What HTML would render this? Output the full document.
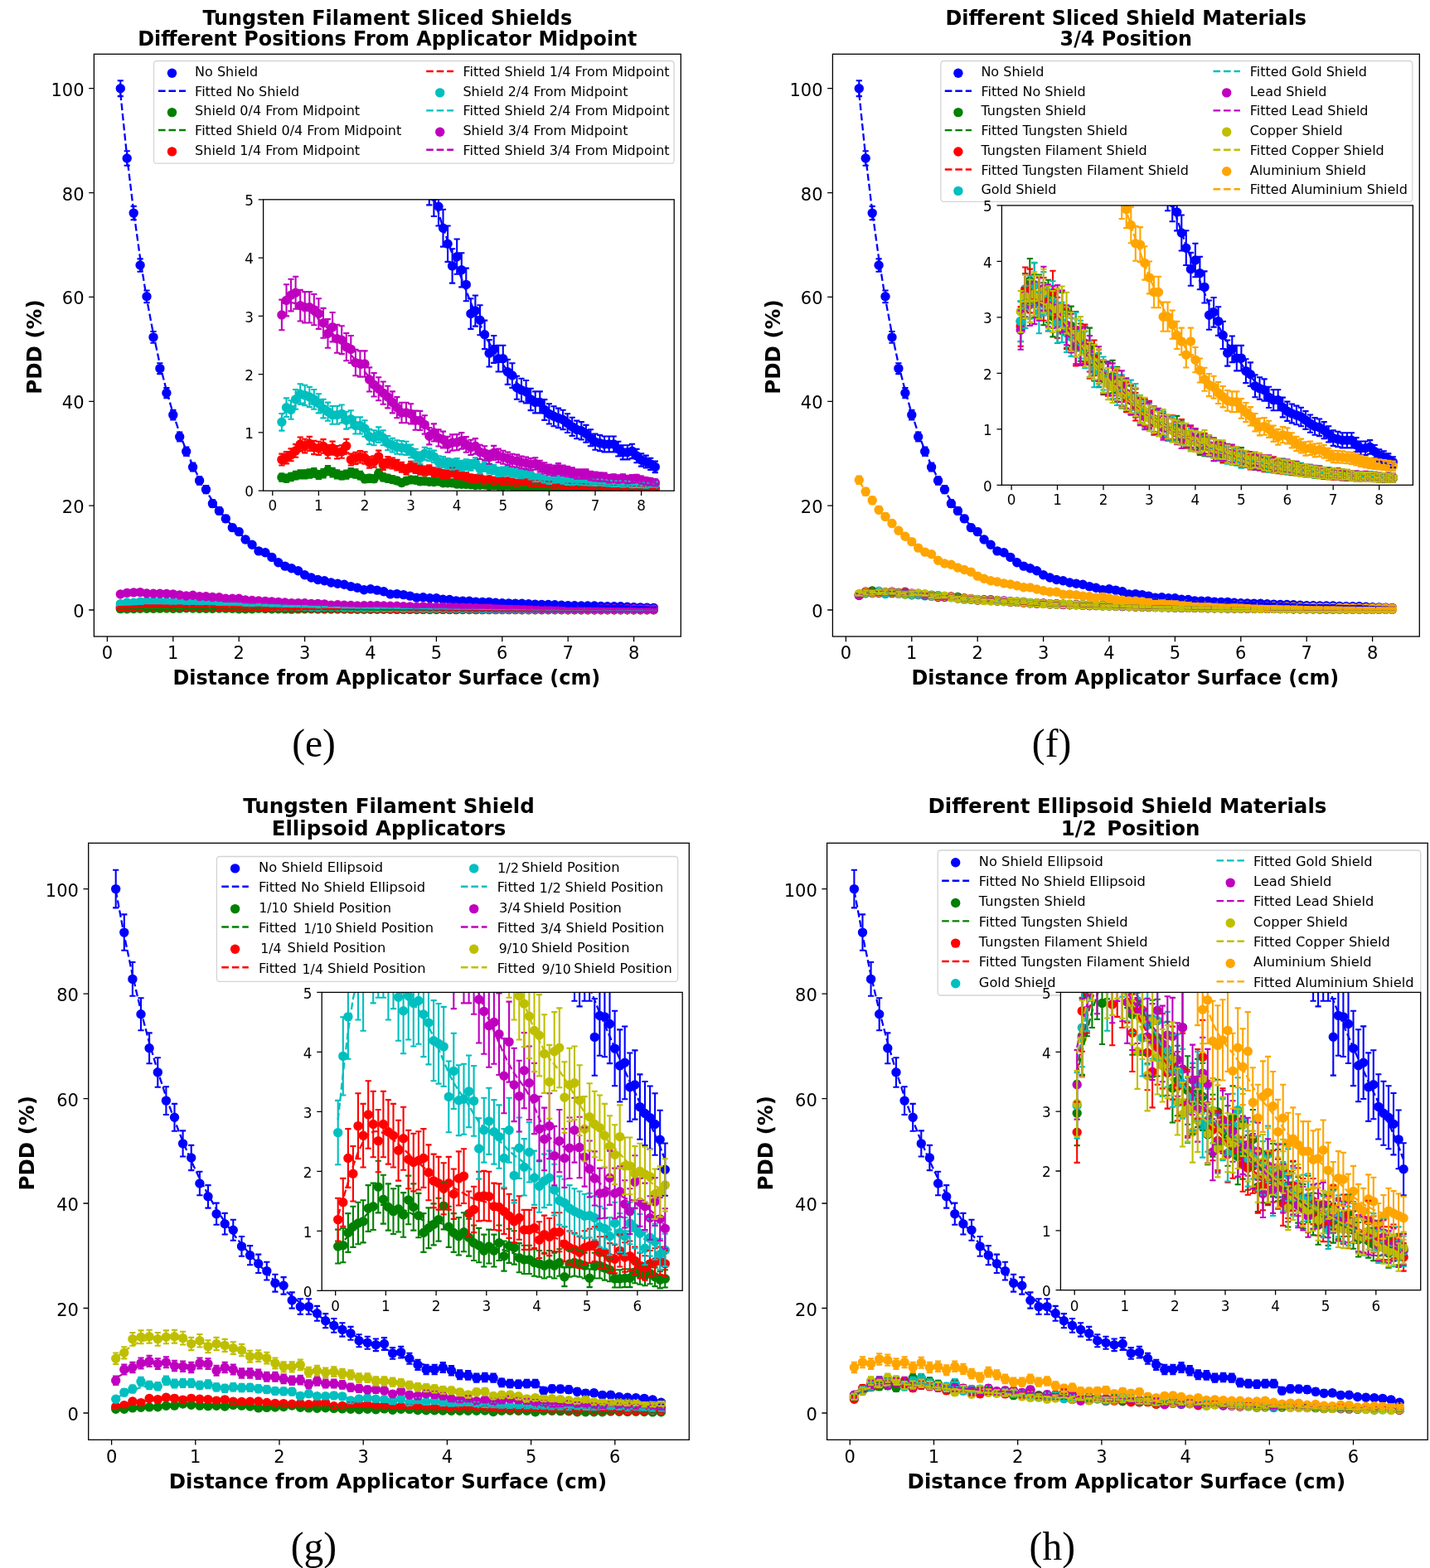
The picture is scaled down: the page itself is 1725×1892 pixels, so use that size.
<!DOCTYPE html>
<html><head><meta charset="utf-8"><title>PDD plots</title>
<style>html,body{margin:0;padding:0;background:#fff;}svg{display:block;}</style>
</head><body><svg width="1725" height="1892" viewBox="0 0 1725 1892"><defs><clipPath id="c1"><rect x="113.40" y="65.30" width="707.90" height="702.70"/></clipPath><clipPath id="c2"><rect x="317.60" y="240.80" width="495.60" height="351.40"/></clipPath><clipPath id="c3"><rect x="1004.40" y="65.30" width="707.90" height="702.70"/></clipPath><clipPath id="c4"><rect x="1208.40" y="247.90" width="496.00" height="337.40"/></clipPath><clipPath id="c5"><rect x="106.70" y="1017.30" width="724.60" height="720.00"/></clipPath><clipPath id="c6"><rect x="388.20" y="1197.40" width="435.00" height="359.90"/></clipPath><clipPath id="c7"><rect x="997.60" y="1017.30" width="724.60" height="720.00"/></clipPath><clipPath id="c8"><rect x="1279.40" y="1197.40" width="434.30" height="359.30"/></clipPath></defs><rect width="1725" height="1892" fill="#fff"/><rect x="113.40" y="65.30" width="707.90" height="702.70" fill="#fff"/><g clip-path="url(#c1)"><path d="M145.3 106.7h0M153.2 191.0h0M161.2 257.1h0M169.1 320.0h0M177.0 357.8h0M185.0 406.9h0M192.9 444.6h0M200.9 474.2h0M208.8 500.6h0M216.7 527.1h0M224.7 544.7h0M232.6 563.6h0M240.6 579.9h0M248.5 590.6h0M256.4 607.6h0M264.4 616.4h0M272.3 625.9h0M280.3 636.6h0M288.2 641.6h0M296.1 651.0h0M304.1 657.3h0M312.0 664.9h0M320.0 666.8h0M327.9 672.4h0M335.8 678.7h0M343.8 683.1h0M351.7 685.7h0M359.7 688.8h0M367.6 693.8h0M375.5 697.0h0M383.5 699.5h0M391.4 700.8h0M399.4 703.0h0M407.3 704.2h0M415.2 705.3h0M423.2 707.6h0M431.1 709.3h0M439.1 711.7h0M447.0 710.7h0M454.9 712.1h0M462.9 713.7h0M470.8 716.9h0M478.8 716.6h0M486.7 717.6h0M494.6 719.1h0M502.6 721.1h0M510.5 720.7h0M518.5 721.7h0M526.4 721.7h0M534.3 723.2h0M542.3 723.5h0M550.2 724.9h0M558.2 725.1h0M566.1 725.3h0M574.0 726.1h0M582.0 726.4h0M589.9 726.4h0M597.9 727.3h0M605.8 727.7h0M613.7 727.9h0M621.7 728.1h0M629.6 728.3h0M637.6 728.7h0M645.5 729.1h0M653.4 729.4h0M661.4 729.5h0M669.3 729.8h0M677.3 730.3h0M685.2 730.7h0M693.1 730.8h0M701.1 731.0h0M709.0 731.0h0M717.0 731.0h0M724.9 731.5h0M732.8 731.8h0M740.8 731.8h0M748.7 731.7h0M756.7 732.2h0M764.6 732.7h0M772.5 732.9h0M780.5 733.1h0M788.4 733.4h0" stroke="#0000ff" stroke-width="11.4" stroke-linecap="round"/><path d="M145.3 734.6h0M153.2 734.7h0M161.2 734.5h0M169.1 734.3h0M177.0 734.2h0M185.0 734.2h0M192.9 734.1h0M200.9 734.0h0M208.8 734.3h0M216.7 734.1h0M224.7 733.8h0M232.6 734.0h0M240.6 734.2h0M248.5 734.3h0M256.4 734.2h0M264.4 734.0h0M272.3 734.1h0M280.3 734.3h0M288.2 734.7h0M296.1 734.7h0M304.1 734.7h0M312.0 734.1h0M320.0 734.5h0M327.9 734.7h0M335.8 734.8h0M343.8 734.9h0M351.7 735.1h0M359.7 734.9h0M367.6 734.8h0M375.5 734.8h0M383.5 735.0h0M391.4 735.0h0M399.4 735.0h0M407.3 735.0h0M415.2 735.0h0M423.2 735.1h0M431.1 735.2h0M439.1 735.2h0M447.0 735.3h0M454.9 735.3h0M462.9 735.3h0M470.8 735.3h0M478.8 735.4h0M486.7 735.4h0M494.6 735.4h0M502.6 735.5h0M510.5 735.4h0M518.5 735.5h0M526.4 735.5h0M534.3 735.4h0M542.3 735.5h0M550.2 735.6h0M558.2 735.5h0M566.1 735.5h0M574.0 735.6h0M582.0 735.6h0M589.9 735.6h0M597.9 735.6h0M605.8 735.6h0M613.7 735.6h0M621.7 735.6h0M629.6 735.7h0M637.6 735.7h0M645.5 735.7h0M653.4 735.7h0M661.4 735.7h0M669.3 735.7h0M677.3 735.7h0M685.2 735.7h0M693.1 735.7h0M701.1 735.7h0M709.0 735.8h0M717.0 735.7h0M724.9 735.7h0M732.8 735.7h0M740.8 735.7h0M748.7 735.8h0M756.7 735.8h0M764.6 735.8h0M772.5 735.7h0M780.5 735.8h0M788.4 735.8h0" stroke="#008000" stroke-width="11.4" stroke-linecap="round"/><path d="M145.3 732.6h0M153.2 732.4h0M161.2 732.1h0M169.1 731.7h0M177.0 731.0h0M185.0 731.2h0M192.9 730.9h0M200.9 731.3h0M208.8 731.4h0M216.7 731.2h0M224.7 731.8h0M232.6 731.4h0M240.6 731.8h0M248.5 731.8h0M256.4 731.2h0M264.4 732.6h0M272.3 732.5h0M280.3 732.3h0M288.2 732.4h0M296.1 732.9h0M304.1 732.8h0M312.0 732.3h0M320.0 733.2h0M327.9 732.9h0M335.8 733.0h0M343.8 733.2h0M351.7 733.5h0M359.7 733.7h0M367.6 733.4h0M375.5 733.6h0M383.5 733.7h0M391.4 733.8h0M399.4 733.7h0M407.3 734.0h0M415.2 733.9h0M423.2 734.2h0M431.1 734.2h0M439.1 734.0h0M447.0 734.3h0M454.9 734.3h0M462.9 734.4h0M470.8 734.6h0M478.8 734.7h0M486.7 734.6h0M494.6 734.8h0M502.6 734.8h0M510.5 734.9h0M518.5 734.8h0M526.4 735.0h0M534.3 735.0h0M542.3 735.1h0M550.2 735.2h0M558.2 735.0h0M566.1 735.0h0M574.0 735.2h0M582.0 735.2h0M589.9 735.2h0M597.9 735.3h0M605.8 735.3h0M613.7 735.4h0M621.7 735.4h0M629.6 735.5h0M637.6 735.5h0M645.5 735.5h0M653.4 735.5h0M661.4 735.5h0M669.3 735.5h0M677.3 735.6h0M685.2 735.7h0M693.1 735.6h0M701.1 735.7h0M709.0 735.7h0M717.0 735.7h0M724.9 735.7h0M732.8 735.7h0M740.8 735.7h0M748.7 735.7h0M756.7 735.7h0M764.6 735.7h0M772.5 735.7h0M780.5 735.8h0M788.4 735.8h0" stroke="#ff0000" stroke-width="11.4" stroke-linecap="round"/><path d="M145.3 728.6h0M153.2 727.0h0M161.2 727.3h0M169.1 726.1h0M177.0 725.6h0M185.0 725.7h0M192.9 725.9h0M200.9 726.1h0M208.8 726.6h0M216.7 727.1h0M224.7 727.4h0M232.6 727.8h0M240.6 727.8h0M248.5 727.7h0M256.4 728.4h0M264.4 728.3h0M272.3 729.0h0M280.3 729.0h0M288.2 729.3h0M296.1 730.1h0M304.1 730.3h0M312.0 730.0h0M320.0 730.3h0M327.9 730.8h0M335.8 731.1h0M343.8 731.3h0M351.7 731.3h0M359.7 731.4h0M367.6 731.7h0M375.5 732.1h0M383.5 732.5h0M391.4 732.0h0M399.4 732.1h0M407.3 732.3h0M415.2 732.9h0M423.2 732.9h0M431.1 733.1h0M439.1 733.2h0M447.0 733.1h0M454.9 733.3h0M462.9 733.2h0M470.8 733.2h0M478.8 733.0h0M486.7 733.6h0M494.6 733.4h0M502.6 733.6h0M510.5 733.7h0M518.5 734.0h0M526.4 733.9h0M534.3 733.8h0M542.3 734.0h0M550.2 734.1h0M558.2 734.2h0M566.1 734.1h0M574.0 734.3h0M582.0 734.6h0M589.9 734.6h0M597.9 734.8h0M605.8 734.9h0M613.7 734.8h0M621.7 734.7h0M629.6 734.9h0M637.6 735.0h0M645.5 735.0h0M653.4 735.0h0M661.4 735.0h0M669.3 735.1h0M677.3 735.1h0M685.2 735.1h0M693.1 735.1h0M701.1 735.1h0M709.0 735.2h0M717.0 735.3h0M724.9 735.2h0M732.8 735.3h0M740.8 735.3h0M748.7 735.4h0M756.7 735.4h0M764.6 735.4h0M772.5 735.4h0M780.5 735.3h0M788.4 735.3h0" stroke="#00bfbf" stroke-width="11.4" stroke-linecap="round"/><path d="M145.3 717.0h0M153.2 715.4h0M161.2 714.9h0M169.1 714.6h0M177.0 716.0h0M185.0 716.2h0M192.9 716.2h0M200.9 716.4h0M208.8 716.9h0M216.7 717.9h0M224.7 719.0h0M232.6 718.3h0M240.6 719.6h0M248.5 719.7h0M256.4 720.5h0M264.4 720.7h0M272.3 722.2h0M280.3 722.3h0M288.2 722.3h0M296.1 724.0h0M304.1 724.5h0M312.0 725.0h0M320.0 725.4h0M327.9 725.9h0M335.8 726.4h0M343.8 727.0h0M351.7 727.6h0M359.7 727.6h0M367.6 727.7h0M375.5 728.4h0M383.5 728.4h0M391.4 728.9h0M399.4 730.1h0M407.3 729.7h0M415.2 730.3h0M423.2 730.5h0M431.1 731.0h0M439.1 730.8h0M447.0 730.8h0M454.9 730.6h0M462.9 731.0h0M470.8 731.3h0M478.8 731.2h0M486.7 731.8h0M494.6 731.9h0M502.6 732.4h0M510.5 731.9h0M518.5 732.2h0M526.4 732.4h0M534.3 732.5h0M542.3 732.7h0M550.2 732.8h0M558.2 732.9h0M566.1 733.0h0M574.0 733.1h0M582.0 733.1h0M589.9 733.3h0M597.9 733.6h0M605.8 733.7h0M613.7 733.8h0M621.7 733.6h0M629.6 733.8h0M637.6 733.9h0M645.5 734.0h0M653.4 734.2h0M661.4 734.2h0M669.3 734.2h0M677.3 734.4h0M685.2 734.4h0M693.1 734.5h0M701.1 734.5h0M709.0 734.7h0M717.0 734.6h0M724.9 734.7h0M732.8 734.6h0M740.8 734.8h0M748.7 734.7h0M756.7 734.7h0M764.6 734.8h0M772.5 735.0h0M780.5 735.0h0M788.4 735.1h0" stroke="#bf00bf" stroke-width="11.4" stroke-linecap="round"/><path d="M141.7 116.1h7.2m-3.6 0V97.3m-3.6 0h7.2M149.6 199.8h7.2m-3.6 0V182.2m-3.6 0h7.2M157.6 265.3h7.2m-3.6 0V248.9m-3.6 0h7.2M165.5 327.7h7.2m-3.6 0V312.4m-3.6 0h7.2M173.4 365.1h7.2m-3.6 0V350.5m-3.6 0h7.2M181.4 413.7h7.2m-3.6 0V400.0m-3.6 0h7.2M189.3 451.1h7.2m-3.6 0V438.2m-3.6 0h7.2M197.3 480.3h7.2m-3.6 0V468.1m-3.6 0h7.2M205.2 506.4h7.2m-3.6 0V494.9m-3.6 0h7.2M213.1 532.5h7.2m-3.6 0V521.6m-3.6 0h7.2M221.1 549.9h7.2m-3.6 0V539.5m-3.6 0h7.2M229.0 568.5h7.2m-3.6 0V558.6m-3.6 0h7.2M237.0 584.6h7.2m-3.6 0V575.2m-3.6 0h7.2M244.9 595.2h7.2m-3.6 0V586.1m-3.6 0h7.2M252.8 611.9h7.2m-3.6 0V603.4m-3.6 0h7.2M260.8 620.5h7.2m-3.6 0V612.3m-3.6 0h7.2M268.7 629.8h7.2m-3.6 0V621.9m-3.6 0h7.2M276.7 640.3h7.2m-3.6 0V632.8m-3.6 0h7.2M284.6 645.3h7.2m-3.6 0V637.9m-3.6 0h7.2M292.5 654.5h7.2m-3.6 0V647.6m-3.6 0h7.2M300.5 660.7h7.2m-3.6 0V654.0m-3.6 0h7.2M308.4 668.1h7.2m-3.6 0V661.7m-3.6 0h7.2M316.4 669.9h7.2m-3.6 0V663.6m-3.6 0h7.2M324.3 675.4h7.2m-3.6 0V669.4m-3.6 0h7.2M332.2 681.6h7.2m-3.6 0V675.9m-3.6 0h7.2M340.2 685.9h7.2m-3.6 0V680.4m-3.6 0h7.2M348.1 688.3h7.2m-3.6 0V683.0m-3.6 0h7.2M356.1 691.4h7.2m-3.6 0V686.2m-3.6 0h7.2M364.0 696.3h7.2m-3.6 0V691.4m-3.6 0h7.2M371.9 699.3h7.2m-3.6 0V694.6m-3.6 0h7.2M379.9 701.8h7.2m-3.6 0V697.2m-3.6 0h7.2M387.8 703.0h7.2m-3.6 0V698.5m-3.6 0h7.2M395.8 705.1h7.2m-3.6 0V700.8m-3.6 0h7.2M403.7 706.3h7.2m-3.6 0V702.1m-3.6 0h7.2M411.6 707.4h7.2m-3.6 0V703.2m-3.6 0h7.2M419.6 709.6h7.2m-3.6 0V705.6m-3.6 0h7.2M427.5 711.3h7.2m-3.6 0V707.4m-3.6 0h7.2M435.5 713.6h7.2m-3.6 0V709.9m-3.6 0h7.2M443.4 712.6h7.2m-3.6 0V708.8m-3.6 0h7.2M451.3 714.0h7.2m-3.6 0V710.3m-3.6 0h7.2M459.3 715.5h7.2m-3.6 0V711.9m-3.6 0h7.2M467.2 718.5h7.2m-3.6 0V715.2m-3.6 0h7.2M475.2 718.2h7.2m-3.6 0V714.9m-3.6 0h7.2M483.1 719.2h7.2m-3.6 0V715.9m-3.6 0h7.2M491.0 720.7h7.2m-3.6 0V717.6m-3.6 0h7.2M499.0 722.6h7.2m-3.6 0V719.7m-3.6 0h7.2M506.9 722.2h7.2m-3.6 0V719.2m-3.6 0h7.2M514.9 723.1h7.2m-3.6 0V720.3m-3.6 0h7.2M522.8 723.1h7.2m-3.6 0V720.3m-3.6 0h7.2M530.7 724.5h7.2m-3.6 0V721.8m-3.6 0h7.2M538.7 724.9h7.2m-3.6 0V722.2m-3.6 0h7.2M546.6 726.1h7.2m-3.6 0V723.6m-3.6 0h7.2M554.6 726.4h7.2m-3.6 0V723.9m-3.6 0h7.2M562.5 726.5h7.2m-3.6 0V724.1m-3.6 0h7.2M570.4 727.3h7.2m-3.6 0V724.9m-3.6 0h7.2M578.4 727.6h7.2m-3.6 0V725.3m-3.6 0h7.2M586.3 727.6h7.2m-3.6 0V725.3m-3.6 0h7.2M594.3 728.4h7.2m-3.6 0V726.1m-3.6 0h7.2M602.2 728.8h7.2m-3.6 0V726.6m-3.6 0h7.2M610.1 729.0h7.2m-3.6 0V726.9m-3.6 0h7.2M618.1 729.2h7.2m-3.6 0V727.1m-3.6 0h7.2M626.0 729.4h7.2m-3.6 0V727.3m-3.6 0h7.2M634.0 729.7h7.2m-3.6 0V727.7m-3.6 0h7.2M641.9 730.1h7.2m-3.6 0V728.1m-3.6 0h7.2M649.8 730.4h7.2m-3.6 0V728.4m-3.6 0h7.2M657.8 730.5h7.2m-3.6 0V728.6m-3.6 0h7.2M665.7 730.8h7.2m-3.6 0V728.9m-3.6 0h7.2M673.7 731.2h7.2m-3.6 0V729.4m-3.6 0h7.2M681.6 731.6h7.2m-3.6 0V729.8m-3.6 0h7.2M689.5 731.7h7.2m-3.6 0V730.0m-3.6 0h7.2M697.5 731.8h7.2m-3.6 0V730.1m-3.6 0h7.2M705.4 731.8h7.2m-3.6 0V730.1m-3.6 0h7.2M713.4 731.8h7.2m-3.6 0V730.1m-3.6 0h7.2M721.3 732.3h7.2m-3.6 0V730.7m-3.6 0h7.2M729.2 732.6h7.2m-3.6 0V731.1m-3.6 0h7.2M737.2 732.6h7.2m-3.6 0V731.1m-3.6 0h7.2M745.1 732.5h7.2m-3.6 0V730.9m-3.6 0h7.2M753.1 733.0h7.2m-3.6 0V731.5m-3.6 0h7.2M761.0 733.4h7.2m-3.6 0V732.0m-3.6 0h7.2M768.9 733.5h7.2m-3.6 0V732.2m-3.6 0h7.2M776.9 733.7h7.2m-3.6 0V732.5m-3.6 0h7.2M784.8 734.0h7.2m-3.6 0V732.8m-3.6 0h7.2" stroke="#0000ff" stroke-width="2.1" fill="none"/><polyline points="145.3,112.6 153.2,189.1 161.2,254.9 169.1,311.6 177.0,360.6 185.0,403.0 192.9,439.7 200.9,471.4 208.8,499.0 216.7,522.8 224.7,543.6 232.6,561.8 240.6,577.9 248.5,592.0 256.4,604.6 264.4,615.8 272.3,625.8 280.3,634.8 288.2,642.9 296.1,650.2 304.1,656.8 312.0,662.8 320.0,668.3 327.9,673.3 335.8,677.9 343.8,682.2 351.7,686.1 359.7,689.7 367.6,693.0 375.5,695.9 383.5,698.4 391.4,700.6 399.4,702.5 407.3,704.3 415.2,706.0 423.2,707.6 431.1,709.0 439.1,710.4 447.0,711.8 454.9,713.1 462.9,714.4 470.8,715.7 478.8,716.9 486.7,718.0 494.6,719.1 502.6,720.0 510.5,720.9 518.5,721.6 526.4,722.4 534.3,723.1 542.3,723.7 550.2,724.4 558.2,724.9 566.1,725.5 574.0,725.9 582.0,726.4 589.9,726.8 597.9,727.1 605.8,727.5 613.7,727.8 621.7,728.2 629.6,728.5 637.6,728.8 645.5,729.1 653.4,729.4 661.4,729.7 669.3,730.0 677.3,730.2 685.2,730.5 693.1,730.7 701.1,730.9 709.0,731.1 717.0,731.3 724.9,731.5 732.8,731.7 740.8,731.9 748.7,732.1 756.7,732.4 764.6,732.6 772.5,732.9 780.5,733.1 788.4,733.4" stroke="#0000ff" stroke-width="2.3" fill="none" stroke-dasharray="8.5 3.7"/><path d="M141.7 735.0h7.2m-3.6 0V734.1m-3.6 0h7.2M149.6 735.0h7.2m-3.6 0V734.3m-3.6 0h7.2M157.6 734.9h7.2m-3.6 0V734.1m-3.6 0h7.2M165.5 734.8h7.2m-3.6 0V733.9m-3.6 0h7.2M173.4 734.7h7.2m-3.6 0V733.8m-3.6 0h7.2M181.4 734.7h7.2m-3.6 0V733.8m-3.6 0h7.2M189.3 734.6h7.2m-3.6 0V733.7m-3.6 0h7.2M197.3 734.5h7.2m-3.6 0V733.6m-3.6 0h7.2M205.2 734.7h7.2m-3.6 0V733.8m-3.6 0h7.2M213.1 734.6h7.2m-3.6 0V733.7m-3.6 0h7.2M221.1 734.3h7.2m-3.6 0V733.3m-3.6 0h7.2M229.0 734.5h7.2m-3.6 0V733.5m-3.6 0h7.2M237.0 734.7h7.2m-3.6 0V733.8m-3.6 0h7.2M244.9 734.8h7.2m-3.6 0V733.9m-3.6 0h7.2M252.8 734.7h7.2m-3.6 0V733.8m-3.6 0h7.2M260.8 734.5h7.2m-3.6 0V733.6m-3.6 0h7.2M268.7 734.6h7.2m-3.6 0V733.7m-3.6 0h7.2M276.7 734.8h7.2m-3.6 0V733.9m-3.6 0h7.2M284.6 735.1h7.2m-3.6 0V734.3m-3.6 0h7.2M292.5 735.1h7.2m-3.6 0V734.3m-3.6 0h7.2M300.5 735.1h7.2m-3.6 0V734.3m-3.6 0h7.2M308.4 734.6h7.2m-3.6 0V733.7m-3.6 0h7.2M316.4 734.9h7.2m-3.6 0V734.1m-3.6 0h7.2M324.3 735.0h7.2m-3.6 0V734.3m-3.6 0h7.2M332.2 735.2h7.2m-3.6 0V734.4m-3.6 0h7.2M340.2 735.3h7.2m-3.6 0V734.6m-3.6 0h7.2M348.1 735.4h7.2m-3.6 0V734.8m-3.6 0h7.2M356.1 735.3h7.2m-3.6 0V734.6m-3.6 0h7.2M364.0 735.2h7.2m-3.6 0V734.4m-3.6 0h7.2M371.9 735.2h7.2m-3.6 0V734.5m-3.6 0h7.2M379.9 735.3h7.2m-3.6 0V734.6m-3.6 0h7.2M387.8 735.3h7.2m-3.6 0V734.6m-3.6 0h7.2M395.8 735.4h7.2m-3.6 0V734.7m-3.6 0h7.2M403.7 735.4h7.2m-3.6 0V734.7m-3.6 0h7.2M411.6 735.3h7.2m-3.6 0V734.6m-3.6 0h7.2M419.6 735.5h7.2m-3.6 0V734.8m-3.6 0h7.2M427.5 735.5h7.2m-3.6 0V734.8m-3.6 0h7.2M435.5 735.5h7.2m-3.6 0V734.8m-3.6 0h7.2M443.4 735.6h7.2m-3.6 0V735.0m-3.6 0h7.2M451.3 735.6h7.2m-3.6 0V735.0m-3.6 0h7.2M459.3 735.6h7.2m-3.6 0V735.0m-3.6 0h7.2M467.2 735.6h7.2m-3.6 0V735.1m-3.6 0h7.2M475.2 735.7h7.2m-3.6 0V735.1m-3.6 0h7.2M483.1 735.6h7.2m-3.6 0V735.1m-3.6 0h7.2M491.0 735.6h7.2m-3.6 0V735.1m-3.6 0h7.2M499.0 735.7h7.2m-3.6 0V735.2m-3.6 0h7.2M506.9 735.7h7.2m-3.6 0V735.2m-3.6 0h7.2M514.9 735.7h7.2m-3.6 0V735.2m-3.6 0h7.2M522.8 735.8h7.2m-3.6 0V735.3m-3.6 0h7.2M530.7 735.7h7.2m-3.6 0V735.2m-3.6 0h7.2M538.7 735.7h7.2m-3.6 0V735.3m-3.6 0h7.2M546.6 735.8h7.2m-3.6 0V735.3m-3.6 0h7.2M554.6 735.8h7.2m-3.6 0V735.3m-3.6 0h7.2M562.5 735.8h7.2m-3.6 0V735.3m-3.6 0h7.2M570.4 735.8h7.2m-3.6 0V735.4m-3.6 0h7.2M578.4 735.8h7.2m-3.6 0V735.3m-3.6 0h7.2M586.3 735.8h7.2m-3.6 0V735.4m-3.6 0h7.2M594.3 735.8h7.2m-3.6 0V735.4m-3.6 0h7.2M602.2 735.8h7.2m-3.6 0V735.4m-3.6 0h7.2M610.1 735.8h7.2m-3.6 0V735.4m-3.6 0h7.2M618.1 735.8h7.2m-3.6 0V735.4m-3.6 0h7.2M626.0 735.9h7.2m-3.6 0V735.5m-3.6 0h7.2M634.0 735.9h7.2m-3.6 0V735.5m-3.6 0h7.2M641.9 735.9h7.2m-3.6 0V735.5m-3.6 0h7.2M649.8 735.9h7.2m-3.6 0V735.5m-3.6 0h7.2M657.8 735.9h7.2m-3.6 0V735.5m-3.6 0h7.2M665.7 735.9h7.2m-3.6 0V735.5m-3.6 0h7.2M673.7 735.9h7.2m-3.6 0V735.5m-3.6 0h7.2M681.6 735.9h7.2m-3.6 0V735.5m-3.6 0h7.2M689.5 735.9h7.2m-3.6 0V735.5m-3.6 0h7.2M697.5 735.9h7.2m-3.6 0V735.5m-3.6 0h7.2M705.4 735.9h7.2m-3.6 0V735.6m-3.6 0h7.2M713.4 735.9h7.2m-3.6 0V735.6m-3.6 0h7.2M721.3 735.9h7.2m-3.6 0V735.6m-3.6 0h7.2M729.2 735.9h7.2m-3.6 0V735.5m-3.6 0h7.2M737.2 735.9h7.2m-3.6 0V735.6m-3.6 0h7.2M745.1 735.9h7.2m-3.6 0V735.6m-3.6 0h7.2M753.1 735.9h7.2m-3.6 0V735.6m-3.6 0h7.2M761.0 735.9h7.2m-3.6 0V735.6m-3.6 0h7.2M768.9 735.9h7.2m-3.6 0V735.6m-3.6 0h7.2M776.9 735.9h7.2m-3.6 0V735.6m-3.6 0h7.2M784.8 735.9h7.2m-3.6 0V735.6m-3.6 0h7.2" stroke="#008000" stroke-width="2.1" fill="none"/><polyline points="145.3,734.6 153.2,734.5 161.2,734.5 169.1,734.4 177.0,734.3 185.0,734.3 192.9,734.2 200.9,734.2 208.8,734.2 216.7,734.2 224.7,734.2 232.6,734.2 240.6,734.2 248.5,734.2 256.4,734.3 264.4,734.3 272.3,734.3 280.3,734.4 288.2,734.5 296.1,734.5 304.1,734.6 312.0,734.6 320.0,734.7 327.9,734.7 335.8,734.8 343.8,734.8 351.7,734.9 359.7,734.9 367.6,734.9 375.5,734.9 383.5,735.0 391.4,735.0 399.4,735.0 407.3,735.1 415.2,735.1 423.2,735.1 431.1,735.2 439.1,735.2 447.0,735.2 454.9,735.3 462.9,735.3 470.8,735.3 478.8,735.4 486.7,735.4 494.6,735.4 502.6,735.4 510.5,735.4 518.5,735.5 526.4,735.5 534.3,735.5 542.3,735.5 550.2,735.5 558.2,735.5 566.1,735.6 574.0,735.6 582.0,735.6 589.9,735.6 597.9,735.6 605.8,735.6 613.7,735.6 621.7,735.6 629.6,735.6 637.6,735.7 645.5,735.7 653.4,735.7 661.4,735.7 669.3,735.7 677.3,735.7 685.2,735.7 693.1,735.7 701.1,735.7 709.0,735.7 717.0,735.7 724.9,735.7 732.8,735.7 740.8,735.7 748.7,735.8 756.7,735.8 764.6,735.8 772.5,735.8 780.5,735.8 788.4,735.8" stroke="#008000" stroke-width="2.3" fill="none" stroke-dasharray="8.5 3.7"/><path d="M141.7 733.3h7.2m-3.6 0V732.0m-3.6 0h7.2M149.6 733.1h7.2m-3.6 0V731.8m-3.6 0h7.2M157.6 732.8h7.2m-3.6 0V731.5m-3.6 0h7.2M165.5 732.4h7.2m-3.6 0V731.0m-3.6 0h7.2M173.4 731.7h7.2m-3.6 0V730.2m-3.6 0h7.2M181.4 731.9h7.2m-3.6 0V730.4m-3.6 0h7.2M189.3 731.7h7.2m-3.6 0V730.2m-3.6 0h7.2M197.3 732.0h7.2m-3.6 0V730.6m-3.6 0h7.2M205.2 732.1h7.2m-3.6 0V730.7m-3.6 0h7.2M213.1 731.9h7.2m-3.6 0V730.4m-3.6 0h7.2M221.1 732.5h7.2m-3.6 0V731.1m-3.6 0h7.2M229.0 732.1h7.2m-3.6 0V730.7m-3.6 0h7.2M237.0 732.5h7.2m-3.6 0V731.2m-3.6 0h7.2M244.9 732.5h7.2m-3.6 0V731.1m-3.6 0h7.2M252.8 731.9h7.2m-3.6 0V730.4m-3.6 0h7.2M260.8 733.3h7.2m-3.6 0V732.0m-3.6 0h7.2M268.7 733.1h7.2m-3.6 0V731.8m-3.6 0h7.2M276.7 733.0h7.2m-3.6 0V731.7m-3.6 0h7.2M284.6 733.1h7.2m-3.6 0V731.8m-3.6 0h7.2M292.5 733.5h7.2m-3.6 0V732.3m-3.6 0h7.2M300.5 733.4h7.2m-3.6 0V732.2m-3.6 0h7.2M308.4 732.9h7.2m-3.6 0V731.6m-3.6 0h7.2M316.4 733.7h7.2m-3.6 0V732.6m-3.6 0h7.2M324.3 733.5h7.2m-3.6 0V732.3m-3.6 0h7.2M332.2 733.6h7.2m-3.6 0V732.4m-3.6 0h7.2M340.2 733.8h7.2m-3.6 0V732.7m-3.6 0h7.2M348.1 734.0h7.2m-3.6 0V732.9m-3.6 0h7.2M356.1 734.2h7.2m-3.6 0V733.2m-3.6 0h7.2M364.0 733.9h7.2m-3.6 0V732.8m-3.6 0h7.2M371.9 734.1h7.2m-3.6 0V733.1m-3.6 0h7.2M379.9 734.2h7.2m-3.6 0V733.2m-3.6 0h7.2M387.8 734.3h7.2m-3.6 0V733.3m-3.6 0h7.2M395.8 734.2h7.2m-3.6 0V733.2m-3.6 0h7.2M403.7 734.5h7.2m-3.6 0V733.5m-3.6 0h7.2M411.6 734.4h7.2m-3.6 0V733.5m-3.6 0h7.2M419.6 734.6h7.2m-3.6 0V733.7m-3.6 0h7.2M427.5 734.6h7.2m-3.6 0V733.7m-3.6 0h7.2M435.5 734.5h7.2m-3.6 0V733.5m-3.6 0h7.2M443.4 734.7h7.2m-3.6 0V733.8m-3.6 0h7.2M451.3 734.8h7.2m-3.6 0V733.9m-3.6 0h7.2M459.3 734.9h7.2m-3.6 0V734.0m-3.6 0h7.2M467.2 735.0h7.2m-3.6 0V734.2m-3.6 0h7.2M475.2 735.1h7.2m-3.6 0V734.3m-3.6 0h7.2M483.1 735.0h7.2m-3.6 0V734.2m-3.6 0h7.2M491.0 735.2h7.2m-3.6 0V734.5m-3.6 0h7.2M499.0 735.2h7.2m-3.6 0V734.4m-3.6 0h7.2M506.9 735.3h7.2m-3.6 0V734.6m-3.6 0h7.2M514.9 735.2h7.2m-3.6 0V734.5m-3.6 0h7.2M522.8 735.3h7.2m-3.6 0V734.6m-3.6 0h7.2M530.7 735.3h7.2m-3.6 0V734.6m-3.6 0h7.2M538.7 735.4h7.2m-3.6 0V734.7m-3.6 0h7.2M546.6 735.5h7.2m-3.6 0V734.9m-3.6 0h7.2M554.6 735.3h7.2m-3.6 0V734.7m-3.6 0h7.2M562.5 735.4h7.2m-3.6 0V734.7m-3.6 0h7.2M570.4 735.5h7.2m-3.6 0V734.9m-3.6 0h7.2M578.4 735.5h7.2m-3.6 0V734.9m-3.6 0h7.2M586.3 735.5h7.2m-3.6 0V735.0m-3.6 0h7.2M594.3 735.6h7.2m-3.6 0V735.0m-3.6 0h7.2M602.2 735.6h7.2m-3.6 0V735.0m-3.6 0h7.2M610.1 735.7h7.2m-3.6 0V735.2m-3.6 0h7.2M618.1 735.6h7.2m-3.6 0V735.1m-3.6 0h7.2M626.0 735.7h7.2m-3.6 0V735.3m-3.6 0h7.2M634.0 735.7h7.2m-3.6 0V735.2m-3.6 0h7.2M641.9 735.8h7.2m-3.6 0V735.3m-3.6 0h7.2M649.8 735.7h7.2m-3.6 0V735.3m-3.6 0h7.2M657.8 735.7h7.2m-3.6 0V735.3m-3.6 0h7.2M665.7 735.8h7.2m-3.6 0V735.3m-3.6 0h7.2M673.7 735.8h7.2m-3.6 0V735.4m-3.6 0h7.2M681.6 735.9h7.2m-3.6 0V735.5m-3.6 0h7.2M689.5 735.8h7.2m-3.6 0V735.4m-3.6 0h7.2M697.5 735.9h7.2m-3.6 0V735.5m-3.6 0h7.2M705.4 735.9h7.2m-3.6 0V735.5m-3.6 0h7.2M713.4 735.9h7.2m-3.6 0V735.5m-3.6 0h7.2M721.3 735.9h7.2m-3.6 0V735.5m-3.6 0h7.2M729.2 735.9h7.2m-3.6 0V735.6m-3.6 0h7.2M737.2 735.9h7.2m-3.6 0V735.5m-3.6 0h7.2M745.1 735.9h7.2m-3.6 0V735.5m-3.6 0h7.2M753.1 735.9h7.2m-3.6 0V735.5m-3.6 0h7.2M761.0 735.9h7.2m-3.6 0V735.6m-3.6 0h7.2M768.9 735.9h7.2m-3.6 0V735.6m-3.6 0h7.2M776.9 735.9h7.2m-3.6 0V735.6m-3.6 0h7.2M784.8 735.9h7.2m-3.6 0V735.6m-3.6 0h7.2" stroke="#ff0000" stroke-width="2.1" fill="none"/><polyline points="145.3,732.5 153.2,732.3 161.2,732.0 169.1,731.8 177.0,731.7 185.0,731.5 192.9,731.5 200.9,731.4 208.8,731.5 216.7,731.5 224.7,731.6 232.6,731.7 240.6,731.8 248.5,731.9 256.4,732.0 264.4,732.2 272.3,732.3 280.3,732.4 288.2,732.5 296.1,732.6 304.1,732.7 312.0,732.8 320.0,732.9 327.9,733.1 335.8,733.2 343.8,733.3 351.7,733.4 359.7,733.5 367.6,733.5 375.5,733.6 383.5,733.7 391.4,733.8 399.4,733.9 407.3,733.9 415.2,734.0 423.2,734.1 431.1,734.2 439.1,734.2 447.0,734.3 454.9,734.4 462.9,734.5 470.8,734.6 478.8,734.6 486.7,734.7 494.6,734.8 502.6,734.8 510.5,734.9 518.5,734.9 526.4,735.0 534.3,735.0 542.3,735.0 550.2,735.1 558.2,735.1 566.1,735.1 574.0,735.2 582.0,735.2 589.9,735.3 597.9,735.3 605.8,735.3 613.7,735.4 621.7,735.4 629.6,735.4 637.6,735.5 645.5,735.5 653.4,735.5 661.4,735.5 669.3,735.6 677.3,735.6 685.2,735.6 693.1,735.6 701.1,735.6 709.0,735.7 717.0,735.7 724.9,735.7 732.8,735.7 740.8,735.7 748.7,735.7 756.7,735.7 764.6,735.7 772.5,735.7 780.5,735.8 788.4,735.8" stroke="#ff0000" stroke-width="2.3" fill="none" stroke-dasharray="8.5 3.7"/><path d="M141.7 729.5h7.2m-3.6 0V727.7m-3.6 0h7.2M149.6 728.0h7.2m-3.6 0V726.0m-3.6 0h7.2M157.6 728.3h7.2m-3.6 0V726.3m-3.6 0h7.2M165.5 727.2h7.2m-3.6 0V725.1m-3.6 0h7.2M173.4 726.6h7.2m-3.6 0V724.5m-3.6 0h7.2M181.4 726.8h7.2m-3.6 0V724.6m-3.6 0h7.2M189.3 726.9h7.2m-3.6 0V724.8m-3.6 0h7.2M197.3 727.2h7.2m-3.6 0V725.1m-3.6 0h7.2M205.2 727.6h7.2m-3.6 0V725.5m-3.6 0h7.2M213.1 728.1h7.2m-3.6 0V726.1m-3.6 0h7.2M221.1 728.4h7.2m-3.6 0V726.5m-3.6 0h7.2M229.0 728.8h7.2m-3.6 0V726.9m-3.6 0h7.2M237.0 728.8h7.2m-3.6 0V726.9m-3.6 0h7.2M244.9 728.7h7.2m-3.6 0V726.7m-3.6 0h7.2M252.8 729.3h7.2m-3.6 0V727.5m-3.6 0h7.2M260.8 729.2h7.2m-3.6 0V727.3m-3.6 0h7.2M268.7 729.9h7.2m-3.6 0V728.1m-3.6 0h7.2M276.7 729.9h7.2m-3.6 0V728.1m-3.6 0h7.2M284.6 730.1h7.2m-3.6 0V728.4m-3.6 0h7.2M292.5 731.0h7.2m-3.6 0V729.3m-3.6 0h7.2M300.5 731.1h7.2m-3.6 0V729.5m-3.6 0h7.2M308.4 730.8h7.2m-3.6 0V729.1m-3.6 0h7.2M316.4 731.1h7.2m-3.6 0V729.5m-3.6 0h7.2M324.3 731.6h7.2m-3.6 0V730.1m-3.6 0h7.2M332.2 731.8h7.2m-3.6 0V730.3m-3.6 0h7.2M340.2 732.0h7.2m-3.6 0V730.5m-3.6 0h7.2M348.1 732.1h7.2m-3.6 0V730.6m-3.6 0h7.2M356.1 732.1h7.2m-3.6 0V730.7m-3.6 0h7.2M364.0 732.4h7.2m-3.6 0V731.0m-3.6 0h7.2M371.9 732.8h7.2m-3.6 0V731.5m-3.6 0h7.2M379.9 733.1h7.2m-3.6 0V731.8m-3.6 0h7.2M387.8 732.7h7.2m-3.6 0V731.3m-3.6 0h7.2M395.8 732.8h7.2m-3.6 0V731.4m-3.6 0h7.2M403.7 733.0h7.2m-3.6 0V731.7m-3.6 0h7.2M411.6 733.5h7.2m-3.6 0V732.3m-3.6 0h7.2M419.6 733.5h7.2m-3.6 0V732.3m-3.6 0h7.2M427.5 733.7h7.2m-3.6 0V732.5m-3.6 0h7.2M435.5 733.7h7.2m-3.6 0V732.6m-3.6 0h7.2M443.4 733.7h7.2m-3.6 0V732.5m-3.6 0h7.2M451.3 733.9h7.2m-3.6 0V732.7m-3.6 0h7.2M459.3 733.7h7.2m-3.6 0V732.6m-3.6 0h7.2M467.2 733.8h7.2m-3.6 0V732.7m-3.6 0h7.2M475.2 733.6h7.2m-3.6 0V732.4m-3.6 0h7.2M483.1 734.1h7.2m-3.6 0V733.1m-3.6 0h7.2M491.0 733.9h7.2m-3.6 0V732.8m-3.6 0h7.2M499.0 734.1h7.2m-3.6 0V733.1m-3.6 0h7.2M506.9 734.2h7.2m-3.6 0V733.2m-3.6 0h7.2M514.9 734.4h7.2m-3.6 0V733.5m-3.6 0h7.2M522.8 734.4h7.2m-3.6 0V733.4m-3.6 0h7.2M530.7 734.3h7.2m-3.6 0V733.4m-3.6 0h7.2M538.7 734.5h7.2m-3.6 0V733.6m-3.6 0h7.2M546.6 734.6h7.2m-3.6 0V733.6m-3.6 0h7.2M554.6 734.7h7.2m-3.6 0V733.7m-3.6 0h7.2M562.5 734.6h7.2m-3.6 0V733.6m-3.6 0h7.2M570.4 734.8h7.2m-3.6 0V733.9m-3.6 0h7.2M578.4 735.0h7.2m-3.6 0V734.2m-3.6 0h7.2M586.3 735.0h7.2m-3.6 0V734.2m-3.6 0h7.2M594.3 735.1h7.2m-3.6 0V734.4m-3.6 0h7.2M602.2 735.3h7.2m-3.6 0V734.6m-3.6 0h7.2M610.1 735.2h7.2m-3.6 0V734.4m-3.6 0h7.2M618.1 735.1h7.2m-3.6 0V734.3m-3.6 0h7.2M626.0 735.2h7.2m-3.6 0V734.5m-3.6 0h7.2M634.0 735.3h7.2m-3.6 0V734.7m-3.6 0h7.2M641.9 735.4h7.2m-3.6 0V734.7m-3.6 0h7.2M649.8 735.3h7.2m-3.6 0V734.6m-3.6 0h7.2M657.8 735.4h7.2m-3.6 0V734.7m-3.6 0h7.2M665.7 735.4h7.2m-3.6 0V734.7m-3.6 0h7.2M673.7 735.4h7.2m-3.6 0V734.8m-3.6 0h7.2M681.6 735.4h7.2m-3.6 0V734.8m-3.6 0h7.2M689.5 735.4h7.2m-3.6 0V734.8m-3.6 0h7.2M697.5 735.5h7.2m-3.6 0V734.8m-3.6 0h7.2M705.4 735.5h7.2m-3.6 0V734.9m-3.6 0h7.2M713.4 735.6h7.2m-3.6 0V735.0m-3.6 0h7.2M721.3 735.5h7.2m-3.6 0V734.9m-3.6 0h7.2M729.2 735.6h7.2m-3.6 0V735.0m-3.6 0h7.2M737.2 735.5h7.2m-3.6 0V735.0m-3.6 0h7.2M745.1 735.6h7.2m-3.6 0V735.1m-3.6 0h7.2M753.1 735.6h7.2m-3.6 0V735.1m-3.6 0h7.2M761.0 735.6h7.2m-3.6 0V735.1m-3.6 0h7.2M768.9 735.7h7.2m-3.6 0V735.2m-3.6 0h7.2M776.9 735.6h7.2m-3.6 0V735.0m-3.6 0h7.2M784.8 735.6h7.2m-3.6 0V735.0m-3.6 0h7.2" stroke="#00bfbf" stroke-width="2.1" fill="none"/><polyline points="145.3,727.8 153.2,727.4 161.2,727.0 169.1,726.7 177.0,726.6 185.0,726.5 192.9,726.6 200.9,726.7 208.8,726.9 216.7,727.1 224.7,727.3 232.6,727.6 240.6,727.8 248.5,728.1 256.4,728.4 264.4,728.6 272.3,728.9 280.3,729.2 288.2,729.5 296.1,729.7 304.1,730.0 312.0,730.3 320.0,730.5 327.9,730.7 335.8,731.0 343.8,731.2 351.7,731.4 359.7,731.6 367.6,731.8 375.5,731.9 383.5,732.1 391.4,732.2 399.4,732.4 407.3,732.5 415.2,732.7 423.2,732.8 431.1,732.9 439.1,733.0 447.0,733.1 454.9,733.2 462.9,733.2 470.8,733.3 478.8,733.4 486.7,733.5 494.6,733.5 502.6,733.6 510.5,733.7 518.5,733.8 526.4,733.9 534.3,734.0 542.3,734.1 550.2,734.1 558.2,734.2 566.1,734.3 574.0,734.4 582.0,734.5 589.9,734.6 597.9,734.7 605.8,734.7 613.7,734.8 621.7,734.8 629.6,734.9 637.6,734.9 645.5,735.0 653.4,735.0 661.4,735.0 669.3,735.1 677.3,735.1 685.2,735.1 693.1,735.1 701.1,735.2 709.0,735.2 717.0,735.2 724.9,735.3 732.8,735.3 740.8,735.3 748.7,735.3 756.7,735.3 764.6,735.3 772.5,735.4 780.5,735.4 788.4,735.3" stroke="#00bfbf" stroke-width="2.3" fill="none" stroke-dasharray="8.5 3.7"/><path d="M141.7 718.6h7.2m-3.6 0V715.4m-3.6 0h7.2M149.6 717.1h7.2m-3.6 0V713.7m-3.6 0h7.2M157.6 716.6h7.2m-3.6 0V713.1m-3.6 0h7.2M165.5 716.3h7.2m-3.6 0V712.9m-3.6 0h7.2M173.4 717.7h7.2m-3.6 0V714.3m-3.6 0h7.2M181.4 717.9h7.2m-3.6 0V714.5m-3.6 0h7.2M189.3 717.9h7.2m-3.6 0V714.5m-3.6 0h7.2M197.3 718.1h7.2m-3.6 0V714.8m-3.6 0h7.2M205.2 718.5h7.2m-3.6 0V715.2m-3.6 0h7.2M213.1 719.5h7.2m-3.6 0V716.3m-3.6 0h7.2M221.1 720.6h7.2m-3.6 0V717.5m-3.6 0h7.2M229.0 719.9h7.2m-3.6 0V716.7m-3.6 0h7.2M237.0 721.1h7.2m-3.6 0V718.1m-3.6 0h7.2M244.9 721.2h7.2m-3.6 0V718.2m-3.6 0h7.2M252.8 721.9h7.2m-3.6 0V719.0m-3.6 0h7.2M260.8 722.2h7.2m-3.6 0V719.2m-3.6 0h7.2M268.7 723.6h7.2m-3.6 0V720.8m-3.6 0h7.2M276.7 723.7h7.2m-3.6 0V720.9m-3.6 0h7.2M284.6 723.7h7.2m-3.6 0V720.9m-3.6 0h7.2M292.5 725.3h7.2m-3.6 0V722.7m-3.6 0h7.2M300.5 725.8h7.2m-3.6 0V723.3m-3.6 0h7.2M308.4 726.2h7.2m-3.6 0V723.7m-3.6 0h7.2M316.4 726.7h7.2m-3.6 0V724.2m-3.6 0h7.2M324.3 727.1h7.2m-3.6 0V724.7m-3.6 0h7.2M332.2 727.6h7.2m-3.6 0V725.3m-3.6 0h7.2M340.2 728.1h7.2m-3.6 0V725.9m-3.6 0h7.2M348.1 728.7h7.2m-3.6 0V726.5m-3.6 0h7.2M356.1 728.7h7.2m-3.6 0V726.5m-3.6 0h7.2M364.0 728.8h7.2m-3.6 0V726.6m-3.6 0h7.2M371.9 729.4h7.2m-3.6 0V727.4m-3.6 0h7.2M379.9 729.4h7.2m-3.6 0V727.4m-3.6 0h7.2M387.8 729.9h7.2m-3.6 0V727.8m-3.6 0h7.2M395.8 731.0h7.2m-3.6 0V729.2m-3.6 0h7.2M403.7 730.7h7.2m-3.6 0V728.8m-3.6 0h7.2M411.6 731.2h7.2m-3.6 0V729.4m-3.6 0h7.2M419.6 731.4h7.2m-3.6 0V729.6m-3.6 0h7.2M427.5 731.8h7.2m-3.6 0V730.1m-3.6 0h7.2M435.5 731.6h7.2m-3.6 0V729.9m-3.6 0h7.2M443.4 731.6h7.2m-3.6 0V729.9m-3.6 0h7.2M451.3 731.5h7.2m-3.6 0V729.7m-3.6 0h7.2M459.3 731.8h7.2m-3.6 0V730.2m-3.6 0h7.2M467.2 732.1h7.2m-3.6 0V730.5m-3.6 0h7.2M475.2 732.0h7.2m-3.6 0V730.4m-3.6 0h7.2M483.1 732.6h7.2m-3.6 0V731.0m-3.6 0h7.2M491.0 732.7h7.2m-3.6 0V731.2m-3.6 0h7.2M499.0 733.1h7.2m-3.6 0V731.7m-3.6 0h7.2M506.9 732.7h7.2m-3.6 0V731.1m-3.6 0h7.2M514.9 732.9h7.2m-3.6 0V731.5m-3.6 0h7.2M522.8 733.1h7.2m-3.6 0V731.7m-3.6 0h7.2M530.7 733.2h7.2m-3.6 0V731.8m-3.6 0h7.2M538.7 733.4h7.2m-3.6 0V732.0m-3.6 0h7.2M546.6 733.5h7.2m-3.6 0V732.1m-3.6 0h7.2M554.6 733.6h7.2m-3.6 0V732.3m-3.6 0h7.2M562.5 733.7h7.2m-3.6 0V732.4m-3.6 0h7.2M570.4 733.8h7.2m-3.6 0V732.5m-3.6 0h7.2M578.4 733.7h7.2m-3.6 0V732.4m-3.6 0h7.2M586.3 734.0h7.2m-3.6 0V732.7m-3.6 0h7.2M594.3 734.1h7.2m-3.6 0V733.0m-3.6 0h7.2M602.2 734.3h7.2m-3.6 0V733.2m-3.6 0h7.2M610.1 734.4h7.2m-3.6 0V733.3m-3.6 0h7.2M618.1 734.2h7.2m-3.6 0V733.0m-3.6 0h7.2M626.0 734.4h7.2m-3.6 0V733.3m-3.6 0h7.2M634.0 734.5h7.2m-3.6 0V733.4m-3.6 0h7.2M641.9 734.6h7.2m-3.6 0V733.5m-3.6 0h7.2M649.8 734.7h7.2m-3.6 0V733.7m-3.6 0h7.2M657.8 734.7h7.2m-3.6 0V733.7m-3.6 0h7.2M665.7 734.7h7.2m-3.6 0V733.7m-3.6 0h7.2M673.7 734.9h7.2m-3.6 0V733.9m-3.6 0h7.2M681.6 734.9h7.2m-3.6 0V734.0m-3.6 0h7.2M689.5 735.0h7.2m-3.6 0V734.0m-3.6 0h7.2M697.5 735.0h7.2m-3.6 0V734.1m-3.6 0h7.2M705.4 735.1h7.2m-3.6 0V734.3m-3.6 0h7.2M713.4 735.1h7.2m-3.6 0V734.2m-3.6 0h7.2M721.3 735.2h7.2m-3.6 0V734.3m-3.6 0h7.2M729.2 735.1h7.2m-3.6 0V734.2m-3.6 0h7.2M737.2 735.2h7.2m-3.6 0V734.4m-3.6 0h7.2M745.1 735.1h7.2m-3.6 0V734.3m-3.6 0h7.2M753.1 735.1h7.2m-3.6 0V734.3m-3.6 0h7.2M761.0 735.2h7.2m-3.6 0V734.4m-3.6 0h7.2M768.9 735.3h7.2m-3.6 0V734.6m-3.6 0h7.2M776.9 735.4h7.2m-3.6 0V734.6m-3.6 0h7.2M784.8 735.5h7.2m-3.6 0V734.8m-3.6 0h7.2" stroke="#bf00bf" stroke-width="2.1" fill="none"/><polyline points="145.3,715.7 153.2,715.6 161.2,715.6 169.1,715.8 177.0,716.0 185.0,716.3 192.9,716.6 200.9,717.0 208.8,717.5 216.7,718.0 224.7,718.5 232.6,719.0 240.6,719.5 248.5,720.1 256.4,720.7 264.4,721.3 272.3,721.9 280.3,722.5 288.2,723.1 296.1,723.7 304.1,724.3 312.0,724.9 320.0,725.4 327.9,725.9 335.8,726.4 343.8,726.8 351.7,727.3 359.7,727.7 367.6,728.0 375.5,728.4 383.5,728.8 391.4,729.1 399.4,729.5 407.3,729.8 415.2,730.0 423.2,730.3 431.1,730.5 439.1,730.7 447.0,730.8 454.9,731.0 462.9,731.2 470.8,731.3 478.8,731.5 486.7,731.7 494.6,731.8 502.6,732.0 510.5,732.1 518.5,732.3 526.4,732.4 534.3,732.5 542.3,732.7 550.2,732.8 558.2,732.9 566.1,733.0 574.0,733.1 582.0,733.3 589.9,733.4 597.9,733.5 605.8,733.6 613.7,733.7 621.7,733.8 629.6,733.9 637.6,734.0 645.5,734.0 653.4,734.1 661.4,734.2 669.3,734.3 677.3,734.3 685.2,734.4 693.1,734.5 701.1,734.5 709.0,734.6 717.0,734.6 724.9,734.7 732.8,734.7 740.8,734.7 748.7,734.8 756.7,734.8 764.6,734.9 772.5,734.9 780.5,735.0 788.4,735.1" stroke="#bf00bf" stroke-width="2.3" fill="none" stroke-dasharray="8.5 3.7"/></g><rect x="113.40" y="65.30" width="707.90" height="702.70" fill="none" stroke="#000" stroke-width="1.3"/><path d="M129.4 768.0v6.2M208.8 768.0v6.2M288.2 768.0v6.2M367.6 768.0v6.2M447.0 768.0v6.2M526.4 768.0v6.2M605.8 768.0v6.2M685.2 768.0v6.2M764.6 768.0v6.2M113.4 736.0h-6.2M113.4 610.1h-6.2M113.4 484.3h-6.2M113.4 358.4h-6.2M113.4 232.6h-6.2M113.4 106.7h-6.2" stroke="#000" stroke-width="1.3" fill="none"/><g font-family="'DejaVu Sans', 'Liberation Sans', sans-serif" font-size="21" fill="#000"><text x="129.4" y="795.4" text-anchor="middle">0</text><text x="208.8" y="795.4" text-anchor="middle">1</text><text x="288.2" y="795.4" text-anchor="middle">2</text><text x="367.6" y="795.4" text-anchor="middle">3</text><text x="447.0" y="795.4" text-anchor="middle">4</text><text x="526.4" y="795.4" text-anchor="middle">5</text><text x="605.8" y="795.4" text-anchor="middle">6</text><text x="685.2" y="795.4" text-anchor="middle">7</text><text x="764.6" y="795.4" text-anchor="middle">8</text><text x="101.6" y="745.0" text-anchor="end">0</text><text x="101.6" y="619.1" text-anchor="end">20</text><text x="101.6" y="493.3" text-anchor="end">40</text><text x="101.6" y="367.4" text-anchor="end">60</text><text x="101.6" y="241.6" text-anchor="end">80</text><text x="101.6" y="115.7" text-anchor="end">100</text></g><rect x="185.50" y="73.50" width="627.60" height="123.70" rx="3.5" ry="3.5" fill="#fff" fill-opacity="0.8" stroke="#d4d4d4" stroke-width="1.3"/><circle cx="207.5" cy="88.2" r="5.7" fill="#0000ff"/><text x="235.1" y="92.0" font-family="'DejaVu Sans', 'Liberation Sans', sans-serif" font-size="16.0" fill="#000">No Shield</text><path d="M191.0 109.7H224.0" stroke="#0000ff" stroke-width="2.4" stroke-dasharray="8.6 3.9"/><text x="235.1" y="115.7" font-family="'DejaVu Sans', 'Liberation Sans', sans-serif" font-size="16.0" fill="#000">Fitted No Shield</text><circle cx="207.5" cy="135.6" r="5.7" fill="#008000"/><text x="235.1" y="139.4" font-family="'DejaVu Sans', 'Liberation Sans', sans-serif" font-size="16.0" fill="#000">Shield 0/4 From Midpoint</text><path d="M191.0 157.0H224.0" stroke="#008000" stroke-width="2.4" stroke-dasharray="8.6 3.9"/><text x="235.1" y="163.0" font-family="'DejaVu Sans', 'Liberation Sans', sans-serif" font-size="16.0" fill="#000">Fitted Shield 0/4 From Midpoint</text><circle cx="207.5" cy="182.9" r="5.7" fill="#ff0000"/><text x="235.1" y="186.7" font-family="'DejaVu Sans', 'Liberation Sans', sans-serif" font-size="16.0" fill="#000">Shield 1/4 From Midpoint</text><path d="M514.2 86.0H547.1" stroke="#ff0000" stroke-width="2.4" stroke-dasharray="8.6 3.9"/><text x="558.4" y="92.0" font-family="'DejaVu Sans', 'Liberation Sans', sans-serif" font-size="16.0" fill="#000">Fitted Shield 1/4 From Midpoint</text><circle cx="530.7" cy="111.9" r="5.7" fill="#00bfbf"/><text x="558.4" y="115.7" font-family="'DejaVu Sans', 'Liberation Sans', sans-serif" font-size="16.0" fill="#000">Shield 2/4 From Midpoint</text><path d="M514.2 133.4H547.1" stroke="#00bfbf" stroke-width="2.4" stroke-dasharray="8.6 3.9"/><text x="558.4" y="139.4" font-family="'DejaVu Sans', 'Liberation Sans', sans-serif" font-size="16.0" fill="#000">Fitted Shield 2/4 From Midpoint</text><circle cx="530.7" cy="159.2" r="5.7" fill="#bf00bf"/><text x="558.4" y="163.0" font-family="'DejaVu Sans', 'Liberation Sans', sans-serif" font-size="16.0" fill="#000">Shield 3/4 From Midpoint</text><path d="M514.2 180.7H547.1" stroke="#bf00bf" stroke-width="2.4" stroke-dasharray="8.6 3.9"/><text x="558.4" y="186.7" font-family="'DejaVu Sans', 'Liberation Sans', sans-serif" font-size="16.0" fill="#000">Fitted Shield 3/4 From Midpoint</text><rect x="317.60" y="240.80" width="495.60" height="351.40" fill="#fff"/><g clip-path="url(#c2)"><path d="M523.4 237.3h0M529.0 249.2h0M534.5 275.2h0M540.1 294.2h0M545.6 320.9h0M551.2 309.7h0M556.8 325.8h0M562.3 343.4h0M567.9 378.5h0M573.4 375.0h0M579.0 386.3h0M584.6 403.8h0M590.1 426.3h0M595.7 421.4h0M601.2 432.7h0M606.8 432.7h0M612.4 448.8h0M617.9 453.0h0M623.5 467.8h0M629.0 470.6h0M634.6 472.7h0M640.2 481.9h0M645.7 485.4h0M651.3 485.4h0M656.8 494.5h0M662.4 499.4h0M668.0 502.2h0M673.5 504.4h0M679.1 506.5h0M684.6 510.7h0M690.2 514.9h0M695.8 518.4h0M701.3 519.8h0M706.9 523.3h0M712.4 528.2h0M718.0 533.2h0M723.6 534.6h0M729.1 536.0h0M734.7 536.0h0M740.2 536.0h0M745.8 541.6h0M751.4 545.8h0M756.9 545.8h0M762.5 544.4h0M768.0 550.0h0M773.6 555.0h0M779.2 557.1h0M784.7 559.9h0M790.3 563.4h0" stroke="#0000ff" stroke-width="11.4" stroke-linecap="round"/><path d="M339.9 576.0h0M345.5 577.2h0M351.0 575.4h0M356.6 573.5h0M362.2 572.4h0M367.7 572.3h0M373.3 571.5h0M378.8 570.4h0M384.4 573.1h0M390.0 571.3h0M395.5 567.6h0M401.1 570.0h0M406.6 572.4h0M412.2 573.6h0M417.8 572.6h0M423.3 570.3h0M428.9 571.5h0M434.4 573.6h0M440.0 577.8h0M445.6 577.2h0M451.1 577.7h0M456.7 571.4h0M462.2 575.9h0M467.8 577.2h0M473.4 578.6h0M478.9 580.0h0M484.5 582.5h0M490.0 580.3h0M495.6 578.9h0M501.2 579.2h0M506.7 580.8h0M512.3 580.5h0M517.8 581.2h0M523.4 581.5h0M529.0 580.9h0M534.5 582.7h0M540.1 582.8h0M545.6 582.8h0M551.2 584.1h0M556.8 584.2h0M562.3 584.4h0M567.9 584.7h0M573.4 585.5h0M579.0 585.3h0M584.6 585.0h0M590.1 586.4h0M595.7 585.8h0M601.2 586.3h0M606.8 586.8h0M612.4 586.0h0M617.9 586.6h0M623.5 587.4h0M629.0 587.2h0M634.6 587.2h0M640.2 587.5h0M645.7 587.4h0M651.3 587.8h0M656.8 587.7h0M662.4 587.6h0M668.0 588.2h0M673.5 588.1h0M679.1 588.4h0M684.6 588.3h0M690.2 588.7h0M695.8 588.7h0M701.3 588.7h0M706.9 588.5h0M712.4 588.5h0M718.0 589.1h0M723.6 589.1h0M729.1 588.9h0M734.7 589.4h0M740.2 589.2h0M745.8 589.3h0M751.4 589.1h0M756.9 589.2h0M762.5 589.5h0M768.0 589.6h0M773.6 589.6h0M779.2 589.4h0M784.7 589.7h0M790.3 589.8h0" stroke="#008000" stroke-width="11.4" stroke-linecap="round"/><path d="M339.9 554.6h0M345.5 552.3h0M351.0 548.9h0M356.6 543.9h0M362.2 536.0h0M367.7 538.1h0M373.3 535.4h0M378.8 539.9h0M384.4 540.9h0M390.0 538.4h0M395.5 544.9h0M401.1 540.7h0M406.6 545.8h0M412.2 545.0h0M417.8 538.1h0M423.3 554.6h0M428.9 552.8h0M434.4 551.2h0M440.0 552.5h0M445.6 558.0h0M451.1 556.9h0M456.7 550.9h0M462.2 560.7h0M467.8 557.7h0M473.4 559.0h0M478.9 561.2h0M484.5 563.8h0M490.0 566.7h0M495.6 562.9h0M501.2 565.2h0M506.7 566.9h0M512.3 568.1h0M517.8 566.9h0M523.4 569.8h0M529.0 569.2h0M534.5 572.0h0M540.1 571.8h0M545.6 569.9h0M551.2 573.1h0M556.8 573.6h0M562.3 574.8h0M567.9 577.0h0M573.4 577.5h0M579.0 576.7h0M584.6 579.3h0M590.1 578.7h0M595.7 580.3h0M601.2 579.2h0M606.8 580.8h0M612.4 580.7h0M617.9 581.9h0M623.5 583.1h0M629.0 581.1h0M634.6 581.3h0M640.2 583.1h0M645.7 583.4h0M651.3 583.8h0M656.8 584.5h0M662.4 584.5h0M668.0 585.8h0M673.5 585.3h0M679.1 586.7h0M684.6 586.3h0M690.2 586.8h0M695.8 586.5h0M701.3 586.7h0M706.9 586.9h0M712.4 588.1h0M718.0 588.5h0M723.6 587.9h0M729.1 588.5h0M734.7 588.4h0M740.2 588.3h0M745.8 589.0h0M751.4 589.2h0M756.9 588.8h0M762.5 588.7h0M768.0 589.1h0M773.6 589.2h0M779.2 589.3h0M784.7 589.4h0M790.3 589.5h0" stroke="#ff0000" stroke-width="11.4" stroke-linecap="round"/><path d="M339.9 509.3h0M345.5 491.7h0M351.0 494.5h0M356.6 481.9h0M362.2 475.5h0M367.7 476.9h0M373.3 479.0h0M378.8 481.9h0M384.4 486.8h0M390.0 493.1h0M395.5 496.6h0M401.1 500.8h0M406.6 500.8h0M412.2 499.4h0M417.8 507.2h0M423.3 505.8h0M428.9 513.5h0M434.4 513.5h0M440.0 517.0h0M445.6 526.8h0M451.1 528.2h0M456.7 524.7h0M462.2 528.2h0M467.8 534.6h0M473.4 537.1h0M478.9 539.5h0M484.5 540.2h0M490.0 540.9h0M495.6 544.4h0M501.2 549.2h0M506.7 552.7h0M512.3 547.3h0M517.8 548.8h0M523.4 550.9h0M529.0 557.1h0M534.5 557.6h0M540.1 559.5h0M545.6 560.4h0M551.2 559.5h0M556.8 562.1h0M562.3 560.7h0M567.9 561.4h0M573.4 558.9h0M579.0 565.7h0M584.6 562.9h0M590.1 565.6h0M595.7 566.5h0M601.2 569.5h0M606.8 569.0h0M612.4 568.2h0M617.9 570.2h0M623.5 570.8h0M629.0 572.1h0M634.6 571.1h0M640.2 573.6h0M645.7 576.8h0M651.3 576.3h0M656.8 578.3h0M662.4 580.1h0M668.0 578.7h0M673.5 577.9h0M679.1 579.6h0M684.6 581.1h0M690.2 581.6h0M695.8 580.5h0M701.3 581.4h0M706.9 581.8h0M712.4 582.1h0M718.0 582.3h0M723.6 582.2h0M729.1 582.7h0M734.7 583.2h0M740.2 584.1h0M745.8 583.6h0M751.4 584.5h0M756.9 583.9h0M762.5 585.2h0M768.0 585.0h0M773.6 585.2h0M779.2 585.7h0M784.7 584.4h0M790.3 584.5h0" stroke="#00bfbf" stroke-width="11.4" stroke-linecap="round"/><path d="M339.9 380.0h0M345.5 362.4h0M351.0 356.1h0M356.6 353.2h0M362.2 368.7h0M367.7 370.8h0M373.3 370.8h0M378.8 373.6h0M384.4 378.5h0M390.0 389.8h0M395.5 402.4h0M401.1 394.7h0M406.6 408.8h0M412.2 410.2h0M417.8 418.6h0M423.3 421.4h0M428.9 437.6h0M434.4 439.0h0M440.0 439.0h0M445.6 458.0h0M451.1 464.3h0M456.7 469.2h0M462.2 474.1h0M467.8 479.0h0M473.4 485.4h0M478.9 491.7h0M484.5 498.0h0M490.0 498.0h0M495.6 499.4h0M501.2 507.2h0M506.7 507.5h0M512.3 512.4h0M517.8 526.2h0M523.4 522.0h0M529.0 528.4h0M534.5 530.5h0M540.1 536.3h0M545.6 534.0h0M551.2 533.7h0M556.8 531.8h0M562.3 536.5h0M567.9 539.9h0M573.4 538.3h0M579.0 545.4h0M584.6 546.7h0M590.1 551.7h0M595.7 546.4h0M601.2 549.7h0M606.8 551.7h0M612.4 553.3h0M617.9 555.4h0M623.5 556.2h0M629.0 558.0h0M634.6 558.8h0M640.2 560.1h0M645.7 559.4h0M651.3 562.5h0M656.8 564.9h0M662.4 566.9h0M668.0 567.7h0M673.5 565.6h0M679.1 567.8h0M684.6 569.0h0M690.2 570.1h0M695.8 571.9h0M701.3 571.9h0M706.9 571.9h0M712.4 574.1h0M718.0 574.8h0M723.6 575.4h0M729.1 575.7h0M734.7 577.6h0M740.2 577.1h0M745.8 578.1h0M751.4 577.1h0M756.9 578.6h0M762.5 577.9h0M768.0 577.5h0M773.6 579.1h0M779.2 580.5h0M784.7 581.2h0M790.3 582.4h0" stroke="#bf00bf" stroke-width="11.4" stroke-linecap="round"/><path d="M514.2 247.4h7.2m-3.6 0V199.1m-3.6 0h7.2M519.8 261.0h7.2m-3.6 0V213.6m-3.6 0h7.2M525.4 272.5h7.2m-3.6 0V225.9m-3.6 0h7.2M530.9 297.6h7.2m-3.6 0V252.8m-3.6 0h7.2M536.5 315.9h7.2m-3.6 0V272.5m-3.6 0h7.2M542.0 341.6h7.2m-3.6 0V300.2m-3.6 0h7.2M547.6 330.8h7.2m-3.6 0V288.5m-3.6 0h7.2M553.2 346.4h7.2m-3.6 0V305.3m-3.6 0h7.2M558.7 363.2h7.2m-3.6 0V323.6m-3.6 0h7.2M564.3 396.9h7.2m-3.6 0V360.2m-3.6 0h7.2M569.8 393.6h7.2m-3.6 0V356.5m-3.6 0h7.2M575.4 404.3h7.2m-3.6 0V368.2m-3.6 0h7.2M581.0 421.1h7.2m-3.6 0V386.6m-3.6 0h7.2M586.5 442.5h7.2m-3.6 0V410.1m-3.6 0h7.2M592.1 437.9h7.2m-3.6 0V405.0m-3.6 0h7.2M597.6 448.5h7.2m-3.6 0V416.8m-3.6 0h7.2M603.2 448.5h7.2m-3.6 0V416.8m-3.6 0h7.2M608.8 463.9h7.2m-3.6 0V433.8m-3.6 0h7.2M614.3 467.9h7.2m-3.6 0V438.2m-3.6 0h7.2M619.9 481.8h7.2m-3.6 0V453.8m-3.6 0h7.2M625.4 484.5h7.2m-3.6 0V456.7m-3.6 0h7.2M631.0 486.5h7.2m-3.6 0V459.0m-3.6 0h7.2M636.6 495.1h7.2m-3.6 0V468.7m-3.6 0h7.2M642.1 498.4h7.2m-3.6 0V472.4m-3.6 0h7.2M647.7 498.4h7.2m-3.6 0V472.4m-3.6 0h7.2M653.2 506.9h7.2m-3.6 0V482.1m-3.6 0h7.2M658.8 511.5h7.2m-3.6 0V487.3m-3.6 0h7.2M664.4 514.2h7.2m-3.6 0V490.3m-3.6 0h7.2M669.9 516.1h7.2m-3.6 0V492.6m-3.6 0h7.2M675.5 518.1h7.2m-3.6 0V494.8m-3.6 0h7.2M681.0 522.0h7.2m-3.6 0V499.3m-3.6 0h7.2M686.6 525.9h7.2m-3.6 0V503.8m-3.6 0h7.2M692.2 529.2h7.2m-3.6 0V507.6m-3.6 0h7.2M697.7 530.5h7.2m-3.6 0V509.1m-3.6 0h7.2M703.3 533.8h7.2m-3.6 0V512.9m-3.6 0h7.2M708.8 538.3h7.2m-3.6 0V518.2m-3.6 0h7.2M714.4 542.8h7.2m-3.6 0V523.5m-3.6 0h7.2M720.0 544.1h7.2m-3.6 0V525.0m-3.6 0h7.2M725.5 545.4h7.2m-3.6 0V526.5m-3.6 0h7.2M731.1 545.4h7.2m-3.6 0V526.5m-3.6 0h7.2M736.6 545.4h7.2m-3.6 0V526.5m-3.6 0h7.2M742.2 550.5h7.2m-3.6 0V532.7m-3.6 0h7.2M747.8 554.4h7.2m-3.6 0V537.3m-3.6 0h7.2M753.3 554.4h7.2m-3.6 0V537.3m-3.6 0h7.2M758.9 553.1h7.2m-3.6 0V535.7m-3.6 0h7.2M764.4 558.2h7.2m-3.6 0V541.9m-3.6 0h7.2M770.0 562.6h7.2m-3.6 0V547.3m-3.6 0h7.2M775.6 564.5h7.2m-3.6 0V549.6m-3.6 0h7.2M781.1 567.0h7.2m-3.6 0V552.7m-3.6 0h7.2M786.7 570.1h7.2m-3.6 0V556.6m-3.6 0h7.2" stroke="#0000ff" stroke-width="2.1" fill="none"/><polyline points="523.4,238.6 529.0,257.1 534.5,274.6 540.1,291.1 545.6,306.6 551.2,321.6 556.8,336.2 562.3,350.8 567.9,365.0 573.4,378.7 579.0,391.5 584.6,403.1 590.1,413.6 595.7,423.1 601.2,431.7 606.8,439.9 612.4,447.7 617.9,455.2 623.5,462.2 629.0,468.6 634.6,474.4 640.2,479.6 645.7,484.5 651.3,489.0 656.8,493.3 662.4,497.4 668.0,501.1 673.5,504.6 679.1,508.0 684.6,511.4 690.2,514.7 695.8,518.1 701.3,521.4 706.9,524.6 712.4,527.7 718.0,530.5 723.6,533.0 729.1,535.2 734.7,537.3 740.2,539.4 745.8,541.5 751.4,543.8 756.9,546.2 762.5,548.8 768.0,551.5 773.6,554.4 779.2,557.3 784.7,560.2 790.3,563.0" stroke="#0000ff" stroke-width="2.3" fill="none" stroke-dasharray="8.5 3.7"/><path d="M336.3 580.6h7.2m-3.6 0V571.5m-3.6 0h7.2M341.9 581.6h7.2m-3.6 0V572.8m-3.6 0h7.2M347.4 580.1h7.2m-3.6 0V570.8m-3.6 0h7.2M353.0 578.4h7.2m-3.6 0V568.7m-3.6 0h7.2M358.6 577.4h7.2m-3.6 0V567.3m-3.6 0h7.2M364.1 577.4h7.2m-3.6 0V567.3m-3.6 0h7.2M369.7 576.7h7.2m-3.6 0V566.4m-3.6 0h7.2M375.2 575.7h7.2m-3.6 0V565.1m-3.6 0h7.2M380.8 578.0h7.2m-3.6 0V568.1m-3.6 0h7.2M386.4 576.5h7.2m-3.6 0V566.1m-3.6 0h7.2M391.9 573.2h7.2m-3.6 0V562.0m-3.6 0h7.2M397.5 575.4h7.2m-3.6 0V564.7m-3.6 0h7.2M403.0 577.4h7.2m-3.6 0V567.4m-3.6 0h7.2M408.6 578.5h7.2m-3.6 0V568.7m-3.6 0h7.2M414.2 577.6h7.2m-3.6 0V567.5m-3.6 0h7.2M419.7 575.6h7.2m-3.6 0V565.0m-3.6 0h7.2M425.3 576.6h7.2m-3.6 0V566.3m-3.6 0h7.2M430.8 578.5h7.2m-3.6 0V568.8m-3.6 0h7.2M436.4 582.1h7.2m-3.6 0V573.5m-3.6 0h7.2M442.0 581.6h7.2m-3.6 0V572.9m-3.6 0h7.2M447.5 582.0h7.2m-3.6 0V573.4m-3.6 0h7.2M453.1 576.6h7.2m-3.6 0V566.3m-3.6 0h7.2M458.6 580.4h7.2m-3.6 0V571.3m-3.6 0h7.2M464.2 581.6h7.2m-3.6 0V572.8m-3.6 0h7.2M469.8 582.8h7.2m-3.6 0V574.4m-3.6 0h7.2M475.3 584.0h7.2m-3.6 0V576.1m-3.6 0h7.2M480.9 586.1h7.2m-3.6 0V579.0m-3.6 0h7.2M486.4 584.2h7.2m-3.6 0V576.4m-3.6 0h7.2M492.0 583.0h7.2m-3.6 0V574.8m-3.6 0h7.2M497.6 583.3h7.2m-3.6 0V575.1m-3.6 0h7.2M503.1 584.6h7.2m-3.6 0V577.0m-3.6 0h7.2M508.7 584.4h7.2m-3.6 0V576.6m-3.6 0h7.2M514.2 585.0h7.2m-3.6 0V577.5m-3.6 0h7.2M519.8 585.2h7.2m-3.6 0V577.8m-3.6 0h7.2M525.4 584.7h7.2m-3.6 0V577.1m-3.6 0h7.2M530.9 586.1h7.2m-3.6 0V579.2m-3.6 0h7.2M536.5 586.2h7.2m-3.6 0V579.3m-3.6 0h7.2M542.0 586.3h7.2m-3.6 0V579.3m-3.6 0h7.2M547.6 587.3h7.2m-3.6 0V580.8m-3.6 0h7.2M553.2 587.4h7.2m-3.6 0V580.9m-3.6 0h7.2M558.7 587.5h7.2m-3.6 0V581.2m-3.6 0h7.2M564.3 587.8h7.2m-3.6 0V581.6m-3.6 0h7.2M569.8 588.5h7.2m-3.6 0V582.6m-3.6 0h7.2M575.4 588.3h7.2m-3.6 0V582.3m-3.6 0h7.2M581.0 588.1h7.2m-3.6 0V582.0m-3.6 0h7.2M586.5 589.1h7.2m-3.6 0V583.7m-3.6 0h7.2M592.1 588.6h7.2m-3.6 0V582.9m-3.6 0h7.2M597.6 589.1h7.2m-3.6 0V583.6m-3.6 0h7.2M603.2 589.4h7.2m-3.6 0V584.2m-3.6 0h7.2M608.8 588.8h7.2m-3.6 0V583.2m-3.6 0h7.2M614.3 589.3h7.2m-3.6 0V584.0m-3.6 0h7.2M619.9 589.9h7.2m-3.6 0V584.9m-3.6 0h7.2M625.4 589.7h7.2m-3.6 0V584.6m-3.6 0h7.2M631.0 589.7h7.2m-3.6 0V584.6m-3.6 0h7.2M636.6 590.0h7.2m-3.6 0V585.1m-3.6 0h7.2M642.1 589.9h7.2m-3.6 0V584.9m-3.6 0h7.2M647.7 590.1h7.2m-3.6 0V585.4m-3.6 0h7.2M653.2 590.1h7.2m-3.6 0V585.3m-3.6 0h7.2M658.8 590.0h7.2m-3.6 0V585.2m-3.6 0h7.2M664.4 590.5h7.2m-3.6 0V586.0m-3.6 0h7.2M669.9 590.4h7.2m-3.6 0V585.8m-3.6 0h7.2M675.5 590.6h7.2m-3.6 0V586.2m-3.6 0h7.2M681.0 590.6h7.2m-3.6 0V586.1m-3.6 0h7.2M686.6 590.8h7.2m-3.6 0V586.6m-3.6 0h7.2M692.2 590.8h7.2m-3.6 0V586.5m-3.6 0h7.2M697.7 590.8h7.2m-3.6 0V586.5m-3.6 0h7.2M703.3 590.7h7.2m-3.6 0V586.3m-3.6 0h7.2M708.8 590.7h7.2m-3.6 0V586.4m-3.6 0h7.2M714.4 591.1h7.2m-3.6 0V587.1m-3.6 0h7.2M720.0 591.1h7.2m-3.6 0V587.1m-3.6 0h7.2M725.5 590.9h7.2m-3.6 0V586.8m-3.6 0h7.2M731.1 591.3h7.2m-3.6 0V587.6m-3.6 0h7.2M736.6 591.2h7.2m-3.6 0V587.3m-3.6 0h7.2M742.2 591.2h7.2m-3.6 0V587.3m-3.6 0h7.2M747.8 591.1h7.2m-3.6 0V587.1m-3.6 0h7.2M753.3 591.2h7.2m-3.6 0V587.3m-3.6 0h7.2M758.9 591.4h7.2m-3.6 0V587.6m-3.6 0h7.2M764.4 591.4h7.2m-3.6 0V587.7m-3.6 0h7.2M770.0 591.4h7.2m-3.6 0V587.8m-3.6 0h7.2M775.6 591.3h7.2m-3.6 0V587.5m-3.6 0h7.2M781.1 591.5h7.2m-3.6 0V588.0m-3.6 0h7.2M786.7 591.5h7.2m-3.6 0V588.0m-3.6 0h7.2" stroke="#008000" stroke-width="2.1" fill="none"/><polyline points="339.9,576.7 345.5,575.9 351.0,575.1 356.6,574.3 362.2,573.6 367.7,573.0 373.3,572.5 378.8,572.1 384.4,571.8 390.0,571.6 395.5,571.6 401.1,571.7 406.6,571.9 412.2,572.2 417.8,572.7 423.3,573.2 428.9,573.8 434.4,574.3 440.0,574.9 445.6,575.5 451.1,576.1 456.7,576.7 462.2,577.3 467.8,577.9 473.4,578.4 478.9,578.9 484.5,579.4 490.0,579.8 495.6,580.1 501.2,580.4 506.7,580.6 512.3,580.9 517.8,581.3 523.4,581.6 529.0,582.0 534.5,582.4 540.1,582.8 545.6,583.2 551.2,583.6 556.8,584.0 562.3,584.4 567.9,584.7 573.4,585.0 579.0,585.3 584.6,585.6 590.1,585.8 595.7,586.0 601.2,586.2 606.8,586.4 612.4,586.6 617.9,586.8 623.5,586.9 629.0,587.1 634.6,587.3 640.2,587.4 645.7,587.5 651.3,587.7 656.8,587.8 662.4,587.9 668.0,588.0 673.5,588.2 679.1,588.3 684.6,588.4 690.2,588.5 695.8,588.6 701.3,588.7 706.9,588.7 712.4,588.8 718.0,588.9 723.6,589.0 729.1,589.1 734.7,589.1 740.2,589.2 745.8,589.2 751.4,589.3 756.9,589.4 762.5,589.4 768.0,589.5 773.6,589.5 779.2,589.6 784.7,589.7 790.3,589.7" stroke="#008000" stroke-width="2.3" fill="none" stroke-dasharray="8.5 3.7"/><path d="M336.3 561.5h7.2m-3.6 0V547.6m-3.6 0h7.2M341.9 559.4h7.2m-3.6 0V545.1m-3.6 0h7.2M347.4 556.3h7.2m-3.6 0V541.4m-3.6 0h7.2M353.0 551.8h7.2m-3.6 0V536.1m-3.6 0h7.2M358.6 544.5h7.2m-3.6 0V527.5m-3.6 0h7.2M364.1 546.4h7.2m-3.6 0V529.8m-3.6 0h7.2M369.7 544.0h7.2m-3.6 0V526.9m-3.6 0h7.2M375.2 548.1h7.2m-3.6 0V531.7m-3.6 0h7.2M380.8 549.0h7.2m-3.6 0V532.8m-3.6 0h7.2M386.4 546.7h7.2m-3.6 0V530.1m-3.6 0h7.2M391.9 552.7h7.2m-3.6 0V537.1m-3.6 0h7.2M397.5 548.8h7.2m-3.6 0V532.6m-3.6 0h7.2M403.0 553.5h7.2m-3.6 0V538.1m-3.6 0h7.2M408.6 552.8h7.2m-3.6 0V537.2m-3.6 0h7.2M414.2 546.4h7.2m-3.6 0V529.8m-3.6 0h7.2M419.7 561.5h7.2m-3.6 0V547.6m-3.6 0h7.2M425.3 559.9h7.2m-3.6 0V545.7m-3.6 0h7.2M430.8 558.5h7.2m-3.6 0V544.0m-3.6 0h7.2M436.4 559.6h7.2m-3.6 0V545.4m-3.6 0h7.2M442.0 564.6h7.2m-3.6 0V551.4m-3.6 0h7.2M447.5 563.6h7.2m-3.6 0V550.2m-3.6 0h7.2M453.1 558.1h7.2m-3.6 0V543.6m-3.6 0h7.2M458.6 567.0h7.2m-3.6 0V554.3m-3.6 0h7.2M464.2 564.4h7.2m-3.6 0V551.1m-3.6 0h7.2M469.8 565.5h7.2m-3.6 0V552.5m-3.6 0h7.2M475.3 567.5h7.2m-3.6 0V554.9m-3.6 0h7.2M480.9 569.8h7.2m-3.6 0V557.7m-3.6 0h7.2M486.4 572.4h7.2m-3.6 0V561.0m-3.6 0h7.2M492.0 569.1h7.2m-3.6 0V556.8m-3.6 0h7.2M497.6 571.0h7.2m-3.6 0V559.3m-3.6 0h7.2M503.1 572.6h7.2m-3.6 0V561.3m-3.6 0h7.2M508.7 573.7h7.2m-3.6 0V562.6m-3.6 0h7.2M514.2 572.6h7.2m-3.6 0V561.2m-3.6 0h7.2M519.8 575.1h7.2m-3.6 0V564.4m-3.6 0h7.2M525.4 574.7h7.2m-3.6 0V563.8m-3.6 0h7.2M530.9 577.1h7.2m-3.6 0V567.0m-3.6 0h7.2M536.5 577.0h7.2m-3.6 0V566.7m-3.6 0h7.2M542.0 575.3h7.2m-3.6 0V564.6m-3.6 0h7.2M547.6 578.0h7.2m-3.6 0V568.1m-3.6 0h7.2M553.2 578.5h7.2m-3.6 0V568.7m-3.6 0h7.2M558.7 579.5h7.2m-3.6 0V570.0m-3.6 0h7.2M564.3 581.4h7.2m-3.6 0V572.6m-3.6 0h7.2M569.8 581.9h7.2m-3.6 0V573.2m-3.6 0h7.2M575.4 581.2h7.2m-3.6 0V572.2m-3.6 0h7.2M581.0 583.4h7.2m-3.6 0V575.3m-3.6 0h7.2M586.5 582.9h7.2m-3.6 0V574.6m-3.6 0h7.2M592.1 584.2h7.2m-3.6 0V576.4m-3.6 0h7.2M597.6 583.3h7.2m-3.6 0V575.1m-3.6 0h7.2M603.2 584.6h7.2m-3.6 0V577.0m-3.6 0h7.2M608.8 584.6h7.2m-3.6 0V576.9m-3.6 0h7.2M614.3 585.5h7.2m-3.6 0V578.2m-3.6 0h7.2M619.9 586.5h7.2m-3.6 0V579.7m-3.6 0h7.2M625.4 584.9h7.2m-3.6 0V577.3m-3.6 0h7.2M631.0 585.0h7.2m-3.6 0V577.6m-3.6 0h7.2M636.6 586.5h7.2m-3.6 0V579.7m-3.6 0h7.2M642.1 586.7h7.2m-3.6 0V580.0m-3.6 0h7.2M647.7 587.1h7.2m-3.6 0V580.5m-3.6 0h7.2M653.2 587.7h7.2m-3.6 0V581.4m-3.6 0h7.2M658.8 587.7h7.2m-3.6 0V581.4m-3.6 0h7.2M664.4 588.7h7.2m-3.6 0V582.9m-3.6 0h7.2M669.9 588.2h7.2m-3.6 0V582.3m-3.6 0h7.2M675.5 589.4h7.2m-3.6 0V584.1m-3.6 0h7.2M681.0 589.0h7.2m-3.6 0V583.5m-3.6 0h7.2M686.6 589.4h7.2m-3.6 0V584.2m-3.6 0h7.2M692.2 589.2h7.2m-3.6 0V583.8m-3.6 0h7.2M697.7 589.4h7.2m-3.6 0V584.1m-3.6 0h7.2M703.3 589.5h7.2m-3.6 0V584.3m-3.6 0h7.2M708.8 590.4h7.2m-3.6 0V585.8m-3.6 0h7.2M714.4 590.7h7.2m-3.6 0V586.3m-3.6 0h7.2M720.0 590.3h7.2m-3.6 0V585.6m-3.6 0h7.2M725.5 590.7h7.2m-3.6 0V586.4m-3.6 0h7.2M731.1 590.6h7.2m-3.6 0V586.1m-3.6 0h7.2M736.6 590.6h7.2m-3.6 0V586.1m-3.6 0h7.2M742.2 591.0h7.2m-3.6 0V586.9m-3.6 0h7.2M747.8 591.2h7.2m-3.6 0V587.3m-3.6 0h7.2M753.3 590.9h7.2m-3.6 0V586.8m-3.6 0h7.2M758.9 590.8h7.2m-3.6 0V586.6m-3.6 0h7.2M764.4 591.1h7.2m-3.6 0V587.1m-3.6 0h7.2M770.0 591.2h7.2m-3.6 0V587.2m-3.6 0h7.2M775.6 591.2h7.2m-3.6 0V587.4m-3.6 0h7.2M781.1 591.3h7.2m-3.6 0V587.6m-3.6 0h7.2M786.7 591.4h7.2m-3.6 0V587.7m-3.6 0h7.2" stroke="#ff0000" stroke-width="2.1" fill="none"/><polyline points="339.9,553.4 345.5,550.5 351.0,547.9 356.6,545.6 362.2,543.8 367.7,542.4 373.3,541.6 378.8,541.3 384.4,541.5 390.0,542.0 395.5,542.7 401.1,543.8 406.6,545.0 412.2,546.3 417.8,547.8 423.3,549.2 428.9,550.7 434.4,552.1 440.0,553.4 445.6,554.6 451.1,555.8 456.7,557.0 462.2,558.1 467.8,559.3 473.4,560.4 478.9,561.6 484.5,562.7 490.0,563.8 495.6,564.8 501.2,565.7 506.7,566.6 512.3,567.5 517.8,568.3 523.4,569.2 529.0,570.0 534.5,570.8 540.1,571.7 545.6,572.5 551.2,573.4 556.8,574.3 562.3,575.2 567.9,576.0 573.4,576.8 579.0,577.6 584.6,578.3 590.1,578.9 595.7,579.5 601.2,580.0 606.8,580.5 612.4,581.0 617.9,581.4 623.5,581.8 629.0,582.2 634.6,582.7 640.2,583.1 645.7,583.5 651.3,584.0 656.8,584.4 662.4,584.9 668.0,585.3 673.5,585.6 679.1,586.0 684.6,586.3 690.2,586.6 695.8,586.9 701.3,587.2 706.9,587.4 712.4,587.7 718.0,587.9 723.6,588.1 729.1,588.3 734.7,588.4 740.2,588.6 745.8,588.7 751.4,588.8 756.9,588.9 762.5,589.0 768.0,589.1 773.6,589.2 779.2,589.3 784.7,589.4 790.3,589.5" stroke="#ff0000" stroke-width="2.3" fill="none" stroke-dasharray="8.5 3.7"/><path d="M336.3 519.6h7.2m-3.6 0V499.0m-3.6 0h7.2M341.9 503.0h7.2m-3.6 0V480.4m-3.6 0h7.2M347.4 505.7h7.2m-3.6 0V483.3m-3.6 0h7.2M353.0 493.7h7.2m-3.6 0V470.0m-3.6 0h7.2M358.6 487.8h7.2m-3.6 0V463.3m-3.6 0h7.2M364.1 489.1h7.2m-3.6 0V464.8m-3.6 0h7.2M369.7 491.1h7.2m-3.6 0V467.0m-3.6 0h7.2M375.2 493.7h7.2m-3.6 0V470.0m-3.6 0h7.2M380.8 498.4h7.2m-3.6 0V475.2m-3.6 0h7.2M386.4 504.4h7.2m-3.6 0V481.8m-3.6 0h7.2M391.9 507.7h7.2m-3.6 0V485.6m-3.6 0h7.2M397.5 511.7h7.2m-3.6 0V490.0m-3.6 0h7.2M403.0 511.7h7.2m-3.6 0V490.0m-3.6 0h7.2M408.6 510.3h7.2m-3.6 0V488.5m-3.6 0h7.2M414.2 517.6h7.2m-3.6 0V496.7m-3.6 0h7.2M419.7 516.3h7.2m-3.6 0V495.2m-3.6 0h7.2M425.3 523.5h7.2m-3.6 0V503.4m-3.6 0h7.2M430.8 523.5h7.2m-3.6 0V503.4m-3.6 0h7.2M436.4 526.8h7.2m-3.6 0V507.2m-3.6 0h7.2M442.0 536.0h7.2m-3.6 0V517.7m-3.6 0h7.2M447.5 537.3h7.2m-3.6 0V519.2m-3.6 0h7.2M453.1 534.0h7.2m-3.6 0V515.4m-3.6 0h7.2M458.6 537.3h7.2m-3.6 0V519.2m-3.6 0h7.2M464.2 543.2h7.2m-3.6 0V526.0m-3.6 0h7.2M469.8 545.5h7.2m-3.6 0V528.7m-3.6 0h7.2M475.3 547.7h7.2m-3.6 0V531.3m-3.6 0h7.2M480.9 548.4h7.2m-3.6 0V532.0m-3.6 0h7.2M486.4 549.0h7.2m-3.6 0V532.8m-3.6 0h7.2M492.0 552.2h7.2m-3.6 0V536.6m-3.6 0h7.2M497.6 556.6h7.2m-3.6 0V541.7m-3.6 0h7.2M503.1 559.8h7.2m-3.6 0V545.6m-3.6 0h7.2M508.7 554.9h7.2m-3.6 0V539.7m-3.6 0h7.2M514.2 556.2h7.2m-3.6 0V541.3m-3.6 0h7.2M519.8 558.2h7.2m-3.6 0V543.6m-3.6 0h7.2M525.4 563.8h7.2m-3.6 0V550.4m-3.6 0h7.2M530.9 564.3h7.2m-3.6 0V551.0m-3.6 0h7.2M536.5 566.0h7.2m-3.6 0V553.0m-3.6 0h7.2M542.0 566.8h7.2m-3.6 0V554.1m-3.6 0h7.2M547.6 566.0h7.2m-3.6 0V553.0m-3.6 0h7.2M553.2 568.3h7.2m-3.6 0V555.8m-3.6 0h7.2M558.7 567.0h7.2m-3.6 0V554.3m-3.6 0h7.2M564.3 567.7h7.2m-3.6 0V555.1m-3.6 0h7.2M569.8 565.4h7.2m-3.6 0V552.4m-3.6 0h7.2M575.4 571.5h7.2m-3.6 0V559.9m-3.6 0h7.2M581.0 569.0h7.2m-3.6 0V556.8m-3.6 0h7.2M586.5 571.4h7.2m-3.6 0V559.8m-3.6 0h7.2M592.1 572.2h7.2m-3.6 0V560.7m-3.6 0h7.2M597.6 574.9h7.2m-3.6 0V564.1m-3.6 0h7.2M603.2 574.4h7.2m-3.6 0V563.5m-3.6 0h7.2M608.8 573.7h7.2m-3.6 0V562.6m-3.6 0h7.2M614.3 575.5h7.2m-3.6 0V564.9m-3.6 0h7.2M619.9 576.1h7.2m-3.6 0V565.6m-3.6 0h7.2M625.4 577.2h7.2m-3.6 0V567.0m-3.6 0h7.2M631.0 576.3h7.2m-3.6 0V565.9m-3.6 0h7.2M636.6 578.5h7.2m-3.6 0V568.8m-3.6 0h7.2M642.1 581.3h7.2m-3.6 0V572.4m-3.6 0h7.2M647.7 580.8h7.2m-3.6 0V571.8m-3.6 0h7.2M653.2 582.5h7.2m-3.6 0V574.1m-3.6 0h7.2M658.8 584.0h7.2m-3.6 0V576.1m-3.6 0h7.2M664.4 582.8h7.2m-3.6 0V574.5m-3.6 0h7.2M669.9 582.1h7.2m-3.6 0V573.6m-3.6 0h7.2M675.5 583.6h7.2m-3.6 0V575.6m-3.6 0h7.2M681.0 584.9h7.2m-3.6 0V577.4m-3.6 0h7.2M686.6 585.3h7.2m-3.6 0V577.9m-3.6 0h7.2M692.2 584.4h7.2m-3.6 0V576.6m-3.6 0h7.2M697.7 585.2h7.2m-3.6 0V577.7m-3.6 0h7.2M703.3 585.4h7.2m-3.6 0V578.1m-3.6 0h7.2M708.8 585.7h7.2m-3.6 0V578.5m-3.6 0h7.2M714.4 585.9h7.2m-3.6 0V578.8m-3.6 0h7.2M720.0 585.8h7.2m-3.6 0V578.6m-3.6 0h7.2M725.5 586.2h7.2m-3.6 0V579.2m-3.6 0h7.2M731.1 586.6h7.2m-3.6 0V579.8m-3.6 0h7.2M736.6 587.3h7.2m-3.6 0V580.9m-3.6 0h7.2M742.2 586.9h7.2m-3.6 0V580.3m-3.6 0h7.2M747.8 587.6h7.2m-3.6 0V581.3m-3.6 0h7.2M753.3 587.2h7.2m-3.6 0V580.6m-3.6 0h7.2M758.9 588.2h7.2m-3.6 0V582.2m-3.6 0h7.2M764.4 588.0h7.2m-3.6 0V582.0m-3.6 0h7.2M770.0 588.2h7.2m-3.6 0V582.2m-3.6 0h7.2M775.6 588.6h7.2m-3.6 0V582.8m-3.6 0h7.2M781.1 587.6h7.2m-3.6 0V581.2m-3.6 0h7.2M786.7 587.7h7.2m-3.6 0V581.4m-3.6 0h7.2" stroke="#00bfbf" stroke-width="2.1" fill="none"/><polyline points="339.9,500.7 345.5,495.8 351.0,491.8 356.6,488.8 362.2,487.0 367.7,486.4 373.3,486.8 378.8,488.1 384.4,490.1 390.0,492.5 395.5,495.2 401.1,498.0 406.6,500.9 412.2,503.9 417.8,506.9 423.3,510.0 428.9,513.1 434.4,516.2 440.0,519.3 445.6,522.4 451.1,525.3 456.7,528.2 462.2,530.9 467.8,533.5 473.4,536.0 478.9,538.4 484.5,540.6 490.0,542.8 495.6,544.8 501.2,546.7 506.7,548.5 512.3,550.2 517.8,551.9 523.4,553.4 529.0,554.9 534.5,556.3 540.1,557.6 545.6,558.7 551.2,559.6 556.8,560.5 562.3,561.3 567.9,562.1 573.4,563.0 579.0,563.8 584.6,564.8 590.1,565.7 595.7,566.7 601.2,567.7 606.8,568.6 612.4,569.5 617.9,570.5 623.5,571.5 629.0,572.5 634.6,573.5 640.2,574.5 645.7,575.5 651.3,576.5 656.8,577.3 662.4,578.0 668.0,578.7 673.5,579.3 679.1,579.8 684.6,580.2 690.2,580.7 695.8,581.0 701.3,581.4 706.9,581.7 712.4,582.0 718.0,582.4 723.6,582.7 729.1,583.0 734.7,583.3 740.2,583.6 745.8,583.9 751.4,584.1 756.9,584.4 762.5,584.6 768.0,584.8 773.6,584.9 779.2,584.9 784.7,585.0 790.3,584.9" stroke="#00bfbf" stroke-width="2.3" fill="none" stroke-dasharray="8.5 3.7"/><path d="M336.3 398.3h7.2m-3.6 0V361.6m-3.6 0h7.2M341.9 381.4h7.2m-3.6 0V343.3m-3.6 0h7.2M347.4 375.4h7.2m-3.6 0V336.7m-3.6 0h7.2M353.0 372.7h7.2m-3.6 0V333.8m-3.6 0h7.2M358.6 387.5h7.2m-3.6 0V349.9m-3.6 0h7.2M364.1 389.5h7.2m-3.6 0V352.1m-3.6 0h7.2M369.7 389.5h7.2m-3.6 0V352.1m-3.6 0h7.2M375.2 392.2h7.2m-3.6 0V355.0m-3.6 0h7.2M380.8 396.9h7.2m-3.6 0V360.2m-3.6 0h7.2M386.4 407.7h7.2m-3.6 0V371.9m-3.6 0h7.2M391.9 419.8h7.2m-3.6 0V385.1m-3.6 0h7.2M397.5 412.4h7.2m-3.6 0V377.0m-3.6 0h7.2M403.0 425.8h7.2m-3.6 0V391.7m-3.6 0h7.2M408.6 427.1h7.2m-3.6 0V393.2m-3.6 0h7.2M414.2 435.2h7.2m-3.6 0V402.0m-3.6 0h7.2M419.7 437.9h7.2m-3.6 0V405.0m-3.6 0h7.2M425.3 453.2h7.2m-3.6 0V421.9m-3.6 0h7.2M430.8 454.6h7.2m-3.6 0V423.4m-3.6 0h7.2M436.4 454.6h7.2m-3.6 0V423.4m-3.6 0h7.2M442.0 472.5h7.2m-3.6 0V443.4m-3.6 0h7.2M447.5 478.5h7.2m-3.6 0V450.1m-3.6 0h7.2M453.1 483.2h7.2m-3.6 0V455.3m-3.6 0h7.2M458.6 487.8h7.2m-3.6 0V460.5m-3.6 0h7.2M464.2 492.4h7.2m-3.6 0V465.7m-3.6 0h7.2M469.8 498.4h7.2m-3.6 0V472.4m-3.6 0h7.2M475.3 504.3h7.2m-3.6 0V479.1m-3.6 0h7.2M480.9 510.2h7.2m-3.6 0V485.8m-3.6 0h7.2M486.4 510.2h7.2m-3.6 0V485.8m-3.6 0h7.2M492.0 511.5h7.2m-3.6 0V487.3m-3.6 0h7.2M497.6 518.8h7.2m-3.6 0V495.6m-3.6 0h7.2M503.1 519.0h7.2m-3.6 0V495.9m-3.6 0h7.2M508.7 523.6h7.2m-3.6 0V501.2m-3.6 0h7.2M514.2 536.4h7.2m-3.6 0V516.0m-3.6 0h7.2M519.8 532.5h7.2m-3.6 0V511.4m-3.6 0h7.2M525.4 538.5h7.2m-3.6 0V518.4m-3.6 0h7.2M530.9 540.4h7.2m-3.6 0V520.6m-3.6 0h7.2M536.5 545.7h7.2m-3.6 0V526.9m-3.6 0h7.2M542.0 543.6h7.2m-3.6 0V524.4m-3.6 0h7.2M547.6 543.3h7.2m-3.6 0V524.1m-3.6 0h7.2M553.2 541.6h7.2m-3.6 0V522.1m-3.6 0h7.2M558.7 545.8h7.2m-3.6 0V527.1m-3.6 0h7.2M564.3 549.0h7.2m-3.6 0V530.8m-3.6 0h7.2M569.8 547.6h7.2m-3.6 0V529.1m-3.6 0h7.2M575.4 554.0h7.2m-3.6 0V536.8m-3.6 0h7.2M581.0 555.2h7.2m-3.6 0V538.2m-3.6 0h7.2M586.5 559.7h7.2m-3.6 0V543.7m-3.6 0h7.2M592.1 554.9h7.2m-3.6 0V537.9m-3.6 0h7.2M597.6 557.9h7.2m-3.6 0V541.6m-3.6 0h7.2M603.2 559.7h7.2m-3.6 0V543.7m-3.6 0h7.2M608.8 561.1h7.2m-3.6 0V545.5m-3.6 0h7.2M614.3 563.0h7.2m-3.6 0V547.8m-3.6 0h7.2M619.9 563.7h7.2m-3.6 0V548.6m-3.6 0h7.2M625.4 565.3h7.2m-3.6 0V550.6m-3.6 0h7.2M631.0 566.1h7.2m-3.6 0V551.5m-3.6 0h7.2M636.6 567.2h7.2m-3.6 0V553.0m-3.6 0h7.2M642.1 566.6h7.2m-3.6 0V552.2m-3.6 0h7.2M647.7 569.4h7.2m-3.6 0V555.7m-3.6 0h7.2M653.2 571.5h7.2m-3.6 0V558.3m-3.6 0h7.2M658.8 573.3h7.2m-3.6 0V560.6m-3.6 0h7.2M664.4 574.0h7.2m-3.6 0V561.5m-3.6 0h7.2M669.9 572.1h7.2m-3.6 0V559.1m-3.6 0h7.2M675.5 574.0h7.2m-3.6 0V561.5m-3.6 0h7.2M681.0 575.0h7.2m-3.6 0V562.9m-3.6 0h7.2M686.6 576.0h7.2m-3.6 0V564.2m-3.6 0h7.2M692.2 577.6h7.2m-3.6 0V566.3m-3.6 0h7.2M697.7 577.6h7.2m-3.6 0V566.2m-3.6 0h7.2M703.3 577.6h7.2m-3.6 0V566.3m-3.6 0h7.2M708.8 579.4h7.2m-3.6 0V568.7m-3.6 0h7.2M714.4 580.1h7.2m-3.6 0V569.6m-3.6 0h7.2M720.0 580.6h7.2m-3.6 0V570.3m-3.6 0h7.2M725.5 580.8h7.2m-3.6 0V570.6m-3.6 0h7.2M731.1 582.4h7.2m-3.6 0V572.8m-3.6 0h7.2M736.6 582.0h7.2m-3.6 0V572.2m-3.6 0h7.2M742.2 582.8h7.2m-3.6 0V573.3m-3.6 0h7.2M747.8 582.0h7.2m-3.6 0V572.2m-3.6 0h7.2M753.3 583.2h7.2m-3.6 0V573.9m-3.6 0h7.2M758.9 582.7h7.2m-3.6 0V573.1m-3.6 0h7.2M764.4 582.3h7.2m-3.6 0V572.7m-3.6 0h7.2M770.0 583.6h7.2m-3.6 0V574.5m-3.6 0h7.2M775.6 584.8h7.2m-3.6 0V576.2m-3.6 0h7.2M781.1 585.4h7.2m-3.6 0V577.0m-3.6 0h7.2M786.7 586.3h7.2m-3.6 0V578.4m-3.6 0h7.2" stroke="#bf00bf" stroke-width="2.1" fill="none"/><polyline points="339.9,366.0 345.5,364.8 351.0,364.9 356.6,366.2 362.2,368.5 367.7,371.8 373.3,375.7 378.8,380.3 384.4,385.3 390.0,390.7 395.5,396.4 401.1,402.3 406.6,408.5 412.2,414.8 417.8,421.3 423.3,428.0 428.9,434.8 434.4,441.7 440.0,448.5 445.6,455.3 451.1,461.9 456.7,468.1 462.2,474.1 467.8,479.7 473.4,484.9 478.9,489.9 484.5,494.5 490.0,499.0 495.6,503.4 501.2,507.6 506.7,511.7 512.3,515.6 517.8,519.3 523.4,522.7 529.0,525.7 534.5,528.4 540.1,530.7 545.6,532.7 551.2,534.6 556.8,536.4 562.3,538.2 567.9,540.0 573.4,541.9 579.0,543.8 584.6,545.6 590.1,547.4 595.7,549.0 601.2,550.6 606.8,552.1 612.4,553.5 617.9,554.9 623.5,556.3 629.0,557.7 634.6,559.0 640.2,560.3 645.7,561.6 651.3,562.9 656.8,564.1 662.4,565.2 668.0,566.3 673.5,567.4 679.1,568.4 684.6,569.3 690.2,570.3 695.8,571.2 701.3,572.1 706.9,572.9 712.4,573.7 718.0,574.5 723.6,575.2 729.1,575.8 734.7,576.4 740.2,576.9 745.8,577.3 751.4,577.8 756.9,578.2 762.5,578.7 768.0,579.2 773.6,579.7 779.2,580.4 784.7,581.1 790.3,581.8" stroke="#bf00bf" stroke-width="2.3" fill="none" stroke-dasharray="8.5 3.7"/></g><rect x="317.60" y="240.80" width="495.60" height="351.40" fill="none" stroke="#000" stroke-width="1.3"/><path d="M328.8 592.2v5.9M384.4 592.2v5.9M440.0 592.2v5.9M495.6 592.2v5.9M551.2 592.2v5.9M606.8 592.2v5.9M662.4 592.2v5.9M718.0 592.2v5.9M773.6 592.2v5.9M317.6 592.2h-5.9M317.6 521.9h-5.9M317.6 451.6h-5.9M317.6 381.4h-5.9M317.6 311.1h-5.9M317.6 240.8h-5.9" stroke="#000" stroke-width="1.3" fill="none"/><g font-family="'DejaVu Sans', 'Liberation Sans', sans-serif" font-size="16.8" fill="#000"><text x="328.8" y="616.3" text-anchor="middle">0</text><text x="384.4" y="616.3" text-anchor="middle">1</text><text x="440.0" y="616.3" text-anchor="middle">2</text><text x="495.6" y="616.3" text-anchor="middle">3</text><text x="551.2" y="616.3" text-anchor="middle">4</text><text x="606.8" y="616.3" text-anchor="middle">5</text><text x="662.4" y="616.3" text-anchor="middle">6</text><text x="718.0" y="616.3" text-anchor="middle">7</text><text x="773.6" y="616.3" text-anchor="middle">8</text><text x="305.9" y="599.4" text-anchor="end">0</text><text x="305.9" y="529.1" text-anchor="end">1</text><text x="305.9" y="458.8" text-anchor="end">2</text><text x="305.9" y="388.6" text-anchor="end">3</text><text x="305.9" y="318.3" text-anchor="end">4</text><text x="305.9" y="248.0" text-anchor="end">5</text></g><text transform="translate(467.3,29.7) scale(0.955,1)" text-anchor="middle" font-family="'DejaVu Sans', 'Liberation Sans', sans-serif" font-weight="bold" font-size="25" fill="#000" xml:space="preserve">Tungsten Filament Sliced Shields</text><text transform="translate(467.3,55.3) scale(0.955,1)" text-anchor="middle" font-family="'DejaVu Sans', 'Liberation Sans', sans-serif" font-weight="bold" font-size="25" fill="#000" xml:space="preserve">Different Positions From Applicator Midpoint</text><text transform="translate(466.3,826.0) scale(0.97,1)" text-anchor="middle" font-family="'DejaVu Sans', 'Liberation Sans', sans-serif" font-weight="bold" font-size="24.6" fill="#000">Distance from Applicator Surface (cm)</text><text transform="translate(50.4,418.6) rotate(-90)" x="0" y="0" text-anchor="middle" font-family="'DejaVu Sans', 'Liberation Sans', sans-serif" font-weight="bold" font-size="24.6" fill="#000">PDD (%)</text><text x="378.5" y="912.8" text-anchor="middle" font-family="'Liberation Serif', 'DejaVu Serif', serif" font-size="47.5" fill="#000">(e)</text><rect x="1004.40" y="65.30" width="707.90" height="702.70" fill="#fff"/><g clip-path="url(#c3)"><path d="M1036.3 106.7h0M1044.2 191.0h0M1052.2 257.1h0M1060.1 320.0h0M1068.0 357.8h0M1076.0 406.9h0M1083.9 444.6h0M1091.9 474.2h0M1099.8 500.6h0M1107.7 527.1h0M1115.7 544.7h0M1123.6 563.6h0M1131.6 579.9h0M1139.5 590.6h0M1147.4 607.6h0M1155.4 616.4h0M1163.3 625.9h0M1171.3 636.6h0M1179.2 641.6h0M1187.1 651.0h0M1195.1 657.3h0M1203.0 664.9h0M1211.0 666.8h0M1218.9 672.4h0M1226.8 678.7h0M1234.8 683.1h0M1242.7 685.7h0M1250.7 688.8h0M1258.6 693.8h0M1266.5 697.0h0M1274.5 699.5h0M1282.4 700.8h0M1290.4 703.0h0M1298.3 704.2h0M1306.2 705.3h0M1314.2 707.6h0M1322.1 709.3h0M1330.1 711.7h0M1338.0 710.7h0M1345.9 712.1h0M1353.9 713.7h0M1361.8 716.9h0M1369.8 716.6h0M1377.7 717.6h0M1385.6 719.1h0M1393.6 721.1h0M1401.5 720.7h0M1409.5 721.7h0M1417.4 721.7h0M1425.3 723.2h0M1433.3 723.5h0M1441.2 724.9h0M1449.2 725.1h0M1457.1 725.3h0M1465.0 726.1h0M1473.0 726.4h0M1480.9 726.4h0M1488.9 727.3h0M1496.8 727.7h0M1504.7 727.9h0M1512.7 728.1h0M1520.6 728.3h0M1528.6 728.7h0M1536.5 729.1h0M1544.4 729.4h0M1552.4 729.5h0M1560.3 729.8h0M1568.3 730.3h0M1576.2 730.7h0M1584.1 730.8h0M1592.1 731.0h0M1600.0 731.0h0M1608.0 731.0h0M1615.9 731.5h0M1623.8 731.8h0M1631.8 731.8h0M1639.7 731.7h0M1647.7 732.2h0M1655.6 732.7h0M1663.5 732.9h0M1671.5 733.1h0M1679.4 733.4h0" stroke="#0000ff" stroke-width="11.4" stroke-linecap="round"/><path d="M1036.3 717.6h0M1044.2 714.6h0M1052.2 713.0h0M1060.1 714.7h0M1068.0 714.8h0M1076.0 715.6h0M1083.9 715.3h0M1091.9 717.0h0M1099.8 717.8h0M1107.7 716.7h0M1115.7 718.5h0M1123.6 718.1h0M1131.6 718.7h0M1139.5 719.9h0M1147.4 720.3h0M1155.4 720.4h0M1163.3 722.3h0M1171.3 723.1h0M1179.2 724.0h0M1187.1 723.9h0M1195.1 723.8h0M1203.0 724.5h0M1211.0 725.6h0M1218.9 726.1h0M1226.8 726.5h0M1234.8 726.8h0M1242.7 727.4h0M1250.7 727.8h0M1258.6 728.2h0M1266.5 728.7h0M1274.5 728.9h0M1282.4 729.1h0M1290.4 729.5h0M1298.3 729.6h0M1306.2 729.6h0M1314.2 730.1h0M1322.1 730.4h0M1330.1 731.0h0M1338.0 730.8h0M1345.9 731.5h0M1353.9 731.6h0M1361.8 731.5h0M1369.8 731.8h0M1377.7 732.1h0M1385.6 732.5h0M1393.6 732.5h0M1401.5 732.7h0M1409.5 732.7h0M1417.4 732.7h0M1425.3 733.1h0M1433.3 733.3h0M1441.2 733.4h0M1449.2 733.4h0M1457.1 733.6h0M1465.0 733.7h0M1473.0 733.7h0M1480.9 733.9h0M1488.9 733.8h0M1496.8 733.9h0M1504.7 734.0h0M1512.7 734.2h0M1520.6 734.2h0M1528.6 734.4h0M1536.5 734.4h0M1544.4 734.5h0M1552.4 734.6h0M1560.3 734.7h0M1568.3 734.6h0M1576.2 734.7h0M1584.1 734.8h0M1592.1 734.8h0M1600.0 735.0h0M1608.0 735.0h0M1615.9 735.0h0M1623.8 735.0h0M1631.8 735.1h0M1639.7 735.0h0M1647.7 735.1h0M1655.6 735.2h0M1663.5 735.2h0M1671.5 735.1h0M1679.4 735.2h0" stroke="#008000" stroke-width="11.4" stroke-linecap="round"/><path d="M1036.3 718.2h0M1044.2 714.0h0M1052.2 714.2h0M1060.1 713.5h0M1068.0 714.9h0M1076.0 715.1h0M1083.9 716.3h0M1091.9 714.3h0M1099.8 717.2h0M1107.7 716.4h0M1115.7 718.3h0M1123.6 718.7h0M1131.6 720.5h0M1139.5 720.3h0M1147.4 720.0h0M1155.4 722.0h0M1163.3 721.7h0M1171.3 722.7h0M1179.2 723.9h0M1187.1 724.1h0M1195.1 724.6h0M1203.0 724.9h0M1211.0 725.5h0M1218.9 726.1h0M1226.8 726.4h0M1234.8 727.2h0M1242.7 727.8h0M1250.7 727.8h0M1258.6 728.0h0M1266.5 729.0h0M1274.5 728.9h0M1282.4 729.3h0M1290.4 729.7h0M1298.3 729.5h0M1306.2 730.1h0M1314.2 729.9h0M1322.1 730.6h0M1330.1 730.6h0M1338.0 730.9h0M1345.9 731.3h0M1353.9 731.3h0M1361.8 731.7h0M1369.8 731.8h0M1377.7 732.1h0M1385.6 732.4h0M1393.6 732.5h0M1401.5 732.6h0M1409.5 732.7h0M1417.4 733.1h0M1425.3 733.1h0M1433.3 733.4h0M1441.2 733.3h0M1449.2 733.5h0M1457.1 733.7h0M1465.0 733.6h0M1473.0 733.6h0M1480.9 733.9h0M1488.9 734.0h0M1496.8 734.0h0M1504.7 734.2h0M1512.7 734.2h0M1520.6 734.3h0M1528.6 734.4h0M1536.5 734.4h0M1544.4 734.5h0M1552.4 734.5h0M1560.3 734.7h0M1568.3 734.7h0M1576.2 734.8h0M1584.1 734.7h0M1592.1 734.9h0M1600.0 734.9h0M1608.0 734.9h0M1615.9 735.0h0M1623.8 735.0h0M1631.8 735.0h0M1639.7 735.1h0M1647.7 735.1h0M1655.6 735.1h0M1663.5 735.2h0M1671.5 735.1h0M1679.4 735.2h0" stroke="#ff0000" stroke-width="11.4" stroke-linecap="round"/><path d="M1036.3 717.6h0M1044.2 716.0h0M1052.2 714.9h0M1060.1 713.5h0M1068.0 716.6h0M1076.0 714.5h0M1083.9 716.3h0M1091.9 715.4h0M1099.8 717.8h0M1107.7 717.7h0M1115.7 718.9h0M1123.6 719.4h0M1131.6 718.8h0M1139.5 719.6h0M1147.4 720.8h0M1155.4 721.9h0M1163.3 723.1h0M1171.3 723.0h0M1179.2 723.4h0M1187.1 724.0h0M1195.1 724.5h0M1203.0 725.3h0M1211.0 725.3h0M1218.9 725.8h0M1226.8 725.9h0M1234.8 726.2h0M1242.7 727.4h0M1250.7 728.0h0M1258.6 728.3h0M1266.5 728.7h0M1274.5 729.1h0M1282.4 729.2h0M1290.4 729.7h0M1298.3 729.6h0M1306.2 730.0h0M1314.2 730.2h0M1322.1 730.5h0M1330.1 730.8h0M1338.0 731.1h0M1345.9 731.2h0M1353.9 731.5h0M1361.8 731.6h0M1369.8 731.9h0M1377.7 732.3h0M1385.6 732.3h0M1393.6 732.6h0M1401.5 732.7h0M1409.5 732.9h0M1417.4 733.2h0M1425.3 733.1h0M1433.3 733.2h0M1441.2 733.3h0M1449.2 733.5h0M1457.1 733.6h0M1465.0 733.7h0M1473.0 733.8h0M1480.9 733.9h0M1488.9 733.9h0M1496.8 734.1h0M1504.7 734.1h0M1512.7 734.2h0M1520.6 734.3h0M1528.6 734.4h0M1536.5 734.4h0M1544.4 734.6h0M1552.4 734.5h0M1560.3 734.6h0M1568.3 734.7h0M1576.2 734.7h0M1584.1 734.8h0M1592.1 734.9h0M1600.0 734.9h0M1608.0 734.9h0M1615.9 735.0h0M1623.8 735.1h0M1631.8 735.0h0M1639.7 735.0h0M1647.7 735.1h0M1655.6 735.1h0M1663.5 735.2h0M1671.5 735.1h0M1679.4 735.2h0" stroke="#00bfbf" stroke-width="11.4" stroke-linecap="round"/><path d="M1036.3 718.5h0M1044.2 714.7h0M1052.2 715.7h0M1060.1 715.5h0M1068.0 715.1h0M1076.0 713.9h0M1083.9 715.8h0M1091.9 716.0h0M1099.8 715.9h0M1107.7 716.4h0M1115.7 718.0h0M1123.6 718.9h0M1131.6 720.3h0M1139.5 720.5h0M1147.4 720.4h0M1155.4 721.2h0M1163.3 722.2h0M1171.3 722.4h0M1179.2 723.7h0M1187.1 724.0h0M1195.1 724.1h0M1203.0 724.6h0M1211.0 724.9h0M1218.9 725.7h0M1226.8 726.4h0M1234.8 726.7h0M1242.7 727.7h0M1250.7 728.3h0M1258.6 728.1h0M1266.5 728.6h0M1274.5 728.8h0M1282.4 729.6h0M1290.4 729.5h0M1298.3 729.8h0M1306.2 730.1h0M1314.2 730.7h0M1322.1 730.5h0M1330.1 730.5h0M1338.0 730.8h0M1345.9 731.3h0M1353.9 731.4h0M1361.8 731.5h0M1369.8 732.3h0M1377.7 732.1h0M1385.6 732.2h0M1393.6 732.4h0M1401.5 732.4h0M1409.5 732.7h0M1417.4 732.9h0M1425.3 733.1h0M1433.3 733.1h0M1441.2 733.4h0M1449.2 733.4h0M1457.1 733.5h0M1465.0 733.5h0M1473.0 733.7h0M1480.9 733.8h0M1488.9 733.9h0M1496.8 733.9h0M1504.7 734.1h0M1512.7 734.1h0M1520.6 734.3h0M1528.6 734.4h0M1536.5 734.4h0M1544.4 734.5h0M1552.4 734.5h0M1560.3 734.7h0M1568.3 734.7h0M1576.2 734.7h0M1584.1 734.8h0M1592.1 734.9h0M1600.0 734.9h0M1608.0 734.9h0M1615.9 735.0h0M1623.8 735.0h0M1631.8 735.0h0M1639.7 735.1h0M1647.7 735.1h0M1655.6 735.1h0M1663.5 735.2h0M1671.5 735.2h0M1679.4 735.2h0" stroke="#bf00bf" stroke-width="11.4" stroke-linecap="round"/><path d="M1036.3 716.5h0M1044.2 714.8h0M1052.2 715.3h0M1060.1 714.5h0M1068.0 714.9h0M1076.0 714.2h0M1083.9 716.0h0M1091.9 716.5h0M1099.8 716.2h0M1107.7 716.0h0M1115.7 716.6h0M1123.6 718.7h0M1131.6 719.4h0M1139.5 719.2h0M1147.4 720.6h0M1155.4 721.9h0M1163.3 722.2h0M1171.3 722.6h0M1179.2 723.8h0M1187.1 724.6h0M1195.1 725.0h0M1203.0 724.6h0M1211.0 725.6h0M1218.9 725.9h0M1226.8 726.2h0M1234.8 726.7h0M1242.7 727.5h0M1250.7 727.7h0M1258.6 728.5h0M1266.5 728.7h0M1274.5 729.1h0M1282.4 728.9h0M1290.4 729.4h0M1298.3 729.9h0M1306.2 730.0h0M1314.2 730.3h0M1322.1 730.3h0M1330.1 731.0h0M1338.0 731.1h0M1345.9 731.2h0M1353.9 731.0h0M1361.8 731.5h0M1369.8 731.9h0M1377.7 732.0h0M1385.6 732.0h0M1393.6 732.5h0M1401.5 732.7h0M1409.5 732.7h0M1417.4 732.9h0M1425.3 733.0h0M1433.3 733.3h0M1441.2 733.1h0M1449.2 733.3h0M1457.1 733.5h0M1465.0 733.6h0M1473.0 733.9h0M1480.9 733.8h0M1488.9 733.9h0M1496.8 734.0h0M1504.7 734.0h0M1512.7 734.2h0M1520.6 734.4h0M1528.6 734.3h0M1536.5 734.5h0M1544.4 734.5h0M1552.4 734.6h0M1560.3 734.6h0M1568.3 734.8h0M1576.2 734.7h0M1584.1 734.8h0M1592.1 734.8h0M1600.0 734.8h0M1608.0 734.9h0M1615.9 735.1h0M1623.8 735.0h0M1631.8 735.1h0M1639.7 735.1h0M1647.7 735.1h0M1655.6 735.2h0M1663.5 735.1h0M1671.5 735.2h0M1679.4 735.2h0" stroke="#bfbf00" stroke-width="11.4" stroke-linecap="round"/><path d="M1036.3 579.3h0M1044.2 593.1h0M1052.2 603.8h0M1060.1 615.2h0M1068.0 623.4h0M1076.0 631.5h0M1083.9 640.3h0M1091.9 647.3h0M1099.8 653.6h0M1107.7 661.1h0M1115.7 666.1h0M1123.6 668.7h0M1131.6 676.2h0M1139.5 680.0h0M1147.4 681.3h0M1155.4 685.0h0M1163.3 687.5h0M1171.3 690.1h0M1179.2 695.1h0M1187.1 698.2h0M1195.1 700.8h0M1203.0 702.0h0M1211.0 703.9h0M1218.9 705.0h0M1226.8 706.7h0M1234.8 708.8h0M1242.7 708.9h0M1250.7 711.0h0M1258.6 712.7h0M1266.5 714.3h0M1274.5 714.3h0M1282.4 717.1h0M1290.4 717.1h0M1298.3 717.9h0M1306.2 719.1h0M1314.2 719.8h0M1322.1 721.3h0M1330.1 719.8h0M1338.0 721.9h0M1345.9 723.1h0M1353.9 724.1h0M1361.8 724.7h0M1369.8 725.0h0M1377.7 725.6h0M1385.6 726.1h0M1393.6 726.5h0M1401.5 726.6h0M1409.5 726.6h0M1417.4 727.4h0M1425.3 727.8h0M1433.3 728.3h0M1441.2 729.0h0M1449.2 729.5h0M1457.1 729.4h0M1465.0 729.7h0M1473.0 730.2h0M1480.9 730.6h0M1488.9 730.3h0M1496.8 730.5h0M1504.7 731.0h0M1512.7 731.3h0M1520.6 731.6h0M1528.6 731.9h0M1536.5 731.8h0M1544.4 732.1h0M1552.4 732.0h0M1560.3 732.2h0M1568.3 732.5h0M1576.2 732.8h0M1584.1 732.8h0M1592.1 732.9h0M1600.0 732.9h0M1608.0 733.0h0M1615.9 733.1h0M1623.8 733.3h0M1631.8 733.4h0M1639.7 733.5h0M1647.7 733.6h0M1655.6 733.7h0M1663.5 733.7h0M1671.5 733.8h0M1679.4 733.9h0" stroke="#ffa500" stroke-width="11.4" stroke-linecap="round"/><path d="M1032.7 116.1h7.2m-3.6 0V97.3m-3.6 0h7.2M1040.6 199.8h7.2m-3.6 0V182.2m-3.6 0h7.2M1048.6 265.3h7.2m-3.6 0V248.9m-3.6 0h7.2M1056.5 327.7h7.2m-3.6 0V312.4m-3.6 0h7.2M1064.4 365.1h7.2m-3.6 0V350.5m-3.6 0h7.2M1072.4 413.7h7.2m-3.6 0V400.0m-3.6 0h7.2M1080.3 451.1h7.2m-3.6 0V438.2m-3.6 0h7.2M1088.3 480.3h7.2m-3.6 0V468.1m-3.6 0h7.2M1096.2 506.4h7.2m-3.6 0V494.9m-3.6 0h7.2M1104.1 532.5h7.2m-3.6 0V521.6m-3.6 0h7.2M1112.1 549.9h7.2m-3.6 0V539.5m-3.6 0h7.2M1120.0 568.5h7.2m-3.6 0V558.6m-3.6 0h7.2M1128.0 584.6h7.2m-3.6 0V575.2m-3.6 0h7.2M1135.9 595.2h7.2m-3.6 0V586.1m-3.6 0h7.2M1143.8 611.9h7.2m-3.6 0V603.4m-3.6 0h7.2M1151.8 620.5h7.2m-3.6 0V612.3m-3.6 0h7.2M1159.7 629.8h7.2m-3.6 0V621.9m-3.6 0h7.2M1167.7 640.3h7.2m-3.6 0V632.8m-3.6 0h7.2M1175.6 645.3h7.2m-3.6 0V637.9m-3.6 0h7.2M1183.5 654.5h7.2m-3.6 0V647.6m-3.6 0h7.2M1191.5 660.7h7.2m-3.6 0V654.0m-3.6 0h7.2M1199.4 668.1h7.2m-3.6 0V661.7m-3.6 0h7.2M1207.4 669.9h7.2m-3.6 0V663.6m-3.6 0h7.2M1215.3 675.4h7.2m-3.6 0V669.4m-3.6 0h7.2M1223.2 681.6h7.2m-3.6 0V675.9m-3.6 0h7.2M1231.2 685.9h7.2m-3.6 0V680.4m-3.6 0h7.2M1239.1 688.3h7.2m-3.6 0V683.0m-3.6 0h7.2M1247.1 691.4h7.2m-3.6 0V686.2m-3.6 0h7.2M1255.0 696.3h7.2m-3.6 0V691.4m-3.6 0h7.2M1262.9 699.3h7.2m-3.6 0V694.6m-3.6 0h7.2M1270.9 701.8h7.2m-3.6 0V697.2m-3.6 0h7.2M1278.8 703.0h7.2m-3.6 0V698.5m-3.6 0h7.2M1286.8 705.1h7.2m-3.6 0V700.8m-3.6 0h7.2M1294.7 706.3h7.2m-3.6 0V702.1m-3.6 0h7.2M1302.6 707.4h7.2m-3.6 0V703.2m-3.6 0h7.2M1310.6 709.6h7.2m-3.6 0V705.6m-3.6 0h7.2M1318.5 711.3h7.2m-3.6 0V707.4m-3.6 0h7.2M1326.5 713.6h7.2m-3.6 0V709.9m-3.6 0h7.2M1334.4 712.6h7.2m-3.6 0V708.8m-3.6 0h7.2M1342.3 714.0h7.2m-3.6 0V710.3m-3.6 0h7.2M1350.3 715.5h7.2m-3.6 0V711.9m-3.6 0h7.2M1358.2 718.5h7.2m-3.6 0V715.2m-3.6 0h7.2M1366.2 718.2h7.2m-3.6 0V714.9m-3.6 0h7.2M1374.1 719.2h7.2m-3.6 0V715.9m-3.6 0h7.2M1382.0 720.7h7.2m-3.6 0V717.6m-3.6 0h7.2M1390.0 722.6h7.2m-3.6 0V719.7m-3.6 0h7.2M1397.9 722.2h7.2m-3.6 0V719.2m-3.6 0h7.2M1405.9 723.1h7.2m-3.6 0V720.3m-3.6 0h7.2M1413.8 723.1h7.2m-3.6 0V720.3m-3.6 0h7.2M1421.7 724.5h7.2m-3.6 0V721.8m-3.6 0h7.2M1429.7 724.9h7.2m-3.6 0V722.2m-3.6 0h7.2M1437.6 726.1h7.2m-3.6 0V723.6m-3.6 0h7.2M1445.6 726.4h7.2m-3.6 0V723.9m-3.6 0h7.2M1453.5 726.5h7.2m-3.6 0V724.1m-3.6 0h7.2M1461.4 727.3h7.2m-3.6 0V724.9m-3.6 0h7.2M1469.4 727.6h7.2m-3.6 0V725.3m-3.6 0h7.2M1477.3 727.6h7.2m-3.6 0V725.3m-3.6 0h7.2M1485.3 728.4h7.2m-3.6 0V726.1m-3.6 0h7.2M1493.2 728.8h7.2m-3.6 0V726.6m-3.6 0h7.2M1501.1 729.0h7.2m-3.6 0V726.9m-3.6 0h7.2M1509.1 729.2h7.2m-3.6 0V727.1m-3.6 0h7.2M1517.0 729.4h7.2m-3.6 0V727.3m-3.6 0h7.2M1525.0 729.7h7.2m-3.6 0V727.7m-3.6 0h7.2M1532.9 730.1h7.2m-3.6 0V728.1m-3.6 0h7.2M1540.8 730.4h7.2m-3.6 0V728.4m-3.6 0h7.2M1548.8 730.5h7.2m-3.6 0V728.6m-3.6 0h7.2M1556.7 730.8h7.2m-3.6 0V728.9m-3.6 0h7.2M1564.7 731.2h7.2m-3.6 0V729.4m-3.6 0h7.2M1572.6 731.6h7.2m-3.6 0V729.8m-3.6 0h7.2M1580.5 731.7h7.2m-3.6 0V730.0m-3.6 0h7.2M1588.5 731.8h7.2m-3.6 0V730.1m-3.6 0h7.2M1596.4 731.8h7.2m-3.6 0V730.1m-3.6 0h7.2M1604.4 731.8h7.2m-3.6 0V730.1m-3.6 0h7.2M1612.3 732.3h7.2m-3.6 0V730.7m-3.6 0h7.2M1620.2 732.6h7.2m-3.6 0V731.1m-3.6 0h7.2M1628.2 732.6h7.2m-3.6 0V731.1m-3.6 0h7.2M1636.1 732.5h7.2m-3.6 0V730.9m-3.6 0h7.2M1644.1 733.0h7.2m-3.6 0V731.5m-3.6 0h7.2M1652.0 733.4h7.2m-3.6 0V732.0m-3.6 0h7.2M1659.9 733.5h7.2m-3.6 0V732.2m-3.6 0h7.2M1667.9 733.7h7.2m-3.6 0V732.5m-3.6 0h7.2M1675.8 734.0h7.2m-3.6 0V732.8m-3.6 0h7.2" stroke="#0000ff" stroke-width="2.1" fill="none"/><polyline points="1036.3,112.6 1044.2,189.1 1052.2,254.9 1060.1,311.6 1068.0,360.6 1076.0,403.0 1083.9,439.7 1091.9,471.4 1099.8,499.0 1107.7,522.8 1115.7,543.6 1123.6,561.8 1131.6,577.9 1139.5,592.0 1147.4,604.6 1155.4,615.8 1163.3,625.8 1171.3,634.8 1179.2,642.9 1187.1,650.2 1195.1,656.8 1203.0,662.8 1211.0,668.3 1218.9,673.3 1226.8,677.9 1234.8,682.2 1242.7,686.1 1250.7,689.7 1258.6,693.0 1266.5,695.9 1274.5,698.4 1282.4,700.6 1290.4,702.5 1298.3,704.3 1306.2,706.0 1314.2,707.6 1322.1,709.0 1330.1,710.4 1338.0,711.8 1345.9,713.1 1353.9,714.4 1361.8,715.7 1369.8,716.9 1377.7,718.0 1385.6,719.1 1393.6,720.0 1401.5,720.9 1409.5,721.6 1417.4,722.4 1425.3,723.1 1433.3,723.7 1441.2,724.4 1449.2,724.9 1457.1,725.5 1465.0,725.9 1473.0,726.4 1480.9,726.8 1488.9,727.1 1496.8,727.5 1504.7,727.8 1512.7,728.2 1520.6,728.5 1528.6,728.8 1536.5,729.1 1544.4,729.4 1552.4,729.7 1560.3,730.0 1568.3,730.2 1576.2,730.5 1584.1,730.7 1592.1,730.9 1600.0,731.1 1608.0,731.3 1615.9,731.5 1623.8,731.7 1631.8,731.9 1639.7,732.1 1647.7,732.4 1655.6,732.6 1663.5,732.9 1671.5,733.1 1679.4,733.4" stroke="#0000ff" stroke-width="2.3" fill="none" stroke-dasharray="8.5 3.7"/><path d="M1032.7 719.8h7.2m-3.6 0V715.3m-3.6 0h7.2M1040.6 717.1h7.2m-3.6 0V712.2m-3.6 0h7.2M1048.6 715.6h7.2m-3.6 0V710.5m-3.6 0h7.2M1056.5 717.2h7.2m-3.6 0V712.3m-3.6 0h7.2M1064.4 717.2h7.2m-3.6 0V712.3m-3.6 0h7.2M1072.4 718.0h7.2m-3.6 0V713.2m-3.6 0h7.2M1080.3 717.7h7.2m-3.6 0V712.9m-3.6 0h7.2M1088.3 719.3h7.2m-3.6 0V714.7m-3.6 0h7.2M1096.2 720.0h7.2m-3.6 0V715.5m-3.6 0h7.2M1104.1 719.0h7.2m-3.6 0V714.3m-3.6 0h7.2M1112.1 720.7h7.2m-3.6 0V716.3m-3.6 0h7.2M1120.0 720.3h7.2m-3.6 0V715.9m-3.6 0h7.2M1128.0 720.9h7.2m-3.6 0V716.5m-3.6 0h7.2M1135.9 722.1h7.2m-3.6 0V717.8m-3.6 0h7.2M1143.8 722.4h7.2m-3.6 0V718.2m-3.6 0h7.2M1151.8 722.5h7.2m-3.6 0V718.3m-3.6 0h7.2M1159.7 724.3h7.2m-3.6 0V720.4m-3.6 0h7.2M1167.7 725.0h7.2m-3.6 0V721.2m-3.6 0h7.2M1175.6 725.8h7.2m-3.6 0V722.2m-3.6 0h7.2M1183.5 725.7h7.2m-3.6 0V722.1m-3.6 0h7.2M1191.5 725.6h7.2m-3.6 0V722.0m-3.6 0h7.2M1199.4 726.3h7.2m-3.6 0V722.7m-3.6 0h7.2M1207.4 727.3h7.2m-3.6 0V724.0m-3.6 0h7.2M1215.3 727.8h7.2m-3.6 0V724.5m-3.6 0h7.2M1223.2 728.1h7.2m-3.6 0V724.9m-3.6 0h7.2M1231.2 728.4h7.2m-3.6 0V725.2m-3.6 0h7.2M1239.1 729.0h7.2m-3.6 0V725.9m-3.6 0h7.2M1247.1 729.3h7.2m-3.6 0V726.3m-3.6 0h7.2M1255.0 729.7h7.2m-3.6 0V726.7m-3.6 0h7.2M1262.9 730.1h7.2m-3.6 0V727.2m-3.6 0h7.2M1270.9 730.3h7.2m-3.6 0V727.5m-3.6 0h7.2M1278.8 730.5h7.2m-3.6 0V727.7m-3.6 0h7.2M1286.8 730.8h7.2m-3.6 0V728.1m-3.6 0h7.2M1294.7 730.9h7.2m-3.6 0V728.3m-3.6 0h7.2M1302.6 730.9h7.2m-3.6 0V728.2m-3.6 0h7.2M1310.6 731.4h7.2m-3.6 0V728.8m-3.6 0h7.2M1318.5 731.7h7.2m-3.6 0V729.2m-3.6 0h7.2M1326.5 732.2h7.2m-3.6 0V729.8m-3.6 0h7.2M1334.4 732.0h7.2m-3.6 0V729.6m-3.6 0h7.2M1342.3 732.6h7.2m-3.6 0V730.4m-3.6 0h7.2M1350.3 732.7h7.2m-3.6 0V730.5m-3.6 0h7.2M1358.2 732.6h7.2m-3.6 0V730.4m-3.6 0h7.2M1366.2 732.9h7.2m-3.6 0V730.7m-3.6 0h7.2M1374.1 733.2h7.2m-3.6 0V731.1m-3.6 0h7.2M1382.0 733.5h7.2m-3.6 0V731.5m-3.6 0h7.2M1390.0 733.5h7.2m-3.6 0V731.5m-3.6 0h7.2M1397.9 733.7h7.2m-3.6 0V731.8m-3.6 0h7.2M1405.9 733.7h7.2m-3.6 0V731.8m-3.6 0h7.2M1413.8 733.7h7.2m-3.6 0V731.8m-3.6 0h7.2M1421.7 734.0h7.2m-3.6 0V732.2m-3.6 0h7.2M1429.7 734.2h7.2m-3.6 0V732.4m-3.6 0h7.2M1437.6 734.3h7.2m-3.6 0V732.6m-3.6 0h7.2M1445.6 734.3h7.2m-3.6 0V732.6m-3.6 0h7.2M1453.5 734.4h7.2m-3.6 0V732.7m-3.6 0h7.2M1461.4 734.5h7.2m-3.6 0V732.9m-3.6 0h7.2M1469.4 734.5h7.2m-3.6 0V732.9m-3.6 0h7.2M1477.3 734.7h7.2m-3.6 0V733.1m-3.6 0h7.2M1485.3 734.6h7.2m-3.6 0V733.0m-3.6 0h7.2M1493.2 734.7h7.2m-3.6 0V733.1m-3.6 0h7.2M1501.1 734.8h7.2m-3.6 0V733.3m-3.6 0h7.2M1509.1 734.9h7.2m-3.6 0V733.5m-3.6 0h7.2M1517.0 734.9h7.2m-3.6 0V733.5m-3.6 0h7.2M1525.0 735.0h7.2m-3.6 0V733.7m-3.6 0h7.2M1532.9 735.1h7.2m-3.6 0V733.8m-3.6 0h7.2M1540.8 735.2h7.2m-3.6 0V733.9m-3.6 0h7.2M1548.8 735.2h7.2m-3.6 0V734.0m-3.6 0h7.2M1556.7 735.3h7.2m-3.6 0V734.1m-3.6 0h7.2M1564.7 735.3h7.2m-3.6 0V734.0m-3.6 0h7.2M1572.6 735.3h7.2m-3.6 0V734.2m-3.6 0h7.2M1580.5 735.4h7.2m-3.6 0V734.2m-3.6 0h7.2M1588.5 735.4h7.2m-3.6 0V734.2m-3.6 0h7.2M1596.4 735.5h7.2m-3.6 0V734.4m-3.6 0h7.2M1604.4 735.5h7.2m-3.6 0V734.4m-3.6 0h7.2M1612.3 735.5h7.2m-3.6 0V734.5m-3.6 0h7.2M1620.2 735.5h7.2m-3.6 0V734.5m-3.6 0h7.2M1628.2 735.6h7.2m-3.6 0V734.5m-3.6 0h7.2M1636.1 735.6h7.2m-3.6 0V734.5m-3.6 0h7.2M1644.1 735.6h7.2m-3.6 0V734.6m-3.6 0h7.2M1652.0 735.6h7.2m-3.6 0V734.7m-3.6 0h7.2M1659.9 735.6h7.2m-3.6 0V734.7m-3.6 0h7.2M1667.9 735.6h7.2m-3.6 0V734.6m-3.6 0h7.2M1675.8 735.6h7.2m-3.6 0V734.7m-3.6 0h7.2" stroke="#008000" stroke-width="2.1" fill="none"/><polyline points="1036.3,715.4 1044.2,715.2 1052.2,715.1 1060.1,715.2 1068.0,715.5 1076.0,715.8 1083.9,716.2 1091.9,716.7 1099.8,717.2 1107.7,717.7 1115.7,718.2 1123.6,718.8 1131.6,719.4 1139.5,720.0 1147.4,720.7 1155.4,721.4 1163.3,722.0 1171.3,722.7 1179.2,723.3 1187.1,723.9 1195.1,724.4 1203.0,725.0 1211.0,725.5 1218.9,726.0 1226.8,726.5 1234.8,726.9 1242.7,727.3 1250.7,727.7 1258.6,728.1 1266.5,728.5 1274.5,728.8 1282.4,729.1 1290.4,729.4 1298.3,729.7 1306.2,730.0 1314.2,730.2 1322.1,730.5 1330.1,730.8 1338.0,731.0 1345.9,731.3 1353.9,731.5 1361.8,731.7 1369.8,731.9 1377.7,732.1 1385.6,732.3 1393.6,732.5 1401.5,732.6 1409.5,732.8 1417.4,732.9 1425.3,733.1 1433.3,733.2 1441.2,733.3 1449.2,733.4 1457.1,733.6 1465.0,733.7 1473.0,733.7 1480.9,733.8 1488.9,733.9 1496.8,734.0 1504.7,734.1 1512.7,734.2 1520.6,734.3 1528.6,734.3 1536.5,734.4 1544.4,734.5 1552.4,734.6 1560.3,734.6 1568.3,734.7 1576.2,734.7 1584.1,734.8 1592.1,734.8 1600.0,734.9 1608.0,734.9 1615.9,735.0 1623.8,735.0 1631.8,735.0 1639.7,735.1 1647.7,735.1 1655.6,735.1 1663.5,735.1 1671.5,735.2 1679.4,735.2" stroke="#008000" stroke-width="2.3" fill="none" stroke-dasharray="8.5 3.7"/><path d="M1032.7 720.4h7.2m-3.6 0V715.9m-3.6 0h7.2M1040.6 716.4h7.2m-3.6 0V711.5m-3.6 0h7.2M1048.6 716.6h7.2m-3.6 0V711.7m-3.6 0h7.2M1056.5 716.0h7.2m-3.6 0V711.0m-3.6 0h7.2M1064.4 717.3h7.2m-3.6 0V712.5m-3.6 0h7.2M1072.4 717.5h7.2m-3.6 0V712.7m-3.6 0h7.2M1080.3 718.7h7.2m-3.6 0V714.0m-3.6 0h7.2M1088.3 716.8h7.2m-3.6 0V711.9m-3.6 0h7.2M1096.2 719.5h7.2m-3.6 0V714.9m-3.6 0h7.2M1104.1 718.8h7.2m-3.6 0V714.1m-3.6 0h7.2M1112.1 720.6h7.2m-3.6 0V716.1m-3.6 0h7.2M1120.0 720.9h7.2m-3.6 0V716.5m-3.6 0h7.2M1128.0 722.6h7.2m-3.6 0V718.4m-3.6 0h7.2M1135.9 722.4h7.2m-3.6 0V718.2m-3.6 0h7.2M1143.8 722.1h7.2m-3.6 0V717.9m-3.6 0h7.2M1151.8 724.0h7.2m-3.6 0V720.1m-3.6 0h7.2M1159.7 723.7h7.2m-3.6 0V719.7m-3.6 0h7.2M1167.7 724.6h7.2m-3.6 0V720.8m-3.6 0h7.2M1175.6 725.7h7.2m-3.6 0V722.0m-3.6 0h7.2M1183.5 726.0h7.2m-3.6 0V722.3m-3.6 0h7.2M1191.5 726.4h7.2m-3.6 0V722.8m-3.6 0h7.2M1199.4 726.6h7.2m-3.6 0V723.1m-3.6 0h7.2M1207.4 727.2h7.2m-3.6 0V723.8m-3.6 0h7.2M1215.3 727.8h7.2m-3.6 0V724.5m-3.6 0h7.2M1223.2 728.0h7.2m-3.6 0V724.8m-3.6 0h7.2M1231.2 728.7h7.2m-3.6 0V725.6m-3.6 0h7.2M1239.1 729.3h7.2m-3.6 0V726.2m-3.6 0h7.2M1247.1 729.3h7.2m-3.6 0V726.3m-3.6 0h7.2M1255.0 729.5h7.2m-3.6 0V726.5m-3.6 0h7.2M1262.9 730.4h7.2m-3.6 0V727.6m-3.6 0h7.2M1270.9 730.3h7.2m-3.6 0V727.5m-3.6 0h7.2M1278.8 730.7h7.2m-3.6 0V728.0m-3.6 0h7.2M1286.8 731.0h7.2m-3.6 0V728.3m-3.6 0h7.2M1294.7 730.9h7.2m-3.6 0V728.2m-3.6 0h7.2M1302.6 731.4h7.2m-3.6 0V728.8m-3.6 0h7.2M1310.6 731.2h7.2m-3.6 0V728.6m-3.6 0h7.2M1318.5 731.8h7.2m-3.6 0V729.4m-3.6 0h7.2M1326.5 731.8h7.2m-3.6 0V729.4m-3.6 0h7.2M1334.4 732.1h7.2m-3.6 0V729.8m-3.6 0h7.2M1342.3 732.4h7.2m-3.6 0V730.2m-3.6 0h7.2M1350.3 732.5h7.2m-3.6 0V730.2m-3.6 0h7.2M1358.2 732.8h7.2m-3.6 0V730.6m-3.6 0h7.2M1366.2 732.9h7.2m-3.6 0V730.7m-3.6 0h7.2M1374.1 733.1h7.2m-3.6 0V731.1m-3.6 0h7.2M1382.0 733.4h7.2m-3.6 0V731.4m-3.6 0h7.2M1390.0 733.5h7.2m-3.6 0V731.5m-3.6 0h7.2M1397.9 733.6h7.2m-3.6 0V731.7m-3.6 0h7.2M1405.9 733.7h7.2m-3.6 0V731.8m-3.6 0h7.2M1413.8 734.0h7.2m-3.6 0V732.2m-3.6 0h7.2M1421.7 734.0h7.2m-3.6 0V732.2m-3.6 0h7.2M1429.7 734.2h7.2m-3.6 0V732.5m-3.6 0h7.2M1437.6 734.1h7.2m-3.6 0V732.4m-3.6 0h7.2M1445.6 734.4h7.2m-3.6 0V732.7m-3.6 0h7.2M1453.5 734.5h7.2m-3.6 0V732.9m-3.6 0h7.2M1461.4 734.5h7.2m-3.6 0V732.8m-3.6 0h7.2M1469.4 734.5h7.2m-3.6 0V732.8m-3.6 0h7.2M1477.3 734.7h7.2m-3.6 0V733.2m-3.6 0h7.2M1485.3 734.7h7.2m-3.6 0V733.2m-3.6 0h7.2M1493.2 734.8h7.2m-3.6 0V733.3m-3.6 0h7.2M1501.1 734.9h7.2m-3.6 0V733.4m-3.6 0h7.2M1509.1 734.9h7.2m-3.6 0V733.4m-3.6 0h7.2M1517.0 735.0h7.2m-3.6 0V733.6m-3.6 0h7.2M1525.0 735.1h7.2m-3.6 0V733.7m-3.6 0h7.2M1532.9 735.1h7.2m-3.6 0V733.7m-3.6 0h7.2M1540.8 735.2h7.2m-3.6 0V733.9m-3.6 0h7.2M1548.8 735.2h7.2m-3.6 0V733.9m-3.6 0h7.2M1556.7 735.3h7.2m-3.6 0V734.1m-3.6 0h7.2M1564.7 735.3h7.2m-3.6 0V734.1m-3.6 0h7.2M1572.6 735.4h7.2m-3.6 0V734.2m-3.6 0h7.2M1580.5 735.3h7.2m-3.6 0V734.1m-3.6 0h7.2M1588.5 735.4h7.2m-3.6 0V734.3m-3.6 0h7.2M1596.4 735.4h7.2m-3.6 0V734.3m-3.6 0h7.2M1604.4 735.5h7.2m-3.6 0V734.4m-3.6 0h7.2M1612.3 735.5h7.2m-3.6 0V734.5m-3.6 0h7.2M1620.2 735.5h7.2m-3.6 0V734.5m-3.6 0h7.2M1628.2 735.5h7.2m-3.6 0V734.4m-3.6 0h7.2M1636.1 735.6h7.2m-3.6 0V734.6m-3.6 0h7.2M1644.1 735.6h7.2m-3.6 0V734.7m-3.6 0h7.2M1652.0 735.6h7.2m-3.6 0V734.7m-3.6 0h7.2M1659.9 735.7h7.2m-3.6 0V734.7m-3.6 0h7.2M1667.9 735.6h7.2m-3.6 0V734.7m-3.6 0h7.2M1675.8 735.6h7.2m-3.6 0V734.7m-3.6 0h7.2" stroke="#ff0000" stroke-width="2.1" fill="none"/><polyline points="1036.3,715.7 1044.2,715.3 1052.2,715.1 1060.1,715.1 1068.0,715.3 1076.0,715.6 1083.9,716.0 1091.9,716.4 1099.8,717.0 1107.7,717.6 1115.7,718.3 1123.6,719.0 1131.6,719.6 1139.5,720.3 1147.4,721.0 1155.4,721.6 1163.3,722.3 1171.3,722.9 1179.2,723.5 1187.1,724.0 1195.1,724.6 1203.0,725.1 1211.0,725.6 1218.9,726.1 1226.8,726.6 1234.8,727.0 1242.7,727.5 1250.7,727.9 1258.6,728.2 1266.5,728.6 1274.5,728.9 1282.4,729.2 1290.4,729.5 1298.3,729.7 1306.2,730.0 1314.2,730.2 1322.1,730.5 1330.1,730.7 1338.0,731.0 1345.9,731.2 1353.9,731.5 1361.8,731.7 1369.8,731.9 1377.7,732.1 1385.6,732.3 1393.6,732.5 1401.5,732.7 1409.5,732.8 1417.4,733.0 1425.3,733.1 1433.3,733.2 1441.2,733.4 1449.2,733.5 1457.1,733.6 1465.0,733.7 1473.0,733.8 1480.9,733.9 1488.9,734.0 1496.8,734.1 1504.7,734.1 1512.7,734.2 1520.6,734.3 1528.6,734.4 1536.5,734.4 1544.4,734.5 1552.4,734.6 1560.3,734.6 1568.3,734.7 1576.2,734.7 1584.1,734.8 1592.1,734.8 1600.0,734.9 1608.0,734.9 1615.9,735.0 1623.8,735.0 1631.8,735.0 1639.7,735.1 1647.7,735.1 1655.6,735.1 1663.5,735.1 1671.5,735.2 1679.4,735.2" stroke="#ff0000" stroke-width="2.3" fill="none" stroke-dasharray="8.5 3.7"/><path d="M1032.7 719.8h7.2m-3.6 0V715.3m-3.6 0h7.2M1040.6 718.3h7.2m-3.6 0V713.6m-3.6 0h7.2M1048.6 717.3h7.2m-3.6 0V712.4m-3.6 0h7.2M1056.5 716.0h7.2m-3.6 0V711.0m-3.6 0h7.2M1064.4 718.9h7.2m-3.6 0V714.3m-3.6 0h7.2M1072.4 716.9h7.2m-3.6 0V712.0m-3.6 0h7.2M1080.3 718.6h7.2m-3.6 0V714.0m-3.6 0h7.2M1088.3 717.8h7.2m-3.6 0V713.1m-3.6 0h7.2M1096.2 720.0h7.2m-3.6 0V715.5m-3.6 0h7.2M1104.1 719.9h7.2m-3.6 0V715.4m-3.6 0h7.2M1112.1 721.0h7.2m-3.6 0V716.7m-3.6 0h7.2M1120.0 721.5h7.2m-3.6 0V717.2m-3.6 0h7.2M1128.0 720.9h7.2m-3.6 0V716.6m-3.6 0h7.2M1135.9 721.8h7.2m-3.6 0V717.5m-3.6 0h7.2M1143.8 722.9h7.2m-3.6 0V718.7m-3.6 0h7.2M1151.8 723.8h7.2m-3.6 0V719.9m-3.6 0h7.2M1159.7 725.0h7.2m-3.6 0V721.2m-3.6 0h7.2M1167.7 724.9h7.2m-3.6 0V721.1m-3.6 0h7.2M1175.6 725.3h7.2m-3.6 0V721.6m-3.6 0h7.2M1183.5 725.8h7.2m-3.6 0V722.1m-3.6 0h7.2M1191.5 726.2h7.2m-3.6 0V722.7m-3.6 0h7.2M1199.4 727.0h7.2m-3.6 0V723.6m-3.6 0h7.2M1207.4 727.0h7.2m-3.6 0V723.6m-3.6 0h7.2M1215.3 727.5h7.2m-3.6 0V724.2m-3.6 0h7.2M1223.2 727.5h7.2m-3.6 0V724.2m-3.6 0h7.2M1231.2 727.9h7.2m-3.6 0V724.6m-3.6 0h7.2M1239.1 729.0h7.2m-3.6 0V725.9m-3.6 0h7.2M1247.1 729.5h7.2m-3.6 0V726.6m-3.6 0h7.2M1255.0 729.7h7.2m-3.6 0V726.8m-3.6 0h7.2M1262.9 730.2h7.2m-3.6 0V727.3m-3.6 0h7.2M1270.9 730.4h7.2m-3.6 0V727.7m-3.6 0h7.2M1278.8 730.6h7.2m-3.6 0V727.8m-3.6 0h7.2M1286.8 731.0h7.2m-3.6 0V728.4m-3.6 0h7.2M1294.7 730.9h7.2m-3.6 0V728.2m-3.6 0h7.2M1302.6 731.3h7.2m-3.6 0V728.7m-3.6 0h7.2M1310.6 731.4h7.2m-3.6 0V728.9m-3.6 0h7.2M1318.5 731.7h7.2m-3.6 0V729.3m-3.6 0h7.2M1326.5 732.0h7.2m-3.6 0V729.6m-3.6 0h7.2M1334.4 732.2h7.2m-3.6 0V729.9m-3.6 0h7.2M1342.3 732.4h7.2m-3.6 0V730.1m-3.6 0h7.2M1350.3 732.6h7.2m-3.6 0V730.4m-3.6 0h7.2M1358.2 732.7h7.2m-3.6 0V730.5m-3.6 0h7.2M1366.2 733.0h7.2m-3.6 0V730.8m-3.6 0h7.2M1374.1 733.3h7.2m-3.6 0V731.3m-3.6 0h7.2M1382.0 733.3h7.2m-3.6 0V731.3m-3.6 0h7.2M1390.0 733.6h7.2m-3.6 0V731.7m-3.6 0h7.2M1397.9 733.7h7.2m-3.6 0V731.8m-3.6 0h7.2M1405.9 733.8h7.2m-3.6 0V731.9m-3.6 0h7.2M1413.8 734.1h7.2m-3.6 0V732.3m-3.6 0h7.2M1421.7 734.0h7.2m-3.6 0V732.2m-3.6 0h7.2M1429.7 734.1h7.2m-3.6 0V732.3m-3.6 0h7.2M1437.6 734.2h7.2m-3.6 0V732.5m-3.6 0h7.2M1445.6 734.3h7.2m-3.6 0V732.6m-3.6 0h7.2M1453.5 734.4h7.2m-3.6 0V732.8m-3.6 0h7.2M1461.4 734.5h7.2m-3.6 0V732.9m-3.6 0h7.2M1469.4 734.5h7.2m-3.6 0V733.0m-3.6 0h7.2M1477.3 734.6h7.2m-3.6 0V733.1m-3.6 0h7.2M1485.3 734.7h7.2m-3.6 0V733.1m-3.6 0h7.2M1493.2 734.8h7.2m-3.6 0V733.3m-3.6 0h7.2M1501.1 734.8h7.2m-3.6 0V733.3m-3.6 0h7.2M1509.1 734.9h7.2m-3.6 0V733.5m-3.6 0h7.2M1517.0 735.0h7.2m-3.6 0V733.6m-3.6 0h7.2M1525.0 735.0h7.2m-3.6 0V733.7m-3.6 0h7.2M1532.9 735.1h7.2m-3.6 0V733.7m-3.6 0h7.2M1540.8 735.2h7.2m-3.6 0V734.0m-3.6 0h7.2M1548.8 735.2h7.2m-3.6 0V733.9m-3.6 0h7.2M1556.7 735.2h7.2m-3.6 0V734.0m-3.6 0h7.2M1564.7 735.3h7.2m-3.6 0V734.1m-3.6 0h7.2M1572.6 735.3h7.2m-3.6 0V734.1m-3.6 0h7.2M1580.5 735.4h7.2m-3.6 0V734.3m-3.6 0h7.2M1588.5 735.4h7.2m-3.6 0V734.3m-3.6 0h7.2M1596.4 735.4h7.2m-3.6 0V734.3m-3.6 0h7.2M1604.4 735.5h7.2m-3.6 0V734.4m-3.6 0h7.2M1612.3 735.5h7.2m-3.6 0V734.5m-3.6 0h7.2M1620.2 735.6h7.2m-3.6 0V734.6m-3.6 0h7.2M1628.2 735.5h7.2m-3.6 0V734.5m-3.6 0h7.2M1636.1 735.6h7.2m-3.6 0V734.5m-3.6 0h7.2M1644.1 735.6h7.2m-3.6 0V734.6m-3.6 0h7.2M1652.0 735.6h7.2m-3.6 0V734.6m-3.6 0h7.2M1659.9 735.7h7.2m-3.6 0V734.7m-3.6 0h7.2M1667.9 735.6h7.2m-3.6 0V734.6m-3.6 0h7.2M1675.8 735.7h7.2m-3.6 0V734.7m-3.6 0h7.2" stroke="#00bfbf" stroke-width="2.1" fill="none"/><polyline points="1036.3,716.2 1044.2,715.9 1052.2,715.7 1060.1,715.7 1068.0,715.8 1076.0,716.1 1083.9,716.5 1091.9,716.9 1099.8,717.4 1107.7,718.0 1115.7,718.6 1123.6,719.2 1131.6,719.8 1139.5,720.4 1147.4,721.1 1155.4,721.7 1163.3,722.3 1171.3,722.9 1179.2,723.5 1187.1,724.0 1195.1,724.5 1203.0,725.0 1211.0,725.5 1218.9,725.9 1226.8,726.4 1234.8,726.9 1242.7,727.3 1250.7,727.7 1258.6,728.1 1266.5,728.5 1274.5,728.9 1282.4,729.2 1290.4,729.5 1298.3,729.8 1306.2,730.0 1314.2,730.3 1322.1,730.5 1330.1,730.8 1338.0,731.0 1345.9,731.3 1353.9,731.5 1361.8,731.7 1369.8,732.0 1377.7,732.2 1385.6,732.4 1393.6,732.5 1401.5,732.7 1409.5,732.9 1417.4,733.0 1425.3,733.1 1433.3,733.2 1441.2,733.4 1449.2,733.5 1457.1,733.6 1465.0,733.7 1473.0,733.8 1480.9,733.9 1488.9,733.9 1496.8,734.0 1504.7,734.1 1512.7,734.2 1520.6,734.3 1528.6,734.4 1536.5,734.4 1544.4,734.5 1552.4,734.6 1560.3,734.6 1568.3,734.7 1576.2,734.7 1584.1,734.8 1592.1,734.8 1600.0,734.9 1608.0,734.9 1615.9,735.0 1623.8,735.0 1631.8,735.0 1639.7,735.1 1647.7,735.1 1655.6,735.1 1663.5,735.1 1671.5,735.2 1679.4,735.2" stroke="#00bfbf" stroke-width="2.3" fill="none" stroke-dasharray="8.5 3.7"/><path d="M1032.7 720.8h7.2m-3.6 0V716.3m-3.6 0h7.2M1040.6 717.1h7.2m-3.6 0V712.3m-3.6 0h7.2M1048.6 718.1h7.2m-3.6 0V713.3m-3.6 0h7.2M1056.5 717.9h7.2m-3.6 0V713.1m-3.6 0h7.2M1064.4 717.5h7.2m-3.6 0V712.7m-3.6 0h7.2M1072.4 716.4h7.2m-3.6 0V711.4m-3.6 0h7.2M1080.3 718.2h7.2m-3.6 0V713.4m-3.6 0h7.2M1088.3 718.3h7.2m-3.6 0V713.6m-3.6 0h7.2M1096.2 718.2h7.2m-3.6 0V713.5m-3.6 0h7.2M1104.1 718.8h7.2m-3.6 0V714.1m-3.6 0h7.2M1112.1 720.2h7.2m-3.6 0V715.8m-3.6 0h7.2M1120.0 721.1h7.2m-3.6 0V716.7m-3.6 0h7.2M1128.0 722.4h7.2m-3.6 0V718.2m-3.6 0h7.2M1135.9 722.5h7.2m-3.6 0V718.4m-3.6 0h7.2M1143.8 722.4h7.2m-3.6 0V718.3m-3.6 0h7.2M1151.8 723.2h7.2m-3.6 0V719.2m-3.6 0h7.2M1159.7 724.1h7.2m-3.6 0V720.2m-3.6 0h7.2M1167.7 724.3h7.2m-3.6 0V720.4m-3.6 0h7.2M1175.6 725.6h7.2m-3.6 0V721.9m-3.6 0h7.2M1183.5 725.8h7.2m-3.6 0V722.1m-3.6 0h7.2M1191.5 725.9h7.2m-3.6 0V722.3m-3.6 0h7.2M1199.4 726.4h7.2m-3.6 0V722.9m-3.6 0h7.2M1207.4 726.6h7.2m-3.6 0V723.1m-3.6 0h7.2M1215.3 727.4h7.2m-3.6 0V724.0m-3.6 0h7.2M1223.2 728.0h7.2m-3.6 0V724.8m-3.6 0h7.2M1231.2 728.3h7.2m-3.6 0V725.1m-3.6 0h7.2M1239.1 729.2h7.2m-3.6 0V726.2m-3.6 0h7.2M1247.1 729.7h7.2m-3.6 0V726.8m-3.6 0h7.2M1255.0 729.6h7.2m-3.6 0V726.6m-3.6 0h7.2M1262.9 730.0h7.2m-3.6 0V727.2m-3.6 0h7.2M1270.9 730.2h7.2m-3.6 0V727.4m-3.6 0h7.2M1278.8 730.9h7.2m-3.6 0V728.2m-3.6 0h7.2M1286.8 730.9h7.2m-3.6 0V728.2m-3.6 0h7.2M1294.7 731.1h7.2m-3.6 0V728.5m-3.6 0h7.2M1302.6 731.4h7.2m-3.6 0V728.9m-3.6 0h7.2M1310.6 731.9h7.2m-3.6 0V729.4m-3.6 0h7.2M1318.5 731.8h7.2m-3.6 0V729.3m-3.6 0h7.2M1326.5 731.7h7.2m-3.6 0V729.3m-3.6 0h7.2M1334.4 732.0h7.2m-3.6 0V729.6m-3.6 0h7.2M1342.3 732.4h7.2m-3.6 0V730.1m-3.6 0h7.2M1350.3 732.5h7.2m-3.6 0V730.3m-3.6 0h7.2M1358.2 732.7h7.2m-3.6 0V730.4m-3.6 0h7.2M1366.2 733.3h7.2m-3.6 0V731.2m-3.6 0h7.2M1374.1 733.2h7.2m-3.6 0V731.1m-3.6 0h7.2M1382.0 733.2h7.2m-3.6 0V731.2m-3.6 0h7.2M1390.0 733.4h7.2m-3.6 0V731.4m-3.6 0h7.2M1397.9 733.4h7.2m-3.6 0V731.5m-3.6 0h7.2M1405.9 733.7h7.2m-3.6 0V731.7m-3.6 0h7.2M1413.8 733.9h7.2m-3.6 0V732.0m-3.6 0h7.2M1421.7 734.0h7.2m-3.6 0V732.2m-3.6 0h7.2M1429.7 734.0h7.2m-3.6 0V732.3m-3.6 0h7.2M1437.6 734.2h7.2m-3.6 0V732.5m-3.6 0h7.2M1445.6 734.3h7.2m-3.6 0V732.6m-3.6 0h7.2M1453.5 734.3h7.2m-3.6 0V732.6m-3.6 0h7.2M1461.4 734.3h7.2m-3.6 0V732.6m-3.6 0h7.2M1469.4 734.5h7.2m-3.6 0V733.0m-3.6 0h7.2M1477.3 734.6h7.2m-3.6 0V733.0m-3.6 0h7.2M1485.3 734.7h7.2m-3.6 0V733.1m-3.6 0h7.2M1493.2 734.7h7.2m-3.6 0V733.1m-3.6 0h7.2M1501.1 734.8h7.2m-3.6 0V733.4m-3.6 0h7.2M1509.1 734.8h7.2m-3.6 0V733.3m-3.6 0h7.2M1517.0 735.0h7.2m-3.6 0V733.6m-3.6 0h7.2M1525.0 735.0h7.2m-3.6 0V733.7m-3.6 0h7.2M1532.9 735.1h7.2m-3.6 0V733.8m-3.6 0h7.2M1540.8 735.1h7.2m-3.6 0V733.8m-3.6 0h7.2M1548.8 735.2h7.2m-3.6 0V733.9m-3.6 0h7.2M1556.7 735.3h7.2m-3.6 0V734.1m-3.6 0h7.2M1564.7 735.3h7.2m-3.6 0V734.1m-3.6 0h7.2M1572.6 735.3h7.2m-3.6 0V734.1m-3.6 0h7.2M1580.5 735.4h7.2m-3.6 0V734.3m-3.6 0h7.2M1588.5 735.5h7.2m-3.6 0V734.4m-3.6 0h7.2M1596.4 735.4h7.2m-3.6 0V734.3m-3.6 0h7.2M1604.4 735.5h7.2m-3.6 0V734.4m-3.6 0h7.2M1612.3 735.5h7.2m-3.6 0V734.4m-3.6 0h7.2M1620.2 735.6h7.2m-3.6 0V734.5m-3.6 0h7.2M1628.2 735.5h7.2m-3.6 0V734.5m-3.6 0h7.2M1636.1 735.6h7.2m-3.6 0V734.6m-3.6 0h7.2M1644.1 735.6h7.2m-3.6 0V734.5m-3.6 0h7.2M1652.0 735.6h7.2m-3.6 0V734.7m-3.6 0h7.2M1659.9 735.6h7.2m-3.6 0V734.7m-3.6 0h7.2M1667.9 735.6h7.2m-3.6 0V734.7m-3.6 0h7.2M1675.8 735.7h7.2m-3.6 0V734.7m-3.6 0h7.2" stroke="#bf00bf" stroke-width="2.1" fill="none"/><polyline points="1036.3,716.7 1044.2,716.2 1052.2,715.9 1060.1,715.7 1068.0,715.7 1076.0,715.8 1083.9,716.1 1091.9,716.5 1099.8,717.0 1107.7,717.6 1115.7,718.2 1123.6,718.9 1131.6,719.6 1139.5,720.2 1147.4,720.9 1155.4,721.5 1163.3,722.1 1171.3,722.7 1179.2,723.2 1187.1,723.8 1195.1,724.3 1203.0,724.9 1211.0,725.4 1218.9,725.9 1226.8,726.4 1234.8,726.9 1242.7,727.4 1250.7,727.8 1258.6,728.2 1266.5,728.6 1274.5,728.9 1282.4,729.3 1290.4,729.6 1298.3,729.8 1306.2,730.1 1314.2,730.3 1322.1,730.6 1330.1,730.8 1338.0,731.0 1345.9,731.3 1353.9,731.5 1361.8,731.7 1369.8,731.9 1377.7,732.1 1385.6,732.3 1393.6,732.4 1401.5,732.6 1409.5,732.7 1417.4,732.9 1425.3,733.0 1433.3,733.2 1441.2,733.3 1449.2,733.4 1457.1,733.5 1465.0,733.6 1473.0,733.7 1480.9,733.8 1488.9,733.9 1496.8,734.0 1504.7,734.1 1512.7,734.2 1520.6,734.3 1528.6,734.3 1536.5,734.4 1544.4,734.5 1552.4,734.6 1560.3,734.6 1568.3,734.7 1576.2,734.7 1584.1,734.8 1592.1,734.8 1600.0,734.9 1608.0,734.9 1615.9,735.0 1623.8,735.0 1631.8,735.0 1639.7,735.1 1647.7,735.1 1655.6,735.1 1663.5,735.1 1671.5,735.2 1679.4,735.2" stroke="#bf00bf" stroke-width="2.3" fill="none" stroke-dasharray="8.5 3.7"/><path d="M1032.7 718.8h7.2m-3.6 0V714.1m-3.6 0h7.2M1040.6 717.2h7.2m-3.6 0V712.4m-3.6 0h7.2M1048.6 717.7h7.2m-3.6 0V712.9m-3.6 0h7.2M1056.5 716.9h7.2m-3.6 0V712.0m-3.6 0h7.2M1064.4 717.3h7.2m-3.6 0V712.4m-3.6 0h7.2M1072.4 716.6h7.2m-3.6 0V711.7m-3.6 0h7.2M1080.3 718.4h7.2m-3.6 0V713.6m-3.6 0h7.2M1088.3 718.8h7.2m-3.6 0V714.2m-3.6 0h7.2M1096.2 718.6h7.2m-3.6 0V713.9m-3.6 0h7.2M1104.1 718.4h7.2m-3.6 0V713.6m-3.6 0h7.2M1112.1 718.9h7.2m-3.6 0V714.3m-3.6 0h7.2M1120.0 720.9h7.2m-3.6 0V716.5m-3.6 0h7.2M1128.0 721.6h7.2m-3.6 0V717.3m-3.6 0h7.2M1135.9 721.4h7.2m-3.6 0V717.1m-3.6 0h7.2M1143.8 722.7h7.2m-3.6 0V718.6m-3.6 0h7.2M1151.8 723.9h7.2m-3.6 0V719.9m-3.6 0h7.2M1159.7 724.1h7.2m-3.6 0V720.2m-3.6 0h7.2M1167.7 724.5h7.2m-3.6 0V720.7m-3.6 0h7.2M1175.6 725.6h7.2m-3.6 0V721.9m-3.6 0h7.2M1183.5 726.4h7.2m-3.6 0V722.8m-3.6 0h7.2M1191.5 726.7h7.2m-3.6 0V723.2m-3.6 0h7.2M1199.4 726.4h7.2m-3.6 0V722.8m-3.6 0h7.2M1207.4 727.3h7.2m-3.6 0V723.9m-3.6 0h7.2M1215.3 727.5h7.2m-3.6 0V724.2m-3.6 0h7.2M1223.2 727.9h7.2m-3.6 0V724.6m-3.6 0h7.2M1231.2 728.3h7.2m-3.6 0V725.0m-3.6 0h7.2M1239.1 729.0h7.2m-3.6 0V725.9m-3.6 0h7.2M1247.1 729.2h7.2m-3.6 0V726.2m-3.6 0h7.2M1255.0 729.9h7.2m-3.6 0V727.1m-3.6 0h7.2M1262.9 730.1h7.2m-3.6 0V727.2m-3.6 0h7.2M1270.9 730.5h7.2m-3.6 0V727.7m-3.6 0h7.2M1278.8 730.3h7.2m-3.6 0V727.5m-3.6 0h7.2M1286.8 730.8h7.2m-3.6 0V728.1m-3.6 0h7.2M1294.7 731.2h7.2m-3.6 0V728.6m-3.6 0h7.2M1302.6 731.3h7.2m-3.6 0V728.8m-3.6 0h7.2M1310.6 731.5h7.2m-3.6 0V729.0m-3.6 0h7.2M1318.5 731.6h7.2m-3.6 0V729.1m-3.6 0h7.2M1326.5 732.2h7.2m-3.6 0V729.8m-3.6 0h7.2M1334.4 732.3h7.2m-3.6 0V729.9m-3.6 0h7.2M1342.3 732.4h7.2m-3.6 0V730.1m-3.6 0h7.2M1350.3 732.2h7.2m-3.6 0V729.8m-3.6 0h7.2M1358.2 732.6h7.2m-3.6 0V730.4m-3.6 0h7.2M1366.2 733.0h7.2m-3.6 0V730.8m-3.6 0h7.2M1374.1 733.1h7.2m-3.6 0V730.9m-3.6 0h7.2M1382.0 733.1h7.2m-3.6 0V731.0m-3.6 0h7.2M1390.0 733.5h7.2m-3.6 0V731.5m-3.6 0h7.2M1397.9 733.7h7.2m-3.6 0V731.7m-3.6 0h7.2M1405.9 733.6h7.2m-3.6 0V731.7m-3.6 0h7.2M1413.8 733.9h7.2m-3.6 0V732.0m-3.6 0h7.2M1421.7 733.9h7.2m-3.6 0V732.1m-3.6 0h7.2M1429.7 734.1h7.2m-3.6 0V732.4m-3.6 0h7.2M1437.6 734.0h7.2m-3.6 0V732.3m-3.6 0h7.2M1445.6 734.2h7.2m-3.6 0V732.4m-3.6 0h7.2M1453.5 734.3h7.2m-3.6 0V732.7m-3.6 0h7.2M1461.4 734.4h7.2m-3.6 0V732.8m-3.6 0h7.2M1469.4 734.7h7.2m-3.6 0V733.1m-3.6 0h7.2M1477.3 734.6h7.2m-3.6 0V733.0m-3.6 0h7.2M1485.3 734.7h7.2m-3.6 0V733.2m-3.6 0h7.2M1493.2 734.7h7.2m-3.6 0V733.2m-3.6 0h7.2M1501.1 734.8h7.2m-3.6 0V733.3m-3.6 0h7.2M1509.1 734.9h7.2m-3.6 0V733.5m-3.6 0h7.2M1517.0 735.0h7.2m-3.6 0V733.7m-3.6 0h7.2M1525.0 735.0h7.2m-3.6 0V733.6m-3.6 0h7.2M1532.9 735.1h7.2m-3.6 0V733.8m-3.6 0h7.2M1540.8 735.2h7.2m-3.6 0V733.9m-3.6 0h7.2M1548.8 735.2h7.2m-3.6 0V734.0m-3.6 0h7.2M1556.7 735.3h7.2m-3.6 0V734.0m-3.6 0h7.2M1564.7 735.4h7.2m-3.6 0V734.2m-3.6 0h7.2M1572.6 735.3h7.2m-3.6 0V734.1m-3.6 0h7.2M1580.5 735.4h7.2m-3.6 0V734.2m-3.6 0h7.2M1588.5 735.4h7.2m-3.6 0V734.2m-3.6 0h7.2M1596.4 735.4h7.2m-3.6 0V734.2m-3.6 0h7.2M1604.4 735.5h7.2m-3.6 0V734.4m-3.6 0h7.2M1612.3 735.6h7.2m-3.6 0V734.5m-3.6 0h7.2M1620.2 735.6h7.2m-3.6 0V734.5m-3.6 0h7.2M1628.2 735.6h7.2m-3.6 0V734.6m-3.6 0h7.2M1636.1 735.6h7.2m-3.6 0V734.6m-3.6 0h7.2M1644.1 735.6h7.2m-3.6 0V734.6m-3.6 0h7.2M1652.0 735.7h7.2m-3.6 0V734.7m-3.6 0h7.2M1659.9 735.6h7.2m-3.6 0V734.6m-3.6 0h7.2M1667.9 735.7h7.2m-3.6 0V734.7m-3.6 0h7.2M1675.8 735.7h7.2m-3.6 0V734.7m-3.6 0h7.2" stroke="#bfbf00" stroke-width="2.1" fill="none"/><polyline points="1036.3,715.5 1044.2,715.3 1052.2,715.2 1060.1,715.2 1068.0,715.4 1076.0,715.6 1083.9,715.9 1091.9,716.3 1099.8,716.8 1107.7,717.3 1115.7,717.9 1123.6,718.6 1131.6,719.3 1139.5,720.1 1147.4,720.8 1155.4,721.5 1163.3,722.2 1171.3,722.9 1179.2,723.5 1187.1,724.1 1195.1,724.6 1203.0,725.1 1211.0,725.6 1218.9,726.0 1226.8,726.5 1234.8,726.9 1242.7,727.4 1250.7,727.8 1258.6,728.2 1266.5,728.5 1274.5,728.9 1282.4,729.2 1290.4,729.5 1298.3,729.8 1306.2,730.0 1314.2,730.3 1322.1,730.5 1330.1,730.7 1338.0,731.0 1345.9,731.2 1353.9,731.4 1361.8,731.6 1369.8,731.8 1377.7,732.0 1385.6,732.2 1393.6,732.4 1401.5,732.6 1409.5,732.7 1417.4,732.9 1425.3,733.0 1433.3,733.1 1441.2,733.3 1449.2,733.4 1457.1,733.5 1465.0,733.6 1473.0,733.7 1480.9,733.8 1488.9,733.9 1496.8,734.0 1504.7,734.1 1512.7,734.2 1520.6,734.3 1528.6,734.4 1536.5,734.4 1544.4,734.5 1552.4,734.6 1560.3,734.6 1568.3,734.7 1576.2,734.7 1584.1,734.8 1592.1,734.8 1600.0,734.9 1608.0,734.9 1615.9,735.0 1623.8,735.0 1631.8,735.1 1639.7,735.1 1647.7,735.1 1655.6,735.1 1663.5,735.2 1671.5,735.2 1679.4,735.2" stroke="#bfbf00" stroke-width="2.3" fill="none" stroke-dasharray="8.5 3.7"/><path d="M1032.7 584.0h7.2m-3.6 0V574.6m-3.6 0h7.2M1040.6 597.6h7.2m-3.6 0V588.7m-3.6 0h7.2M1048.6 608.2h7.2m-3.6 0V599.5m-3.6 0h7.2M1056.5 619.3h7.2m-3.6 0V611.0m-3.6 0h7.2M1064.4 627.3h7.2m-3.6 0V619.4m-3.6 0h7.2M1072.4 635.4h7.2m-3.6 0V627.7m-3.6 0h7.2M1080.3 644.0h7.2m-3.6 0V636.7m-3.6 0h7.2M1088.3 650.8h7.2m-3.6 0V643.7m-3.6 0h7.2M1096.2 657.0h7.2m-3.6 0V650.1m-3.6 0h7.2M1104.1 664.4h7.2m-3.6 0V657.9m-3.6 0h7.2M1112.1 669.3h7.2m-3.6 0V663.0m-3.6 0h7.2M1120.0 671.8h7.2m-3.6 0V665.6m-3.6 0h7.2M1128.0 679.1h7.2m-3.6 0V673.3m-3.6 0h7.2M1135.9 682.8h7.2m-3.6 0V677.2m-3.6 0h7.2M1143.8 684.0h7.2m-3.6 0V678.5m-3.6 0h7.2M1151.8 687.7h7.2m-3.6 0V682.3m-3.6 0h7.2M1159.7 690.2h7.2m-3.6 0V684.9m-3.6 0h7.2M1167.7 692.6h7.2m-3.6 0V687.5m-3.6 0h7.2M1175.6 697.5h7.2m-3.6 0V692.7m-3.6 0h7.2M1183.5 700.6h7.2m-3.6 0V695.9m-3.6 0h7.2M1191.5 703.0h7.2m-3.6 0V698.5m-3.6 0h7.2M1199.4 704.2h7.2m-3.6 0V699.8m-3.6 0h7.2M1207.4 706.0h7.2m-3.6 0V701.8m-3.6 0h7.2M1215.3 707.1h7.2m-3.6 0V702.9m-3.6 0h7.2M1223.2 708.8h7.2m-3.6 0V704.7m-3.6 0h7.2M1231.2 710.8h7.2m-3.6 0V706.9m-3.6 0h7.2M1239.1 710.9h7.2m-3.6 0V707.0m-3.6 0h7.2M1247.1 712.9h7.2m-3.6 0V709.1m-3.6 0h7.2M1255.0 714.5h7.2m-3.6 0V710.8m-3.6 0h7.2M1262.9 716.0h7.2m-3.6 0V712.5m-3.6 0h7.2M1270.9 716.0h7.2m-3.6 0V712.5m-3.6 0h7.2M1278.8 718.7h7.2m-3.6 0V715.4m-3.6 0h7.2M1286.8 718.7h7.2m-3.6 0V715.4m-3.6 0h7.2M1294.7 719.5h7.2m-3.6 0V716.3m-3.6 0h7.2M1302.6 720.7h7.2m-3.6 0V717.6m-3.6 0h7.2M1310.6 721.3h7.2m-3.6 0V718.3m-3.6 0h7.2M1318.5 722.8h7.2m-3.6 0V719.9m-3.6 0h7.2M1326.5 721.3h7.2m-3.6 0V718.3m-3.6 0h7.2M1334.4 723.3h7.2m-3.6 0V720.5m-3.6 0h7.2M1342.3 724.5h7.2m-3.6 0V721.7m-3.6 0h7.2M1350.3 725.4h7.2m-3.6 0V722.8m-3.6 0h7.2M1358.2 726.0h7.2m-3.6 0V723.5m-3.6 0h7.2M1366.2 726.2h7.2m-3.6 0V723.7m-3.6 0h7.2M1374.1 726.8h7.2m-3.6 0V724.4m-3.6 0h7.2M1382.0 727.2h7.2m-3.6 0V724.9m-3.6 0h7.2M1390.0 727.7h7.2m-3.6 0V725.3m-3.6 0h7.2M1397.9 727.8h7.2m-3.6 0V725.5m-3.6 0h7.2M1405.9 727.8h7.2m-3.6 0V725.5m-3.6 0h7.2M1413.8 728.5h7.2m-3.6 0V726.3m-3.6 0h7.2M1421.7 728.9h7.2m-3.6 0V726.7m-3.6 0h7.2M1429.7 729.3h7.2m-3.6 0V727.2m-3.6 0h7.2M1437.6 730.0h7.2m-3.6 0V728.0m-3.6 0h7.2M1445.6 730.4h7.2m-3.6 0V728.5m-3.6 0h7.2M1453.5 730.4h7.2m-3.6 0V728.4m-3.6 0h7.2M1461.4 730.7h7.2m-3.6 0V728.8m-3.6 0h7.2M1469.4 731.1h7.2m-3.6 0V729.3m-3.6 0h7.2M1477.3 731.5h7.2m-3.6 0V729.7m-3.6 0h7.2M1485.3 731.2h7.2m-3.6 0V729.4m-3.6 0h7.2M1493.2 731.3h7.2m-3.6 0V729.6m-3.6 0h7.2M1501.1 731.8h7.2m-3.6 0V730.1m-3.6 0h7.2M1509.1 732.2h7.2m-3.6 0V730.5m-3.6 0h7.2M1517.0 732.4h7.2m-3.6 0V730.8m-3.6 0h7.2M1525.0 732.7h7.2m-3.6 0V731.1m-3.6 0h7.2M1532.9 732.6h7.2m-3.6 0V731.1m-3.6 0h7.2M1540.8 732.8h7.2m-3.6 0V731.4m-3.6 0h7.2M1548.8 732.8h7.2m-3.6 0V731.3m-3.6 0h7.2M1556.7 733.0h7.2m-3.6 0V731.5m-3.6 0h7.2M1564.7 733.2h7.2m-3.6 0V731.8m-3.6 0h7.2M1572.6 733.5h7.2m-3.6 0V732.1m-3.6 0h7.2M1580.5 733.5h7.2m-3.6 0V732.2m-3.6 0h7.2M1588.5 733.5h7.2m-3.6 0V732.2m-3.6 0h7.2M1596.4 733.6h7.2m-3.6 0V732.3m-3.6 0h7.2M1604.4 733.6h7.2m-3.6 0V732.3m-3.6 0h7.2M1612.3 733.8h7.2m-3.6 0V732.5m-3.6 0h7.2M1620.2 733.9h7.2m-3.6 0V732.7m-3.6 0h7.2M1628.2 734.0h7.2m-3.6 0V732.8m-3.6 0h7.2M1636.1 734.1h7.2m-3.6 0V733.0m-3.6 0h7.2M1644.1 734.2h7.2m-3.6 0V733.0m-3.6 0h7.2M1652.0 734.2h7.2m-3.6 0V733.1m-3.6 0h7.2M1659.9 734.3h7.2m-3.6 0V733.2m-3.6 0h7.2M1667.9 734.4h7.2m-3.6 0V733.2m-3.6 0h7.2M1675.8 734.4h7.2m-3.6 0V733.3m-3.6 0h7.2" stroke="#ffa500" stroke-width="2.1" fill="none"/><polyline points="1036.3,580.5 1044.2,592.7 1052.2,603.8 1060.1,614.0 1068.0,623.3 1076.0,631.9 1083.9,639.7 1091.9,646.9 1099.8,653.4 1107.7,659.3 1115.7,664.7 1123.6,669.6 1131.6,674.1 1139.5,678.1 1147.4,681.9 1155.4,685.3 1163.3,688.6 1171.3,691.6 1179.2,694.4 1187.1,696.9 1195.1,699.3 1203.0,701.4 1211.0,703.4 1218.9,705.2 1226.8,706.8 1234.8,708.4 1242.7,709.8 1250.7,711.2 1258.6,712.5 1266.5,713.8 1274.5,715.0 1282.4,716.1 1290.4,717.1 1298.3,718.1 1306.2,719.0 1314.2,719.8 1322.1,720.7 1330.1,721.5 1338.0,722.2 1345.9,723.0 1353.9,723.6 1361.8,724.3 1369.8,724.9 1377.7,725.4 1385.6,725.9 1393.6,726.3 1401.5,726.7 1409.5,727.2 1417.4,727.6 1425.3,728.0 1433.3,728.4 1441.2,728.8 1449.2,729.1 1457.1,729.4 1465.0,729.8 1473.0,730.0 1480.9,730.3 1488.9,730.6 1496.8,730.8 1504.7,731.0 1512.7,731.3 1520.6,731.5 1528.6,731.7 1536.5,731.9 1544.4,732.0 1552.4,732.2 1560.3,732.3 1568.3,732.5 1576.2,732.6 1584.1,732.7 1592.1,732.9 1600.0,733.0 1608.0,733.1 1615.9,733.2 1623.8,733.3 1631.8,733.4 1639.7,733.5 1647.7,733.6 1655.6,733.7 1663.5,733.7 1671.5,733.8 1679.4,733.9" stroke="#ffa500" stroke-width="2.3" fill="none" stroke-dasharray="8.5 3.7"/></g><rect x="1004.40" y="65.30" width="707.90" height="702.70" fill="none" stroke="#000" stroke-width="1.3"/><path d="M1020.4 768.0v6.2M1099.8 768.0v6.2M1179.2 768.0v6.2M1258.6 768.0v6.2M1338.0 768.0v6.2M1417.4 768.0v6.2M1496.8 768.0v6.2M1576.2 768.0v6.2M1655.6 768.0v6.2M1004.4 736.0h-6.2M1004.4 610.1h-6.2M1004.4 484.3h-6.2M1004.4 358.4h-6.2M1004.4 232.6h-6.2M1004.4 106.7h-6.2" stroke="#000" stroke-width="1.3" fill="none"/><g font-family="'DejaVu Sans', 'Liberation Sans', sans-serif" font-size="21" fill="#000"><text x="1020.4" y="795.4" text-anchor="middle">0</text><text x="1099.8" y="795.4" text-anchor="middle">1</text><text x="1179.2" y="795.4" text-anchor="middle">2</text><text x="1258.6" y="795.4" text-anchor="middle">3</text><text x="1338.0" y="795.4" text-anchor="middle">4</text><text x="1417.4" y="795.4" text-anchor="middle">5</text><text x="1496.8" y="795.4" text-anchor="middle">6</text><text x="1576.2" y="795.4" text-anchor="middle">7</text><text x="1655.6" y="795.4" text-anchor="middle">8</text><text x="992.6" y="745.0" text-anchor="end">0</text><text x="992.6" y="619.1" text-anchor="end">20</text><text x="992.6" y="493.3" text-anchor="end">40</text><text x="992.6" y="367.4" text-anchor="end">60</text><text x="992.6" y="241.6" text-anchor="end">80</text><text x="992.6" y="115.7" text-anchor="end">100</text></g><rect x="1134.90" y="73.50" width="568.90" height="169.80" rx="3.5" ry="3.5" fill="#fff" fill-opacity="0.8" stroke="#d4d4d4" stroke-width="1.3"/><circle cx="1155.9" cy="88.2" r="5.7" fill="#0000ff"/><text x="1183.4" y="92.0" font-family="'DejaVu Sans', 'Liberation Sans', sans-serif" font-size="16.0" fill="#000">No Shield</text><path d="M1139.8 109.7H1172.0" stroke="#0000ff" stroke-width="2.4" stroke-dasharray="8.6 3.9"/><text x="1183.4" y="115.7" font-family="'DejaVu Sans', 'Liberation Sans', sans-serif" font-size="16.0" fill="#000">Fitted No Shield</text><circle cx="1155.9" cy="135.6" r="5.7" fill="#008000"/><text x="1183.4" y="139.4" font-family="'DejaVu Sans', 'Liberation Sans', sans-serif" font-size="16.0" fill="#000">Tungsten Shield</text><path d="M1139.8 157.1H1172.0" stroke="#008000" stroke-width="2.4" stroke-dasharray="8.6 3.9"/><text x="1183.4" y="163.1" font-family="'DejaVu Sans', 'Liberation Sans', sans-serif" font-size="16.0" fill="#000">Fitted Tungsten Shield</text><circle cx="1155.9" cy="183.0" r="5.7" fill="#ff0000"/><text x="1183.4" y="186.8" font-family="'DejaVu Sans', 'Liberation Sans', sans-serif" font-size="16.0" fill="#000">Tungsten Filament Shield</text><path d="M1139.8 204.5H1172.0" stroke="#ff0000" stroke-width="2.4" stroke-dasharray="8.6 3.9"/><text x="1183.4" y="210.5" font-family="'DejaVu Sans', 'Liberation Sans', sans-serif" font-size="16.0" fill="#000">Fitted Tungsten Filament Shield</text><circle cx="1155.9" cy="230.4" r="5.7" fill="#00bfbf"/><text x="1183.4" y="234.2" font-family="'DejaVu Sans', 'Liberation Sans', sans-serif" font-size="16.0" fill="#000">Gold Shield</text><path d="M1463.5 86.0H1495.9" stroke="#00bfbf" stroke-width="2.4" stroke-dasharray="8.6 3.9"/><text x="1507.7" y="92.0" font-family="'DejaVu Sans', 'Liberation Sans', sans-serif" font-size="16.0" fill="#000">Fitted Gold Shield</text><circle cx="1479.7" cy="111.9" r="5.7" fill="#bf00bf"/><text x="1507.7" y="115.7" font-family="'DejaVu Sans', 'Liberation Sans', sans-serif" font-size="16.0" fill="#000">Lead Shield</text><path d="M1463.5 133.4H1495.9" stroke="#bf00bf" stroke-width="2.4" stroke-dasharray="8.6 3.9"/><text x="1507.7" y="139.4" font-family="'DejaVu Sans', 'Liberation Sans', sans-serif" font-size="16.0" fill="#000">Fitted Lead Shield</text><circle cx="1479.7" cy="159.3" r="5.7" fill="#bfbf00"/><text x="1507.7" y="163.1" font-family="'DejaVu Sans', 'Liberation Sans', sans-serif" font-size="16.0" fill="#000">Copper Shield</text><path d="M1463.5 180.8H1495.9" stroke="#bfbf00" stroke-width="2.4" stroke-dasharray="8.6 3.9"/><text x="1507.7" y="186.8" font-family="'DejaVu Sans', 'Liberation Sans', sans-serif" font-size="16.0" fill="#000">Fitted Copper Shield</text><circle cx="1479.7" cy="206.7" r="5.7" fill="#ffa500"/><text x="1507.7" y="210.5" font-family="'DejaVu Sans', 'Liberation Sans', sans-serif" font-size="16.0" fill="#000">Aluminium Shield</text><path d="M1463.5 228.2H1495.9" stroke="#ffa500" stroke-width="2.4" stroke-dasharray="8.6 3.9"/><text x="1507.7" y="234.2" font-family="'DejaVu Sans', 'Liberation Sans', sans-serif" font-size="16.0" fill="#000">Fitted Aluminium Shield</text><rect x="1208.40" y="247.90" width="496.00" height="337.40" fill="#fff"/><g clip-path="url(#c4)"><path d="M1414.2 244.5h0M1419.7 256.0h0M1425.3 281.0h0M1430.8 299.2h0M1436.4 324.8h0M1441.9 314.0h0M1447.4 329.6h0M1453.0 346.4h0M1458.5 380.2h0M1464.1 376.8h0M1469.6 387.6h0M1475.2 404.5h0M1480.7 426.0h0M1486.3 421.3h0M1491.8 432.1h0M1497.3 432.1h0M1502.9 447.6h0M1508.4 451.7h0M1514.0 465.9h0M1519.5 468.6h0M1525.1 470.6h0M1530.6 479.4h0M1536.2 482.7h0M1541.7 482.7h0M1547.3 491.5h0M1552.8 496.2h0M1558.3 498.9h0M1563.9 500.9h0M1569.4 503.0h0M1575.0 507.0h0M1580.5 511.1h0M1586.1 514.4h0M1591.6 515.8h0M1597.2 519.2h0M1602.7 523.9h0M1608.2 528.6h0M1613.8 530.0h0M1619.3 531.3h0M1624.9 531.3h0M1630.4 531.3h0M1636.0 536.7h0M1641.5 540.8h0M1647.1 540.8h0M1652.6 539.4h0M1658.2 544.8h0M1663.7 549.5h0M1669.2 551.6h0M1674.8 554.3h0M1680.3 557.6h0" stroke="#0000ff" stroke-width="11.4" stroke-linecap="round"/><path d="M1231.2 387.8h0M1236.7 356.3h0M1242.3 339.1h0M1247.8 357.3h0M1253.4 357.5h0M1258.9 366.7h0M1264.5 363.5h0M1270.0 381.8h0M1275.5 389.9h0M1281.1 377.9h0M1286.6 397.7h0M1292.2 393.5h0M1297.7 399.5h0M1303.3 413.1h0M1308.8 416.7h0M1314.4 417.9h0M1319.9 438.5h0M1325.5 447.0h0M1331.0 456.6h0M1336.5 455.7h0M1342.1 454.5h0M1347.6 461.9h0M1353.2 474.3h0M1358.7 479.3h0M1364.3 483.2h0M1369.8 486.3h0M1375.4 493.5h0M1380.9 497.0h0M1386.4 501.4h0M1392.0 506.5h0M1397.5 509.0h0M1403.1 511.5h0M1408.6 515.2h0M1414.2 516.6h0M1419.7 516.2h0M1425.3 522.0h0M1430.8 525.7h0M1436.4 531.6h0M1441.9 529.9h0M1447.4 536.9h0M1453.0 538.5h0M1458.5 537.3h0M1464.1 540.1h0M1469.6 543.7h0M1475.2 547.9h0M1480.7 548.0h0M1486.3 550.3h0M1491.8 550.4h0M1497.3 550.2h0M1502.9 554.0h0M1508.4 556.3h0M1514.0 557.9h0M1519.5 557.9h0M1525.1 559.1h0M1530.6 561.0h0M1536.2 560.9h0M1541.7 562.9h0M1547.3 561.9h0M1552.8 562.9h0M1558.3 564.0h0M1563.9 566.1h0M1569.4 566.3h0M1575.0 567.7h0M1580.5 568.7h0M1586.1 569.4h0M1591.6 570.6h0M1597.2 571.3h0M1602.7 570.8h0M1608.2 571.9h0M1613.8 572.3h0M1619.3 572.5h0M1624.9 574.2h0M1630.4 574.3h0M1636.0 574.4h0M1641.5 574.6h0M1647.1 575.2h0M1652.6 575.0h0M1658.2 575.5h0M1663.7 576.2h0M1669.2 576.4h0M1674.8 576.1h0M1680.3 576.4h0" stroke="#008000" stroke-width="11.4" stroke-linecap="round"/><path d="M1231.2 394.0h0M1236.7 349.0h0M1242.3 351.0h0M1247.8 344.1h0M1253.4 358.9h0M1258.9 360.9h0M1264.5 374.5h0M1270.0 353.0h0M1275.5 383.4h0M1281.1 375.6h0M1286.6 396.0h0M1292.2 399.6h0M1297.7 419.2h0M1303.3 416.9h0M1308.8 414.2h0M1314.4 435.7h0M1319.9 431.9h0M1325.5 442.4h0M1331.0 455.2h0M1336.5 458.1h0M1342.1 463.1h0M1347.6 466.2h0M1353.2 472.7h0M1358.7 479.2h0M1364.3 482.5h0M1369.8 490.7h0M1375.4 496.9h0M1380.9 497.9h0M1386.4 499.7h0M1392.0 509.8h0M1397.5 508.9h0M1403.1 513.6h0M1408.6 517.3h0M1414.2 515.8h0M1419.7 521.8h0M1425.3 519.9h0M1430.8 527.4h0M1436.4 527.5h0M1441.9 531.1h0M1447.4 534.8h0M1453.0 535.2h0M1458.5 539.0h0M1464.1 540.2h0M1469.6 543.5h0M1475.2 547.0h0M1480.7 547.7h0M1486.3 549.4h0M1491.8 550.0h0M1497.3 553.9h0M1502.9 554.3h0M1508.4 557.2h0M1514.0 556.0h0M1519.5 558.9h0M1525.1 560.6h0M1530.6 560.1h0M1536.2 560.0h0M1541.7 563.1h0M1547.3 563.7h0M1552.8 564.3h0M1558.3 565.5h0M1563.9 565.5h0M1569.4 567.2h0M1575.0 568.0h0M1580.5 568.1h0M1586.1 569.6h0M1591.6 569.6h0M1597.2 571.0h0M1602.7 571.8h0M1608.2 572.6h0M1613.8 571.5h0M1619.3 573.1h0M1624.9 573.4h0M1630.4 574.0h0M1636.0 574.4h0M1641.5 574.8h0M1647.1 574.4h0M1652.6 575.7h0M1658.2 576.1h0M1663.7 576.2h0M1669.2 576.5h0M1674.8 576.1h0M1680.3 576.3h0" stroke="#ff0000" stroke-width="11.4" stroke-linecap="round"/><path d="M1231.2 387.6h0M1236.7 370.6h0M1242.3 358.7h0M1247.8 343.7h0M1253.4 377.4h0M1258.9 354.3h0M1264.5 374.1h0M1270.0 364.9h0M1275.5 389.7h0M1281.1 388.9h0M1286.6 401.6h0M1292.2 406.8h0M1297.7 400.4h0M1303.3 409.7h0M1308.8 422.3h0M1314.4 433.7h0M1319.9 447.0h0M1325.5 446.0h0M1331.0 450.5h0M1336.5 456.2h0M1342.1 461.5h0M1347.6 470.5h0M1353.2 470.8h0M1358.7 476.3h0M1364.3 476.6h0M1369.8 480.7h0M1375.4 493.3h0M1380.9 500.0h0M1386.4 502.5h0M1392.0 507.3h0M1397.5 510.9h0M1403.1 512.1h0M1408.6 517.5h0M1414.2 516.4h0M1419.7 520.8h0M1425.3 522.7h0M1430.8 526.2h0M1436.4 529.7h0M1441.9 532.4h0M1447.4 533.9h0M1453.0 537.1h0M1458.5 538.4h0M1464.1 541.2h0M1469.6 545.4h0M1475.2 545.5h0M1480.7 549.3h0M1486.3 550.2h0M1491.8 551.6h0M1497.3 555.2h0M1502.9 554.1h0M1508.4 555.3h0M1514.0 556.9h0M1519.5 558.3h0M1525.1 559.3h0M1530.6 560.9h0M1536.2 561.2h0M1541.7 562.4h0M1547.3 562.8h0M1552.8 564.6h0M1558.3 564.6h0M1563.9 565.6h0M1569.4 566.8h0M1575.0 567.8h0M1580.5 568.1h0M1586.1 570.1h0M1591.6 569.6h0M1597.2 570.4h0M1602.7 571.0h0M1608.2 571.6h0M1613.8 572.7h0M1619.3 573.1h0M1624.9 573.2h0M1630.4 573.8h0M1636.0 574.4h0M1641.5 575.3h0M1647.1 574.9h0M1652.6 574.9h0M1658.2 575.2h0M1663.7 575.8h0M1669.2 576.6h0M1674.8 576.0h0M1680.3 576.6h0" stroke="#00bfbf" stroke-width="11.4" stroke-linecap="round"/><path d="M1231.2 398.2h0M1236.7 356.9h0M1242.3 367.5h0M1247.8 365.4h0M1253.4 360.9h0M1258.9 348.2h0M1264.5 368.8h0M1270.0 370.7h0M1275.5 369.4h0M1281.1 375.6h0M1286.6 392.3h0M1292.2 402.2h0M1297.7 416.8h0M1303.3 418.8h0M1308.8 417.5h0M1314.4 426.8h0M1319.9 436.9h0M1325.5 439.1h0M1331.0 453.9h0M1336.5 456.1h0M1342.1 457.9h0M1347.6 463.5h0M1353.2 466.2h0M1358.7 474.6h0M1364.3 482.5h0M1369.8 486.0h0M1375.4 496.0h0M1380.9 502.6h0M1386.4 500.6h0M1392.0 505.8h0M1397.5 508.1h0M1403.1 516.2h0M1408.6 515.9h0M1414.2 519.2h0M1419.7 522.5h0M1425.3 528.0h0M1430.8 526.5h0M1436.4 526.5h0M1441.9 529.9h0M1447.4 534.6h0M1453.0 536.2h0M1458.5 537.5h0M1464.1 545.2h0M1469.6 543.6h0M1475.2 544.8h0M1480.7 546.6h0M1486.3 547.2h0M1491.8 549.8h0M1497.3 552.6h0M1502.9 553.9h0M1508.4 554.7h0M1514.0 557.2h0M1519.5 557.9h0M1525.1 558.1h0M1530.6 558.2h0M1536.2 561.1h0M1541.7 562.0h0M1547.3 562.7h0M1552.8 562.7h0M1558.3 564.8h0M1563.9 564.7h0M1569.4 567.3h0M1575.0 567.7h0M1580.5 568.5h0M1586.1 568.7h0M1591.6 569.3h0M1597.2 571.3h0M1602.7 571.6h0M1608.2 571.6h0M1613.8 572.7h0M1619.3 573.6h0M1624.9 573.1h0M1630.4 573.8h0M1636.0 574.3h0M1641.5 575.0h0M1647.1 574.7h0M1652.6 575.4h0M1658.2 575.2h0M1663.7 576.1h0M1669.2 576.4h0M1674.8 576.2h0M1680.3 576.7h0" stroke="#bf00bf" stroke-width="11.4" stroke-linecap="round"/><path d="M1231.2 375.9h0M1236.7 357.9h0M1242.3 363.2h0M1247.8 354.6h0M1253.4 358.7h0M1258.9 351.2h0M1264.5 370.8h0M1270.0 376.0h0M1275.5 373.4h0M1281.1 370.8h0M1286.6 377.6h0M1292.2 400.2h0M1297.7 407.8h0M1303.3 405.3h0M1308.8 420.7h0M1314.4 434.2h0M1319.9 436.9h0M1325.5 441.8h0M1331.0 454.2h0M1336.5 463.1h0M1342.1 467.2h0M1347.6 463.1h0M1353.2 473.6h0M1358.7 476.7h0M1364.3 480.6h0M1369.8 485.1h0M1375.4 493.9h0M1380.9 496.2h0M1386.4 504.8h0M1392.0 506.7h0M1397.5 511.6h0M1403.1 509.0h0M1408.6 515.0h0M1414.2 519.5h0M1419.7 521.4h0M1425.3 523.8h0M1430.8 524.4h0M1436.4 531.4h0M1441.9 532.6h0M1447.4 534.2h0M1453.0 531.6h0M1458.5 537.2h0M1464.1 541.3h0M1469.6 542.4h0M1475.2 542.6h0M1480.7 547.8h0M1486.3 549.9h0M1491.8 549.7h0M1497.3 552.3h0M1502.9 553.5h0M1508.4 556.0h0M1514.0 554.7h0M1519.5 556.2h0M1525.1 558.5h0M1530.6 559.4h0M1536.2 562.7h0M1541.7 561.4h0M1547.3 563.0h0M1552.8 563.4h0M1558.3 564.2h0M1563.9 566.0h0M1569.4 567.7h0M1575.0 567.3h0M1580.5 568.9h0M1586.1 569.4h0M1591.6 570.2h0M1597.2 570.7h0M1602.7 572.3h0M1608.2 571.2h0M1613.8 572.3h0M1619.3 572.5h0M1624.9 572.6h0M1630.4 574.0h0M1636.0 575.2h0M1641.5 575.1h0M1647.1 575.5h0M1652.6 575.5h0M1658.2 575.6h0M1663.7 576.5h0M1669.2 576.0h0M1674.8 576.8h0M1680.3 576.4h0" stroke="#bfbf00" stroke-width="11.4" stroke-linecap="round"/><path d="M1358.7 252.6h0M1364.3 271.5h0M1369.8 293.8h0M1375.4 295.1h0M1380.9 317.4h0M1386.4 334.9h0M1392.0 352.5h0M1397.5 352.5h0M1403.1 382.2h0M1408.6 382.2h0M1414.2 391.6h0M1419.7 404.5h0M1425.3 411.9h0M1430.8 428.1h0M1436.4 411.9h0M1441.9 434.1h0M1447.4 447.0h0M1453.0 457.8h0M1458.5 464.5h0M1464.1 467.2h0M1469.6 474.0h0M1475.2 478.7h0M1480.7 483.4h0M1486.3 484.8h0M1491.8 484.8h0M1497.3 492.9h0M1502.9 497.6h0M1508.4 502.3h0M1514.0 509.7h0M1519.5 515.1h0M1525.1 514.4h0M1530.6 517.8h0M1536.2 523.2h0M1541.7 527.3h0M1547.3 524.6h0M1552.8 525.9h0M1558.3 531.3h0M1563.9 535.4h0M1569.4 538.1h0M1575.0 541.4h0M1580.5 540.8h0M1586.1 543.5h0M1591.6 542.8h0M1597.2 544.8h0M1602.7 548.2h0M1608.2 550.9h0M1613.8 551.2h0M1619.3 551.6h0M1624.9 552.2h0M1630.4 552.9h0M1636.0 554.6h0M1641.5 556.3h0M1647.1 557.7h0M1652.6 559.0h0M1658.2 559.7h0M1663.7 560.3h0M1669.2 561.0h0M1674.8 561.7h0M1680.3 562.4h0" stroke="#ffa500" stroke-width="11.4" stroke-linecap="round"/><path d="M1405.0 254.2h7.2m-3.6 0V207.8m-3.6 0h7.2M1410.6 267.3h7.2m-3.6 0V221.8m-3.6 0h7.2M1416.1 278.4h7.2m-3.6 0V233.6m-3.6 0h7.2M1421.7 302.5h7.2m-3.6 0V259.5m-3.6 0h7.2M1427.2 320.0h7.2m-3.6 0V278.3m-3.6 0h7.2M1432.8 344.7h7.2m-3.6 0V304.9m-3.6 0h7.2M1438.3 334.3h7.2m-3.6 0V293.7m-3.6 0h7.2M1443.8 349.3h7.2m-3.6 0V309.8m-3.6 0h7.2M1449.4 365.5h7.2m-3.6 0V327.4m-3.6 0h7.2M1454.9 397.8h7.2m-3.6 0V362.5m-3.6 0h7.2M1460.5 394.6h7.2m-3.6 0V359.0m-3.6 0h7.2M1466.0 404.9h7.2m-3.6 0V370.3m-3.6 0h7.2M1471.6 421.0h7.2m-3.6 0V387.9m-3.6 0h7.2M1477.1 441.6h7.2m-3.6 0V410.5m-3.6 0h7.2M1482.7 437.1h7.2m-3.6 0V405.5m-3.6 0h7.2M1488.2 447.4h7.2m-3.6 0V416.9m-3.6 0h7.2M1493.8 447.4h7.2m-3.6 0V416.9m-3.6 0h7.2M1499.3 462.1h7.2m-3.6 0V433.2m-3.6 0h7.2M1504.8 465.9h7.2m-3.6 0V437.4m-3.6 0h7.2M1510.4 479.3h7.2m-3.6 0V452.4m-3.6 0h7.2M1515.9 481.9h7.2m-3.6 0V455.2m-3.6 0h7.2M1521.5 483.8h7.2m-3.6 0V457.4m-3.6 0h7.2M1527.0 492.0h7.2m-3.6 0V466.7m-3.6 0h7.2M1532.6 495.2h7.2m-3.6 0V470.3m-3.6 0h7.2M1538.1 495.2h7.2m-3.6 0V470.3m-3.6 0h7.2M1543.7 503.4h7.2m-3.6 0V479.6m-3.6 0h7.2M1549.2 507.9h7.2m-3.6 0V484.6m-3.6 0h7.2M1554.7 510.4h7.2m-3.6 0V487.5m-3.6 0h7.2M1560.3 512.3h7.2m-3.6 0V489.6m-3.6 0h7.2M1565.8 514.2h7.2m-3.6 0V491.8m-3.6 0h7.2M1571.4 517.9h7.2m-3.6 0V496.1m-3.6 0h7.2M1576.9 521.7h7.2m-3.6 0V500.5m-3.6 0h7.2M1582.5 524.8h7.2m-3.6 0V504.1m-3.6 0h7.2M1588.0 526.1h7.2m-3.6 0V505.5m-3.6 0h7.2M1593.6 529.2h7.2m-3.6 0V509.1m-3.6 0h7.2M1599.1 533.5h7.2m-3.6 0V514.2m-3.6 0h7.2M1604.7 537.9h7.2m-3.6 0V519.3m-3.6 0h7.2M1610.2 539.1h7.2m-3.6 0V520.8m-3.6 0h7.2M1615.7 540.4h7.2m-3.6 0V522.3m-3.6 0h7.2M1621.3 540.4h7.2m-3.6 0V522.3m-3.6 0h7.2M1626.8 540.4h7.2m-3.6 0V522.3m-3.6 0h7.2M1632.4 545.3h7.2m-3.6 0V528.1m-3.6 0h7.2M1637.9 549.0h7.2m-3.6 0V532.5m-3.6 0h7.2M1643.5 549.0h7.2m-3.6 0V532.5m-3.6 0h7.2M1649.0 547.8h7.2m-3.6 0V531.1m-3.6 0h7.2M1654.6 552.7h7.2m-3.6 0V537.0m-3.6 0h7.2M1660.1 556.9h7.2m-3.6 0V542.2m-3.6 0h7.2M1665.6 558.7h7.2m-3.6 0V544.4m-3.6 0h7.2M1671.2 561.1h7.2m-3.6 0V547.4m-3.6 0h7.2M1676.7 564.1h7.2m-3.6 0V551.2m-3.6 0h7.2" stroke="#0000ff" stroke-width="2.1" fill="none"/><polyline points="1414.2,245.7 1419.7,263.6 1425.3,280.4 1430.8,296.2 1436.4,311.1 1441.9,325.5 1447.4,339.5 1453.0,353.5 1458.5,367.2 1464.1,380.3 1469.6,392.6 1475.2,403.8 1480.7,413.8 1486.3,422.9 1491.8,431.2 1497.3,439.0 1502.9,446.6 1508.4,453.8 1514.0,460.5 1519.5,466.7 1525.1,472.2 1530.6,477.2 1536.2,481.9 1541.7,486.3 1547.3,490.4 1552.8,494.2 1558.3,497.8 1563.9,501.2 1569.4,504.5 1575.0,507.7 1580.5,510.9 1586.1,514.1 1591.6,517.3 1597.2,520.4 1602.7,523.4 1608.2,526.1 1613.8,528.4 1619.3,530.6 1624.9,532.6 1630.4,534.6 1636.0,536.7 1641.5,538.8 1647.1,541.2 1652.6,543.6 1658.2,546.3 1663.7,549.0 1669.2,551.8 1674.8,554.6 1680.3,557.2" stroke="#0000ff" stroke-width="2.3" fill="none" stroke-dasharray="8.5 3.7"/><path d="M1227.6 412.1h7.2m-3.6 0V363.6m-3.6 0h7.2M1233.1 382.4h7.2m-3.6 0V330.1m-3.6 0h7.2M1238.7 366.2h7.2m-3.6 0V312.0m-3.6 0h7.2M1244.2 383.3h7.2m-3.6 0V331.2m-3.6 0h7.2M1249.8 383.5h7.2m-3.6 0V331.5m-3.6 0h7.2M1255.3 392.2h7.2m-3.6 0V341.2m-3.6 0h7.2M1260.9 389.2h7.2m-3.6 0V337.8m-3.6 0h7.2M1266.4 406.4h7.2m-3.6 0V357.2m-3.6 0h7.2M1272.0 414.0h7.2m-3.6 0V365.8m-3.6 0h7.2M1277.5 402.7h7.2m-3.6 0V353.0m-3.6 0h7.2M1283.0 421.3h7.2m-3.6 0V374.0m-3.6 0h7.2M1288.6 417.4h7.2m-3.6 0V369.6m-3.6 0h7.2M1294.1 423.0h7.2m-3.6 0V376.0m-3.6 0h7.2M1299.7 435.7h7.2m-3.6 0V390.5m-3.6 0h7.2M1305.2 439.1h7.2m-3.6 0V394.3m-3.6 0h7.2M1310.8 440.3h7.2m-3.6 0V395.6m-3.6 0h7.2M1316.3 459.4h7.2m-3.6 0V417.6m-3.6 0h7.2M1321.9 467.3h7.2m-3.6 0V426.7m-3.6 0h7.2M1327.4 476.2h7.2m-3.6 0V437.0m-3.6 0h7.2M1332.9 475.3h7.2m-3.6 0V436.0m-3.6 0h7.2M1338.5 474.3h7.2m-3.6 0V434.8m-3.6 0h7.2M1344.0 481.0h7.2m-3.6 0V442.7m-3.6 0h7.2M1349.6 492.5h7.2m-3.6 0V456.1m-3.6 0h7.2M1355.1 497.1h7.2m-3.6 0V461.6m-3.6 0h7.2M1360.7 500.6h7.2m-3.6 0V465.8m-3.6 0h7.2M1366.2 503.4h7.2m-3.6 0V469.1m-3.6 0h7.2M1371.8 510.0h7.2m-3.6 0V477.0m-3.6 0h7.2M1377.3 513.2h7.2m-3.6 0V480.8m-3.6 0h7.2M1382.8 517.2h7.2m-3.6 0V485.6m-3.6 0h7.2M1388.4 521.8h7.2m-3.6 0V491.2m-3.6 0h7.2M1393.9 524.1h7.2m-3.6 0V493.9m-3.6 0h7.2M1399.5 526.3h7.2m-3.6 0V496.6m-3.6 0h7.2M1405.0 529.6h7.2m-3.6 0V500.7m-3.6 0h7.2M1410.6 530.9h7.2m-3.6 0V502.3m-3.6 0h7.2M1416.1 530.6h7.2m-3.6 0V501.9m-3.6 0h7.2M1421.7 535.7h7.2m-3.6 0V508.2m-3.6 0h7.2M1427.2 539.0h7.2m-3.6 0V512.4m-3.6 0h7.2M1432.8 544.2h7.2m-3.6 0V518.9m-3.6 0h7.2M1438.3 542.7h7.2m-3.6 0V517.1m-3.6 0h7.2M1443.8 548.9h7.2m-3.6 0V524.9m-3.6 0h7.2M1449.4 550.3h7.2m-3.6 0V526.8m-3.6 0h7.2M1454.9 549.3h7.2m-3.6 0V525.4m-3.6 0h7.2M1460.5 551.7h7.2m-3.6 0V528.5m-3.6 0h7.2M1466.0 554.8h7.2m-3.6 0V532.6m-3.6 0h7.2M1471.6 558.4h7.2m-3.6 0V537.3m-3.6 0h7.2M1477.1 558.6h7.2m-3.6 0V537.5m-3.6 0h7.2M1482.7 560.5h7.2m-3.6 0V540.0m-3.6 0h7.2M1488.2 560.6h7.2m-3.6 0V540.3m-3.6 0h7.2M1493.8 560.5h7.2m-3.6 0V540.0m-3.6 0h7.2M1499.3 563.6h7.2m-3.6 0V544.3m-3.6 0h7.2M1504.8 565.6h7.2m-3.6 0V547.0m-3.6 0h7.2M1510.4 566.9h7.2m-3.6 0V548.8m-3.6 0h7.2M1515.9 566.9h7.2m-3.6 0V548.9m-3.6 0h7.2M1521.5 568.0h7.2m-3.6 0V550.3m-3.6 0h7.2M1527.0 569.5h7.2m-3.6 0V552.5m-3.6 0h7.2M1532.6 569.4h7.2m-3.6 0V552.4m-3.6 0h7.2M1538.1 571.0h7.2m-3.6 0V554.7m-3.6 0h7.2M1543.7 570.3h7.2m-3.6 0V553.6m-3.6 0h7.2M1549.2 571.1h7.2m-3.6 0V554.7m-3.6 0h7.2M1554.7 571.9h7.2m-3.6 0V556.0m-3.6 0h7.2M1560.3 573.6h7.2m-3.6 0V558.5m-3.6 0h7.2M1565.8 573.9h7.2m-3.6 0V558.8m-3.6 0h7.2M1571.4 574.9h7.2m-3.6 0V560.4m-3.6 0h7.2M1576.9 575.7h7.2m-3.6 0V561.6m-3.6 0h7.2M1582.5 576.2h7.2m-3.6 0V562.5m-3.6 0h7.2M1588.0 577.2h7.2m-3.6 0V563.9m-3.6 0h7.2M1593.6 577.7h7.2m-3.6 0V564.8m-3.6 0h7.2M1599.1 577.4h7.2m-3.6 0V564.2m-3.6 0h7.2M1604.7 578.2h7.2m-3.6 0V565.6m-3.6 0h7.2M1610.2 578.5h7.2m-3.6 0V566.1m-3.6 0h7.2M1615.7 578.7h7.2m-3.6 0V566.3m-3.6 0h7.2M1621.3 579.9h7.2m-3.6 0V568.4m-3.6 0h7.2M1626.8 580.0h7.2m-3.6 0V568.6m-3.6 0h7.2M1632.4 580.1h7.2m-3.6 0V568.8m-3.6 0h7.2M1637.9 580.3h7.2m-3.6 0V569.0m-3.6 0h7.2M1643.5 580.7h7.2m-3.6 0V569.7m-3.6 0h7.2M1649.0 580.5h7.2m-3.6 0V569.4m-3.6 0h7.2M1654.6 580.9h7.2m-3.6 0V570.1m-3.6 0h7.2M1660.1 581.4h7.2m-3.6 0V571.1m-3.6 0h7.2M1665.6 581.5h7.2m-3.6 0V571.2m-3.6 0h7.2M1671.2 581.3h7.2m-3.6 0V570.8m-3.6 0h7.2M1676.7 581.5h7.2m-3.6 0V571.2m-3.6 0h7.2" stroke="#008000" stroke-width="2.1" fill="none"/><polyline points="1231.2,364.7 1236.7,362.0 1242.3,361.4 1247.8,362.6 1253.4,365.2 1258.9,368.8 1264.5,373.2 1270.0,378.0 1275.5,383.3 1281.1,388.8 1286.6,394.7 1292.2,400.9 1297.7,407.4 1303.3,414.2 1308.8,421.3 1314.4,428.4 1319.9,435.5 1325.5,442.3 1331.0,448.9 1336.5,455.2 1342.1,461.2 1347.6,466.9 1353.2,472.5 1358.7,477.8 1364.3,482.9 1369.8,487.8 1375.4,492.4 1380.9,496.7 1386.4,500.7 1392.0,504.5 1397.5,507.9 1403.1,511.2 1408.6,514.4 1414.2,517.5 1419.7,520.5 1425.3,523.4 1430.8,526.4 1436.4,529.2 1441.9,532.0 1447.4,534.6 1453.0,537.1 1458.5,539.4 1464.1,541.6 1469.6,543.7 1475.2,545.7 1480.7,547.5 1486.3,549.3 1491.8,550.9 1497.3,552.5 1502.9,554.0 1508.4,555.4 1514.0,556.7 1519.5,557.9 1525.1,559.1 1530.6,560.1 1536.2,561.1 1541.7,562.1 1547.3,563.0 1552.8,563.9 1558.3,564.8 1563.9,565.8 1569.4,566.7 1575.0,567.6 1580.5,568.4 1586.1,569.2 1591.6,570.0 1597.2,570.7 1602.7,571.3 1608.2,571.9 1613.8,572.4 1619.3,573.0 1624.9,573.4 1630.4,573.9 1636.0,574.3 1641.5,574.6 1647.1,575.0 1652.6,575.3 1658.2,575.6 1663.7,575.8 1669.2,576.1 1674.8,576.3 1680.3,576.5" stroke="#008000" stroke-width="2.3" fill="none" stroke-dasharray="8.5 3.7"/><path d="M1227.6 417.8h7.2m-3.6 0V370.1m-3.6 0h7.2M1233.1 375.5h7.2m-3.6 0V322.5m-3.6 0h7.2M1238.7 377.4h7.2m-3.6 0V324.6m-3.6 0h7.2M1244.2 370.9h7.2m-3.6 0V317.3m-3.6 0h7.2M1249.8 384.9h7.2m-3.6 0V333.0m-3.6 0h7.2M1255.3 386.7h7.2m-3.6 0V335.1m-3.6 0h7.2M1260.9 399.5h7.2m-3.6 0V349.4m-3.6 0h7.2M1266.4 379.3h7.2m-3.6 0V326.7m-3.6 0h7.2M1272.0 407.9h7.2m-3.6 0V358.9m-3.6 0h7.2M1277.5 400.6h7.2m-3.6 0V350.7m-3.6 0h7.2M1283.0 419.7h7.2m-3.6 0V372.2m-3.6 0h7.2M1288.6 423.1h7.2m-3.6 0V376.0m-3.6 0h7.2M1294.1 441.4h7.2m-3.6 0V397.0m-3.6 0h7.2M1299.7 439.3h7.2m-3.6 0V394.5m-3.6 0h7.2M1305.2 436.7h7.2m-3.6 0V391.6m-3.6 0h7.2M1310.8 456.8h7.2m-3.6 0V414.6m-3.6 0h7.2M1316.3 453.2h7.2m-3.6 0V410.5m-3.6 0h7.2M1321.9 463.0h7.2m-3.6 0V421.8m-3.6 0h7.2M1327.4 474.9h7.2m-3.6 0V435.5m-3.6 0h7.2M1332.9 477.6h7.2m-3.6 0V438.6m-3.6 0h7.2M1338.5 482.2h7.2m-3.6 0V444.0m-3.6 0h7.2M1344.0 485.0h7.2m-3.6 0V447.3m-3.6 0h7.2M1349.6 491.0h7.2m-3.6 0V454.4m-3.6 0h7.2M1355.1 497.0h7.2m-3.6 0V461.5m-3.6 0h7.2M1360.7 500.0h7.2m-3.6 0V465.0m-3.6 0h7.2M1366.2 507.5h7.2m-3.6 0V474.0m-3.6 0h7.2M1371.8 513.1h7.2m-3.6 0V480.7m-3.6 0h7.2M1377.3 514.0h7.2m-3.6 0V481.7m-3.6 0h7.2M1382.8 515.7h7.2m-3.6 0V483.7m-3.6 0h7.2M1388.4 524.8h7.2m-3.6 0V494.8m-3.6 0h7.2M1393.9 524.0h7.2m-3.6 0V493.8m-3.6 0h7.2M1399.5 528.2h7.2m-3.6 0V499.0m-3.6 0h7.2M1405.0 531.6h7.2m-3.6 0V503.1m-3.6 0h7.2M1410.6 530.2h7.2m-3.6 0V501.4m-3.6 0h7.2M1416.1 535.5h7.2m-3.6 0V508.0m-3.6 0h7.2M1421.7 533.9h7.2m-3.6 0V506.0m-3.6 0h7.2M1427.2 540.6h7.2m-3.6 0V514.3m-3.6 0h7.2M1432.8 540.6h7.2m-3.6 0V514.4m-3.6 0h7.2M1438.3 543.8h7.2m-3.6 0V518.4m-3.6 0h7.2M1443.8 547.1h7.2m-3.6 0V522.6m-3.6 0h7.2M1449.4 547.4h7.2m-3.6 0V522.9m-3.6 0h7.2M1454.9 550.7h7.2m-3.6 0V527.3m-3.6 0h7.2M1460.5 551.8h7.2m-3.6 0V528.6m-3.6 0h7.2M1466.0 554.7h7.2m-3.6 0V532.4m-3.6 0h7.2M1471.6 557.7h7.2m-3.6 0V536.4m-3.6 0h7.2M1477.1 558.3h7.2m-3.6 0V537.1m-3.6 0h7.2M1482.7 559.7h7.2m-3.6 0V539.0m-3.6 0h7.2M1488.2 560.3h7.2m-3.6 0V539.8m-3.6 0h7.2M1493.8 563.6h7.2m-3.6 0V544.3m-3.6 0h7.2M1499.3 563.9h7.2m-3.6 0V544.7m-3.6 0h7.2M1504.8 566.4h7.2m-3.6 0V548.1m-3.6 0h7.2M1510.4 565.4h7.2m-3.6 0V546.7m-3.6 0h7.2M1515.9 567.8h7.2m-3.6 0V550.0m-3.6 0h7.2M1521.5 569.2h7.2m-3.6 0V552.0m-3.6 0h7.2M1527.0 568.7h7.2m-3.6 0V551.4m-3.6 0h7.2M1532.6 568.7h7.2m-3.6 0V551.4m-3.6 0h7.2M1538.1 571.3h7.2m-3.6 0V555.0m-3.6 0h7.2M1543.7 571.7h7.2m-3.6 0V555.7m-3.6 0h7.2M1549.2 572.2h7.2m-3.6 0V556.3m-3.6 0h7.2M1554.7 573.2h7.2m-3.6 0V557.9m-3.6 0h7.2M1560.3 573.2h7.2m-3.6 0V557.8m-3.6 0h7.2M1565.8 574.5h7.2m-3.6 0V559.9m-3.6 0h7.2M1571.4 575.2h7.2m-3.6 0V560.8m-3.6 0h7.2M1576.9 575.2h7.2m-3.6 0V560.9m-3.6 0h7.2M1582.5 576.4h7.2m-3.6 0V562.7m-3.6 0h7.2M1588.0 576.5h7.2m-3.6 0V562.8m-3.6 0h7.2M1593.6 577.6h7.2m-3.6 0V564.5m-3.6 0h7.2M1599.1 578.1h7.2m-3.6 0V565.4m-3.6 0h7.2M1604.7 578.8h7.2m-3.6 0V566.5m-3.6 0h7.2M1610.2 577.9h7.2m-3.6 0V565.1m-3.6 0h7.2M1615.7 579.1h7.2m-3.6 0V567.1m-3.6 0h7.2M1621.3 579.3h7.2m-3.6 0V567.4m-3.6 0h7.2M1626.8 579.8h7.2m-3.6 0V568.2m-3.6 0h7.2M1632.4 580.1h7.2m-3.6 0V568.8m-3.6 0h7.2M1637.9 580.4h7.2m-3.6 0V569.2m-3.6 0h7.2M1643.5 580.1h7.2m-3.6 0V568.7m-3.6 0h7.2M1649.0 581.0h7.2m-3.6 0V570.3m-3.6 0h7.2M1654.6 581.3h7.2m-3.6 0V570.9m-3.6 0h7.2M1660.1 581.4h7.2m-3.6 0V571.0m-3.6 0h7.2M1665.6 581.6h7.2m-3.6 0V571.4m-3.6 0h7.2M1671.2 581.3h7.2m-3.6 0V570.8m-3.6 0h7.2M1676.7 581.5h7.2m-3.6 0V571.1m-3.6 0h7.2" stroke="#ff0000" stroke-width="2.1" fill="none"/><polyline points="1231.2,367.7 1236.7,363.4 1242.3,361.4 1247.8,361.3 1253.4,362.9 1258.9,366.0 1264.5,370.3 1270.0,375.6 1275.5,381.7 1281.1,388.4 1286.6,395.4 1292.2,402.7 1297.7,410.0 1303.3,417.2 1308.8,424.2 1314.4,431.2 1319.9,437.9 1325.5,444.5 1331.0,450.9 1336.5,457.0 1342.1,462.9 1347.6,468.6 1353.2,474.1 1358.7,479.4 1364.3,484.5 1369.8,489.3 1375.4,493.8 1380.9,498.1 1386.4,502.1 1392.0,505.8 1397.5,509.2 1403.1,512.3 1408.6,515.3 1414.2,518.2 1419.7,520.9 1425.3,523.6 1430.8,526.3 1436.4,528.9 1441.9,531.5 1447.4,534.0 1453.0,536.5 1458.5,538.9 1464.1,541.3 1469.6,543.5 1475.2,545.6 1480.7,547.6 1486.3,549.4 1491.8,551.2 1497.3,552.8 1502.9,554.3 1508.4,555.8 1514.0,557.1 1519.5,558.3 1525.1,559.4 1530.6,560.5 1536.2,561.5 1541.7,562.5 1547.3,563.5 1552.8,564.4 1558.3,565.3 1563.9,566.2 1569.4,567.0 1575.0,567.8 1580.5,568.6 1586.1,569.3 1591.6,570.0 1597.2,570.7 1602.7,571.3 1608.2,571.9 1613.8,572.4 1619.3,572.9 1624.9,573.4 1630.4,573.8 1636.0,574.3 1641.5,574.6 1647.1,575.0 1652.6,575.4 1658.2,575.7 1663.7,575.9 1669.2,576.2 1674.8,576.4 1680.3,576.5" stroke="#ff0000" stroke-width="2.3" fill="none" stroke-dasharray="8.5 3.7"/><path d="M1227.6 411.9h7.2m-3.6 0V363.3m-3.6 0h7.2M1233.1 395.9h7.2m-3.6 0V345.3m-3.6 0h7.2M1238.7 384.7h7.2m-3.6 0V332.7m-3.6 0h7.2M1244.2 370.5h7.2m-3.6 0V316.9m-3.6 0h7.2M1249.8 402.3h7.2m-3.6 0V352.6m-3.6 0h7.2M1255.3 380.6h7.2m-3.6 0V328.1m-3.6 0h7.2M1260.9 399.2h7.2m-3.6 0V349.0m-3.6 0h7.2M1266.4 390.5h7.2m-3.6 0V339.2m-3.6 0h7.2M1272.0 413.8h7.2m-3.6 0V365.6m-3.6 0h7.2M1277.5 413.1h7.2m-3.6 0V364.8m-3.6 0h7.2M1283.0 425.0h7.2m-3.6 0V378.2m-3.6 0h7.2M1288.6 429.9h7.2m-3.6 0V383.8m-3.6 0h7.2M1294.1 423.9h7.2m-3.6 0V377.0m-3.6 0h7.2M1299.7 432.5h7.2m-3.6 0V386.8m-3.6 0h7.2M1305.2 444.3h7.2m-3.6 0V400.3m-3.6 0h7.2M1310.8 454.9h7.2m-3.6 0V412.4m-3.6 0h7.2M1316.3 467.3h7.2m-3.6 0V426.7m-3.6 0h7.2M1321.9 466.4h7.2m-3.6 0V425.6m-3.6 0h7.2M1327.4 470.5h7.2m-3.6 0V430.5m-3.6 0h7.2M1332.9 475.8h7.2m-3.6 0V436.6m-3.6 0h7.2M1338.5 480.7h7.2m-3.6 0V442.4m-3.6 0h7.2M1344.0 489.0h7.2m-3.6 0V452.1m-3.6 0h7.2M1349.6 489.3h7.2m-3.6 0V452.4m-3.6 0h7.2M1355.1 494.3h7.2m-3.6 0V458.3m-3.6 0h7.2M1360.7 494.6h7.2m-3.6 0V458.6m-3.6 0h7.2M1366.2 498.3h7.2m-3.6 0V463.0m-3.6 0h7.2M1371.8 509.8h7.2m-3.6 0V476.7m-3.6 0h7.2M1377.3 516.0h7.2m-3.6 0V484.1m-3.6 0h7.2M1382.8 518.2h7.2m-3.6 0V486.8m-3.6 0h7.2M1388.4 522.6h7.2m-3.6 0V492.1m-3.6 0h7.2M1393.9 525.7h7.2m-3.6 0V496.0m-3.6 0h7.2M1399.5 526.9h7.2m-3.6 0V497.4m-3.6 0h7.2M1405.0 531.7h7.2m-3.6 0V503.3m-3.6 0h7.2M1410.6 530.7h7.2m-3.6 0V502.1m-3.6 0h7.2M1416.1 534.7h7.2m-3.6 0V507.0m-3.6 0h7.2M1421.7 536.4h7.2m-3.6 0V509.1m-3.6 0h7.2M1427.2 539.5h7.2m-3.6 0V513.0m-3.6 0h7.2M1432.8 542.6h7.2m-3.6 0V516.9m-3.6 0h7.2M1438.3 545.0h7.2m-3.6 0V519.9m-3.6 0h7.2M1443.8 546.3h7.2m-3.6 0V521.5m-3.6 0h7.2M1449.4 549.1h7.2m-3.6 0V525.1m-3.6 0h7.2M1454.9 550.2h7.2m-3.6 0V526.5m-3.6 0h7.2M1460.5 552.6h7.2m-3.6 0V529.7m-3.6 0h7.2M1466.0 556.3h7.2m-3.6 0V534.5m-3.6 0h7.2M1471.6 556.3h7.2m-3.6 0V534.6m-3.6 0h7.2M1477.1 559.6h7.2m-3.6 0V538.9m-3.6 0h7.2M1482.7 560.4h7.2m-3.6 0V540.0m-3.6 0h7.2M1488.2 561.6h7.2m-3.6 0V541.5m-3.6 0h7.2M1493.8 564.6h7.2m-3.6 0V545.7m-3.6 0h7.2M1499.3 563.8h7.2m-3.6 0V544.5m-3.6 0h7.2M1504.8 564.8h7.2m-3.6 0V545.9m-3.6 0h7.2M1510.4 566.1h7.2m-3.6 0V547.7m-3.6 0h7.2M1515.9 567.2h7.2m-3.6 0V549.3m-3.6 0h7.2M1521.5 568.1h7.2m-3.6 0V550.5m-3.6 0h7.2M1527.0 569.4h7.2m-3.6 0V552.3m-3.6 0h7.2M1532.6 569.7h7.2m-3.6 0V552.7m-3.6 0h7.2M1538.1 570.6h7.2m-3.6 0V554.1m-3.6 0h7.2M1543.7 571.0h7.2m-3.6 0V554.6m-3.6 0h7.2M1549.2 572.4h7.2m-3.6 0V556.7m-3.6 0h7.2M1554.7 572.4h7.2m-3.6 0V556.7m-3.6 0h7.2M1560.3 573.3h7.2m-3.6 0V558.0m-3.6 0h7.2M1565.8 574.2h7.2m-3.6 0V559.3m-3.6 0h7.2M1571.4 575.1h7.2m-3.6 0V560.6m-3.6 0h7.2M1576.9 575.3h7.2m-3.6 0V560.9m-3.6 0h7.2M1582.5 576.8h7.2m-3.6 0V563.3m-3.6 0h7.2M1588.0 576.5h7.2m-3.6 0V562.8m-3.6 0h7.2M1593.6 577.1h7.2m-3.6 0V563.8m-3.6 0h7.2M1599.1 577.6h7.2m-3.6 0V564.5m-3.6 0h7.2M1604.7 578.0h7.2m-3.6 0V565.2m-3.6 0h7.2M1610.2 578.8h7.2m-3.6 0V566.6m-3.6 0h7.2M1615.7 579.1h7.2m-3.6 0V567.0m-3.6 0h7.2M1621.3 579.2h7.2m-3.6 0V567.2m-3.6 0h7.2M1626.8 579.7h7.2m-3.6 0V568.0m-3.6 0h7.2M1632.4 580.1h7.2m-3.6 0V568.7m-3.6 0h7.2M1637.9 580.8h7.2m-3.6 0V569.9m-3.6 0h7.2M1643.5 580.4h7.2m-3.6 0V569.3m-3.6 0h7.2M1649.0 580.5h7.2m-3.6 0V569.4m-3.6 0h7.2M1654.6 580.7h7.2m-3.6 0V569.8m-3.6 0h7.2M1660.1 581.1h7.2m-3.6 0V570.5m-3.6 0h7.2M1665.6 581.7h7.2m-3.6 0V571.5m-3.6 0h7.2M1671.2 581.3h7.2m-3.6 0V570.7m-3.6 0h7.2M1676.7 581.7h7.2m-3.6 0V571.5m-3.6 0h7.2" stroke="#00bfbf" stroke-width="2.1" fill="none"/><polyline points="1231.2,372.7 1236.7,369.2 1242.3,367.5 1247.8,367.4 1253.4,368.9 1258.9,371.8 1264.5,375.7 1270.0,380.6 1275.5,386.0 1281.1,392.0 1286.6,398.3 1292.2,404.9 1297.7,411.6 1303.3,418.5 1308.8,425.5 1314.4,432.3 1319.9,438.9 1325.5,445.2 1331.0,451.2 1336.5,456.8 1342.1,462.1 1347.6,467.3 1353.2,472.4 1358.7,477.4 1364.3,482.3 1369.8,487.3 1375.4,492.1 1380.9,496.7 1386.4,501.1 1392.0,505.1 1397.5,508.9 1403.1,512.3 1408.6,515.5 1414.2,518.5 1419.7,521.3 1425.3,524.1 1430.8,526.8 1436.4,529.5 1441.9,532.1 1447.4,534.7 1453.0,537.2 1458.5,539.6 1464.1,541.9 1469.6,544.1 1475.2,546.2 1480.7,548.1 1486.3,549.9 1491.8,551.6 1497.3,553.1 1502.9,554.5 1508.4,555.8 1514.0,557.0 1519.5,558.2 1525.1,559.3 1530.6,560.4 1536.2,561.4 1541.7,562.3 1547.3,563.3 1552.8,564.2 1558.3,565.1 1563.9,566.0 1569.4,566.8 1575.0,567.6 1580.5,568.4 1586.1,569.2 1591.6,569.9 1597.2,570.5 1602.7,571.2 1608.2,571.8 1613.8,572.3 1619.3,572.8 1624.9,573.3 1630.4,573.8 1636.0,574.2 1641.5,574.6 1647.1,574.9 1652.6,575.2 1658.2,575.5 1663.7,575.8 1669.2,576.1 1674.8,576.3 1680.3,576.6" stroke="#00bfbf" stroke-width="2.3" fill="none" stroke-dasharray="8.5 3.7"/><path d="M1227.6 421.8h7.2m-3.6 0V374.6m-3.6 0h7.2M1233.1 383.0h7.2m-3.6 0V330.9m-3.6 0h7.2M1238.7 393.0h7.2m-3.6 0V342.1m-3.6 0h7.2M1244.2 391.0h7.2m-3.6 0V339.8m-3.6 0h7.2M1249.8 386.8h7.2m-3.6 0V335.1m-3.6 0h7.2M1255.3 374.8h7.2m-3.6 0V321.7m-3.6 0h7.2M1260.9 394.2h7.2m-3.6 0V343.4m-3.6 0h7.2M1266.4 396.0h7.2m-3.6 0V345.4m-3.6 0h7.2M1272.0 394.7h7.2m-3.6 0V344.0m-3.6 0h7.2M1277.5 400.6h7.2m-3.6 0V350.6m-3.6 0h7.2M1283.0 416.3h7.2m-3.6 0V368.4m-3.6 0h7.2M1288.6 425.5h7.2m-3.6 0V378.8m-3.6 0h7.2M1294.1 439.2h7.2m-3.6 0V394.4m-3.6 0h7.2M1299.7 441.0h7.2m-3.6 0V396.5m-3.6 0h7.2M1305.2 439.8h7.2m-3.6 0V395.1m-3.6 0h7.2M1310.8 448.5h7.2m-3.6 0V405.1m-3.6 0h7.2M1316.3 458.0h7.2m-3.6 0V415.9m-3.6 0h7.2M1321.9 459.9h7.2m-3.6 0V418.2m-3.6 0h7.2M1327.4 473.7h7.2m-3.6 0V434.2m-3.6 0h7.2M1332.9 475.7h7.2m-3.6 0V436.5m-3.6 0h7.2M1338.5 477.4h7.2m-3.6 0V438.4m-3.6 0h7.2M1344.0 482.5h7.2m-3.6 0V444.4m-3.6 0h7.2M1349.6 485.0h7.2m-3.6 0V447.4m-3.6 0h7.2M1355.1 492.7h7.2m-3.6 0V456.4m-3.6 0h7.2M1360.7 500.0h7.2m-3.6 0V465.0m-3.6 0h7.2M1366.2 503.2h7.2m-3.6 0V468.8m-3.6 0h7.2M1371.8 512.3h7.2m-3.6 0V479.7m-3.6 0h7.2M1377.3 518.3h7.2m-3.6 0V486.9m-3.6 0h7.2M1382.8 516.5h7.2m-3.6 0V484.7m-3.6 0h7.2M1388.4 521.2h7.2m-3.6 0V490.4m-3.6 0h7.2M1393.9 523.2h7.2m-3.6 0V492.9m-3.6 0h7.2M1399.5 530.6h7.2m-3.6 0V501.9m-3.6 0h7.2M1405.0 530.2h7.2m-3.6 0V501.5m-3.6 0h7.2M1410.6 533.2h7.2m-3.6 0V505.2m-3.6 0h7.2M1416.1 536.2h7.2m-3.6 0V508.9m-3.6 0h7.2M1421.7 541.0h7.2m-3.6 0V514.9m-3.6 0h7.2M1427.2 539.8h7.2m-3.6 0V513.3m-3.6 0h7.2M1432.8 539.7h7.2m-3.6 0V513.2m-3.6 0h7.2M1438.3 542.7h7.2m-3.6 0V517.1m-3.6 0h7.2M1443.8 546.9h7.2m-3.6 0V522.3m-3.6 0h7.2M1449.4 548.3h7.2m-3.6 0V524.1m-3.6 0h7.2M1454.9 549.4h7.2m-3.6 0V525.6m-3.6 0h7.2M1460.5 556.1h7.2m-3.6 0V534.3m-3.6 0h7.2M1466.0 554.8h7.2m-3.6 0V532.5m-3.6 0h7.2M1471.6 555.8h7.2m-3.6 0V533.8m-3.6 0h7.2M1477.1 557.3h7.2m-3.6 0V535.9m-3.6 0h7.2M1482.7 557.9h7.2m-3.6 0V536.6m-3.6 0h7.2M1488.2 560.1h7.2m-3.6 0V539.6m-3.6 0h7.2M1493.8 562.4h7.2m-3.6 0V542.7m-3.6 0h7.2M1499.3 563.6h7.2m-3.6 0V544.2m-3.6 0h7.2M1504.8 564.2h7.2m-3.6 0V545.1m-3.6 0h7.2M1510.4 566.4h7.2m-3.6 0V548.1m-3.6 0h7.2M1515.9 566.9h7.2m-3.6 0V548.9m-3.6 0h7.2M1521.5 567.1h7.2m-3.6 0V549.1m-3.6 0h7.2M1527.0 567.2h7.2m-3.6 0V549.2m-3.6 0h7.2M1532.6 569.6h7.2m-3.6 0V552.6m-3.6 0h7.2M1538.1 570.3h7.2m-3.6 0V553.6m-3.6 0h7.2M1543.7 570.9h7.2m-3.6 0V554.5m-3.6 0h7.2M1549.2 570.9h7.2m-3.6 0V554.5m-3.6 0h7.2M1554.7 572.6h7.2m-3.6 0V557.0m-3.6 0h7.2M1560.3 572.5h7.2m-3.6 0V556.9m-3.6 0h7.2M1565.8 574.6h7.2m-3.6 0V560.0m-3.6 0h7.2M1571.4 574.9h7.2m-3.6 0V560.5m-3.6 0h7.2M1576.9 575.6h7.2m-3.6 0V561.5m-3.6 0h7.2M1582.5 575.7h7.2m-3.6 0V561.7m-3.6 0h7.2M1588.0 576.2h7.2m-3.6 0V562.4m-3.6 0h7.2M1593.6 577.8h7.2m-3.6 0V564.8m-3.6 0h7.2M1599.1 578.0h7.2m-3.6 0V565.3m-3.6 0h7.2M1604.7 578.0h7.2m-3.6 0V565.3m-3.6 0h7.2M1610.2 578.8h7.2m-3.6 0V566.6m-3.6 0h7.2M1615.7 579.5h7.2m-3.6 0V567.7m-3.6 0h7.2M1621.3 579.1h7.2m-3.6 0V567.0m-3.6 0h7.2M1626.8 579.7h7.2m-3.6 0V568.0m-3.6 0h7.2M1632.4 580.0h7.2m-3.6 0V568.6m-3.6 0h7.2M1637.9 580.5h7.2m-3.6 0V569.4m-3.6 0h7.2M1643.5 580.3h7.2m-3.6 0V569.1m-3.6 0h7.2M1649.0 580.8h7.2m-3.6 0V570.0m-3.6 0h7.2M1654.6 580.7h7.2m-3.6 0V569.7m-3.6 0h7.2M1660.1 581.4h7.2m-3.6 0V570.9m-3.6 0h7.2M1665.6 581.5h7.2m-3.6 0V571.2m-3.6 0h7.2M1671.2 581.4h7.2m-3.6 0V571.1m-3.6 0h7.2M1676.7 581.8h7.2m-3.6 0V571.7m-3.6 0h7.2" stroke="#bf00bf" stroke-width="2.1" fill="none"/><polyline points="1231.2,378.2 1236.7,373.2 1242.3,369.8 1247.8,368.0 1253.4,367.8 1258.9,369.2 1264.5,372.1 1270.0,376.3 1275.5,381.7 1281.1,387.9 1286.6,394.7 1292.2,401.9 1297.7,409.1 1303.3,416.2 1308.8,423.1 1314.4,429.8 1319.9,436.3 1325.5,442.5 1331.0,448.6 1336.5,454.5 1342.1,460.2 1347.6,465.9 1353.2,471.6 1358.7,477.2 1364.3,482.6 1369.8,487.9 1375.4,492.8 1380.9,497.5 1386.4,501.9 1392.0,505.9 1397.5,509.6 1403.1,513.1 1408.6,516.2 1414.2,519.2 1419.7,522.0 1425.3,524.6 1430.8,527.2 1436.4,529.6 1441.9,532.1 1447.4,534.5 1453.0,536.8 1458.5,539.0 1464.1,541.2 1469.6,543.2 1475.2,545.1 1480.7,546.9 1486.3,548.7 1491.8,550.3 1497.3,551.9 1502.9,553.4 1508.4,554.8 1514.0,556.1 1519.5,557.3 1525.1,558.5 1530.6,559.6 1536.2,560.6 1541.7,561.7 1547.3,562.7 1552.8,563.7 1558.3,564.7 1563.9,565.6 1569.4,566.6 1575.0,567.5 1580.5,568.3 1586.1,569.1 1591.6,569.9 1597.2,570.6 1602.7,571.2 1608.2,571.9 1613.8,572.4 1619.3,572.9 1624.9,573.4 1630.4,573.8 1636.0,574.2 1641.5,574.6 1647.1,574.9 1652.6,575.3 1658.2,575.6 1663.7,575.9 1669.2,576.2 1674.8,576.5 1680.3,576.7" stroke="#bf00bf" stroke-width="2.3" fill="none" stroke-dasharray="8.5 3.7"/><path d="M1227.6 400.9h7.2m-3.6 0V351.0m-3.6 0h7.2M1233.1 383.9h7.2m-3.6 0V331.8m-3.6 0h7.2M1238.7 388.9h7.2m-3.6 0V337.5m-3.6 0h7.2M1244.2 380.8h7.2m-3.6 0V328.4m-3.6 0h7.2M1249.8 384.6h7.2m-3.6 0V332.7m-3.6 0h7.2M1255.3 377.6h7.2m-3.6 0V324.8m-3.6 0h7.2M1260.9 396.1h7.2m-3.6 0V345.5m-3.6 0h7.2M1266.4 400.9h7.2m-3.6 0V351.0m-3.6 0h7.2M1272.0 398.5h7.2m-3.6 0V348.3m-3.6 0h7.2M1277.5 396.1h7.2m-3.6 0V345.5m-3.6 0h7.2M1283.0 402.5h7.2m-3.6 0V352.7m-3.6 0h7.2M1288.6 423.7h7.2m-3.6 0V376.7m-3.6 0h7.2M1294.1 430.8h7.2m-3.6 0V384.8m-3.6 0h7.2M1299.7 428.4h7.2m-3.6 0V382.1m-3.6 0h7.2M1305.2 442.8h7.2m-3.6 0V398.6m-3.6 0h7.2M1310.8 455.4h7.2m-3.6 0V413.0m-3.6 0h7.2M1316.3 457.9h7.2m-3.6 0V415.9m-3.6 0h7.2M1321.9 462.5h7.2m-3.6 0V421.2m-3.6 0h7.2M1327.4 474.0h7.2m-3.6 0V434.4m-3.6 0h7.2M1332.9 482.2h7.2m-3.6 0V444.0m-3.6 0h7.2M1338.5 486.0h7.2m-3.6 0V448.5m-3.6 0h7.2M1344.0 482.2h7.2m-3.6 0V444.1m-3.6 0h7.2M1349.6 491.8h7.2m-3.6 0V455.4m-3.6 0h7.2M1355.1 494.6h7.2m-3.6 0V458.7m-3.6 0h7.2M1360.7 498.3h7.2m-3.6 0V463.0m-3.6 0h7.2M1366.2 502.4h7.2m-3.6 0V467.9m-3.6 0h7.2M1371.8 510.4h7.2m-3.6 0V477.4m-3.6 0h7.2M1377.3 512.4h7.2m-3.6 0V479.9m-3.6 0h7.2M1382.8 520.3h7.2m-3.6 0V489.4m-3.6 0h7.2M1388.4 522.0h7.2m-3.6 0V491.4m-3.6 0h7.2M1393.9 526.4h7.2m-3.6 0V496.8m-3.6 0h7.2M1399.5 524.1h7.2m-3.6 0V494.0m-3.6 0h7.2M1405.0 529.5h7.2m-3.6 0V500.6m-3.6 0h7.2M1410.6 533.5h7.2m-3.6 0V505.6m-3.6 0h7.2M1416.1 535.2h7.2m-3.6 0V507.6m-3.6 0h7.2M1421.7 537.3h7.2m-3.6 0V510.2m-3.6 0h7.2M1427.2 537.8h7.2m-3.6 0V510.9m-3.6 0h7.2M1432.8 544.1h7.2m-3.6 0V518.7m-3.6 0h7.2M1438.3 545.1h7.2m-3.6 0V520.1m-3.6 0h7.2M1443.8 546.5h7.2m-3.6 0V521.8m-3.6 0h7.2M1449.4 544.3h7.2m-3.6 0V519.0m-3.6 0h7.2M1454.9 549.1h7.2m-3.6 0V525.2m-3.6 0h7.2M1460.5 552.8h7.2m-3.6 0V529.9m-3.6 0h7.2M1466.0 553.7h7.2m-3.6 0V531.1m-3.6 0h7.2M1471.6 553.9h7.2m-3.6 0V531.3m-3.6 0h7.2M1477.1 558.4h7.2m-3.6 0V537.3m-3.6 0h7.2M1482.7 560.1h7.2m-3.6 0V539.6m-3.6 0h7.2M1488.2 560.0h7.2m-3.6 0V539.4m-3.6 0h7.2M1493.8 562.2h7.2m-3.6 0V542.4m-3.6 0h7.2M1499.3 563.2h7.2m-3.6 0V543.8m-3.6 0h7.2M1504.8 565.4h7.2m-3.6 0V546.7m-3.6 0h7.2M1510.4 564.3h7.2m-3.6 0V545.2m-3.6 0h7.2M1515.9 565.5h7.2m-3.6 0V546.9m-3.6 0h7.2M1521.5 567.4h7.2m-3.6 0V549.5m-3.6 0h7.2M1527.0 568.2h7.2m-3.6 0V550.6m-3.6 0h7.2M1532.6 570.9h7.2m-3.6 0V554.4m-3.6 0h7.2M1538.1 569.8h7.2m-3.6 0V553.0m-3.6 0h7.2M1543.7 571.1h7.2m-3.6 0V554.8m-3.6 0h7.2M1549.2 571.5h7.2m-3.6 0V555.3m-3.6 0h7.2M1554.7 572.2h7.2m-3.6 0V556.3m-3.6 0h7.2M1560.3 573.6h7.2m-3.6 0V558.4m-3.6 0h7.2M1565.8 575.0h7.2m-3.6 0V560.5m-3.6 0h7.2M1571.4 574.7h7.2m-3.6 0V560.0m-3.6 0h7.2M1576.9 575.9h7.2m-3.6 0V561.9m-3.6 0h7.2M1582.5 576.2h7.2m-3.6 0V562.5m-3.6 0h7.2M1588.0 576.9h7.2m-3.6 0V563.5m-3.6 0h7.2M1593.6 577.3h7.2m-3.6 0V564.1m-3.6 0h7.2M1599.1 578.5h7.2m-3.6 0V566.1m-3.6 0h7.2M1604.7 577.7h7.2m-3.6 0V564.7m-3.6 0h7.2M1610.2 578.5h7.2m-3.6 0V566.1m-3.6 0h7.2M1615.7 578.6h7.2m-3.6 0V566.3m-3.6 0h7.2M1621.3 578.8h7.2m-3.6 0V566.5m-3.6 0h7.2M1626.8 579.8h7.2m-3.6 0V568.2m-3.6 0h7.2M1632.4 580.7h7.2m-3.6 0V569.7m-3.6 0h7.2M1637.9 580.6h7.2m-3.6 0V569.6m-3.6 0h7.2M1643.5 580.9h7.2m-3.6 0V570.1m-3.6 0h7.2M1649.0 580.9h7.2m-3.6 0V570.1m-3.6 0h7.2M1654.6 581.0h7.2m-3.6 0V570.2m-3.6 0h7.2M1660.1 581.6h7.2m-3.6 0V571.4m-3.6 0h7.2M1665.6 581.2h7.2m-3.6 0V570.7m-3.6 0h7.2M1671.2 581.8h7.2m-3.6 0V571.7m-3.6 0h7.2M1676.7 581.6h7.2m-3.6 0V571.3m-3.6 0h7.2" stroke="#bfbf00" stroke-width="2.1" fill="none"/><polyline points="1231.2,365.0 1236.7,363.1 1242.3,362.3 1247.8,362.6 1253.4,364.0 1258.9,366.4 1264.5,369.8 1270.0,374.0 1275.5,379.1 1281.1,385.0 1286.6,391.7 1292.2,398.9 1297.7,406.5 1303.3,414.4 1308.8,422.3 1314.4,430.0 1319.9,437.5 1325.5,444.5 1331.0,451.1 1336.5,457.2 1342.1,462.9 1347.6,468.3 1353.2,473.5 1358.7,478.5 1364.3,483.3 1369.8,488.1 1375.4,492.7 1380.9,497.1 1386.4,501.3 1392.0,505.2 1397.5,508.8 1403.1,512.2 1408.6,515.4 1414.2,518.4 1419.7,521.2 1425.3,523.9 1430.8,526.5 1436.4,529.0 1441.9,531.4 1447.4,533.7 1453.0,535.9 1458.5,538.2 1464.1,540.4 1469.6,542.5 1475.2,544.6 1480.7,546.6 1486.3,548.4 1491.8,550.1 1497.3,551.8 1502.9,553.3 1508.4,554.7 1514.0,556.0 1519.5,557.3 1525.1,558.5 1530.6,559.7 1536.2,560.8 1541.7,561.9 1547.3,563.0 1552.8,564.0 1558.3,565.0 1563.9,566.0 1569.4,566.9 1575.0,567.7 1580.5,568.5 1586.1,569.3 1591.6,570.0 1597.2,570.6 1602.7,571.2 1608.2,571.8 1613.8,572.4 1619.3,572.9 1624.9,573.4 1630.4,573.9 1636.0,574.3 1641.5,574.8 1647.1,575.1 1652.6,575.5 1658.2,575.8 1663.7,576.0 1669.2,576.3 1674.8,576.5 1680.3,576.7" stroke="#bfbf00" stroke-width="2.3" fill="none" stroke-dasharray="8.5 3.7"/><path d="M1349.6 264.0h7.2m-3.6 0V218.3m-3.6 0h7.2M1355.1 275.1h7.2m-3.6 0V230.1m-3.6 0h7.2M1360.7 293.3h7.2m-3.6 0V249.7m-3.6 0h7.2M1366.2 314.8h7.2m-3.6 0V272.7m-3.6 0h7.2M1371.8 316.1h7.2m-3.6 0V274.1m-3.6 0h7.2M1377.3 337.6h7.2m-3.6 0V297.2m-3.6 0h7.2M1382.8 354.4h7.2m-3.6 0V315.5m-3.6 0h7.2M1388.4 371.3h7.2m-3.6 0V333.7m-3.6 0h7.2M1393.9 371.3h7.2m-3.6 0V333.7m-3.6 0h7.2M1399.5 399.7h7.2m-3.6 0V364.6m-3.6 0h7.2M1405.0 399.7h7.2m-3.6 0V364.6m-3.6 0h7.2M1410.6 408.8h7.2m-3.6 0V374.5m-3.6 0h7.2M1416.1 421.0h7.2m-3.6 0V387.9m-3.6 0h7.2M1421.7 428.1h7.2m-3.6 0V395.6m-3.6 0h7.2M1427.2 443.5h7.2m-3.6 0V412.6m-3.6 0h7.2M1432.8 428.1h7.2m-3.6 0V395.6m-3.6 0h7.2M1438.3 449.3h7.2m-3.6 0V419.0m-3.6 0h7.2M1443.8 461.5h7.2m-3.6 0V432.5m-3.6 0h7.2M1449.4 471.7h7.2m-3.6 0V443.8m-3.6 0h7.2M1454.9 478.1h7.2m-3.6 0V451.0m-3.6 0h7.2M1460.5 480.6h7.2m-3.6 0V453.8m-3.6 0h7.2M1466.0 487.0h7.2m-3.6 0V461.0m-3.6 0h7.2M1471.6 491.4h7.2m-3.6 0V466.0m-3.6 0h7.2M1477.1 495.8h7.2m-3.6 0V471.0m-3.6 0h7.2M1482.7 497.1h7.2m-3.6 0V472.4m-3.6 0h7.2M1488.2 497.1h7.2m-3.6 0V472.4m-3.6 0h7.2M1493.8 504.7h7.2m-3.6 0V481.0m-3.6 0h7.2M1499.3 509.1h7.2m-3.6 0V486.0m-3.6 0h7.2M1504.8 513.5h7.2m-3.6 0V491.1m-3.6 0h7.2M1510.4 520.4h7.2m-3.6 0V499.0m-3.6 0h7.2M1515.9 525.4h7.2m-3.6 0V504.8m-3.6 0h7.2M1521.5 524.8h7.2m-3.6 0V504.1m-3.6 0h7.2M1527.0 527.9h7.2m-3.6 0V507.7m-3.6 0h7.2M1532.6 532.9h7.2m-3.6 0V513.5m-3.6 0h7.2M1538.1 536.7h7.2m-3.6 0V517.9m-3.6 0h7.2M1543.7 534.2h7.2m-3.6 0V515.0m-3.6 0h7.2M1549.2 535.4h7.2m-3.6 0V516.4m-3.6 0h7.2M1554.7 540.4h7.2m-3.6 0V522.3m-3.6 0h7.2M1560.3 544.1h7.2m-3.6 0V526.7m-3.6 0h7.2M1565.8 546.5h7.2m-3.6 0V529.6m-3.6 0h7.2M1571.4 549.6h7.2m-3.6 0V533.3m-3.6 0h7.2M1576.9 549.0h7.2m-3.6 0V532.5m-3.6 0h7.2M1582.5 551.4h7.2m-3.6 0V535.5m-3.6 0h7.2M1588.0 550.8h7.2m-3.6 0V534.8m-3.6 0h7.2M1593.6 552.7h7.2m-3.6 0V537.0m-3.6 0h7.2M1599.1 555.7h7.2m-3.6 0V540.7m-3.6 0h7.2M1604.7 558.1h7.2m-3.6 0V543.7m-3.6 0h7.2M1610.2 558.4h7.2m-3.6 0V544.0m-3.6 0h7.2M1615.7 558.7h7.2m-3.6 0V544.4m-3.6 0h7.2M1621.3 559.3h7.2m-3.6 0V545.2m-3.6 0h7.2M1626.8 559.9h7.2m-3.6 0V545.9m-3.6 0h7.2M1632.4 561.5h7.2m-3.6 0V547.8m-3.6 0h7.2M1637.9 562.9h7.2m-3.6 0V549.6m-3.6 0h7.2M1643.5 564.1h7.2m-3.6 0V551.2m-3.6 0h7.2M1649.0 565.3h7.2m-3.6 0V552.7m-3.6 0h7.2M1654.6 565.9h7.2m-3.6 0V553.4m-3.6 0h7.2M1660.1 566.5h7.2m-3.6 0V554.2m-3.6 0h7.2M1665.6 567.1h7.2m-3.6 0V555.0m-3.6 0h7.2M1671.2 567.7h7.2m-3.6 0V555.7m-3.6 0h7.2M1676.7 568.3h7.2m-3.6 0V556.5m-3.6 0h7.2" stroke="#ffa500" stroke-width="2.1" fill="none"/><polyline points="1353.2,235.5 1358.7,254.6 1364.3,272.4 1369.8,289.0 1375.4,304.7 1380.9,319.7 1386.4,333.8 1392.0,347.2 1397.5,359.8 1403.1,371.6 1408.6,382.6 1414.2,392.9 1419.7,402.7 1425.3,411.9 1430.8,420.8 1436.4,429.4 1441.9,437.6 1447.4,445.4 1453.0,452.8 1458.5,459.6 1464.1,465.8 1469.6,471.4 1475.2,476.6 1480.7,481.5 1486.3,486.1 1491.8,490.6 1497.3,495.0 1502.9,499.3 1508.4,503.5 1514.0,507.6 1519.5,511.4 1525.1,515.0 1530.6,518.3 1536.2,521.4 1541.7,524.2 1547.3,527.0 1552.8,529.6 1558.3,532.1 1563.9,534.5 1569.4,536.8 1575.0,538.9 1580.5,540.9 1586.1,542.7 1591.6,544.4 1597.2,546.0 1602.7,547.6 1608.2,549.0 1613.8,550.3 1619.3,551.6 1624.9,552.8 1630.4,554.0 1636.0,555.1 1641.5,556.2 1647.1,557.3 1652.6,558.3 1658.2,559.3 1663.7,560.2 1669.2,561.0 1674.8,561.8 1680.3,562.5" stroke="#ffa500" stroke-width="2.3" fill="none" stroke-dasharray="8.5 3.7"/></g><rect x="1208.40" y="247.90" width="496.00" height="337.40" fill="none" stroke="#000" stroke-width="1.3"/><path d="M1220.1 585.3v5.9M1275.5 585.3v5.9M1331.0 585.3v5.9M1386.4 585.3v5.9M1441.9 585.3v5.9M1497.3 585.3v5.9M1552.8 585.3v5.9M1608.2 585.3v5.9M1663.7 585.3v5.9M1208.4 585.3h-5.9M1208.4 517.8h-5.9M1208.4 450.3h-5.9M1208.4 382.9h-5.9M1208.4 315.4h-5.9M1208.4 247.9h-5.9" stroke="#000" stroke-width="1.3" fill="none"/><g font-family="'DejaVu Sans', 'Liberation Sans', sans-serif" font-size="16.8" fill="#000"><text x="1220.1" y="609.4" text-anchor="middle">0</text><text x="1275.5" y="609.4" text-anchor="middle">1</text><text x="1331.0" y="609.4" text-anchor="middle">2</text><text x="1386.4" y="609.4" text-anchor="middle">3</text><text x="1441.9" y="609.4" text-anchor="middle">4</text><text x="1497.3" y="609.4" text-anchor="middle">5</text><text x="1552.8" y="609.4" text-anchor="middle">6</text><text x="1608.2" y="609.4" text-anchor="middle">7</text><text x="1663.7" y="609.4" text-anchor="middle">8</text><text x="1196.7" y="592.5" text-anchor="end">0</text><text x="1196.7" y="525.0" text-anchor="end">1</text><text x="1196.7" y="457.5" text-anchor="end">2</text><text x="1196.7" y="390.1" text-anchor="end">3</text><text x="1196.7" y="322.6" text-anchor="end">4</text><text x="1196.7" y="255.1" text-anchor="end">5</text></g><text transform="translate(1358.3,29.7) scale(0.955,1)" text-anchor="middle" font-family="'DejaVu Sans', 'Liberation Sans', sans-serif" font-weight="bold" font-size="25" fill="#000" xml:space="preserve">Different Sliced Shield Materials</text><text transform="translate(1358.3,55.3) scale(0.955,1)" text-anchor="middle" font-family="'DejaVu Sans', 'Liberation Sans', sans-serif" font-weight="bold" font-size="25" fill="#000" xml:space="preserve">3/4 Position</text><text transform="translate(1357.3,826.0) scale(0.97,1)" text-anchor="middle" font-family="'DejaVu Sans', 'Liberation Sans', sans-serif" font-weight="bold" font-size="24.6" fill="#000">Distance from Applicator Surface (cm)</text><text transform="translate(941.4,418.6) rotate(-90)" x="0" y="0" text-anchor="middle" font-family="'DejaVu Sans', 'Liberation Sans', sans-serif" font-weight="bold" font-size="24.6" fill="#000">PDD (%)</text><text x="1268.6" y="912.8" text-anchor="middle" font-family="'Liberation Serif', 'DejaVu Serif', serif" font-size="47.5" fill="#000">(f)</text><rect x="106.70" y="1017.30" width="724.60" height="720.00" fill="#fff"/><g clip-path="url(#c5)"><path d="M139.7 1072.6h0M149.8 1125.1h0M159.9 1181.4h0M170.0 1223.7h0M180.1 1264.8h0M190.3 1293.9h0M200.4 1328.1h0M210.5 1348.3h0M220.6 1379.9h0M230.7 1397.0h0M240.9 1428.0h0M251.0 1443.8h0M261.1 1464.7h0M271.2 1476.7h0M281.3 1484.3h0M291.5 1503.9h0M301.6 1514.6h0M311.7 1524.8h0M321.8 1533.6h0M331.9 1548.2h0M342.1 1551.3h0M352.2 1569.0h0M362.3 1576.6h0M372.4 1576.6h0M382.5 1584.8h0M392.7 1593.7h0M402.8 1599.4h0M412.9 1604.4h0M423.0 1608.9h0M433.1 1617.7h0M443.3 1620.3h0M453.4 1622.8h0M463.5 1621.5h0M473.6 1632.9h0M483.7 1631.6h0M493.9 1639.2h0M504.0 1646.8h0M514.1 1652.5h0M524.2 1652.5h0M534.3 1650.0h0M544.5 1653.8h0M554.6 1658.8h0M564.7 1659.5h0M574.8 1662.6h0M584.9 1662.0h0M595.1 1662.6h0M605.2 1668.3h0M615.3 1669.6h0M625.4 1670.2h0M635.5 1669.6h0M645.7 1669.6h0M655.8 1678.1h0M665.9 1675.8h0M676.0 1676.0h0M686.1 1676.7h0M696.3 1679.3h0M706.4 1681.2h0M716.5 1680.8h0M726.6 1683.4h0M736.7 1683.2h0M746.9 1685.5h0M757.0 1686.2h0M767.1 1686.7h0M777.2 1687.4h0M787.3 1689.0h0M797.5 1692.2h0" stroke="#0000ff" stroke-width="11.4" stroke-linecap="round"/><path d="M139.7 1700.3h0M149.8 1700.2h0M159.9 1698.9h0M170.0 1698.2h0M180.1 1697.9h0M190.3 1697.7h0M200.4 1696.3h0M210.5 1696.1h0M220.6 1694.0h0M230.7 1695.3h0M240.9 1696.1h0M251.0 1696.6h0M261.1 1696.3h0M271.2 1697.0h0M281.3 1695.4h0M291.5 1696.1h0M301.6 1697.0h0M311.7 1698.9h0M321.8 1698.4h0M331.9 1698.0h0M342.1 1697.5h0M352.2 1696.0h0M362.3 1698.2h0M372.4 1698.9h0M382.5 1699.2h0M392.7 1698.8h0M402.8 1699.4h0M412.9 1699.9h0M423.0 1700.2h0M433.1 1700.8h0M443.3 1700.3h0M453.4 1700.8h0M463.5 1699.9h0M473.6 1701.3h0M483.7 1700.3h0M493.9 1700.4h0M504.0 1701.5h0M514.1 1701.7h0M524.2 1701.7h0M534.3 1702.0h0M544.5 1702.2h0M554.6 1702.3h0M564.7 1702.2h0M574.8 1702.3h0M584.9 1702.0h0M595.1 1703.5h0M605.2 1702.2h0M615.3 1702.0h0M625.4 1702.2h0M635.5 1702.3h0M645.7 1703.7h0M655.8 1702.3h0M665.9 1702.3h0M676.0 1702.6h0M686.1 1702.8h0M696.3 1703.7h0M706.4 1703.7h0M716.5 1703.7h0M726.6 1703.7h0M736.7 1703.0h0M746.9 1703.2h0M757.0 1703.4h0M767.1 1703.2h0M777.2 1703.5h0M787.3 1703.9h0M797.5 1703.7h0" stroke="#008000" stroke-width="11.4" stroke-linecap="round"/><path d="M139.7 1697.5h0M149.8 1695.6h0M159.9 1691.0h0M170.0 1692.6h0M180.1 1687.5h0M190.3 1688.6h0M200.4 1686.3h0M210.5 1687.4h0M220.6 1689.1h0M230.7 1687.4h0M240.9 1688.2h0M251.0 1688.6h0M261.1 1690.1h0M271.2 1688.9h0M281.3 1691.1h0M291.5 1691.4h0M301.6 1691.2h0M311.7 1691.0h0M321.8 1692.5h0M331.9 1693.4h0M342.1 1693.6h0M352.2 1694.2h0M362.3 1693.6h0M372.4 1694.8h0M382.5 1693.1h0M392.7 1692.9h0M402.8 1696.8h0M412.9 1696.4h0M423.0 1695.0h0M433.1 1694.9h0M443.3 1695.0h0M453.4 1696.1h0M463.5 1696.1h0M473.6 1696.6h0M483.7 1697.1h0M493.9 1697.7h0M504.0 1697.3h0M514.1 1698.5h0M524.2 1698.5h0M534.3 1698.4h0M544.5 1699.6h0M554.6 1699.1h0M564.7 1699.3h0M574.8 1698.8h0M584.9 1698.8h0M595.1 1700.1h0M605.2 1700.4h0M615.3 1700.6h0M625.4 1701.0h0M635.5 1700.4h0M645.7 1700.3h0M655.8 1700.1h0M665.9 1701.0h0M676.0 1701.0h0M686.1 1701.5h0M696.3 1701.6h0M706.4 1700.8h0M716.5 1701.5h0M726.6 1701.3h0M736.7 1701.8h0M746.9 1702.3h0M757.0 1702.6h0M767.1 1702.2h0M777.2 1702.0h0M787.3 1701.8h0M797.5 1702.2h0" stroke="#ff0000" stroke-width="11.4" stroke-linecap="round"/><path d="M139.7 1688.2h0M149.8 1680.1h0M159.9 1676.0h0M170.0 1667.1h0M180.1 1671.5h0M190.3 1672.7h0M200.4 1665.8h0M210.5 1669.6h0M220.6 1669.0h0M230.7 1669.0h0M240.9 1671.5h0M251.0 1670.2h0M261.1 1673.9h0M271.2 1675.3h0M281.3 1673.8h0M291.5 1674.5h0M301.6 1674.3h0M311.7 1675.7h0M321.8 1676.6h0M331.9 1678.5h0M342.1 1678.8h0M352.2 1679.1h0M362.3 1684.4h0M372.4 1681.7h0M382.5 1684.8h0M392.7 1684.7h0M402.8 1683.9h0M412.9 1684.9h0M423.0 1689.9h0M433.1 1688.0h0M443.3 1687.0h0M453.4 1688.2h0M463.5 1688.7h0M473.6 1691.0h0M483.7 1688.0h0M493.9 1692.8h0M504.0 1689.9h0M514.1 1691.9h0M524.2 1690.3h0M534.3 1693.0h0M544.5 1693.9h0M554.6 1693.4h0M564.7 1693.0h0M574.8 1694.3h0M584.9 1695.5h0M595.1 1695.7h0M605.2 1696.3h0M615.3 1696.6h0M625.4 1696.8h0M635.5 1697.1h0M645.7 1697.0h0M655.8 1697.3h0M665.9 1698.2h0M676.0 1698.4h0M686.1 1699.2h0M696.3 1697.9h0M706.4 1698.9h0M716.5 1699.2h0M726.6 1697.9h0M736.7 1698.4h0M746.9 1698.9h0M757.0 1700.5h0M767.1 1699.4h0M777.2 1699.8h0M787.3 1701.1h0M797.5 1700.7h0" stroke="#00bfbf" stroke-width="11.4" stroke-linecap="round"/><path d="M139.7 1665.8h0M149.8 1652.5h0M159.9 1650.0h0M170.0 1644.9h0M180.1 1642.4h0M190.3 1645.6h0M200.4 1643.7h0M210.5 1648.1h0M220.6 1648.7h0M230.7 1650.0h0M240.9 1644.9h0M251.0 1645.6h0M261.1 1653.8h0M271.2 1650.0h0M281.3 1652.5h0M291.5 1656.9h0M301.6 1656.9h0M311.7 1658.2h0M321.8 1661.4h0M331.9 1661.4h0M342.1 1663.9h0M352.2 1665.8h0M362.3 1665.2h0M372.4 1670.2h0M382.5 1666.4h0M392.7 1669.6h0M402.8 1669.6h0M412.9 1670.9h0M423.0 1674.1h0M433.1 1675.4h0M443.3 1676.9h0M453.4 1676.5h0M463.5 1677.8h0M473.6 1682.2h0M483.7 1678.6h0M493.9 1683.2h0M504.0 1684.4h0M514.1 1681.7h0M524.2 1683.0h0M534.3 1684.6h0M544.5 1687.9h0M554.6 1688.9h0M564.7 1687.5h0M574.8 1690.7h0M584.9 1689.1h0M595.1 1691.0h0M605.2 1689.9h0M615.3 1688.0h0M625.4 1689.8h0M635.5 1690.8h0M645.7 1692.1h0M655.8 1693.1h0M665.9 1694.7h0M676.0 1694.6h0M686.1 1693.0h0M696.3 1694.7h0M706.4 1694.5h0M716.5 1695.8h0M726.6 1696.6h0M736.7 1693.5h0M746.9 1695.6h0M757.0 1696.1h0M767.1 1697.3h0M777.2 1695.6h0M787.3 1697.4h0M797.5 1698.4h0" stroke="#bf00bf" stroke-width="11.4" stroke-linecap="round"/><path d="M139.7 1639.2h0M149.8 1632.3h0M159.9 1615.8h0M170.0 1613.3h0M180.1 1612.7h0M190.3 1615.8h0M200.4 1613.3h0M210.5 1612.7h0M220.6 1614.6h0M230.7 1621.5h0M240.9 1617.7h0M251.0 1624.7h0M261.1 1621.5h0M271.2 1623.4h0M281.3 1626.6h0M291.5 1629.1h0M301.6 1636.7h0M311.7 1636.1h0M321.8 1638.6h0M331.9 1644.9h0M342.1 1649.3h0M352.2 1649.3h0M362.3 1646.8h0M372.4 1655.7h0M382.5 1653.8h0M392.7 1656.3h0M402.8 1655.0h0M412.9 1657.6h0M423.0 1658.8h0M433.1 1662.6h0M443.3 1662.6h0M453.4 1666.4h0M463.5 1666.4h0M473.6 1667.7h0M483.7 1669.0h0M493.9 1671.5h0M504.0 1673.8h0M514.1 1674.6h0M524.2 1675.9h0M534.3 1677.4h0M544.5 1677.9h0M554.6 1679.9h0M564.7 1682.9h0M574.8 1679.6h0M584.9 1679.3h0M595.1 1684.5h0M605.2 1683.2h0M615.3 1683.0h0M625.4 1684.8h0M635.5 1687.9h0M645.7 1686.6h0M655.8 1687.4h0M665.9 1687.7h0M676.0 1688.6h0M686.1 1689.7h0M696.3 1690.6h0M706.4 1688.7h0M716.5 1691.8h0M726.6 1691.8h0M736.7 1692.6h0M746.9 1692.4h0M757.0 1692.7h0M767.1 1692.9h0M777.2 1694.8h0M787.3 1694.5h0M797.5 1693.8h0" stroke="#bfbf00" stroke-width="11.4" stroke-linecap="round"/><path d="M136.1 1095.4h7.2m-3.6 0V1049.8m-3.6 0h7.2M146.2 1146.7h7.2m-3.6 0V1103.4m-3.6 0h7.2M156.3 1201.8h7.2m-3.6 0V1161.0m-3.6 0h7.2M166.4 1243.2h7.2m-3.6 0V1204.3m-3.6 0h7.2M176.5 1283.3h7.2m-3.6 0V1246.4m-3.6 0h7.2M186.7 1311.7h7.2m-3.6 0V1276.2m-3.6 0h7.2M196.8 1345.0h7.2m-3.6 0V1311.2m-3.6 0h7.2M206.9 1364.7h7.2m-3.6 0V1331.9m-3.6 0h7.2M217.0 1395.5h7.2m-3.6 0V1364.4m-3.6 0h7.2M227.1 1412.1h7.2m-3.6 0V1381.9m-3.6 0h7.2M237.3 1442.2h7.2m-3.6 0V1413.8m-3.6 0h7.2M247.4 1457.6h7.2m-3.6 0V1430.1m-3.6 0h7.2M257.5 1477.8h7.2m-3.6 0V1451.6m-3.6 0h7.2M267.6 1489.5h7.2m-3.6 0V1463.9m-3.6 0h7.2M277.7 1496.8h7.2m-3.6 0V1471.8m-3.6 0h7.2M287.9 1515.8h7.2m-3.6 0V1492.0m-3.6 0h7.2M298.0 1526.2h7.2m-3.6 0V1503.1m-3.6 0h7.2M308.1 1536.0h7.2m-3.6 0V1513.6m-3.6 0h7.2M318.2 1544.5h7.2m-3.6 0V1522.7m-3.6 0h7.2M328.3 1558.6h7.2m-3.6 0V1537.8m-3.6 0h7.2M338.5 1561.6h7.2m-3.6 0V1541.1m-3.6 0h7.2M348.6 1578.6h7.2m-3.6 0V1559.4m-3.6 0h7.2M358.7 1585.9h7.2m-3.6 0V1567.3m-3.6 0h7.2M368.8 1585.9h7.2m-3.6 0V1567.3m-3.6 0h7.2M378.9 1593.8h7.2m-3.6 0V1575.9m-3.6 0h7.2M389.1 1602.3h7.2m-3.6 0V1585.1m-3.6 0h7.2M399.2 1607.8h7.2m-3.6 0V1591.0m-3.6 0h7.2M409.3 1612.6h7.2m-3.6 0V1596.3m-3.6 0h7.2M419.4 1616.8h7.2m-3.6 0V1600.9m-3.6 0h7.2M429.5 1625.3h7.2m-3.6 0V1610.2m-3.6 0h7.2M439.7 1627.7h7.2m-3.6 0V1612.8m-3.6 0h7.2M449.8 1630.1h7.2m-3.6 0V1615.5m-3.6 0h7.2M459.9 1628.9h7.2m-3.6 0V1614.1m-3.6 0h7.2M470.0 1639.7h7.2m-3.6 0V1626.1m-3.6 0h7.2M480.1 1638.5h7.2m-3.6 0V1624.7m-3.6 0h7.2M490.3 1645.7h7.2m-3.6 0V1632.7m-3.6 0h7.2M500.4 1652.9h7.2m-3.6 0V1640.7m-3.6 0h7.2M510.5 1658.3h7.2m-3.6 0V1646.7m-3.6 0h7.2M520.6 1658.3h7.2m-3.6 0V1646.7m-3.6 0h7.2M530.7 1655.9h7.2m-3.6 0V1644.1m-3.6 0h7.2M540.9 1659.5h7.2m-3.6 0V1648.1m-3.6 0h7.2M551.0 1664.2h7.2m-3.6 0V1653.4m-3.6 0h7.2M561.1 1664.8h7.2m-3.6 0V1654.1m-3.6 0h7.2M571.2 1667.8h7.2m-3.6 0V1657.5m-3.6 0h7.2M581.3 1667.2h7.2m-3.6 0V1656.8m-3.6 0h7.2M591.5 1667.8h7.2m-3.6 0V1657.5m-3.6 0h7.2M601.6 1673.1h7.2m-3.6 0V1663.5m-3.6 0h7.2M611.7 1674.3h7.2m-3.6 0V1664.9m-3.6 0h7.2M621.8 1674.9h7.2m-3.6 0V1665.6m-3.6 0h7.2M631.9 1674.3h7.2m-3.6 0V1664.9m-3.6 0h7.2M642.1 1674.3h7.2m-3.6 0V1664.9m-3.6 0h7.2M652.2 1682.2h7.2m-3.6 0V1674.1m-3.6 0h7.2M662.3 1680.1h7.2m-3.6 0V1671.6m-3.6 0h7.2M672.4 1680.2h7.2m-3.6 0V1671.7m-3.6 0h7.2M682.5 1680.9h7.2m-3.6 0V1672.6m-3.6 0h7.2M692.7 1683.3h7.2m-3.6 0V1675.3m-3.6 0h7.2M702.8 1685.0h7.2m-3.6 0V1677.3m-3.6 0h7.2M712.9 1684.7h7.2m-3.6 0V1677.0m-3.6 0h7.2M723.0 1687.1h7.2m-3.6 0V1679.8m-3.6 0h7.2M733.1 1686.8h7.2m-3.6 0V1679.5m-3.6 0h7.2M743.3 1689.0h7.2m-3.6 0V1682.1m-3.6 0h7.2M753.4 1689.6h7.2m-3.6 0V1682.8m-3.6 0h7.2M763.5 1690.0h7.2m-3.6 0V1683.3m-3.6 0h7.2M773.6 1690.6h7.2m-3.6 0V1684.1m-3.6 0h7.2M783.7 1692.1h7.2m-3.6 0V1685.9m-3.6 0h7.2M793.9 1694.9h7.2m-3.6 0V1689.4m-3.6 0h7.2" stroke="#0000ff" stroke-width="2.1" fill="none"/><polyline points="139.7,1074.4 149.8,1128.5 159.9,1176.8 170.0,1219.9 180.1,1258.3 190.3,1292.6 200.4,1323.6 210.5,1351.7 220.6,1377.4 230.7,1400.9 240.9,1422.3 251.0,1441.6 261.1,1458.9 271.2,1474.5 281.3,1488.6 291.5,1501.6 301.6,1513.7 311.7,1525.2 321.8,1535.9 331.9,1546.1 342.1,1555.5 352.2,1564.2 362.3,1572.2 372.4,1579.6 382.5,1586.4 392.7,1592.8 402.8,1598.8 412.9,1604.5 423.0,1609.7 433.1,1614.4 443.3,1618.8 453.4,1623.0 463.5,1627.2 473.6,1631.5 483.7,1635.9 493.9,1640.2 504.0,1644.2 514.1,1647.6 524.2,1650.5 534.3,1653.0 544.5,1655.2 554.6,1657.3 564.7,1659.4 574.8,1661.3 584.9,1663.1 595.1,1664.9 605.2,1666.6 615.3,1668.3 625.4,1669.8 635.5,1671.3 645.7,1672.8 655.8,1674.2 665.9,1675.5 676.0,1676.8 686.1,1678.0 696.3,1679.3 706.4,1680.5 716.5,1681.7 726.6,1682.8 736.7,1684.0 746.9,1685.1 757.0,1686.2 767.1,1687.3 777.2,1688.5 787.3,1689.7 797.5,1691.2" stroke="#0000ff" stroke-width="2.3" fill="none" stroke-dasharray="8.5 3.7"/><path d="M136.1 1702.1h7.2m-3.6 0V1698.5m-3.6 0h7.2M146.2 1702.0h7.2m-3.6 0V1698.4m-3.6 0h7.2M156.3 1700.9h7.2m-3.6 0V1696.8m-3.6 0h7.2M166.4 1700.4h7.2m-3.6 0V1696.1m-3.6 0h7.2M176.5 1700.1h7.2m-3.6 0V1695.6m-3.6 0h7.2M186.7 1699.9h7.2m-3.6 0V1695.4m-3.6 0h7.2M196.8 1698.7h7.2m-3.6 0V1693.8m-3.6 0h7.2M206.9 1698.6h7.2m-3.6 0V1693.6m-3.6 0h7.2M217.0 1696.7h7.2m-3.6 0V1691.2m-3.6 0h7.2M227.1 1697.9h7.2m-3.6 0V1692.7m-3.6 0h7.2M237.3 1698.6h7.2m-3.6 0V1693.7m-3.6 0h7.2M247.4 1699.0h7.2m-3.6 0V1694.2m-3.6 0h7.2M257.5 1698.8h7.2m-3.6 0V1693.9m-3.6 0h7.2M267.6 1699.3h7.2m-3.6 0V1694.6m-3.6 0h7.2M277.7 1698.0h7.2m-3.6 0V1692.8m-3.6 0h7.2M287.9 1698.6h7.2m-3.6 0V1693.7m-3.6 0h7.2M298.0 1699.4h7.2m-3.6 0V1694.7m-3.6 0h7.2M308.1 1700.9h7.2m-3.6 0V1696.8m-3.6 0h7.2M318.2 1700.5h7.2m-3.6 0V1696.2m-3.6 0h7.2M328.3 1700.2h7.2m-3.6 0V1695.8m-3.6 0h7.2M338.5 1699.8h7.2m-3.6 0V1695.2m-3.6 0h7.2M348.6 1698.5h7.2m-3.6 0V1693.5m-3.6 0h7.2M358.7 1700.4h7.2m-3.6 0V1696.1m-3.6 0h7.2M368.8 1700.9h7.2m-3.6 0V1696.8m-3.6 0h7.2M378.9 1701.2h7.2m-3.6 0V1697.3m-3.6 0h7.2M389.1 1700.9h7.2m-3.6 0V1696.7m-3.6 0h7.2M399.2 1701.3h7.2m-3.6 0V1697.4m-3.6 0h7.2M409.3 1701.8h7.2m-3.6 0V1698.1m-3.6 0h7.2M419.4 1702.0h7.2m-3.6 0V1698.4m-3.6 0h7.2M429.5 1702.5h7.2m-3.6 0V1699.1m-3.6 0h7.2M439.7 1702.1h7.2m-3.6 0V1698.5m-3.6 0h7.2M449.8 1702.5h7.2m-3.6 0V1699.1m-3.6 0h7.2M459.9 1701.8h7.2m-3.6 0V1698.1m-3.6 0h7.2M470.0 1702.9h7.2m-3.6 0V1699.7m-3.6 0h7.2M480.1 1702.1h7.2m-3.6 0V1698.4m-3.6 0h7.2M490.3 1702.2h7.2m-3.6 0V1698.7m-3.6 0h7.2M500.4 1703.1h7.2m-3.6 0V1700.0m-3.6 0h7.2M510.5 1703.2h7.2m-3.6 0V1700.2m-3.6 0h7.2M520.6 1703.2h7.2m-3.6 0V1700.2m-3.6 0h7.2M530.7 1703.5h7.2m-3.6 0V1700.6m-3.6 0h7.2M540.9 1703.6h7.2m-3.6 0V1700.8m-3.6 0h7.2M551.0 1703.7h7.2m-3.6 0V1701.0m-3.6 0h7.2M561.1 1703.6h7.2m-3.6 0V1700.8m-3.6 0h7.2M571.2 1703.7h7.2m-3.6 0V1701.0m-3.6 0h7.2M581.3 1703.5h7.2m-3.6 0V1700.6m-3.6 0h7.2M591.5 1704.5h7.2m-3.6 0V1702.5m-3.6 0h7.2M601.6 1703.6h7.2m-3.6 0V1700.8m-3.6 0h7.2M611.7 1703.5h7.2m-3.6 0V1700.6m-3.6 0h7.2M621.8 1703.6h7.2m-3.6 0V1700.8m-3.6 0h7.2M631.9 1703.7h7.2m-3.6 0V1701.0m-3.6 0h7.2M642.1 1704.6h7.2m-3.6 0V1702.7m-3.6 0h7.2M652.2 1703.7h7.2m-3.6 0V1701.0m-3.6 0h7.2M662.3 1703.7h7.2m-3.6 0V1701.0m-3.6 0h7.2M672.4 1703.9h7.2m-3.6 0V1701.3m-3.6 0h7.2M682.5 1704.0h7.2m-3.6 0V1701.6m-3.6 0h7.2M692.7 1704.7h7.2m-3.6 0V1702.8m-3.6 0h7.2M702.8 1704.7h7.2m-3.6 0V1702.8m-3.6 0h7.2M712.9 1704.6h7.2m-3.6 0V1702.7m-3.6 0h7.2M723.0 1704.6h7.2m-3.6 0V1702.7m-3.6 0h7.2M733.1 1704.2h7.2m-3.6 0V1701.9m-3.6 0h7.2M743.3 1704.3h7.2m-3.6 0V1702.1m-3.6 0h7.2M753.4 1704.5h7.2m-3.6 0V1702.4m-3.6 0h7.2M763.5 1704.3h7.2m-3.6 0V1702.0m-3.6 0h7.2M773.6 1704.5h7.2m-3.6 0V1702.5m-3.6 0h7.2M783.7 1704.7h7.2m-3.6 0V1703.0m-3.6 0h7.2M793.9 1704.7h7.2m-3.6 0V1702.8m-3.6 0h7.2" stroke="#008000" stroke-width="2.1" fill="none"/><polyline points="139.7,1700.4 149.8,1699.8 159.9,1699.2 170.0,1698.6 180.1,1698.0 190.3,1697.3 200.4,1696.7 210.5,1696.3 220.6,1696.0 230.7,1695.9 240.9,1696.0 251.0,1696.1 261.1,1696.3 271.2,1696.4 281.3,1696.6 291.5,1696.9 301.6,1697.3 311.7,1697.6 321.8,1697.7 331.9,1697.8 342.1,1697.8 352.2,1697.9 362.3,1698.2 372.4,1698.5 382.5,1698.9 392.7,1699.2 402.8,1699.5 412.9,1699.8 423.0,1700.1 433.1,1700.3 443.3,1700.4 453.4,1700.5 463.5,1700.6 473.6,1700.7 483.7,1700.9 493.9,1701.1 504.0,1701.3 514.1,1701.5 524.2,1701.8 534.3,1701.9 544.5,1702.1 554.6,1702.2 564.7,1702.3 574.8,1702.4 584.9,1702.5 595.1,1702.5 605.2,1702.5 615.3,1702.5 625.4,1702.6 635.5,1702.6 645.7,1702.7 655.8,1702.8 665.9,1702.8 676.0,1703.0 686.1,1703.2 696.3,1703.3 706.4,1703.4 716.5,1703.5 726.6,1703.5 736.7,1703.4 746.9,1703.4 757.0,1703.4 767.1,1703.5 777.2,1703.6 787.3,1703.7 797.5,1703.8" stroke="#008000" stroke-width="2.3" fill="none" stroke-dasharray="8.5 3.7"/><path d="M136.1 1699.8h7.2m-3.6 0V1695.2m-3.6 0h7.2M146.2 1698.2h7.2m-3.6 0V1693.1m-3.6 0h7.2M156.3 1694.1h7.2m-3.6 0V1687.9m-3.6 0h7.2M166.4 1695.5h7.2m-3.6 0V1689.7m-3.6 0h7.2M176.5 1691.0h7.2m-3.6 0V1684.1m-3.6 0h7.2M186.7 1691.9h7.2m-3.6 0V1685.2m-3.6 0h7.2M196.8 1689.9h7.2m-3.6 0V1682.8m-3.6 0h7.2M206.9 1690.8h7.2m-3.6 0V1683.9m-3.6 0h7.2M217.0 1692.4h7.2m-3.6 0V1685.8m-3.6 0h7.2M227.1 1690.8h7.2m-3.6 0V1683.9m-3.6 0h7.2M237.3 1691.6h7.2m-3.6 0V1684.8m-3.6 0h7.2M247.4 1691.9h7.2m-3.6 0V1685.2m-3.6 0h7.2M257.5 1693.3h7.2m-3.6 0V1686.9m-3.6 0h7.2M267.6 1692.2h7.2m-3.6 0V1685.5m-3.6 0h7.2M277.7 1694.2h7.2m-3.6 0V1688.0m-3.6 0h7.2M287.9 1694.5h7.2m-3.6 0V1688.3m-3.6 0h7.2M298.0 1694.3h7.2m-3.6 0V1688.1m-3.6 0h7.2M308.1 1694.1h7.2m-3.6 0V1687.9m-3.6 0h7.2M318.2 1695.4h7.2m-3.6 0V1689.5m-3.6 0h7.2M328.3 1696.2h7.2m-3.6 0V1690.5m-3.6 0h7.2M338.5 1696.4h7.2m-3.6 0V1690.8m-3.6 0h7.2M348.6 1696.9h7.2m-3.6 0V1691.5m-3.6 0h7.2M358.7 1696.4h7.2m-3.6 0V1690.8m-3.6 0h7.2M368.8 1697.4h7.2m-3.6 0V1692.1m-3.6 0h7.2M378.9 1696.0h7.2m-3.6 0V1690.2m-3.6 0h7.2M389.1 1695.7h7.2m-3.6 0V1690.0m-3.6 0h7.2M399.2 1699.2h7.2m-3.6 0V1694.5m-3.6 0h7.2M409.3 1698.8h7.2m-3.6 0V1694.0m-3.6 0h7.2M419.4 1697.6h7.2m-3.6 0V1692.4m-3.6 0h7.2M429.5 1697.6h7.2m-3.6 0V1692.3m-3.6 0h7.2M439.7 1697.6h7.2m-3.6 0V1692.4m-3.6 0h7.2M449.8 1698.6h7.2m-3.6 0V1693.6m-3.6 0h7.2M459.9 1698.6h7.2m-3.6 0V1693.7m-3.6 0h7.2M470.0 1699.0h7.2m-3.6 0V1694.2m-3.6 0h7.2M480.1 1699.4h7.2m-3.6 0V1694.8m-3.6 0h7.2M490.3 1699.9h7.2m-3.6 0V1695.4m-3.6 0h7.2M500.4 1699.6h7.2m-3.6 0V1695.0m-3.6 0h7.2M510.5 1700.7h7.2m-3.6 0V1696.4m-3.6 0h7.2M520.6 1700.7h7.2m-3.6 0V1696.4m-3.6 0h7.2M530.7 1700.5h7.2m-3.6 0V1696.2m-3.6 0h7.2M540.9 1701.5h7.2m-3.6 0V1697.7m-3.6 0h7.2M551.0 1701.1h7.2m-3.6 0V1697.0m-3.6 0h7.2M561.1 1701.3h7.2m-3.6 0V1697.3m-3.6 0h7.2M571.2 1700.9h7.2m-3.6 0V1696.7m-3.6 0h7.2M581.3 1700.9h7.2m-3.6 0V1696.7m-3.6 0h7.2M591.5 1701.9h7.2m-3.6 0V1698.2m-3.6 0h7.2M601.6 1702.2h7.2m-3.6 0V1698.7m-3.6 0h7.2M611.7 1702.4h7.2m-3.6 0V1698.9m-3.6 0h7.2M621.8 1702.6h7.2m-3.6 0V1699.3m-3.6 0h7.2M631.9 1702.2h7.2m-3.6 0V1698.7m-3.6 0h7.2M642.1 1702.1h7.2m-3.6 0V1698.4m-3.6 0h7.2M652.2 1701.9h7.2m-3.6 0V1698.2m-3.6 0h7.2M662.3 1702.6h7.2m-3.6 0V1699.3m-3.6 0h7.2M672.4 1702.6h7.2m-3.6 0V1699.3m-3.6 0h7.2M682.5 1703.1h7.2m-3.6 0V1700.0m-3.6 0h7.2M692.7 1703.2h7.2m-3.6 0V1700.1m-3.6 0h7.2M702.8 1702.5h7.2m-3.6 0V1699.1m-3.6 0h7.2M712.9 1703.0h7.2m-3.6 0V1699.9m-3.6 0h7.2M723.0 1702.9h7.2m-3.6 0V1699.7m-3.6 0h7.2M733.1 1703.3h7.2m-3.6 0V1700.4m-3.6 0h7.2M743.3 1703.7h7.2m-3.6 0V1701.0m-3.6 0h7.2M753.4 1703.9h7.2m-3.6 0V1701.3m-3.6 0h7.2M763.5 1703.6h7.2m-3.6 0V1700.8m-3.6 0h7.2M773.6 1703.4h7.2m-3.6 0V1700.5m-3.6 0h7.2M783.7 1703.3h7.2m-3.6 0V1700.4m-3.6 0h7.2M793.9 1703.6h7.2m-3.6 0V1700.8m-3.6 0h7.2" stroke="#ff0000" stroke-width="2.1" fill="none"/><polyline points="139.7,1697.1 149.8,1695.3 159.9,1693.5 170.0,1691.8 180.1,1690.3 190.3,1689.2 200.4,1688.5 210.5,1688.1 220.6,1688.1 230.7,1688.3 240.9,1688.6 251.0,1689.0 261.1,1689.5 271.2,1690.0 281.3,1690.5 291.5,1691.0 301.6,1691.4 311.7,1691.9 321.8,1692.4 331.9,1692.9 342.1,1693.3 352.2,1693.6 362.3,1693.9 372.4,1694.1 382.5,1694.4 392.7,1694.7 402.8,1695.0 412.9,1695.3 423.0,1695.4 433.1,1695.5 443.3,1695.7 453.4,1696.0 463.5,1696.3 473.6,1696.7 483.7,1697.1 493.9,1697.4 504.0,1697.8 514.1,1698.1 524.2,1698.5 534.3,1698.7 544.5,1698.9 554.6,1699.1 564.7,1699.2 574.8,1699.4 584.9,1699.6 595.1,1699.9 605.2,1700.1 615.3,1700.3 625.4,1700.5 635.5,1700.5 645.7,1700.6 655.8,1700.7 665.9,1700.8 676.0,1701.0 686.1,1701.2 696.3,1701.3 706.4,1701.4 716.5,1701.5 726.6,1701.7 736.7,1701.9 746.9,1702.0 757.0,1702.1 767.1,1702.1 777.2,1702.1 787.3,1702.0 797.5,1702.0" stroke="#ff0000" stroke-width="2.3" fill="none" stroke-dasharray="8.5 3.7"/><path d="M136.1 1691.6h7.2m-3.6 0V1684.8m-3.6 0h7.2M146.2 1684.3h7.2m-3.6 0V1676.0m-3.6 0h7.2M156.3 1680.4h7.2m-3.6 0V1671.5m-3.6 0h7.2M166.4 1672.2h7.2m-3.6 0V1661.9m-3.6 0h7.2M176.5 1676.3h7.2m-3.6 0V1666.7m-3.6 0h7.2M186.7 1677.5h7.2m-3.6 0V1668.0m-3.6 0h7.2M196.8 1671.0h7.2m-3.6 0V1660.6m-3.6 0h7.2M206.9 1674.5h7.2m-3.6 0V1664.6m-3.6 0h7.2M217.0 1673.9h7.2m-3.6 0V1664.0m-3.6 0h7.2M227.1 1673.9h7.2m-3.6 0V1664.0m-3.6 0h7.2M237.3 1676.3h7.2m-3.6 0V1666.7m-3.6 0h7.2M247.4 1675.1h7.2m-3.6 0V1665.3m-3.6 0h7.2M257.5 1678.5h7.2m-3.6 0V1669.3m-3.6 0h7.2M267.6 1679.9h7.2m-3.6 0V1670.8m-3.6 0h7.2M277.7 1678.4h7.2m-3.6 0V1669.1m-3.6 0h7.2M287.9 1679.1h7.2m-3.6 0V1669.9m-3.6 0h7.2M298.0 1678.9h7.2m-3.6 0V1669.7m-3.6 0h7.2M308.1 1680.2h7.2m-3.6 0V1671.2m-3.6 0h7.2M318.2 1681.0h7.2m-3.6 0V1672.2m-3.6 0h7.2M328.3 1682.8h7.2m-3.6 0V1674.2m-3.6 0h7.2M338.5 1683.1h7.2m-3.6 0V1674.6m-3.6 0h7.2M348.6 1683.4h7.2m-3.6 0V1674.9m-3.6 0h7.2M358.7 1688.2h7.2m-3.6 0V1680.7m-3.6 0h7.2M368.8 1685.7h7.2m-3.6 0V1677.7m-3.6 0h7.2M378.9 1688.6h7.2m-3.6 0V1681.1m-3.6 0h7.2M389.1 1688.4h7.2m-3.6 0V1681.0m-3.6 0h7.2M399.2 1687.7h7.2m-3.6 0V1680.1m-3.6 0h7.2M409.3 1688.6h7.2m-3.6 0V1681.2m-3.6 0h7.2M419.4 1693.2h7.2m-3.6 0V1686.7m-3.6 0h7.2M429.5 1691.4h7.2m-3.6 0V1684.6m-3.6 0h7.2M439.7 1690.6h7.2m-3.6 0V1683.5m-3.6 0h7.2M449.8 1691.6h7.2m-3.6 0V1684.8m-3.6 0h7.2M459.9 1692.0h7.2m-3.6 0V1685.3m-3.6 0h7.2M470.0 1694.1h7.2m-3.6 0V1687.9m-3.6 0h7.2M480.1 1691.4h7.2m-3.6 0V1684.6m-3.6 0h7.2M490.3 1695.7h7.2m-3.6 0V1689.9m-3.6 0h7.2M500.4 1693.1h7.2m-3.6 0V1686.7m-3.6 0h7.2M510.5 1694.9h7.2m-3.6 0V1688.9m-3.6 0h7.2M520.6 1693.5h7.2m-3.6 0V1687.1m-3.6 0h7.2M530.7 1695.9h7.2m-3.6 0V1690.2m-3.6 0h7.2M540.9 1696.7h7.2m-3.6 0V1691.2m-3.6 0h7.2M551.0 1696.2h7.2m-3.6 0V1690.5m-3.6 0h7.2M561.1 1695.9h7.2m-3.6 0V1690.2m-3.6 0h7.2M571.2 1697.0h7.2m-3.6 0V1691.6m-3.6 0h7.2M581.3 1698.0h7.2m-3.6 0V1692.9m-3.6 0h7.2M591.5 1698.2h7.2m-3.6 0V1693.2m-3.6 0h7.2M601.6 1698.7h7.2m-3.6 0V1693.8m-3.6 0h7.2M611.7 1699.0h7.2m-3.6 0V1694.2m-3.6 0h7.2M621.8 1699.2h7.2m-3.6 0V1694.5m-3.6 0h7.2M631.9 1699.4h7.2m-3.6 0V1694.8m-3.6 0h7.2M642.1 1699.4h7.2m-3.6 0V1694.7m-3.6 0h7.2M652.2 1699.6h7.2m-3.6 0V1695.0m-3.6 0h7.2M662.3 1700.4h7.2m-3.6 0V1696.1m-3.6 0h7.2M672.4 1700.6h7.2m-3.6 0V1696.3m-3.6 0h7.2M682.5 1701.2h7.2m-3.6 0V1697.3m-3.6 0h7.2M692.7 1700.1h7.2m-3.6 0V1695.6m-3.6 0h7.2M702.8 1700.9h7.2m-3.6 0V1696.8m-3.6 0h7.2M712.9 1701.2h7.2m-3.6 0V1697.3m-3.6 0h7.2M723.0 1700.1h7.2m-3.6 0V1695.6m-3.6 0h7.2M733.1 1700.5h7.2m-3.6 0V1696.2m-3.6 0h7.2M743.3 1701.0h7.2m-3.6 0V1696.9m-3.6 0h7.2M753.4 1702.3h7.2m-3.6 0V1698.8m-3.6 0h7.2M763.5 1701.3h7.2m-3.6 0V1697.4m-3.6 0h7.2M773.6 1701.7h7.2m-3.6 0V1697.9m-3.6 0h7.2M783.7 1702.8h7.2m-3.6 0V1699.5m-3.6 0h7.2M793.9 1702.4h7.2m-3.6 0V1699.0m-3.6 0h7.2" stroke="#00bfbf" stroke-width="2.1" fill="none"/><polyline points="139.7,1686.9 149.8,1682.0 159.9,1677.5 170.0,1674.0 180.1,1671.8 190.3,1670.4 200.4,1669.7 210.5,1669.4 220.6,1669.5 230.7,1670.0 240.9,1670.9 251.0,1671.9 261.1,1672.9 271.2,1673.7 281.3,1674.2 291.5,1674.7 301.6,1675.2 311.7,1676.0 321.8,1677.0 331.9,1678.1 342.1,1679.4 352.2,1680.7 362.3,1681.9 372.4,1683.0 382.5,1683.8 392.7,1684.5 402.8,1685.4 412.9,1686.3 423.0,1687.1 433.1,1687.7 443.3,1688.1 453.4,1688.5 463.5,1689.1 473.6,1689.6 483.7,1690.2 493.9,1690.6 504.0,1691.0 514.1,1691.4 524.2,1691.9 534.3,1692.5 544.5,1693.0 554.6,1693.5 564.7,1694.0 574.8,1694.5 584.9,1695.1 595.1,1695.6 605.2,1696.1 615.3,1696.5 625.4,1696.8 635.5,1697.0 645.7,1697.3 655.8,1697.6 665.9,1698.0 676.0,1698.3 686.1,1698.5 696.3,1698.6 706.4,1698.6 716.5,1698.7 726.6,1698.7 736.7,1698.9 746.9,1699.2 757.0,1699.6 767.1,1699.9 777.2,1700.3 787.3,1700.6 797.5,1700.9" stroke="#00bfbf" stroke-width="2.3" fill="none" stroke-dasharray="8.5 3.7"/><path d="M136.1 1671.0h7.2m-3.6 0V1660.6m-3.6 0h7.2M146.2 1658.5h7.2m-3.6 0V1646.5m-3.6 0h7.2M156.3 1656.1h7.2m-3.6 0V1643.8m-3.6 0h7.2M166.4 1651.4h7.2m-3.6 0V1638.5m-3.6 0h7.2M176.5 1649.0h7.2m-3.6 0V1635.8m-3.6 0h7.2M186.7 1652.0h7.2m-3.6 0V1639.2m-3.6 0h7.2M196.8 1650.2h7.2m-3.6 0V1637.2m-3.6 0h7.2M206.9 1654.3h7.2m-3.6 0V1641.8m-3.6 0h7.2M217.0 1654.9h7.2m-3.6 0V1642.5m-3.6 0h7.2M227.1 1656.1h7.2m-3.6 0V1643.8m-3.6 0h7.2M237.3 1651.4h7.2m-3.6 0V1638.5m-3.6 0h7.2M247.4 1652.0h7.2m-3.6 0V1639.2m-3.6 0h7.2M257.5 1659.7h7.2m-3.6 0V1647.8m-3.6 0h7.2M267.6 1656.1h7.2m-3.6 0V1643.8m-3.6 0h7.2M277.7 1658.5h7.2m-3.6 0V1646.5m-3.6 0h7.2M287.9 1662.7h7.2m-3.6 0V1651.2m-3.6 0h7.2M298.0 1662.7h7.2m-3.6 0V1651.2m-3.6 0h7.2M308.1 1663.9h7.2m-3.6 0V1652.5m-3.6 0h7.2M318.2 1666.8h7.2m-3.6 0V1655.9m-3.6 0h7.2M328.3 1666.8h7.2m-3.6 0V1655.9m-3.6 0h7.2M338.5 1669.2h7.2m-3.6 0V1658.6m-3.6 0h7.2M348.6 1671.0h7.2m-3.6 0V1660.6m-3.6 0h7.2M358.7 1670.4h7.2m-3.6 0V1659.9m-3.6 0h7.2M368.8 1675.1h7.2m-3.6 0V1665.3m-3.6 0h7.2M378.9 1671.6h7.2m-3.6 0V1661.3m-3.6 0h7.2M389.1 1674.5h7.2m-3.6 0V1664.6m-3.6 0h7.2M399.2 1674.5h7.2m-3.6 0V1664.6m-3.6 0h7.2M409.3 1675.7h7.2m-3.6 0V1666.0m-3.6 0h7.2M419.4 1678.7h7.2m-3.6 0V1669.5m-3.6 0h7.2M429.5 1679.9h7.2m-3.6 0V1670.9m-3.6 0h7.2M439.7 1681.3h7.2m-3.6 0V1672.5m-3.6 0h7.2M449.8 1681.0h7.2m-3.6 0V1672.1m-3.6 0h7.2M459.9 1682.1h7.2m-3.6 0V1673.5m-3.6 0h7.2M470.0 1686.2h7.2m-3.6 0V1678.3m-3.6 0h7.2M480.1 1682.9h7.2m-3.6 0V1674.4m-3.6 0h7.2M490.3 1687.1h7.2m-3.6 0V1679.3m-3.6 0h7.2M500.4 1688.2h7.2m-3.6 0V1680.6m-3.6 0h7.2M510.5 1685.7h7.2m-3.6 0V1677.7m-3.6 0h7.2M520.6 1686.9h7.2m-3.6 0V1679.1m-3.6 0h7.2M530.7 1688.4h7.2m-3.6 0V1680.9m-3.6 0h7.2M540.9 1691.3h7.2m-3.6 0V1684.4m-3.6 0h7.2M551.0 1692.3h7.2m-3.6 0V1685.6m-3.6 0h7.2M561.1 1691.0h7.2m-3.6 0V1684.1m-3.6 0h7.2M571.2 1693.8h7.2m-3.6 0V1687.6m-3.6 0h7.2M581.3 1692.4h7.2m-3.6 0V1685.8m-3.6 0h7.2M591.5 1694.1h7.2m-3.6 0V1687.9m-3.6 0h7.2M601.6 1693.1h7.2m-3.6 0V1686.7m-3.6 0h7.2M611.7 1691.4h7.2m-3.6 0V1684.6m-3.6 0h7.2M621.8 1693.1h7.2m-3.6 0V1686.6m-3.6 0h7.2M631.9 1694.0h7.2m-3.6 0V1687.7m-3.6 0h7.2M642.1 1695.1h7.2m-3.6 0V1689.1m-3.6 0h7.2M652.2 1696.0h7.2m-3.6 0V1690.2m-3.6 0h7.2M662.3 1697.4h7.2m-3.6 0V1692.0m-3.6 0h7.2M672.4 1697.3h7.2m-3.6 0V1692.0m-3.6 0h7.2M682.5 1695.9h7.2m-3.6 0V1690.2m-3.6 0h7.2M692.7 1697.4h7.2m-3.6 0V1692.0m-3.6 0h7.2M702.8 1697.2h7.2m-3.6 0V1691.8m-3.6 0h7.2M712.9 1698.3h7.2m-3.6 0V1693.3m-3.6 0h7.2M723.0 1699.0h7.2m-3.6 0V1694.2m-3.6 0h7.2M733.1 1696.3h7.2m-3.6 0V1690.7m-3.6 0h7.2M743.3 1698.2h7.2m-3.6 0V1693.1m-3.6 0h7.2M753.4 1698.6h7.2m-3.6 0V1693.6m-3.6 0h7.2M763.5 1699.6h7.2m-3.6 0V1695.0m-3.6 0h7.2M773.6 1698.1h7.2m-3.6 0V1693.0m-3.6 0h7.2M783.7 1699.7h7.2m-3.6 0V1695.1m-3.6 0h7.2M793.9 1700.6h7.2m-3.6 0V1696.3m-3.6 0h7.2" stroke="#bf00bf" stroke-width="2.1" fill="none"/><polyline points="139.7,1663.1 149.8,1656.8 159.9,1651.8 170.0,1648.2 180.1,1646.2 190.3,1645.6 200.4,1646.0 210.5,1646.8 220.6,1647.4 230.7,1647.8 240.9,1648.2 251.0,1649.0 261.1,1650.3 271.2,1651.9 281.3,1653.7 291.5,1655.5 301.6,1657.2 311.7,1658.9 321.8,1660.5 331.9,1662.1 342.1,1663.7 352.2,1665.1 362.3,1666.4 372.4,1667.4 382.5,1668.4 392.7,1669.3 402.8,1670.5 412.9,1672.0 423.0,1673.5 433.1,1675.0 443.3,1676.3 453.4,1677.5 463.5,1678.7 473.6,1679.9 483.7,1681.0 493.9,1682.0 504.0,1682.7 514.1,1683.4 524.2,1684.3 534.3,1685.5 544.5,1686.8 554.6,1687.9 564.7,1688.7 574.8,1689.3 584.9,1689.6 595.1,1689.8 605.2,1689.8 615.3,1689.9 625.4,1690.4 635.5,1691.2 645.7,1692.1 655.8,1693.0 665.9,1693.6 676.0,1694.0 686.1,1694.3 696.3,1694.6 706.4,1694.9 716.5,1695.2 726.6,1695.4 736.7,1695.5 746.9,1695.7 757.0,1696.1 767.1,1696.5 777.2,1696.9 787.3,1697.5 797.5,1698.2" stroke="#bf00bf" stroke-width="2.3" fill="none" stroke-dasharray="8.5 3.7"/><path d="M136.1 1646.0h7.2m-3.6 0V1632.5m-3.6 0h7.2M146.2 1639.4h7.2m-3.6 0V1625.2m-3.6 0h7.2M156.3 1623.7h7.2m-3.6 0V1608.0m-3.6 0h7.2M166.4 1621.2h7.2m-3.6 0V1605.4m-3.6 0h7.2M176.5 1620.6h7.2m-3.6 0V1604.7m-3.6 0h7.2M186.7 1623.7h7.2m-3.6 0V1608.0m-3.6 0h7.2M196.8 1621.2h7.2m-3.6 0V1605.4m-3.6 0h7.2M206.9 1620.6h7.2m-3.6 0V1604.7m-3.6 0h7.2M217.0 1622.5h7.2m-3.6 0V1606.7m-3.6 0h7.2M227.1 1629.1h7.2m-3.6 0V1613.9m-3.6 0h7.2M237.3 1625.5h7.2m-3.6 0V1610.0m-3.6 0h7.2M247.4 1632.1h7.2m-3.6 0V1617.2m-3.6 0h7.2M257.5 1629.1h7.2m-3.6 0V1613.9m-3.6 0h7.2M267.6 1630.9h7.2m-3.6 0V1615.9m-3.6 0h7.2M277.7 1633.9h7.2m-3.6 0V1619.2m-3.6 0h7.2M287.9 1636.3h7.2m-3.6 0V1621.9m-3.6 0h7.2M298.0 1643.6h7.2m-3.6 0V1629.8m-3.6 0h7.2M308.1 1643.0h7.2m-3.6 0V1629.2m-3.6 0h7.2M318.2 1645.4h7.2m-3.6 0V1631.8m-3.6 0h7.2M328.3 1651.4h7.2m-3.6 0V1638.5m-3.6 0h7.2M338.5 1655.5h7.2m-3.6 0V1643.2m-3.6 0h7.2M348.6 1655.5h7.2m-3.6 0V1643.2m-3.6 0h7.2M358.7 1653.1h7.2m-3.6 0V1640.5m-3.6 0h7.2M368.8 1661.5h7.2m-3.6 0V1649.8m-3.6 0h7.2M378.9 1659.7h7.2m-3.6 0V1647.8m-3.6 0h7.2M389.1 1662.1h7.2m-3.6 0V1650.5m-3.6 0h7.2M399.2 1660.9h7.2m-3.6 0V1649.2m-3.6 0h7.2M409.3 1663.3h7.2m-3.6 0V1651.9m-3.6 0h7.2M419.4 1664.5h7.2m-3.6 0V1653.2m-3.6 0h7.2M429.5 1668.0h7.2m-3.6 0V1657.2m-3.6 0h7.2M439.7 1668.0h7.2m-3.6 0V1657.2m-3.6 0h7.2M449.8 1671.6h7.2m-3.6 0V1661.3m-3.6 0h7.2M459.9 1671.6h7.2m-3.6 0V1661.3m-3.6 0h7.2M470.0 1672.8h7.2m-3.6 0V1662.6m-3.6 0h7.2M480.1 1673.9h7.2m-3.6 0V1664.0m-3.6 0h7.2M490.3 1676.3h7.2m-3.6 0V1666.7m-3.6 0h7.2M500.4 1678.4h7.2m-3.6 0V1669.1m-3.6 0h7.2M510.5 1679.2h7.2m-3.6 0V1670.0m-3.6 0h7.2M520.6 1680.4h7.2m-3.6 0V1671.4m-3.6 0h7.2M530.7 1681.8h7.2m-3.6 0V1673.1m-3.6 0h7.2M540.9 1682.3h7.2m-3.6 0V1673.6m-3.6 0h7.2M551.0 1684.1h7.2m-3.6 0V1675.7m-3.6 0h7.2M561.1 1686.8h7.2m-3.6 0V1679.0m-3.6 0h7.2M571.2 1683.8h7.2m-3.6 0V1675.5m-3.6 0h7.2M581.3 1683.5h7.2m-3.6 0V1675.1m-3.6 0h7.2M591.5 1688.3h7.2m-3.6 0V1680.8m-3.6 0h7.2M601.6 1687.1h7.2m-3.6 0V1679.3m-3.6 0h7.2M611.7 1686.9h7.2m-3.6 0V1679.1m-3.6 0h7.2M621.8 1688.6h7.2m-3.6 0V1681.1m-3.6 0h7.2M631.9 1691.3h7.2m-3.6 0V1684.4m-3.6 0h7.2M642.1 1690.2h7.2m-3.6 0V1683.0m-3.6 0h7.2M652.2 1690.8h7.2m-3.6 0V1683.9m-3.6 0h7.2M662.3 1691.2h7.2m-3.6 0V1684.3m-3.6 0h7.2M672.4 1691.9h7.2m-3.6 0V1685.2m-3.6 0h7.2M682.5 1692.9h7.2m-3.6 0V1686.4m-3.6 0h7.2M692.7 1693.7h7.2m-3.6 0V1687.4m-3.6 0h7.2M702.8 1692.0h7.2m-3.6 0V1685.3m-3.6 0h7.2M712.9 1694.8h7.2m-3.6 0V1688.8m-3.6 0h7.2M723.0 1694.8h7.2m-3.6 0V1688.8m-3.6 0h7.2M733.1 1695.5h7.2m-3.6 0V1689.7m-3.6 0h7.2M743.3 1695.3h7.2m-3.6 0V1689.4m-3.6 0h7.2M753.4 1695.6h7.2m-3.6 0V1689.8m-3.6 0h7.2M763.5 1695.8h7.2m-3.6 0V1690.0m-3.6 0h7.2M773.6 1697.4h7.2m-3.6 0V1692.1m-3.6 0h7.2M783.7 1697.2h7.2m-3.6 0V1691.8m-3.6 0h7.2M793.9 1696.6h7.2m-3.6 0V1691.0m-3.6 0h7.2" stroke="#bfbf00" stroke-width="2.1" fill="none"/><polyline points="139.7,1638.5 149.8,1630.4 159.9,1623.5 170.0,1618.6 180.1,1615.8 190.3,1614.6 200.4,1614.5 210.5,1615.2 220.6,1616.6 230.7,1618.4 240.9,1620.1 251.0,1621.7 261.1,1623.3 271.2,1625.3 281.3,1627.8 291.5,1630.8 301.6,1634.1 311.7,1637.4 321.8,1640.7 331.9,1643.8 342.1,1646.5 352.2,1648.8 362.3,1650.7 372.4,1652.5 382.5,1654.0 392.7,1655.3 402.8,1656.6 412.9,1658.1 423.0,1659.8 433.1,1661.7 443.3,1663.5 453.4,1665.1 463.5,1666.7 473.6,1668.2 483.7,1669.8 493.9,1671.5 504.0,1673.1 514.1,1674.6 524.2,1676.0 534.3,1677.3 544.5,1678.5 554.6,1679.6 564.7,1680.4 574.8,1681.0 584.9,1681.7 595.1,1682.5 605.2,1683.4 615.3,1684.3 625.4,1685.2 635.5,1686.1 645.7,1686.9 655.8,1687.5 665.9,1688.1 676.0,1688.7 686.1,1689.3 696.3,1689.9 706.4,1690.5 716.5,1691.1 726.6,1691.7 736.7,1692.1 746.9,1692.6 757.0,1693.0 767.1,1693.4 777.2,1693.9 787.3,1694.2 797.5,1694.2" stroke="#bfbf00" stroke-width="2.3" fill="none" stroke-dasharray="8.5 3.7"/></g><rect x="106.70" y="1017.30" width="724.60" height="720.00" fill="none" stroke="#000" stroke-width="1.3"/><path d="M134.6 1737.3v6.2M235.8 1737.3v6.2M337.0 1737.3v6.2M438.2 1737.3v6.2M539.4 1737.3v6.2M640.6 1737.3v6.2M741.8 1737.3v6.2M106.7 1705.0h-6.2M106.7 1578.5h-6.2M106.7 1452.0h-6.2M106.7 1325.6h-6.2M106.7 1199.1h-6.2M106.7 1072.6h-6.2" stroke="#000" stroke-width="1.3" fill="none"/><g font-family="'DejaVu Sans', 'Liberation Sans', sans-serif" font-size="21" fill="#000"><text x="134.6" y="1765.1" text-anchor="middle">0</text><text x="235.8" y="1765.1" text-anchor="middle">1</text><text x="337.0" y="1765.1" text-anchor="middle">2</text><text x="438.2" y="1765.1" text-anchor="middle">3</text><text x="539.4" y="1765.1" text-anchor="middle">4</text><text x="640.6" y="1765.1" text-anchor="middle">5</text><text x="741.8" y="1765.1" text-anchor="middle">6</text><text x="94.9" y="1714.0" text-anchor="end">0</text><text x="94.9" y="1587.5" text-anchor="end">20</text><text x="94.9" y="1461.0" text-anchor="end">40</text><text x="94.9" y="1334.6" text-anchor="end">60</text><text x="94.9" y="1208.1" text-anchor="end">80</text><text x="94.9" y="1081.6" text-anchor="end">100</text></g><rect x="261.40" y="1033.50" width="556.20" height="150.80" rx="3.5" ry="3.5" fill="#fff" fill-opacity="0.8" stroke="#d4d4d4" stroke-width="1.3"/><circle cx="283.6" cy="1047.9" r="5.7" fill="#0000ff"/><text x="312.1" y="1051.9" font-family="'DejaVu Sans', 'Liberation Sans', sans-serif" font-size="16.3" fill="#000">No Shield Ellipsoid</text><path d="M267.3 1069.8H299.8" stroke="#0000ff" stroke-width="2.4" stroke-dasharray="8.6 3.9"/><text x="312.1" y="1076.2" font-family="'DejaVu Sans', 'Liberation Sans', sans-serif" font-size="16.3" fill="#000">Fitted No Shield Ellipsoid</text><circle cx="283.6" cy="1096.6" r="5.7" fill="#008000"/><text transform="translate(312.6,1101.4) scale(0.94,1)" font-family="'DejaVu Sans', 'Liberation Sans', sans-serif" font-size="16.3" fill="#000">1/10</text><text x="353.5" y="1100.6" font-family="'DejaVu Sans', 'Liberation Sans', sans-serif" font-size="16.3" fill="#000">Shield Position</text><path d="M267.3 1118.5H299.8" stroke="#008000" stroke-width="2.4" stroke-dasharray="8.6 3.9"/><text x="312.0" y="1125.0" font-family="'DejaVu Sans', 'Liberation Sans', sans-serif" font-size="16.3" fill="#000">Fitted</text><text transform="translate(366.2,1125.8) scale(0.94,1)" font-family="'DejaVu Sans', 'Liberation Sans', sans-serif" font-size="16.3" fill="#000">1/10</text><text x="404.5" y="1125.0" font-family="'DejaVu Sans', 'Liberation Sans', sans-serif" font-size="16.3" fill="#000">Shield Position</text><circle cx="283.6" cy="1145.3" r="5.7" fill="#ff0000"/><text transform="translate(314.2,1150.1) scale(0.97,1)" font-family="'DejaVu Sans', 'Liberation Sans', sans-serif" font-size="16.3" fill="#000">1/4</text><text x="346.6" y="1149.3" font-family="'DejaVu Sans', 'Liberation Sans', sans-serif" font-size="16.3" fill="#000">Shield Position</text><path d="M267.3 1167.2H299.8" stroke="#ff0000" stroke-width="2.4" stroke-dasharray="8.6 3.9"/><text x="312.0" y="1173.7" font-family="'DejaVu Sans', 'Liberation Sans', sans-serif" font-size="16.3" fill="#000">Fitted</text><text transform="translate(364.5,1174.5) scale(0.97,1)" font-family="'DejaVu Sans', 'Liberation Sans', sans-serif" font-size="16.3" fill="#000">1/4</text><text x="394.9" y="1173.7" font-family="'DejaVu Sans', 'Liberation Sans', sans-serif" font-size="16.3" fill="#000">Shield Position</text><circle cx="571.7" cy="1047.9" r="5.7" fill="#00bfbf"/><text x="599.9" y="1052.7" font-family="'DejaVu Sans', 'Liberation Sans', sans-serif" font-size="16.3" fill="#000">1/2</text><text x="628.9" y="1051.9" font-family="'DejaVu Sans', 'Liberation Sans', sans-serif" font-size="16.3" fill="#000">Shield Position</text><path d="M555.9 1069.8H587.5" stroke="#00bfbf" stroke-width="2.4" stroke-dasharray="8.6 3.9"/><text x="599.7" y="1076.2" font-family="'DejaVu Sans', 'Liberation Sans', sans-serif" font-size="16.3" fill="#000">Fitted</text><text x="650.6" y="1077.0" font-family="'DejaVu Sans', 'Liberation Sans', sans-serif" font-size="16.3" fill="#000">1/2</text><text x="681.6" y="1076.2" font-family="'DejaVu Sans', 'Liberation Sans', sans-serif" font-size="16.3" fill="#000">Shield Position</text><circle cx="571.7" cy="1096.6" r="5.7" fill="#bf00bf"/><text x="602.1" y="1101.4" font-family="'DejaVu Sans', 'Liberation Sans', sans-serif" font-size="16.3" fill="#000">3/4</text><text x="631.3" y="1100.6" font-family="'DejaVu Sans', 'Liberation Sans', sans-serif" font-size="16.3" fill="#000">Shield Position</text><path d="M555.9 1118.5H587.5" stroke="#bf00bf" stroke-width="2.4" stroke-dasharray="8.6 3.9"/><text x="599.7" y="1125.0" font-family="'DejaVu Sans', 'Liberation Sans', sans-serif" font-size="16.3" fill="#000">Fitted</text><text x="651.5" y="1125.8" font-family="'DejaVu Sans', 'Liberation Sans', sans-serif" font-size="16.3" fill="#000">3/4</text><text x="682.6" y="1125.0" font-family="'DejaVu Sans', 'Liberation Sans', sans-serif" font-size="16.3" fill="#000">Shield Position</text><circle cx="571.7" cy="1145.3" r="5.7" fill="#bfbf00"/><text transform="translate(601.7,1150.1) scale(0.965,1)" font-family="'DejaVu Sans', 'Liberation Sans', sans-serif" font-size="16.3" fill="#000">9/10</text><text x="640.9" y="1149.3" font-family="'DejaVu Sans', 'Liberation Sans', sans-serif" font-size="16.3" fill="#000">Shield Position</text><path d="M555.9 1167.2H587.5" stroke="#bfbf00" stroke-width="2.4" stroke-dasharray="8.6 3.9"/><text x="599.7" y="1173.7" font-family="'DejaVu Sans', 'Liberation Sans', sans-serif" font-size="16.3" fill="#000">Fitted</text><text transform="translate(653.4,1174.5) scale(0.965,1)" font-family="'DejaVu Sans', 'Liberation Sans', sans-serif" font-size="16.3" fill="#000">9/10</text><text x="692.2" y="1173.7" font-family="'DejaVu Sans', 'Liberation Sans', sans-serif" font-size="16.3" fill="#000">Shield Position</text><rect x="388.20" y="1197.40" width="435.00" height="359.90" fill="#fff"/><g clip-path="url(#c6)"><path d="M717.3 1251.4h0M723.4 1225.5h0M729.4 1226.9h0M735.5 1235.5h0M741.6 1265.1h0M747.7 1285.9h0M753.7 1282.3h0M759.8 1311.8h0M765.9 1309.0h0M771.9 1335.6h0M778.0 1343.5h0M784.1 1348.6h0M790.1 1356.5h0M796.2 1375.2h0M802.3 1411.2h0" stroke="#0000ff" stroke-width="11.4" stroke-linecap="round"/><path d="M407.7 1504.0h0M413.8 1502.6h0M419.9 1487.5h0M425.9 1480.3h0M432.0 1476.0h0M438.1 1473.8h0M444.2 1458.0h0M450.2 1455.8h0M456.3 1432.1h0M462.4 1447.2h0M468.4 1456.5h0M474.5 1461.6h0M480.6 1458.7h0M486.6 1465.9h0M492.7 1447.9h0M498.8 1456.5h0M504.9 1466.6h0M510.9 1487.5h0M517.0 1481.7h0M523.1 1477.4h0M529.1 1471.6h0M535.2 1455.1h0M541.3 1480.3h0M547.3 1487.5h0M553.4 1491.8h0M559.5 1486.8h0M565.6 1493.2h0M571.6 1499.7h0M577.7 1502.6h0M583.8 1509.1h0M589.8 1504.0h0M595.9 1509.1h0M602.0 1499.7h0M608.0 1515.6h0M614.1 1503.3h0M620.2 1505.5h0M626.3 1517.7h0M632.3 1519.9h0M638.4 1519.9h0M644.5 1523.5h0M650.5 1524.9h0M656.6 1527.1h0M662.7 1524.9h0M668.7 1527.1h0M674.8 1523.5h0M680.9 1540.7h0M687.0 1524.9h0M693.0 1523.5h0M699.1 1524.9h0M705.2 1527.1h0M711.2 1542.2h0M717.3 1527.1h0M723.4 1527.1h0M729.4 1529.9h0M735.5 1532.1h0M741.6 1542.9h0M747.7 1542.9h0M753.7 1542.2h0M759.8 1542.2h0M765.9 1535.0h0M771.9 1537.1h0M778.0 1539.3h0M784.1 1536.4h0M790.1 1540.7h0M796.2 1544.3h0M802.3 1542.9h0" stroke="#008000" stroke-width="11.4" stroke-linecap="round"/><path d="M407.7 1471.6h0M413.8 1450.8h0M419.9 1397.5h0M425.9 1416.2h0M432.0 1358.6h0M438.1 1370.2h0M444.2 1345.0h0M450.2 1356.5h0M456.3 1376.6h0M462.4 1356.5h0M468.4 1365.8h0M474.5 1370.2h0M480.6 1388.1h0M486.6 1373.8h0M492.7 1398.9h0M498.8 1402.5h0M504.9 1400.4h0M510.9 1397.5h0M517.0 1414.8h0M523.1 1424.9h0M529.1 1427.7h0M535.2 1434.2h0M541.3 1427.7h0M547.3 1440.7h0M553.4 1422.0h0M559.5 1419.1h0M565.6 1464.4h0M571.6 1459.4h0M577.7 1443.6h0M583.8 1442.9h0M589.8 1443.6h0M595.9 1455.8h0M602.0 1456.5h0M608.0 1461.6h0M614.1 1467.3h0M620.2 1473.8h0M626.3 1469.5h0M632.3 1483.9h0M638.4 1483.9h0M644.5 1481.7h0M650.5 1496.1h0M656.6 1489.6h0M662.7 1492.5h0M668.7 1486.8h0M674.8 1486.8h0M680.9 1501.2h0M687.0 1505.5h0M693.0 1507.6h0M699.1 1511.2h0M705.2 1505.5h0M711.2 1503.3h0M717.3 1501.2h0M723.4 1511.2h0M729.4 1511.2h0M735.5 1517.7h0M741.6 1519.2h0M747.7 1509.1h0M753.7 1517.0h0M759.8 1515.6h0M765.9 1521.3h0M771.9 1527.1h0M778.0 1529.9h0M784.1 1524.9h0M790.1 1522.7h0M796.2 1521.3h0M802.3 1524.9h0" stroke="#ff0000" stroke-width="11.4" stroke-linecap="round"/><path d="M407.7 1366.6h0M413.8 1274.4h0M419.9 1226.9h0M480.6 1203.2h0M486.6 1219.7h0M492.7 1201.7h0M498.8 1210.4h0M504.9 1207.5h0M510.9 1224.0h0M517.0 1234.1h0M523.1 1255.7h0M529.1 1259.3h0M535.2 1262.9h0M541.3 1323.4h0M547.3 1292.4h0M553.4 1327.7h0M559.5 1326.2h0M565.6 1316.9h0M571.6 1328.4h0M577.7 1386.0h0M583.8 1363.7h0M589.8 1352.9h0M595.9 1365.8h0M602.0 1371.6h0M608.0 1397.5h0M614.1 1363.7h0M620.2 1418.4h0M626.3 1385.3h0M632.3 1408.3h0M638.4 1390.3h0M644.5 1421.3h0M650.5 1431.3h0M656.6 1424.9h0M662.7 1421.3h0M668.7 1435.7h0M674.8 1448.6h0M680.9 1451.5h0M687.0 1458.0h0M693.0 1461.6h0M699.1 1464.4h0M705.2 1467.3h0M711.2 1466.6h0M717.3 1469.5h0M723.4 1480.3h0M729.4 1482.4h0M735.5 1491.8h0M741.6 1476.0h0M747.7 1487.5h0M753.7 1491.8h0M759.8 1476.0h0M765.9 1481.7h0M771.9 1488.2h0M778.0 1506.2h0M784.1 1493.2h0M790.1 1498.3h0M796.2 1513.4h0M802.3 1508.4h0" stroke="#00bfbf" stroke-width="11.4" stroke-linecap="round"/><path d="M577.7 1206.0h0M583.8 1220.4h0M589.8 1237.7h0M595.9 1233.4h0M602.0 1247.8h0M608.0 1298.2h0M614.1 1257.1h0M620.2 1309.0h0M626.3 1322.6h0M632.3 1291.7h0M638.4 1306.8h0M644.5 1325.5h0M650.5 1362.2h0M656.6 1374.5h0M662.7 1358.6h0M668.7 1394.6h0M674.8 1376.6h0M680.9 1397.5h0M687.0 1385.3h0M693.0 1363.7h0M699.1 1384.5h0M705.2 1396.1h0M711.2 1410.5h0M717.3 1422.0h0M723.4 1440.0h0M729.4 1439.3h0M735.5 1421.3h0M741.6 1440.0h0M747.7 1437.8h0M753.7 1452.9h0M759.8 1461.6h0M765.9 1426.3h0M771.9 1450.8h0M778.0 1455.8h0M784.1 1469.5h0M790.1 1450.0h0M796.2 1470.9h0M802.3 1482.4h0" stroke="#bf00bf" stroke-width="11.4" stroke-linecap="round"/><path d="M626.3 1201.7h0M632.3 1211.1h0M638.4 1226.2h0M644.5 1243.5h0M650.5 1249.2h0M656.6 1271.5h0M662.7 1305.4h0M668.7 1268.7h0M674.8 1264.3h0M680.9 1324.1h0M687.0 1309.0h0M693.0 1306.8h0M699.1 1327.7h0M705.2 1362.2h0M711.2 1347.8h0M717.3 1356.5h0M723.4 1360.8h0M729.4 1370.2h0M735.5 1383.1h0M741.6 1393.2h0M747.7 1371.6h0M753.7 1406.9h0M759.8 1406.9h0M765.9 1416.2h0M771.9 1413.3h0M778.0 1416.9h0M784.1 1419.8h0M790.1 1440.7h0M796.2 1437.8h0M802.3 1429.9h0" stroke="#bfbf00" stroke-width="11.4" stroke-linecap="round"/><path d="M689.4 1207.7h7.2m-3.6 0V1100.7m-3.6 0h7.2M695.5 1214.4h7.2m-3.6 0V1108.4m-3.6 0h7.2M701.6 1207.7h7.2m-3.6 0V1100.7m-3.6 0h7.2M707.6 1207.7h7.2m-3.6 0V1100.7m-3.6 0h7.2M713.7 1297.7h7.2m-3.6 0V1205.0m-3.6 0h7.2M719.8 1273.8h7.2m-3.6 0V1177.1m-3.6 0h7.2M725.8 1275.2h7.2m-3.6 0V1178.7m-3.6 0h7.2M731.9 1283.1h7.2m-3.6 0V1188.0m-3.6 0h7.2M738.0 1310.3h7.2m-3.6 0V1219.8m-3.6 0h7.2M744.1 1329.5h7.2m-3.6 0V1242.4m-3.6 0h7.2M750.1 1326.2h7.2m-3.6 0V1238.5m-3.6 0h7.2M756.2 1353.2h7.2m-3.6 0V1270.5m-3.6 0h7.2M762.3 1350.6h7.2m-3.6 0V1267.4m-3.6 0h7.2M768.3 1374.8h7.2m-3.6 0V1296.4m-3.6 0h7.2M774.4 1382.0h7.2m-3.6 0V1305.0m-3.6 0h7.2M780.5 1386.6h7.2m-3.6 0V1310.5m-3.6 0h7.2M786.5 1393.7h7.2m-3.6 0V1319.2m-3.6 0h7.2M792.6 1410.6h7.2m-3.6 0V1339.8m-3.6 0h7.2M798.7 1442.8h7.2m-3.6 0V1379.5m-3.6 0h7.2" stroke="#0000ff" stroke-width="2.1" fill="none"/><polyline points="711.2,1190.7 717.3,1206.8 723.4,1222.1 729.4,1236.5 735.5,1250.5 741.6,1264.4 747.7,1278.2 753.7,1291.8 759.8,1305.1 765.9,1317.9 771.9,1330.4 778.0,1342.8 784.1,1355.5 790.1,1369.0 796.2,1383.7 802.3,1399.7" stroke="#0000ff" stroke-width="2.3" fill="none" stroke-dasharray="8.5 3.7"/><path d="M404.1 1524.5h7.2m-3.6 0V1483.6m-3.6 0h7.2M410.2 1523.3h7.2m-3.6 0V1481.9m-3.6 0h7.2M416.3 1510.9h7.2m-3.6 0V1464.1m-3.6 0h7.2M422.3 1504.9h7.2m-3.6 0V1455.7m-3.6 0h7.2M428.4 1501.2h7.2m-3.6 0V1450.7m-3.6 0h7.2M434.5 1499.4h7.2m-3.6 0V1448.2m-3.6 0h7.2M440.6 1485.9h7.2m-3.6 0V1430.1m-3.6 0h7.2M446.6 1484.0h7.2m-3.6 0V1427.6m-3.6 0h7.2M452.7 1463.4h7.2m-3.6 0V1400.7m-3.6 0h7.2M458.8 1476.6h7.2m-3.6 0V1417.8m-3.6 0h7.2M464.8 1484.6h7.2m-3.6 0V1428.4m-3.6 0h7.2M470.9 1489.0h7.2m-3.6 0V1434.2m-3.6 0h7.2M477.0 1486.5h7.2m-3.6 0V1430.9m-3.6 0h7.2M483.0 1492.7h7.2m-3.6 0V1439.1m-3.6 0h7.2M489.1 1477.2h7.2m-3.6 0V1418.6m-3.6 0h7.2M495.2 1484.6h7.2m-3.6 0V1428.4m-3.6 0h7.2M501.3 1493.3h7.2m-3.6 0V1439.9m-3.6 0h7.2M507.3 1510.9h7.2m-3.6 0V1464.1m-3.6 0h7.2M513.4 1506.1h7.2m-3.6 0V1457.4m-3.6 0h7.2M519.5 1502.4h7.2m-3.6 0V1452.4m-3.6 0h7.2M525.5 1497.6h7.2m-3.6 0V1445.7m-3.6 0h7.2M531.6 1483.4h7.2m-3.6 0V1426.8m-3.6 0h7.2M537.7 1504.9h7.2m-3.6 0V1455.7m-3.6 0h7.2M543.7 1510.9h7.2m-3.6 0V1464.1m-3.6 0h7.2M549.8 1514.5h7.2m-3.6 0V1469.1m-3.6 0h7.2M555.9 1510.3h7.2m-3.6 0V1463.2m-3.6 0h7.2M562.0 1515.6h7.2m-3.6 0V1470.8m-3.6 0h7.2M568.0 1521.0h7.2m-3.6 0V1478.5m-3.6 0h7.2M574.1 1523.3h7.2m-3.6 0V1481.9m-3.6 0h7.2M580.2 1528.5h7.2m-3.6 0V1489.6m-3.6 0h7.2M586.2 1524.5h7.2m-3.6 0V1483.6m-3.6 0h7.2M592.3 1528.5h7.2m-3.6 0V1489.6m-3.6 0h7.2M598.4 1521.0h7.2m-3.6 0V1478.5m-3.6 0h7.2M604.4 1533.6h7.2m-3.6 0V1497.5m-3.6 0h7.2M610.5 1523.9h7.2m-3.6 0V1482.7m-3.6 0h7.2M616.6 1525.6h7.2m-3.6 0V1485.3m-3.6 0h7.2M622.7 1535.3h7.2m-3.6 0V1500.1m-3.6 0h7.2M628.7 1537.0h7.2m-3.6 0V1502.7m-3.6 0h7.2M634.8 1537.0h7.2m-3.6 0V1502.7m-3.6 0h7.2M640.9 1539.8h7.2m-3.6 0V1507.2m-3.6 0h7.2M646.9 1540.8h7.2m-3.6 0V1509.0m-3.6 0h7.2M653.0 1542.5h7.2m-3.6 0V1511.7m-3.6 0h7.2M659.1 1540.8h7.2m-3.6 0V1509.0m-3.6 0h7.2M665.1 1542.5h7.2m-3.6 0V1511.7m-3.6 0h7.2M671.2 1539.8h7.2m-3.6 0V1507.2m-3.6 0h7.2M677.3 1552.1h7.2m-3.6 0V1529.4m-3.6 0h7.2M683.4 1540.8h7.2m-3.6 0V1509.0m-3.6 0h7.2M689.4 1539.8h7.2m-3.6 0V1507.2m-3.6 0h7.2M695.5 1540.8h7.2m-3.6 0V1509.0m-3.6 0h7.2M701.6 1542.5h7.2m-3.6 0V1511.7m-3.6 0h7.2M707.6 1553.1h7.2m-3.6 0V1531.3m-3.6 0h7.2M713.7 1542.5h7.2m-3.6 0V1511.7m-3.6 0h7.2M719.8 1542.5h7.2m-3.6 0V1511.7m-3.6 0h7.2M725.8 1544.6h7.2m-3.6 0V1515.3m-3.6 0h7.2M731.9 1546.2h7.2m-3.6 0V1518.1m-3.6 0h7.2M738.0 1553.5h7.2m-3.6 0V1532.3m-3.6 0h7.2M744.1 1553.5h7.2m-3.6 0V1532.3m-3.6 0h7.2M750.1 1553.1h7.2m-3.6 0V1531.3m-3.6 0h7.2M756.2 1553.1h7.2m-3.6 0V1531.3m-3.6 0h7.2M762.3 1548.2h7.2m-3.6 0V1521.8m-3.6 0h7.2M768.3 1549.7h7.2m-3.6 0V1524.6m-3.6 0h7.2M774.4 1551.2h7.2m-3.6 0V1527.4m-3.6 0h7.2M780.5 1549.2h7.2m-3.6 0V1523.6m-3.6 0h7.2M786.5 1552.1h7.2m-3.6 0V1529.4m-3.6 0h7.2M792.6 1554.4h7.2m-3.6 0V1534.3m-3.6 0h7.2M798.7 1553.5h7.2m-3.6 0V1532.3m-3.6 0h7.2" stroke="#008000" stroke-width="2.1" fill="none"/><polyline points="407.7,1505.0 413.8,1498.5 419.9,1491.5 425.9,1484.4 432.0,1477.2 438.1,1470.1 444.2,1463.4 450.2,1457.8 456.3,1454.4 462.4,1453.5 468.4,1454.4 474.5,1456.2 480.6,1458.0 486.6,1459.8 492.7,1462.2 498.8,1465.5 504.9,1469.3 510.9,1472.6 517.0,1474.5 523.1,1475.2 529.1,1475.7 535.2,1477.0 541.3,1479.8 547.3,1483.5 553.4,1487.5 559.5,1491.4 565.6,1495.1 571.6,1498.4 577.7,1501.4 583.8,1503.6 589.8,1505.2 595.9,1506.3 602.0,1507.3 608.0,1508.5 614.1,1510.2 620.2,1512.5 626.3,1515.1 632.3,1517.8 638.4,1520.3 644.5,1522.4 650.5,1524.0 656.6,1525.4 662.7,1526.6 668.7,1527.7 674.8,1528.5 680.9,1528.9 687.0,1529.0 693.0,1529.1 699.1,1529.6 705.2,1530.3 711.2,1531.1 717.3,1531.8 723.4,1532.8 729.4,1534.3 735.5,1536.3 741.6,1538.2 747.7,1539.5 753.7,1540.0 759.8,1539.9 765.9,1539.4 771.9,1539.1 778.0,1539.2 784.1,1540.0 790.1,1541.1 796.2,1542.4 802.3,1543.8" stroke="#008000" stroke-width="2.3" fill="none" stroke-dasharray="8.5 3.7"/><path d="M404.1 1497.6h7.2m-3.6 0V1445.7m-3.6 0h7.2M410.2 1479.7h7.2m-3.6 0V1421.9m-3.6 0h7.2M416.3 1432.9h7.2m-3.6 0V1362.1m-3.6 0h7.2M422.3 1449.5h7.2m-3.6 0V1383.0m-3.6 0h7.2M428.4 1398.1h7.2m-3.6 0V1319.2m-3.6 0h7.2M434.5 1408.5h7.2m-3.6 0V1331.9m-3.6 0h7.2M440.6 1385.8h7.2m-3.6 0V1304.2m-3.6 0h7.2M446.6 1396.2h7.2m-3.6 0V1316.8m-3.6 0h7.2M452.7 1414.3h7.2m-3.6 0V1339.0m-3.6 0h7.2M458.8 1396.2h7.2m-3.6 0V1316.8m-3.6 0h7.2M464.8 1404.6h7.2m-3.6 0V1327.1m-3.6 0h7.2M470.9 1408.5h7.2m-3.6 0V1331.9m-3.6 0h7.2M477.0 1424.6h7.2m-3.6 0V1351.7m-3.6 0h7.2M483.0 1411.7h7.2m-3.6 0V1335.8m-3.6 0h7.2M489.1 1434.2h7.2m-3.6 0V1363.7m-3.6 0h7.2M495.2 1437.4h7.2m-3.6 0V1367.7m-3.6 0h7.2M501.3 1435.5h7.2m-3.6 0V1365.3m-3.6 0h7.2M507.3 1432.9h7.2m-3.6 0V1362.1m-3.6 0h7.2M513.4 1448.2h7.2m-3.6 0V1381.4m-3.6 0h7.2M519.5 1457.1h7.2m-3.6 0V1392.6m-3.6 0h7.2M525.5 1459.6h7.2m-3.6 0V1395.9m-3.6 0h7.2M531.6 1465.3h7.2m-3.6 0V1403.2m-3.6 0h7.2M537.7 1459.6h7.2m-3.6 0V1395.9m-3.6 0h7.2M543.7 1470.9h7.2m-3.6 0V1410.5m-3.6 0h7.2M549.8 1454.5h7.2m-3.6 0V1389.4m-3.6 0h7.2M555.9 1452.0h7.2m-3.6 0V1386.2m-3.6 0h7.2M562.0 1491.4h7.2m-3.6 0V1437.5m-3.6 0h7.2M568.0 1487.1h7.2m-3.6 0V1431.7m-3.6 0h7.2M574.1 1473.4h7.2m-3.6 0V1413.7m-3.6 0h7.2M580.2 1472.8h7.2m-3.6 0V1412.9m-3.6 0h7.2M586.2 1473.4h7.2m-3.6 0V1413.7m-3.6 0h7.2M592.3 1484.0h7.2m-3.6 0V1427.6m-3.6 0h7.2M598.4 1484.6h7.2m-3.6 0V1428.4m-3.6 0h7.2M604.4 1489.0h7.2m-3.6 0V1434.2m-3.6 0h7.2M610.5 1493.9h7.2m-3.6 0V1440.8m-3.6 0h7.2M616.6 1499.4h7.2m-3.6 0V1448.2m-3.6 0h7.2M622.7 1495.7h7.2m-3.6 0V1443.2m-3.6 0h7.2M628.7 1507.9h7.2m-3.6 0V1459.9m-3.6 0h7.2M634.8 1507.9h7.2m-3.6 0V1459.9m-3.6 0h7.2M640.9 1506.1h7.2m-3.6 0V1457.4m-3.6 0h7.2M646.9 1518.0h7.2m-3.6 0V1474.2m-3.6 0h7.2M653.0 1512.7h7.2m-3.6 0V1466.6m-3.6 0h7.2M659.1 1515.1h7.2m-3.6 0V1470.0m-3.6 0h7.2M665.1 1510.3h7.2m-3.6 0V1463.2m-3.6 0h7.2M671.2 1510.3h7.2m-3.6 0V1463.2m-3.6 0h7.2M677.3 1522.1h7.2m-3.6 0V1480.2m-3.6 0h7.2M683.4 1525.6h7.2m-3.6 0V1485.3m-3.6 0h7.2M689.4 1527.4h7.2m-3.6 0V1487.9m-3.6 0h7.2M695.5 1530.2h7.2m-3.6 0V1492.2m-3.6 0h7.2M701.6 1525.6h7.2m-3.6 0V1485.3m-3.6 0h7.2M707.6 1523.9h7.2m-3.6 0V1482.7m-3.6 0h7.2M713.7 1522.1h7.2m-3.6 0V1480.2m-3.6 0h7.2M719.8 1530.2h7.2m-3.6 0V1492.2m-3.6 0h7.2M725.8 1530.2h7.2m-3.6 0V1492.2m-3.6 0h7.2M731.9 1535.3h7.2m-3.6 0V1500.1m-3.6 0h7.2M738.0 1536.4h7.2m-3.6 0V1501.9m-3.6 0h7.2M744.1 1528.5h7.2m-3.6 0V1489.6m-3.6 0h7.2M750.1 1534.8h7.2m-3.6 0V1499.2m-3.6 0h7.2M756.2 1533.6h7.2m-3.6 0V1497.5m-3.6 0h7.2M762.3 1538.1h7.2m-3.6 0V1504.5m-3.6 0h7.2M768.3 1542.5h7.2m-3.6 0V1511.7m-3.6 0h7.2M774.4 1544.6h7.2m-3.6 0V1515.3m-3.6 0h7.2M780.5 1540.8h7.2m-3.6 0V1509.0m-3.6 0h7.2M786.5 1539.2h7.2m-3.6 0V1506.3m-3.6 0h7.2M792.6 1538.1h7.2m-3.6 0V1504.5m-3.6 0h7.2M798.7 1540.8h7.2m-3.6 0V1509.0m-3.6 0h7.2" stroke="#ff0000" stroke-width="2.1" fill="none"/><polyline points="407.7,1467.1 413.8,1447.0 419.9,1426.5 425.9,1407.1 432.0,1390.2 438.1,1377.3 444.2,1369.1 450.2,1365.4 456.3,1365.1 462.4,1367.1 468.4,1370.6 474.5,1375.2 480.6,1380.5 486.6,1386.3 492.7,1391.9 498.8,1397.4 504.9,1402.8 510.9,1408.4 517.0,1414.2 523.1,1419.7 529.1,1424.4 535.2,1428.0 541.3,1430.7 547.3,1433.2 553.4,1436.3 559.5,1440.1 565.6,1443.8 571.6,1446.6 577.7,1448.4 583.8,1449.7 589.8,1451.6 595.9,1454.5 602.0,1458.3 608.0,1462.6 614.1,1467.0 620.2,1471.3 626.3,1475.4 632.3,1479.3 638.4,1482.8 644.5,1485.7 650.5,1488.0 656.6,1489.7 662.7,1491.2 668.7,1493.1 674.8,1495.8 680.9,1498.9 687.0,1502.0 693.0,1504.3 699.1,1505.6 705.2,1506.4 711.2,1507.0 717.3,1508.2 723.4,1509.9 729.4,1511.8 735.5,1513.5 741.6,1514.9 747.7,1516.1 753.7,1517.6 759.8,1519.5 765.9,1521.6 771.9,1523.3 778.0,1524.4 784.1,1524.6 790.1,1524.2 796.2,1523.6 802.3,1523.1" stroke="#ff0000" stroke-width="2.3" fill="none" stroke-dasharray="8.5 3.7"/><path d="M404.1 1405.2h7.2m-3.6 0V1327.9m-3.6 0h7.2M410.2 1321.5h7.2m-3.6 0V1227.3m-3.6 0h7.2M416.3 1277.8h7.2m-3.6 0V1176.0m-3.6 0h7.2M428.4 1230.5h7.2m-3.6 0V1121.1m-3.6 0h7.2M434.5 1243.8h7.2m-3.6 0V1136.6m-3.6 0h7.2M446.6 1210.4h7.2m-3.6 0V1098.0m-3.6 0h7.2M452.7 1203.7h7.2m-3.6 0V1090.3m-3.6 0h7.2M458.8 1203.7h7.2m-3.6 0V1090.3m-3.6 0h7.2M464.8 1230.5h7.2m-3.6 0V1121.1m-3.6 0h7.2M470.9 1217.1h7.2m-3.6 0V1105.7m-3.6 0h7.2M477.0 1255.8h7.2m-3.6 0V1150.5m-3.6 0h7.2M483.0 1271.2h7.2m-3.6 0V1168.3m-3.6 0h7.2M489.1 1254.5h7.2m-3.6 0V1148.9m-3.6 0h7.2M495.2 1262.5h7.2m-3.6 0V1158.2m-3.6 0h7.2M501.3 1259.8h7.2m-3.6 0V1155.1m-3.6 0h7.2M507.3 1275.1h7.2m-3.6 0V1172.9m-3.6 0h7.2M513.4 1284.4h7.2m-3.6 0V1183.8m-3.6 0h7.2M519.5 1304.3h7.2m-3.6 0V1207.1m-3.6 0h7.2M525.5 1307.6h7.2m-3.6 0V1211.0m-3.6 0h7.2M531.6 1310.9h7.2m-3.6 0V1214.9m-3.6 0h7.2M537.7 1366.2h7.2m-3.6 0V1280.5m-3.6 0h7.2M543.7 1338.0h7.2m-3.6 0V1246.8m-3.6 0h7.2M549.8 1370.1h7.2m-3.6 0V1285.3m-3.6 0h7.2M555.9 1368.8h7.2m-3.6 0V1283.7m-3.6 0h7.2M562.0 1360.3h7.2m-3.6 0V1273.5m-3.6 0h7.2M568.0 1370.8h7.2m-3.6 0V1286.0m-3.6 0h7.2M574.1 1422.6h7.2m-3.6 0V1349.3m-3.6 0h7.2M580.2 1402.6h7.2m-3.6 0V1324.7m-3.6 0h7.2M586.2 1392.9h7.2m-3.6 0V1312.8m-3.6 0h7.2M592.3 1404.6h7.2m-3.6 0V1327.1m-3.6 0h7.2M598.4 1409.7h7.2m-3.6 0V1333.4m-3.6 0h7.2M604.4 1432.9h7.2m-3.6 0V1362.1m-3.6 0h7.2M610.5 1402.6h7.2m-3.6 0V1324.7m-3.6 0h7.2M616.6 1451.4h7.2m-3.6 0V1385.4m-3.6 0h7.2M622.7 1422.0h7.2m-3.6 0V1348.5m-3.6 0h7.2M628.7 1442.5h7.2m-3.6 0V1374.1m-3.6 0h7.2M634.8 1426.5h7.2m-3.6 0V1354.1m-3.6 0h7.2M640.9 1453.9h7.2m-3.6 0V1388.6m-3.6 0h7.2M646.9 1462.8h7.2m-3.6 0V1399.9m-3.6 0h7.2M653.0 1457.1h7.2m-3.6 0V1392.6m-3.6 0h7.2M659.1 1453.9h7.2m-3.6 0V1388.6m-3.6 0h7.2M665.1 1466.5h7.2m-3.6 0V1404.8m-3.6 0h7.2M671.2 1477.8h7.2m-3.6 0V1419.4m-3.6 0h7.2M677.3 1480.3h7.2m-3.6 0V1422.7m-3.6 0h7.2M683.4 1485.9h7.2m-3.6 0V1430.1m-3.6 0h7.2M689.4 1489.0h7.2m-3.6 0V1434.2m-3.6 0h7.2M695.5 1491.4h7.2m-3.6 0V1437.5m-3.6 0h7.2M701.6 1493.9h7.2m-3.6 0V1440.8m-3.6 0h7.2M707.6 1493.3h7.2m-3.6 0V1439.9m-3.6 0h7.2M713.7 1495.7h7.2m-3.6 0V1443.2m-3.6 0h7.2M719.8 1504.9h7.2m-3.6 0V1455.7m-3.6 0h7.2M725.8 1506.7h7.2m-3.6 0V1458.2m-3.6 0h7.2M731.9 1514.5h7.2m-3.6 0V1469.1m-3.6 0h7.2M738.0 1501.2h7.2m-3.6 0V1450.7m-3.6 0h7.2M744.1 1510.9h7.2m-3.6 0V1464.1m-3.6 0h7.2M750.1 1514.5h7.2m-3.6 0V1469.1m-3.6 0h7.2M756.2 1501.2h7.2m-3.6 0V1450.7m-3.6 0h7.2M762.3 1506.1h7.2m-3.6 0V1457.4m-3.6 0h7.2M768.3 1511.5h7.2m-3.6 0V1464.9m-3.6 0h7.2M774.4 1526.2h7.2m-3.6 0V1486.2m-3.6 0h7.2M780.5 1515.6h7.2m-3.6 0V1470.8m-3.6 0h7.2M786.5 1519.8h7.2m-3.6 0V1476.8m-3.6 0h7.2M792.6 1531.9h7.2m-3.6 0V1494.8m-3.6 0h7.2M798.7 1527.9h7.2m-3.6 0V1488.8m-3.6 0h7.2" stroke="#00bfbf" stroke-width="2.1" fill="none"/><polyline points="407.7,1351.3 413.8,1295.8 419.9,1244.6 425.9,1205.0 432.0,1179.0" stroke="#00bfbf" stroke-width="2.3" fill="none" stroke-dasharray="8.5 3.7"/><polyline points="480.6,1191.9 486.6,1200.9 492.7,1207.1 498.8,1212.1 504.9,1218.4 510.9,1227.3 517.0,1238.6 523.1,1251.6 529.1,1265.8 535.2,1280.6 541.3,1294.7 547.3,1306.5 553.4,1316.0 559.5,1324.5 565.6,1333.9 571.6,1344.4 577.7,1353.9 583.8,1360.6 589.8,1365.2 595.9,1369.9 602.0,1375.8 608.0,1382.4 614.1,1388.6 620.2,1393.9 626.3,1398.4 632.3,1403.0 638.4,1408.7 644.5,1415.2 650.5,1421.2 656.6,1426.4 662.7,1431.7 668.7,1437.8 674.8,1444.6 680.9,1450.9 687.0,1456.1 693.0,1460.3 699.1,1463.6 705.2,1466.6 711.2,1469.8 717.3,1473.6 723.4,1477.7 729.4,1481.1 735.5,1483.3 741.6,1484.4 747.7,1484.8 753.7,1485.1 759.8,1485.8 765.9,1488.0 771.9,1491.6 778.0,1495.7 784.1,1499.6 790.1,1503.4 796.2,1507.3 802.3,1510.9" stroke="#00bfbf" stroke-width="2.3" fill="none" stroke-dasharray="8.5 3.7"/><path d="M543.7 1217.1h7.2m-3.6 0V1105.7m-3.6 0h7.2M555.9 1210.4h7.2m-3.6 0V1098.0m-3.6 0h7.2M562.0 1210.4h7.2m-3.6 0V1098.0m-3.6 0h7.2M568.0 1223.8h7.2m-3.6 0V1113.4m-3.6 0h7.2M574.1 1258.5h7.2m-3.6 0V1153.6m-3.6 0h7.2M580.2 1271.8h7.2m-3.6 0V1169.0m-3.6 0h7.2M586.2 1287.8h7.2m-3.6 0V1187.7m-3.6 0h7.2M592.3 1283.8h7.2m-3.6 0V1183.0m-3.6 0h7.2M598.4 1297.0h7.2m-3.6 0V1198.5m-3.6 0h7.2M604.4 1343.2h7.2m-3.6 0V1253.1m-3.6 0h7.2M610.5 1305.6h7.2m-3.6 0V1208.6m-3.6 0h7.2M616.6 1353.1h7.2m-3.6 0V1264.8m-3.6 0h7.2M622.7 1365.5h7.2m-3.6 0V1279.8m-3.6 0h7.2M628.7 1337.3h7.2m-3.6 0V1246.1m-3.6 0h7.2M634.8 1351.1h7.2m-3.6 0V1262.5m-3.6 0h7.2M640.9 1368.1h7.2m-3.6 0V1282.9m-3.6 0h7.2M646.9 1401.3h7.2m-3.6 0V1323.1m-3.6 0h7.2M653.0 1412.3h7.2m-3.6 0V1336.6m-3.6 0h7.2M659.1 1398.1h7.2m-3.6 0V1319.2m-3.6 0h7.2M665.1 1430.3h7.2m-3.6 0V1358.9m-3.6 0h7.2M671.2 1414.3h7.2m-3.6 0V1339.0m-3.6 0h7.2M677.3 1432.9h7.2m-3.6 0V1362.1m-3.6 0h7.2M683.4 1422.0h7.2m-3.6 0V1348.5m-3.6 0h7.2M689.4 1402.6h7.2m-3.6 0V1324.7m-3.6 0h7.2M695.5 1421.3h7.2m-3.6 0V1347.7m-3.6 0h7.2M701.6 1431.6h7.2m-3.6 0V1360.5m-3.6 0h7.2M707.6 1444.4h7.2m-3.6 0V1376.5m-3.6 0h7.2M713.7 1454.5h7.2m-3.6 0V1389.4m-3.6 0h7.2M719.8 1470.3h7.2m-3.6 0V1409.6m-3.6 0h7.2M725.8 1469.7h7.2m-3.6 0V1408.8m-3.6 0h7.2M731.9 1453.9h7.2m-3.6 0V1388.6m-3.6 0h7.2M738.0 1470.3h7.2m-3.6 0V1409.6m-3.6 0h7.2M744.1 1468.4h7.2m-3.6 0V1407.2m-3.6 0h7.2M750.1 1481.5h7.2m-3.6 0V1424.3m-3.6 0h7.2M756.2 1489.0h7.2m-3.6 0V1434.2m-3.6 0h7.2M762.3 1458.3h7.2m-3.6 0V1394.3m-3.6 0h7.2M768.3 1479.7h7.2m-3.6 0V1421.9m-3.6 0h7.2M774.4 1484.0h7.2m-3.6 0V1427.6m-3.6 0h7.2M780.5 1495.7h7.2m-3.6 0V1443.2m-3.6 0h7.2M786.5 1479.0h7.2m-3.6 0V1421.1m-3.6 0h7.2M792.6 1496.9h7.2m-3.6 0V1444.9m-3.6 0h7.2M798.7 1506.7h7.2m-3.6 0V1458.2m-3.6 0h7.2" stroke="#bf00bf" stroke-width="2.1" fill="none"/><polyline points="571.6,1181.2 577.7,1198.7 583.8,1215.5 589.8,1230.5 595.9,1244.5 602.0,1258.4 608.0,1272.0 614.1,1284.4 620.2,1295.0 626.3,1303.5 632.3,1311.5 638.4,1321.9 644.5,1335.4 650.5,1349.7 656.6,1362.2 662.7,1371.7 668.7,1378.3 674.8,1382.3 680.9,1383.8 687.0,1384.1 693.0,1385.7 699.1,1391.0 705.2,1399.9 711.2,1410.6 717.3,1420.4 723.4,1427.6 729.4,1432.1 735.5,1435.2 741.6,1438.5 747.7,1442.3 753.7,1445.6 759.8,1447.6 765.9,1449.2 771.9,1451.8 778.0,1455.7 784.1,1460.2 790.1,1465.3 796.2,1471.5 802.3,1479.5" stroke="#bf00bf" stroke-width="2.3" fill="none" stroke-dasharray="8.5 3.7"/><path d="M610.5 1203.7h7.2m-3.6 0V1090.3m-3.6 0h7.2M616.6 1230.5h7.2m-3.6 0V1121.1m-3.6 0h7.2M622.7 1254.5h7.2m-3.6 0V1148.9m-3.6 0h7.2M628.7 1263.2h7.2m-3.6 0V1159.0m-3.6 0h7.2M634.8 1277.1h7.2m-3.6 0V1175.2m-3.6 0h7.2M640.9 1293.1h7.2m-3.6 0V1193.9m-3.6 0h7.2M646.9 1298.4h7.2m-3.6 0V1200.1m-3.6 0h7.2M653.0 1318.9h7.2m-3.6 0V1224.2m-3.6 0h7.2M659.1 1349.8h7.2m-3.6 0V1260.9m-3.6 0h7.2M665.1 1316.2h7.2m-3.6 0V1221.1m-3.6 0h7.2M671.2 1312.3h7.2m-3.6 0V1216.4m-3.6 0h7.2M677.3 1366.8h7.2m-3.6 0V1281.3m-3.6 0h7.2M683.4 1353.1h7.2m-3.6 0V1264.8m-3.6 0h7.2M689.4 1351.1h7.2m-3.6 0V1262.5m-3.6 0h7.2M695.5 1370.1h7.2m-3.6 0V1285.3m-3.6 0h7.2M701.6 1401.3h7.2m-3.6 0V1323.1m-3.6 0h7.2M707.6 1388.4h7.2m-3.6 0V1307.3m-3.6 0h7.2M713.7 1396.2h7.2m-3.6 0V1316.8m-3.6 0h7.2M719.8 1400.0h7.2m-3.6 0V1321.5m-3.6 0h7.2M725.8 1408.5h7.2m-3.6 0V1331.9m-3.6 0h7.2M731.9 1420.1h7.2m-3.6 0V1346.2m-3.6 0h7.2M738.0 1429.1h7.2m-3.6 0V1357.3m-3.6 0h7.2M744.1 1409.7h7.2m-3.6 0V1333.4m-3.6 0h7.2M750.1 1441.2h7.2m-3.6 0V1372.5m-3.6 0h7.2M756.2 1441.2h7.2m-3.6 0V1372.5m-3.6 0h7.2M762.3 1449.5h7.2m-3.6 0V1383.0m-3.6 0h7.2M768.3 1446.9h7.2m-3.6 0V1379.7m-3.6 0h7.2M774.4 1450.1h7.2m-3.6 0V1383.8m-3.6 0h7.2M780.5 1452.6h7.2m-3.6 0V1387.0m-3.6 0h7.2M786.5 1470.9h7.2m-3.6 0V1410.5m-3.6 0h7.2M792.6 1468.4h7.2m-3.6 0V1407.2m-3.6 0h7.2M798.7 1461.5h7.2m-3.6 0V1398.3m-3.6 0h7.2" stroke="#bfbf00" stroke-width="2.1" fill="none"/><polyline points="626.3,1194.2 632.3,1211.3 638.4,1227.0 644.5,1241.9 650.5,1255.9 656.6,1267.9 662.7,1277.1 668.7,1284.4 674.8,1292.1 680.9,1301.1 687.0,1311.0 693.0,1321.5 699.1,1332.5 705.2,1342.6 711.2,1351.0 717.3,1358.0 723.4,1364.8 729.4,1371.9 735.5,1378.8 741.6,1385.3 747.7,1391.9 753.7,1398.8 759.8,1405.4 765.9,1411.0 771.9,1415.7 778.0,1420.5 784.1,1425.8 790.1,1430.7 796.2,1434.1 802.3,1434.7" stroke="#bfbf00" stroke-width="2.3" fill="none" stroke-dasharray="8.5 3.7"/></g><rect x="388.20" y="1197.40" width="435.00" height="359.90" fill="none" stroke="#000" stroke-width="1.3"/><path d="M404.7 1557.3v5.9M465.4 1557.3v5.9M526.1 1557.3v5.9M586.8 1557.3v5.9M647.5 1557.3v5.9M708.2 1557.3v5.9M768.9 1557.3v5.9M388.2 1557.3h-5.9M388.2 1485.3h-5.9M388.2 1413.3h-5.9M388.2 1341.4h-5.9M388.2 1269.4h-5.9M388.2 1197.4h-5.9" stroke="#000" stroke-width="1.3" fill="none"/><g font-family="'DejaVu Sans', 'Liberation Sans', sans-serif" font-size="16.8" fill="#000"><text x="404.7" y="1582.1" text-anchor="middle">0</text><text x="465.4" y="1582.1" text-anchor="middle">1</text><text x="526.1" y="1582.1" text-anchor="middle">2</text><text x="586.8" y="1582.1" text-anchor="middle">3</text><text x="647.5" y="1582.1" text-anchor="middle">4</text><text x="708.2" y="1582.1" text-anchor="middle">5</text><text x="768.9" y="1582.1" text-anchor="middle">6</text><text x="376.5" y="1564.5" text-anchor="end">0</text><text x="376.5" y="1492.5" text-anchor="end">1</text><text x="376.5" y="1420.5" text-anchor="end">2</text><text x="376.5" y="1348.6" text-anchor="end">3</text><text x="376.5" y="1276.6" text-anchor="end">4</text><text x="376.5" y="1204.6" text-anchor="end">5</text></g><text transform="translate(469.0,980.9) scale(0.981,1)" text-anchor="middle" font-family="'DejaVu Sans', 'Liberation Sans', sans-serif" font-weight="bold" font-size="25" fill="#000" xml:space="preserve">Tungsten Filament Shield</text><text transform="translate(469.0,1008.0) scale(0.981,1)" text-anchor="middle" font-family="'DejaVu Sans', 'Liberation Sans', sans-serif" font-weight="bold" font-size="25" fill="#000" xml:space="preserve">Ellipsoid Applicators</text><text transform="translate(468.0,1795.5) scale(0.994,1)" text-anchor="middle" font-family="'DejaVu Sans', 'Liberation Sans', sans-serif" font-weight="bold" font-size="24.6" fill="#000">Distance from Applicator Surface (cm)</text><text transform="translate(41.4,1379.3) rotate(-90)" x="0" y="0" text-anchor="middle" font-family="'DejaVu Sans', 'Liberation Sans', sans-serif" font-weight="bold" font-size="24.6" fill="#000">PDD (%)</text><text x="378.4" y="1881.5" text-anchor="middle" font-family="'Liberation Serif', 'DejaVu Serif', serif" font-size="47.5" fill="#000">(g)</text><rect x="997.60" y="1017.30" width="724.60" height="720.00" fill="#fff"/><g clip-path="url(#c7)"><path d="M1030.4 1072.6h0M1040.5 1125.1h0M1050.6 1181.4h0M1060.7 1223.7h0M1070.8 1264.8h0M1081.0 1293.9h0M1091.1 1328.1h0M1101.2 1348.3h0M1111.3 1379.9h0M1121.4 1397.0h0M1131.6 1428.0h0M1141.7 1443.8h0M1151.8 1464.7h0M1161.9 1476.7h0M1172.0 1484.3h0M1182.2 1503.9h0M1192.3 1514.6h0M1202.4 1524.8h0M1212.5 1533.6h0M1222.6 1548.2h0M1232.8 1551.3h0M1242.9 1569.0h0M1253.0 1576.6h0M1263.1 1576.6h0M1273.2 1584.8h0M1283.4 1593.7h0M1293.5 1599.4h0M1303.6 1604.4h0M1313.7 1608.9h0M1323.8 1617.7h0M1334.0 1620.3h0M1344.1 1622.8h0M1354.2 1621.5h0M1364.3 1632.9h0M1374.4 1631.6h0M1384.6 1639.2h0M1394.7 1646.8h0M1404.8 1652.5h0M1414.9 1652.5h0M1425.0 1650.0h0M1435.2 1653.8h0M1445.3 1658.8h0M1455.4 1659.5h0M1465.5 1662.6h0M1475.6 1662.0h0M1485.8 1662.6h0M1495.9 1668.3h0M1506.0 1669.6h0M1516.1 1670.2h0M1526.2 1669.6h0M1536.4 1669.6h0M1546.5 1678.1h0M1556.6 1675.8h0M1566.7 1676.0h0M1576.8 1676.7h0M1587.0 1679.3h0M1597.1 1681.2h0M1607.2 1680.8h0M1617.3 1683.4h0M1627.4 1683.2h0M1637.6 1685.5h0M1647.7 1686.2h0M1657.8 1686.7h0M1667.9 1687.4h0M1678.0 1689.0h0M1688.2 1692.2h0" stroke="#0000ff" stroke-width="11.4" stroke-linecap="round"/><path d="M1030.4 1686.2h0M1040.5 1678.0h0M1050.6 1673.6h0M1060.7 1672.6h0M1070.8 1671.7h0M1081.0 1674.5h0M1091.1 1669.4h0M1101.2 1662.8h0M1111.3 1663.4h0M1121.4 1667.1h0M1131.6 1670.4h0M1141.7 1675.7h0M1151.8 1669.9h0M1161.9 1675.8h0M1172.0 1676.7h0M1182.2 1678.3h0M1192.3 1678.2h0M1202.4 1680.5h0M1212.5 1680.4h0M1222.6 1683.6h0M1232.8 1682.8h0M1242.9 1677.1h0M1253.0 1683.8h0M1263.1 1684.9h0M1273.2 1684.1h0M1283.4 1684.5h0M1293.5 1688.5h0M1303.6 1687.5h0M1313.7 1686.1h0M1323.8 1687.8h0M1334.0 1688.6h0M1344.1 1686.7h0M1354.2 1690.8h0M1364.3 1690.2h0M1374.4 1691.5h0M1384.6 1689.0h0M1394.7 1694.1h0M1404.8 1693.0h0M1414.9 1693.3h0M1425.0 1692.3h0M1435.2 1692.8h0M1445.3 1692.3h0M1455.4 1695.9h0M1465.5 1694.0h0M1475.6 1695.4h0M1485.8 1696.1h0M1495.9 1695.3h0M1506.0 1696.9h0M1516.1 1698.1h0M1526.2 1697.1h0M1536.4 1698.2h0M1546.5 1697.9h0M1556.6 1697.4h0M1566.7 1697.7h0M1576.8 1697.1h0M1587.0 1698.6h0M1597.1 1699.6h0M1607.2 1699.4h0M1617.3 1699.8h0M1627.4 1700.1h0M1637.6 1699.5h0M1647.7 1700.3h0M1657.8 1701.1h0M1667.9 1700.1h0M1678.0 1700.7h0M1688.2 1700.7h0" stroke="#008000" stroke-width="11.4" stroke-linecap="round"/><path d="M1030.4 1688.2h0M1040.5 1675.4h0M1050.6 1673.3h0M1060.7 1666.4h0M1070.8 1668.0h0M1081.0 1667.5h0M1091.1 1667.8h0M1101.2 1674.7h0M1111.3 1671.4h0M1121.4 1672.6h0M1131.6 1672.1h0M1141.7 1677.7h0M1151.8 1669.3h0M1161.9 1675.3h0M1172.0 1679.8h0M1182.2 1681.8h0M1192.3 1679.2h0M1202.4 1679.6h0M1212.5 1681.9h0M1222.6 1680.9h0M1232.8 1683.4h0M1242.9 1681.5h0M1253.0 1685.1h0M1263.1 1684.5h0M1273.2 1683.1h0M1283.4 1680.3h0M1293.5 1688.3h0M1303.6 1688.0h0M1313.7 1689.1h0M1323.8 1686.9h0M1334.0 1690.6h0M1344.1 1690.1h0M1354.2 1689.9h0M1364.3 1691.7h0M1374.4 1692.0h0M1384.6 1691.9h0M1394.7 1694.2h0M1404.8 1693.9h0M1414.9 1693.1h0M1425.0 1692.9h0M1435.2 1693.7h0M1445.3 1695.8h0M1455.4 1694.9h0M1465.5 1693.9h0M1475.6 1694.6h0M1485.8 1695.6h0M1495.9 1696.6h0M1506.0 1695.6h0M1516.1 1697.0h0M1526.2 1697.7h0M1536.4 1697.7h0M1546.5 1696.2h0M1556.6 1697.5h0M1566.7 1697.1h0M1576.8 1698.5h0M1587.0 1697.9h0M1597.1 1699.1h0M1607.2 1699.1h0M1617.3 1697.6h0M1627.4 1699.1h0M1637.6 1700.0h0M1647.7 1700.0h0M1657.8 1700.0h0M1667.9 1699.8h0M1678.0 1700.8h0M1688.2 1701.5h0" stroke="#ff0000" stroke-width="11.4" stroke-linecap="round"/><path d="M1030.4 1685.4h0M1040.5 1677.1h0M1050.6 1673.0h0M1060.7 1666.0h0M1070.8 1668.4h0M1081.0 1665.9h0M1091.1 1673.0h0M1101.2 1666.7h0M1111.3 1662.9h0M1121.4 1669.1h0M1131.6 1671.9h0M1141.7 1673.2h0M1151.8 1668.7h0M1161.9 1678.2h0M1172.0 1676.9h0M1182.2 1676.2h0M1192.3 1676.4h0M1202.4 1680.5h0M1212.5 1679.4h0M1222.6 1681.8h0M1232.8 1681.6h0M1242.9 1683.1h0M1253.0 1685.9h0M1263.1 1684.4h0M1273.2 1683.3h0M1283.4 1687.6h0M1293.5 1687.0h0M1303.6 1685.9h0M1313.7 1689.5h0M1323.8 1688.0h0M1334.0 1690.4h0M1344.1 1687.4h0M1354.2 1685.9h0M1364.3 1687.0h0M1374.4 1691.0h0M1384.6 1690.2h0M1394.7 1691.5h0M1404.8 1692.0h0M1414.9 1690.6h0M1425.0 1694.6h0M1435.2 1692.2h0M1445.3 1694.0h0M1455.4 1692.8h0M1465.5 1694.6h0M1475.6 1695.8h0M1485.8 1695.2h0M1495.9 1695.1h0M1506.0 1696.1h0M1516.1 1696.1h0M1526.2 1697.2h0M1536.4 1698.6h0M1546.5 1696.7h0M1556.6 1697.1h0M1566.7 1697.8h0M1576.8 1698.2h0M1587.0 1697.8h0M1597.1 1699.0h0M1607.2 1699.4h0M1617.3 1699.4h0M1627.4 1698.8h0M1637.6 1700.4h0M1647.7 1699.3h0M1657.8 1700.5h0M1667.9 1700.9h0M1678.0 1700.0h0M1688.2 1700.9h0" stroke="#00bfbf" stroke-width="11.4" stroke-linecap="round"/><path d="M1030.4 1683.2h0M1040.5 1678.2h0M1050.6 1670.3h0M1060.7 1666.5h0M1070.8 1671.1h0M1081.0 1667.5h0M1091.1 1666.6h0M1101.2 1672.1h0M1111.3 1669.6h0M1121.4 1671.9h0M1131.6 1674.4h0M1141.7 1675.2h0M1151.8 1674.4h0M1161.9 1675.5h0M1172.0 1678.1h0M1182.2 1678.6h0M1192.3 1675.3h0M1202.4 1678.8h0M1212.5 1677.9h0M1222.6 1678.0h0M1232.8 1680.5h0M1242.9 1677.1h0M1253.0 1685.3h0M1263.1 1682.7h0M1273.2 1685.8h0M1283.4 1682.0h0M1293.5 1683.1h0M1303.6 1690.3h0M1313.7 1689.3h0M1323.8 1687.1h0M1334.0 1687.5h0M1344.1 1688.1h0M1354.2 1689.9h0M1364.3 1689.6h0M1374.4 1689.8h0M1384.6 1691.3h0M1394.7 1690.3h0M1404.8 1694.8h0M1414.9 1691.8h0M1425.0 1694.3h0M1435.2 1692.4h0M1445.3 1694.2h0M1455.4 1695.3h0M1465.5 1694.4h0M1475.6 1696.0h0M1485.8 1696.3h0M1495.9 1697.2h0M1506.0 1696.2h0M1516.1 1696.1h0M1526.2 1695.9h0M1536.4 1697.2h0M1546.5 1696.6h0M1556.6 1697.7h0M1566.7 1698.0h0M1576.8 1697.8h0M1587.0 1697.8h0M1597.1 1699.0h0M1607.2 1699.1h0M1617.3 1699.3h0M1627.4 1699.5h0M1637.6 1700.2h0M1647.7 1699.4h0M1657.8 1700.4h0M1667.9 1700.2h0M1678.0 1701.0h0M1688.2 1700.7h0" stroke="#bf00bf" stroke-width="11.4" stroke-linecap="round"/><path d="M1030.4 1685.2h0M1040.5 1678.3h0M1050.6 1666.3h0M1060.7 1669.6h0M1070.8 1662.7h0M1081.0 1665.3h0M1091.1 1671.6h0M1101.2 1671.2h0M1111.3 1669.3h0M1121.4 1671.6h0M1131.6 1672.6h0M1141.7 1674.6h0M1151.8 1679.7h0M1161.9 1676.2h0M1172.0 1682.2h0M1182.2 1676.4h0M1192.3 1680.3h0M1202.4 1681.2h0M1212.5 1680.7h0M1222.6 1680.4h0M1232.8 1685.0h0M1242.9 1686.4h0M1253.0 1685.8h0M1263.1 1688.2h0M1273.2 1687.0h0M1283.4 1682.6h0M1293.5 1688.4h0M1303.6 1686.0h0M1313.7 1689.9h0M1323.8 1687.8h0M1334.0 1689.3h0M1344.1 1689.4h0M1354.2 1688.9h0M1364.3 1687.5h0M1374.4 1690.5h0M1384.6 1691.0h0M1394.7 1692.9h0M1404.8 1691.4h0M1414.9 1692.9h0M1425.0 1692.0h0M1435.2 1693.6h0M1445.3 1691.9h0M1455.4 1696.3h0M1465.5 1695.1h0M1475.6 1694.2h0M1485.8 1695.8h0M1495.9 1696.5h0M1506.0 1696.4h0M1516.1 1697.6h0M1526.2 1696.7h0M1536.4 1694.9h0M1546.5 1696.5h0M1556.6 1698.4h0M1566.7 1698.5h0M1576.8 1698.5h0M1587.0 1697.8h0M1597.1 1699.2h0M1607.2 1699.4h0M1617.3 1698.7h0M1627.4 1699.0h0M1637.6 1699.9h0M1647.7 1700.5h0M1657.8 1700.9h0M1667.9 1700.7h0M1678.0 1701.5h0M1688.2 1700.5h0" stroke="#bfbf00" stroke-width="11.4" stroke-linecap="round"/><path d="M1030.4 1650.0h0M1040.5 1643.7h0M1050.6 1645.6h0M1060.7 1639.9h0M1070.8 1641.1h0M1081.0 1645.6h0M1091.1 1643.7h0M1101.2 1650.0h0M1111.3 1644.3h0M1121.4 1650.0h0M1131.6 1648.7h0M1141.7 1653.1h0M1151.8 1648.7h0M1161.9 1651.9h0M1172.0 1657.6h0M1182.2 1662.0h0M1192.3 1655.7h0M1202.4 1658.8h0M1212.5 1663.9h0M1222.6 1667.7h0M1232.8 1667.7h0M1242.9 1663.9h0M1253.0 1667.7h0M1263.1 1666.4h0M1273.2 1672.1h0M1283.4 1675.2h0M1293.5 1674.2h0M1303.6 1678.6h0M1313.7 1679.0h0M1323.8 1678.4h0M1334.0 1677.4h0M1344.1 1681.7h0M1354.2 1679.3h0M1364.3 1681.3h0M1374.4 1679.6h0M1384.6 1685.1h0M1394.7 1686.7h0M1404.8 1684.4h0M1414.9 1684.0h0M1425.0 1685.5h0M1435.2 1688.2h0M1445.3 1686.7h0M1455.4 1689.4h0M1465.5 1688.9h0M1475.6 1689.6h0M1485.8 1690.3h0M1495.9 1690.3h0M1506.0 1691.2h0M1516.1 1691.0h0M1526.2 1690.1h0M1536.4 1692.3h0M1546.5 1694.1h0M1556.6 1693.1h0M1566.7 1693.2h0M1576.8 1695.3h0M1587.0 1694.5h0M1597.1 1696.2h0M1607.2 1696.6h0M1617.3 1695.3h0M1627.4 1695.6h0M1637.6 1698.0h0M1647.7 1697.2h0M1657.8 1696.6h0M1667.9 1696.8h0M1678.0 1697.1h0M1688.2 1697.3h0" stroke="#ffa500" stroke-width="11.4" stroke-linecap="round"/><path d="M1026.8 1095.4h7.2m-3.6 0V1049.8m-3.6 0h7.2M1036.9 1146.7h7.2m-3.6 0V1103.4m-3.6 0h7.2M1047.0 1201.8h7.2m-3.6 0V1161.0m-3.6 0h7.2M1057.1 1243.2h7.2m-3.6 0V1204.3m-3.6 0h7.2M1067.2 1283.3h7.2m-3.6 0V1246.4m-3.6 0h7.2M1077.4 1311.7h7.2m-3.6 0V1276.2m-3.6 0h7.2M1087.5 1345.0h7.2m-3.6 0V1311.2m-3.6 0h7.2M1097.6 1364.7h7.2m-3.6 0V1331.9m-3.6 0h7.2M1107.7 1395.5h7.2m-3.6 0V1364.4m-3.6 0h7.2M1117.8 1412.1h7.2m-3.6 0V1381.9m-3.6 0h7.2M1128.0 1442.2h7.2m-3.6 0V1413.8m-3.6 0h7.2M1138.1 1457.6h7.2m-3.6 0V1430.1m-3.6 0h7.2M1148.2 1477.8h7.2m-3.6 0V1451.6m-3.6 0h7.2M1158.3 1489.5h7.2m-3.6 0V1463.9m-3.6 0h7.2M1168.4 1496.8h7.2m-3.6 0V1471.8m-3.6 0h7.2M1178.6 1515.8h7.2m-3.6 0V1492.0m-3.6 0h7.2M1188.7 1526.2h7.2m-3.6 0V1503.1m-3.6 0h7.2M1198.8 1536.0h7.2m-3.6 0V1513.6m-3.6 0h7.2M1208.9 1544.5h7.2m-3.6 0V1522.7m-3.6 0h7.2M1219.0 1558.6h7.2m-3.6 0V1537.8m-3.6 0h7.2M1229.2 1561.6h7.2m-3.6 0V1541.1m-3.6 0h7.2M1239.3 1578.6h7.2m-3.6 0V1559.4m-3.6 0h7.2M1249.4 1585.9h7.2m-3.6 0V1567.3m-3.6 0h7.2M1259.5 1585.9h7.2m-3.6 0V1567.3m-3.6 0h7.2M1269.6 1593.8h7.2m-3.6 0V1575.9m-3.6 0h7.2M1279.8 1602.3h7.2m-3.6 0V1585.1m-3.6 0h7.2M1289.9 1607.8h7.2m-3.6 0V1591.0m-3.6 0h7.2M1300.0 1612.6h7.2m-3.6 0V1596.3m-3.6 0h7.2M1310.1 1616.8h7.2m-3.6 0V1600.9m-3.6 0h7.2M1320.2 1625.3h7.2m-3.6 0V1610.2m-3.6 0h7.2M1330.4 1627.7h7.2m-3.6 0V1612.8m-3.6 0h7.2M1340.5 1630.1h7.2m-3.6 0V1615.5m-3.6 0h7.2M1350.6 1628.9h7.2m-3.6 0V1614.1m-3.6 0h7.2M1360.7 1639.7h7.2m-3.6 0V1626.1m-3.6 0h7.2M1370.8 1638.5h7.2m-3.6 0V1624.7m-3.6 0h7.2M1381.0 1645.7h7.2m-3.6 0V1632.7m-3.6 0h7.2M1391.1 1652.9h7.2m-3.6 0V1640.7m-3.6 0h7.2M1401.2 1658.3h7.2m-3.6 0V1646.7m-3.6 0h7.2M1411.3 1658.3h7.2m-3.6 0V1646.7m-3.6 0h7.2M1421.4 1655.9h7.2m-3.6 0V1644.1m-3.6 0h7.2M1431.6 1659.5h7.2m-3.6 0V1648.1m-3.6 0h7.2M1441.7 1664.2h7.2m-3.6 0V1653.4m-3.6 0h7.2M1451.8 1664.8h7.2m-3.6 0V1654.1m-3.6 0h7.2M1461.9 1667.8h7.2m-3.6 0V1657.5m-3.6 0h7.2M1472.0 1667.2h7.2m-3.6 0V1656.8m-3.6 0h7.2M1482.2 1667.8h7.2m-3.6 0V1657.5m-3.6 0h7.2M1492.3 1673.1h7.2m-3.6 0V1663.5m-3.6 0h7.2M1502.4 1674.3h7.2m-3.6 0V1664.9m-3.6 0h7.2M1512.5 1674.9h7.2m-3.6 0V1665.6m-3.6 0h7.2M1522.6 1674.3h7.2m-3.6 0V1664.9m-3.6 0h7.2M1532.8 1674.3h7.2m-3.6 0V1664.9m-3.6 0h7.2M1542.9 1682.2h7.2m-3.6 0V1674.1m-3.6 0h7.2M1553.0 1680.1h7.2m-3.6 0V1671.6m-3.6 0h7.2M1563.1 1680.2h7.2m-3.6 0V1671.7m-3.6 0h7.2M1573.2 1680.9h7.2m-3.6 0V1672.6m-3.6 0h7.2M1583.4 1683.3h7.2m-3.6 0V1675.3m-3.6 0h7.2M1593.5 1685.0h7.2m-3.6 0V1677.3m-3.6 0h7.2M1603.6 1684.7h7.2m-3.6 0V1677.0m-3.6 0h7.2M1613.7 1687.1h7.2m-3.6 0V1679.8m-3.6 0h7.2M1623.8 1686.8h7.2m-3.6 0V1679.5m-3.6 0h7.2M1634.0 1689.0h7.2m-3.6 0V1682.1m-3.6 0h7.2M1644.1 1689.6h7.2m-3.6 0V1682.8m-3.6 0h7.2M1654.2 1690.0h7.2m-3.6 0V1683.3m-3.6 0h7.2M1664.3 1690.6h7.2m-3.6 0V1684.1m-3.6 0h7.2M1674.4 1692.1h7.2m-3.6 0V1685.9m-3.6 0h7.2M1684.6 1694.9h7.2m-3.6 0V1689.4m-3.6 0h7.2" stroke="#0000ff" stroke-width="2.1" fill="none"/><polyline points="1030.4,1074.4 1040.5,1128.5 1050.6,1176.8 1060.7,1219.9 1070.8,1258.3 1081.0,1292.6 1091.1,1323.6 1101.2,1351.7 1111.3,1377.4 1121.4,1400.9 1131.6,1422.3 1141.7,1441.6 1151.8,1458.9 1161.9,1474.5 1172.0,1488.6 1182.2,1501.6 1192.3,1513.7 1202.4,1525.2 1212.5,1535.9 1222.6,1546.1 1232.8,1555.5 1242.9,1564.2 1253.0,1572.2 1263.1,1579.6 1273.2,1586.4 1283.4,1592.8 1293.5,1598.8 1303.6,1604.5 1313.7,1609.7 1323.8,1614.4 1334.0,1618.8 1344.1,1623.0 1354.2,1627.2 1364.3,1631.5 1374.4,1635.9 1384.6,1640.2 1394.7,1644.2 1404.8,1647.6 1414.9,1650.5 1425.0,1653.0 1435.2,1655.2 1445.3,1657.3 1455.4,1659.4 1465.5,1661.3 1475.6,1663.1 1485.8,1664.9 1495.9,1666.6 1506.0,1668.3 1516.1,1669.8 1526.2,1671.3 1536.4,1672.8 1546.5,1674.2 1556.6,1675.5 1566.7,1676.8 1576.8,1678.0 1587.0,1679.3 1597.1,1680.5 1607.2,1681.7 1617.3,1682.8 1627.4,1684.0 1637.6,1685.1 1647.7,1686.2 1657.8,1687.3 1667.9,1688.5 1678.0,1689.7 1688.2,1691.2" stroke="#0000ff" stroke-width="2.3" fill="none" stroke-dasharray="8.5 3.7"/><path d="M1026.8 1689.6h7.2m-3.6 0V1682.8m-3.6 0h7.2M1036.9 1682.1h7.2m-3.6 0V1673.9m-3.6 0h7.2M1047.0 1678.0h7.2m-3.6 0V1669.2m-3.6 0h7.2M1057.1 1677.1h7.2m-3.6 0V1668.2m-3.6 0h7.2M1067.2 1676.2h7.2m-3.6 0V1667.1m-3.6 0h7.2M1077.4 1678.9h7.2m-3.6 0V1670.2m-3.6 0h7.2M1087.5 1674.1h7.2m-3.6 0V1664.7m-3.6 0h7.2M1097.6 1667.9h7.2m-3.6 0V1657.7m-3.6 0h7.2M1107.7 1668.5h7.2m-3.6 0V1658.3m-3.6 0h7.2M1117.8 1672.0h7.2m-3.6 0V1662.3m-3.6 0h7.2M1128.0 1675.0h7.2m-3.6 0V1665.8m-3.6 0h7.2M1138.1 1680.0h7.2m-3.6 0V1671.5m-3.6 0h7.2M1148.2 1674.6h7.2m-3.6 0V1665.3m-3.6 0h7.2M1158.3 1680.0h7.2m-3.6 0V1671.5m-3.6 0h7.2M1168.4 1680.9h7.2m-3.6 0V1672.5m-3.6 0h7.2M1178.6 1682.4h7.2m-3.6 0V1674.2m-3.6 0h7.2M1188.7 1682.3h7.2m-3.6 0V1674.1m-3.6 0h7.2M1198.8 1684.4h7.2m-3.6 0V1676.6m-3.6 0h7.2M1208.9 1684.3h7.2m-3.6 0V1676.5m-3.6 0h7.2M1219.0 1687.2h7.2m-3.6 0V1679.9m-3.6 0h7.2M1229.2 1686.5h7.2m-3.6 0V1679.0m-3.6 0h7.2M1239.3 1681.3h7.2m-3.6 0V1672.9m-3.6 0h7.2M1249.4 1687.4h7.2m-3.6 0V1680.1m-3.6 0h7.2M1259.5 1688.4h7.2m-3.6 0V1681.4m-3.6 0h7.2M1269.6 1687.7h7.2m-3.6 0V1680.5m-3.6 0h7.2M1279.8 1688.0h7.2m-3.6 0V1680.9m-3.6 0h7.2M1289.9 1691.7h7.2m-3.6 0V1685.3m-3.6 0h7.2M1300.0 1690.8h7.2m-3.6 0V1684.2m-3.6 0h7.2M1310.1 1689.5h7.2m-3.6 0V1682.6m-3.6 0h7.2M1320.2 1691.1h7.2m-3.6 0V1684.6m-3.6 0h7.2M1330.4 1691.8h7.2m-3.6 0V1685.4m-3.6 0h7.2M1340.5 1690.1h7.2m-3.6 0V1683.3m-3.6 0h7.2M1350.6 1693.8h7.2m-3.6 0V1687.8m-3.6 0h7.2M1360.7 1693.2h7.2m-3.6 0V1687.1m-3.6 0h7.2M1370.8 1694.4h7.2m-3.6 0V1688.6m-3.6 0h7.2M1381.0 1692.1h7.2m-3.6 0V1685.8m-3.6 0h7.2M1391.1 1696.7h7.2m-3.6 0V1691.4m-3.6 0h7.2M1401.2 1695.7h7.2m-3.6 0V1690.3m-3.6 0h7.2M1411.3 1696.0h7.2m-3.6 0V1690.6m-3.6 0h7.2M1421.4 1695.1h7.2m-3.6 0V1689.5m-3.6 0h7.2M1431.6 1695.6h7.2m-3.6 0V1690.1m-3.6 0h7.2M1441.7 1695.1h7.2m-3.6 0V1689.5m-3.6 0h7.2M1451.8 1698.3h7.2m-3.6 0V1693.5m-3.6 0h7.2M1461.9 1696.6h7.2m-3.6 0V1691.3m-3.6 0h7.2M1472.0 1697.9h7.2m-3.6 0V1693.0m-3.6 0h7.2M1482.2 1698.5h7.2m-3.6 0V1693.8m-3.6 0h7.2M1492.3 1697.8h7.2m-3.6 0V1692.9m-3.6 0h7.2M1502.4 1699.2h7.2m-3.6 0V1694.7m-3.6 0h7.2M1512.5 1700.2h7.2m-3.6 0V1696.0m-3.6 0h7.2M1522.6 1699.3h7.2m-3.6 0V1694.9m-3.6 0h7.2M1532.8 1700.3h7.2m-3.6 0V1696.2m-3.6 0h7.2M1542.9 1700.0h7.2m-3.6 0V1695.8m-3.6 0h7.2M1553.0 1699.6h7.2m-3.6 0V1695.2m-3.6 0h7.2M1563.1 1699.9h7.2m-3.6 0V1695.6m-3.6 0h7.2M1573.2 1699.3h7.2m-3.6 0V1694.8m-3.6 0h7.2M1583.4 1700.6h7.2m-3.6 0V1696.6m-3.6 0h7.2M1593.5 1701.5h7.2m-3.6 0V1697.8m-3.6 0h7.2M1603.6 1701.3h7.2m-3.6 0V1697.6m-3.6 0h7.2M1613.7 1701.6h7.2m-3.6 0V1698.0m-3.6 0h7.2M1623.8 1701.9h7.2m-3.6 0V1698.4m-3.6 0h7.2M1634.0 1701.4h7.2m-3.6 0V1697.7m-3.6 0h7.2M1644.1 1702.0h7.2m-3.6 0V1698.6m-3.6 0h7.2M1654.2 1702.6h7.2m-3.6 0V1699.5m-3.6 0h7.2M1664.3 1701.8h7.2m-3.6 0V1698.3m-3.6 0h7.2M1674.4 1702.3h7.2m-3.6 0V1699.0m-3.6 0h7.2M1684.6 1702.3h7.2m-3.6 0V1699.0m-3.6 0h7.2" stroke="#008000" stroke-width="2.1" fill="none"/><polyline points="1030.4,1682.1 1040.5,1679.7 1050.6,1677.4 1060.7,1675.4 1070.8,1673.6 1081.0,1672.2 1091.1,1671.2 1101.2,1670.6 1111.3,1670.5 1121.4,1670.9 1131.6,1671.6 1141.7,1672.6 1151.8,1673.8 1161.9,1675.0 1172.0,1676.3 1182.2,1677.4 1192.3,1678.5 1202.4,1679.4 1212.5,1680.3 1222.6,1681.1 1232.8,1681.9 1242.9,1682.6 1253.0,1683.3 1263.1,1684.0 1273.2,1684.7 1283.4,1685.4 1293.5,1686.1 1303.6,1686.7 1313.7,1687.3 1323.8,1687.9 1334.0,1688.5 1344.1,1689.1 1354.2,1689.7 1364.3,1690.3 1374.4,1690.8 1384.6,1691.4 1394.7,1691.9 1404.8,1692.3 1414.9,1692.8 1425.0,1693.2 1435.2,1693.6 1445.3,1694.0 1455.4,1694.5 1465.5,1694.9 1475.6,1695.4 1485.8,1695.8 1495.9,1696.2 1506.0,1696.6 1516.1,1696.9 1526.2,1697.2 1536.4,1697.5 1546.5,1697.7 1556.6,1698.0 1566.7,1698.2 1576.8,1698.5 1587.0,1698.7 1597.1,1699.0 1607.2,1699.3 1617.3,1699.6 1627.4,1699.8 1637.6,1700.0 1647.7,1700.2 1657.8,1700.4 1667.9,1700.5 1678.0,1700.6 1688.2,1700.7" stroke="#008000" stroke-width="2.3" fill="none" stroke-dasharray="8.5 3.7"/><path d="M1026.8 1691.5h7.2m-3.6 0V1685.0m-3.6 0h7.2M1036.9 1679.7h7.2m-3.6 0V1671.1m-3.6 0h7.2M1047.0 1677.7h7.2m-3.6 0V1668.8m-3.6 0h7.2M1057.1 1671.3h7.2m-3.6 0V1661.5m-3.6 0h7.2M1067.2 1672.8h7.2m-3.6 0V1663.3m-3.6 0h7.2M1077.4 1672.3h7.2m-3.6 0V1662.7m-3.6 0h7.2M1087.5 1672.6h7.2m-3.6 0V1663.0m-3.6 0h7.2M1097.6 1679.0h7.2m-3.6 0V1670.3m-3.6 0h7.2M1107.7 1676.0h7.2m-3.6 0V1666.8m-3.6 0h7.2M1117.8 1677.1h7.2m-3.6 0V1668.2m-3.6 0h7.2M1128.0 1676.6h7.2m-3.6 0V1667.5m-3.6 0h7.2M1138.1 1681.8h7.2m-3.6 0V1673.6m-3.6 0h7.2M1148.2 1674.0h7.2m-3.6 0V1664.5m-3.6 0h7.2M1158.3 1679.6h7.2m-3.6 0V1671.0m-3.6 0h7.2M1168.4 1683.7h7.2m-3.6 0V1675.8m-3.6 0h7.2M1178.6 1685.6h7.2m-3.6 0V1678.0m-3.6 0h7.2M1188.7 1683.2h7.2m-3.6 0V1675.2m-3.6 0h7.2M1198.8 1683.6h7.2m-3.6 0V1675.6m-3.6 0h7.2M1208.9 1685.7h7.2m-3.6 0V1678.1m-3.6 0h7.2M1219.0 1684.7h7.2m-3.6 0V1677.0m-3.6 0h7.2M1229.2 1687.0h7.2m-3.6 0V1679.7m-3.6 0h7.2M1239.3 1685.3h7.2m-3.6 0V1677.7m-3.6 0h7.2M1249.4 1688.6h7.2m-3.6 0V1681.6m-3.6 0h7.2M1259.5 1688.1h7.2m-3.6 0V1680.9m-3.6 0h7.2M1269.6 1686.8h7.2m-3.6 0V1679.4m-3.6 0h7.2M1279.8 1684.2h7.2m-3.6 0V1676.3m-3.6 0h7.2M1289.9 1691.5h7.2m-3.6 0V1685.1m-3.6 0h7.2M1300.0 1691.2h7.2m-3.6 0V1684.7m-3.6 0h7.2M1310.1 1692.3h7.2m-3.6 0V1686.0m-3.6 0h7.2M1320.2 1690.3h7.2m-3.6 0V1683.6m-3.6 0h7.2M1330.4 1693.6h7.2m-3.6 0V1687.6m-3.6 0h7.2M1340.5 1693.1h7.2m-3.6 0V1687.0m-3.6 0h7.2M1350.6 1692.9h7.2m-3.6 0V1686.8m-3.6 0h7.2M1360.7 1694.5h7.2m-3.6 0V1688.8m-3.6 0h7.2M1370.8 1694.9h7.2m-3.6 0V1689.2m-3.6 0h7.2M1381.0 1694.7h7.2m-3.6 0V1689.0m-3.6 0h7.2M1391.1 1696.8h7.2m-3.6 0V1691.6m-3.6 0h7.2M1401.2 1696.5h7.2m-3.6 0V1691.3m-3.6 0h7.2M1411.3 1695.8h7.2m-3.6 0V1690.4m-3.6 0h7.2M1421.4 1695.6h7.2m-3.6 0V1690.2m-3.6 0h7.2M1431.6 1696.4h7.2m-3.6 0V1691.1m-3.6 0h7.2M1441.7 1698.2h7.2m-3.6 0V1693.4m-3.6 0h7.2M1451.8 1697.4h7.2m-3.6 0V1692.3m-3.6 0h7.2M1461.9 1696.5h7.2m-3.6 0V1691.3m-3.6 0h7.2M1472.0 1697.1h7.2m-3.6 0V1692.0m-3.6 0h7.2M1482.2 1698.0h7.2m-3.6 0V1693.1m-3.6 0h7.2M1492.3 1698.9h7.2m-3.6 0V1694.3m-3.6 0h7.2M1502.4 1698.0h7.2m-3.6 0V1693.1m-3.6 0h7.2M1512.5 1699.2h7.2m-3.6 0V1694.7m-3.6 0h7.2M1522.6 1699.8h7.2m-3.6 0V1695.6m-3.6 0h7.2M1532.8 1699.8h7.2m-3.6 0V1695.6m-3.6 0h7.2M1542.9 1698.5h7.2m-3.6 0V1693.9m-3.6 0h7.2M1553.0 1699.7h7.2m-3.6 0V1695.3m-3.6 0h7.2M1563.1 1699.3h7.2m-3.6 0V1694.9m-3.6 0h7.2M1573.2 1700.5h7.2m-3.6 0V1696.5m-3.6 0h7.2M1583.4 1700.0h7.2m-3.6 0V1695.7m-3.6 0h7.2M1593.5 1701.0h7.2m-3.6 0V1697.2m-3.6 0h7.2M1603.6 1701.0h7.2m-3.6 0V1697.2m-3.6 0h7.2M1613.7 1699.8h7.2m-3.6 0V1695.5m-3.6 0h7.2M1623.8 1701.0h7.2m-3.6 0V1697.1m-3.6 0h7.2M1634.0 1701.8h7.2m-3.6 0V1698.2m-3.6 0h7.2M1644.1 1701.8h7.2m-3.6 0V1698.3m-3.6 0h7.2M1654.2 1701.8h7.2m-3.6 0V1698.3m-3.6 0h7.2M1664.3 1701.6h7.2m-3.6 0V1698.0m-3.6 0h7.2M1674.4 1702.4h7.2m-3.6 0V1699.2m-3.6 0h7.2M1684.6 1703.0h7.2m-3.6 0V1700.0m-3.6 0h7.2" stroke="#ff0000" stroke-width="2.1" fill="none"/><polyline points="1030.4,1681.7 1040.5,1678.6 1050.6,1676.0 1060.7,1674.0 1070.8,1672.7 1081.0,1672.0 1091.1,1671.8 1101.2,1672.0 1111.3,1672.4 1121.4,1673.1 1131.6,1673.9 1141.7,1674.8 1151.8,1675.8 1161.9,1676.7 1172.0,1677.7 1182.2,1678.7 1192.3,1679.5 1202.4,1680.3 1212.5,1681.0 1222.6,1681.7 1232.8,1682.3 1242.9,1682.9 1253.0,1683.5 1263.1,1684.2 1273.2,1684.9 1283.4,1685.6 1293.5,1686.4 1303.6,1687.2 1313.7,1688.0 1323.8,1688.7 1334.0,1689.4 1344.1,1690.1 1354.2,1690.7 1364.3,1691.3 1374.4,1691.8 1384.6,1692.3 1394.7,1692.8 1404.8,1693.1 1414.9,1693.5 1425.0,1693.8 1435.2,1694.1 1445.3,1694.4 1455.4,1694.7 1465.5,1695.0 1475.6,1695.3 1485.8,1695.7 1495.9,1696.0 1506.0,1696.3 1516.1,1696.6 1526.2,1696.8 1536.4,1697.1 1546.5,1697.3 1556.6,1697.6 1566.7,1697.8 1576.8,1698.0 1587.0,1698.3 1597.1,1698.5 1607.2,1698.8 1617.3,1699.1 1627.4,1699.3 1637.6,1699.6 1647.7,1699.9 1657.8,1700.2 1667.9,1700.5 1678.0,1700.8 1688.2,1701.1" stroke="#ff0000" stroke-width="2.3" fill="none" stroke-dasharray="8.5 3.7"/><path d="M1026.8 1688.9h7.2m-3.6 0V1681.9m-3.6 0h7.2M1036.9 1681.3h7.2m-3.6 0V1673.0m-3.6 0h7.2M1047.0 1677.5h7.2m-3.6 0V1668.6m-3.6 0h7.2M1057.1 1671.0h7.2m-3.6 0V1661.1m-3.6 0h7.2M1067.2 1673.2h7.2m-3.6 0V1663.7m-3.6 0h7.2M1077.4 1670.8h7.2m-3.6 0V1661.0m-3.6 0h7.2M1087.5 1677.5h7.2m-3.6 0V1668.5m-3.6 0h7.2M1097.6 1671.6h7.2m-3.6 0V1661.8m-3.6 0h7.2M1107.7 1668.0h7.2m-3.6 0V1657.8m-3.6 0h7.2M1117.8 1673.9h7.2m-3.6 0V1664.4m-3.6 0h7.2M1128.0 1676.5h7.2m-3.6 0V1667.4m-3.6 0h7.2M1138.1 1677.7h7.2m-3.6 0V1668.8m-3.6 0h7.2M1148.2 1673.5h7.2m-3.6 0V1664.0m-3.6 0h7.2M1158.3 1682.3h7.2m-3.6 0V1674.1m-3.6 0h7.2M1168.4 1681.0h7.2m-3.6 0V1672.7m-3.6 0h7.2M1178.6 1680.4h7.2m-3.6 0V1672.0m-3.6 0h7.2M1188.7 1680.6h7.2m-3.6 0V1672.2m-3.6 0h7.2M1198.8 1684.4h7.2m-3.6 0V1676.6m-3.6 0h7.2M1208.9 1683.4h7.2m-3.6 0V1675.5m-3.6 0h7.2M1219.0 1685.6h7.2m-3.6 0V1677.9m-3.6 0h7.2M1229.2 1685.4h7.2m-3.6 0V1677.8m-3.6 0h7.2M1239.3 1686.8h7.2m-3.6 0V1679.4m-3.6 0h7.2M1249.4 1689.4h7.2m-3.6 0V1682.5m-3.6 0h7.2M1259.5 1688.0h7.2m-3.6 0V1680.9m-3.6 0h7.2M1269.6 1687.0h7.2m-3.6 0V1679.7m-3.6 0h7.2M1279.8 1690.9h7.2m-3.6 0V1684.3m-3.6 0h7.2M1289.9 1690.3h7.2m-3.6 0V1683.6m-3.6 0h7.2M1300.0 1689.4h7.2m-3.6 0V1682.5m-3.6 0h7.2M1310.1 1692.6h7.2m-3.6 0V1686.4m-3.6 0h7.2M1320.2 1691.2h7.2m-3.6 0V1684.7m-3.6 0h7.2M1330.4 1693.5h7.2m-3.6 0V1687.4m-3.6 0h7.2M1340.5 1690.7h7.2m-3.6 0V1684.1m-3.6 0h7.2M1350.6 1689.3h7.2m-3.6 0V1682.4m-3.6 0h7.2M1360.7 1690.3h7.2m-3.6 0V1683.6m-3.6 0h7.2M1370.8 1694.0h7.2m-3.6 0V1688.1m-3.6 0h7.2M1381.0 1693.2h7.2m-3.6 0V1687.1m-3.6 0h7.2M1391.1 1694.4h7.2m-3.6 0V1688.6m-3.6 0h7.2M1401.2 1694.9h7.2m-3.6 0V1689.2m-3.6 0h7.2M1411.3 1693.6h7.2m-3.6 0V1687.6m-3.6 0h7.2M1421.4 1697.1h7.2m-3.6 0V1692.0m-3.6 0h7.2M1431.6 1695.1h7.2m-3.6 0V1689.4m-3.6 0h7.2M1441.7 1696.6h7.2m-3.6 0V1691.4m-3.6 0h7.2M1451.8 1695.5h7.2m-3.6 0V1690.0m-3.6 0h7.2M1461.9 1697.1h7.2m-3.6 0V1692.0m-3.6 0h7.2M1472.0 1698.2h7.2m-3.6 0V1693.4m-3.6 0h7.2M1482.2 1697.7h7.2m-3.6 0V1692.8m-3.6 0h7.2M1492.3 1697.6h7.2m-3.6 0V1692.6m-3.6 0h7.2M1502.4 1698.5h7.2m-3.6 0V1693.8m-3.6 0h7.2M1512.5 1698.4h7.2m-3.6 0V1693.7m-3.6 0h7.2M1522.6 1699.4h7.2m-3.6 0V1695.0m-3.6 0h7.2M1532.8 1700.6h7.2m-3.6 0V1696.6m-3.6 0h7.2M1542.9 1699.0h7.2m-3.6 0V1694.4m-3.6 0h7.2M1553.0 1699.3h7.2m-3.6 0V1694.9m-3.6 0h7.2M1563.1 1700.0h7.2m-3.6 0V1695.7m-3.6 0h7.2M1573.2 1700.2h7.2m-3.6 0V1696.1m-3.6 0h7.2M1583.4 1699.9h7.2m-3.6 0V1695.7m-3.6 0h7.2M1593.5 1701.0h7.2m-3.6 0V1697.1m-3.6 0h7.2M1603.6 1701.3h7.2m-3.6 0V1697.5m-3.6 0h7.2M1613.7 1701.2h7.2m-3.6 0V1697.5m-3.6 0h7.2M1623.8 1700.8h7.2m-3.6 0V1696.8m-3.6 0h7.2M1634.0 1702.1h7.2m-3.6 0V1698.7m-3.6 0h7.2M1644.1 1701.2h7.2m-3.6 0V1697.5m-3.6 0h7.2M1654.2 1702.2h7.2m-3.6 0V1698.8m-3.6 0h7.2M1664.3 1702.5h7.2m-3.6 0V1699.3m-3.6 0h7.2M1674.4 1701.8h7.2m-3.6 0V1698.3m-3.6 0h7.2M1684.6 1702.5h7.2m-3.6 0V1699.3m-3.6 0h7.2" stroke="#00bfbf" stroke-width="2.1" fill="none"/><polyline points="1030.4,1680.7 1040.5,1677.9 1050.6,1675.4 1060.7,1673.3 1070.8,1671.7 1081.0,1670.6 1091.1,1670.1 1101.2,1669.9 1111.3,1670.1 1121.4,1670.7 1131.6,1671.5 1141.7,1672.5 1151.8,1673.6 1161.9,1674.8 1172.0,1675.9 1182.2,1677.1 1192.3,1678.2 1202.4,1679.2 1212.5,1680.3 1222.6,1681.2 1232.8,1682.2 1242.9,1683.1 1253.0,1683.9 1263.1,1684.7 1273.2,1685.4 1283.4,1686.0 1293.5,1686.6 1303.6,1687.1 1313.7,1687.5 1323.8,1687.9 1334.0,1688.2 1344.1,1688.6 1354.2,1689.0 1364.3,1689.4 1374.4,1689.9 1384.6,1690.5 1394.7,1691.0 1404.8,1691.6 1414.9,1692.1 1425.0,1692.6 1435.2,1693.1 1445.3,1693.6 1455.4,1694.0 1465.5,1694.5 1475.6,1694.9 1485.8,1695.3 1495.9,1695.7 1506.0,1696.1 1516.1,1696.5 1526.2,1696.8 1536.4,1697.1 1546.5,1697.4 1556.6,1697.7 1566.7,1697.9 1576.8,1698.2 1587.0,1698.5 1597.1,1698.8 1607.2,1699.0 1617.3,1699.3 1627.4,1699.5 1637.6,1699.8 1647.7,1700.0 1657.8,1700.2 1667.9,1700.4 1678.0,1700.6 1688.2,1700.8" stroke="#00bfbf" stroke-width="2.3" fill="none" stroke-dasharray="8.5 3.7"/><path d="M1026.8 1686.9h7.2m-3.6 0V1679.5m-3.6 0h7.2M1036.9 1682.2h7.2m-3.6 0V1674.1m-3.6 0h7.2M1047.0 1674.9h7.2m-3.6 0V1665.7m-3.6 0h7.2M1057.1 1671.4h7.2m-3.6 0V1661.6m-3.6 0h7.2M1067.2 1675.7h7.2m-3.6 0V1666.5m-3.6 0h7.2M1077.4 1672.3h7.2m-3.6 0V1662.6m-3.6 0h7.2M1087.5 1671.5h7.2m-3.6 0V1661.7m-3.6 0h7.2M1097.6 1676.6h7.2m-3.6 0V1667.6m-3.6 0h7.2M1107.7 1674.3h7.2m-3.6 0V1664.9m-3.6 0h7.2M1117.8 1676.4h7.2m-3.6 0V1667.4m-3.6 0h7.2M1128.0 1678.8h7.2m-3.6 0V1670.1m-3.6 0h7.2M1138.1 1679.5h7.2m-3.6 0V1670.9m-3.6 0h7.2M1148.2 1678.8h7.2m-3.6 0V1670.1m-3.6 0h7.2M1158.3 1679.8h7.2m-3.6 0V1671.2m-3.6 0h7.2M1168.4 1682.2h7.2m-3.6 0V1674.0m-3.6 0h7.2M1178.6 1682.7h7.2m-3.6 0V1674.6m-3.6 0h7.2M1188.7 1679.6h7.2m-3.6 0V1671.0m-3.6 0h7.2M1198.8 1682.9h7.2m-3.6 0V1674.8m-3.6 0h7.2M1208.9 1682.0h7.2m-3.6 0V1673.8m-3.6 0h7.2M1219.0 1682.1h7.2m-3.6 0V1673.9m-3.6 0h7.2M1229.2 1684.4h7.2m-3.6 0V1676.6m-3.6 0h7.2M1239.3 1681.3h7.2m-3.6 0V1673.0m-3.6 0h7.2M1249.4 1688.8h7.2m-3.6 0V1681.8m-3.6 0h7.2M1259.5 1686.4h7.2m-3.6 0V1678.9m-3.6 0h7.2M1269.6 1689.2h7.2m-3.6 0V1682.3m-3.6 0h7.2M1279.8 1685.7h7.2m-3.6 0V1678.2m-3.6 0h7.2M1289.9 1686.8h7.2m-3.6 0V1679.4m-3.6 0h7.2M1300.0 1693.4h7.2m-3.6 0V1687.3m-3.6 0h7.2M1310.1 1692.5h7.2m-3.6 0V1686.2m-3.6 0h7.2M1320.2 1690.5h7.2m-3.6 0V1683.8m-3.6 0h7.2M1330.4 1690.8h7.2m-3.6 0V1684.2m-3.6 0h7.2M1340.5 1691.4h7.2m-3.6 0V1684.9m-3.6 0h7.2M1350.6 1693.0h7.2m-3.6 0V1686.9m-3.6 0h7.2M1360.7 1692.7h7.2m-3.6 0V1686.5m-3.6 0h7.2M1370.8 1692.9h7.2m-3.6 0V1686.7m-3.6 0h7.2M1381.0 1694.2h7.2m-3.6 0V1688.4m-3.6 0h7.2M1391.1 1693.3h7.2m-3.6 0V1687.2m-3.6 0h7.2M1401.2 1697.3h7.2m-3.6 0V1692.2m-3.6 0h7.2M1411.3 1694.7h7.2m-3.6 0V1689.0m-3.6 0h7.2M1421.4 1696.8h7.2m-3.6 0V1691.7m-3.6 0h7.2M1431.6 1695.2h7.2m-3.6 0V1689.6m-3.6 0h7.2M1441.7 1696.8h7.2m-3.6 0V1691.6m-3.6 0h7.2M1451.8 1697.7h7.2m-3.6 0V1692.8m-3.6 0h7.2M1461.9 1696.9h7.2m-3.6 0V1691.8m-3.6 0h7.2M1472.0 1698.4h7.2m-3.6 0V1693.6m-3.6 0h7.2M1482.2 1698.6h7.2m-3.6 0V1694.0m-3.6 0h7.2M1492.3 1699.4h7.2m-3.6 0V1694.9m-3.6 0h7.2M1502.4 1698.5h7.2m-3.6 0V1693.8m-3.6 0h7.2M1512.5 1698.4h7.2m-3.6 0V1693.7m-3.6 0h7.2M1522.6 1698.3h7.2m-3.6 0V1693.6m-3.6 0h7.2M1532.8 1699.4h7.2m-3.6 0V1695.0m-3.6 0h7.2M1542.9 1698.8h7.2m-3.6 0V1694.3m-3.6 0h7.2M1553.0 1699.8h7.2m-3.6 0V1695.5m-3.6 0h7.2M1563.1 1700.1h7.2m-3.6 0V1695.9m-3.6 0h7.2M1573.2 1699.9h7.2m-3.6 0V1695.7m-3.6 0h7.2M1583.4 1699.9h7.2m-3.6 0V1695.6m-3.6 0h7.2M1593.5 1700.9h7.2m-3.6 0V1697.0m-3.6 0h7.2M1603.6 1701.0h7.2m-3.6 0V1697.2m-3.6 0h7.2M1613.7 1701.2h7.2m-3.6 0V1697.5m-3.6 0h7.2M1623.8 1701.3h7.2m-3.6 0V1697.6m-3.6 0h7.2M1634.0 1701.9h7.2m-3.6 0V1698.5m-3.6 0h7.2M1644.1 1701.3h7.2m-3.6 0V1697.6m-3.6 0h7.2M1654.2 1702.1h7.2m-3.6 0V1698.7m-3.6 0h7.2M1664.3 1701.9h7.2m-3.6 0V1698.5m-3.6 0h7.2M1674.4 1702.6h7.2m-3.6 0V1699.4m-3.6 0h7.2M1684.6 1702.3h7.2m-3.6 0V1699.0m-3.6 0h7.2" stroke="#bf00bf" stroke-width="2.1" fill="none"/><polyline points="1030.4,1679.2 1040.5,1676.7 1050.6,1674.6 1060.7,1673.0 1070.8,1672.0 1081.0,1671.4 1091.1,1671.2 1101.2,1671.5 1111.3,1672.0 1121.4,1672.7 1131.6,1673.4 1141.7,1674.2 1151.8,1675.0 1161.9,1675.7 1172.0,1676.4 1182.2,1677.0 1192.3,1677.6 1202.4,1678.3 1212.5,1679.0 1222.6,1679.7 1232.8,1680.5 1242.9,1681.4 1253.0,1682.3 1263.1,1683.2 1273.2,1684.1 1283.4,1685.0 1293.5,1685.8 1303.6,1686.5 1313.7,1687.2 1323.8,1687.8 1334.0,1688.4 1344.1,1689.0 1354.2,1689.5 1364.3,1690.1 1374.4,1690.6 1384.6,1691.2 1394.7,1691.8 1404.8,1692.3 1414.9,1692.8 1425.0,1693.3 1435.2,1693.8 1445.3,1694.3 1455.4,1694.7 1465.5,1695.1 1475.6,1695.4 1485.8,1695.8 1495.9,1696.0 1506.0,1696.3 1516.1,1696.5 1526.2,1696.7 1536.4,1697.0 1546.5,1697.2 1556.6,1697.5 1566.7,1697.8 1576.8,1698.1 1587.0,1698.4 1597.1,1698.7 1607.2,1699.0 1617.3,1699.3 1627.4,1699.5 1637.6,1699.8 1647.7,1700.0 1657.8,1700.2 1667.9,1700.4 1678.0,1700.6 1688.2,1700.8" stroke="#bf00bf" stroke-width="2.3" fill="none" stroke-dasharray="8.5 3.7"/><path d="M1026.8 1688.7h7.2m-3.6 0V1681.7m-3.6 0h7.2M1036.9 1682.4h7.2m-3.6 0V1674.2m-3.6 0h7.2M1047.0 1671.2h7.2m-3.6 0V1661.4m-3.6 0h7.2M1057.1 1674.3h7.2m-3.6 0V1664.9m-3.6 0h7.2M1067.2 1667.8h7.2m-3.6 0V1657.6m-3.6 0h7.2M1077.4 1670.3h7.2m-3.6 0V1660.4m-3.6 0h7.2M1087.5 1676.1h7.2m-3.6 0V1667.0m-3.6 0h7.2M1097.6 1675.8h7.2m-3.6 0V1666.6m-3.6 0h7.2M1107.7 1674.0h7.2m-3.6 0V1664.6m-3.6 0h7.2M1117.8 1676.2h7.2m-3.6 0V1667.0m-3.6 0h7.2M1128.0 1677.1h7.2m-3.6 0V1668.1m-3.6 0h7.2M1138.1 1678.9h7.2m-3.6 0V1670.2m-3.6 0h7.2M1148.2 1683.6h7.2m-3.6 0V1675.7m-3.6 0h7.2M1158.3 1680.5h7.2m-3.6 0V1672.0m-3.6 0h7.2M1168.4 1686.0h7.2m-3.6 0V1678.4m-3.6 0h7.2M1178.6 1680.7h7.2m-3.6 0V1672.2m-3.6 0h7.2M1188.7 1684.2h7.2m-3.6 0V1676.4m-3.6 0h7.2M1198.8 1685.0h7.2m-3.6 0V1677.3m-3.6 0h7.2M1208.9 1684.6h7.2m-3.6 0V1676.9m-3.6 0h7.2M1219.0 1684.3h7.2m-3.6 0V1676.5m-3.6 0h7.2M1229.2 1688.5h7.2m-3.6 0V1681.5m-3.6 0h7.2M1239.3 1689.8h7.2m-3.6 0V1682.9m-3.6 0h7.2M1249.4 1689.2h7.2m-3.6 0V1682.3m-3.6 0h7.2M1259.5 1691.4h7.2m-3.6 0V1685.0m-3.6 0h7.2M1269.6 1690.3h7.2m-3.6 0V1683.6m-3.6 0h7.2M1279.8 1686.3h7.2m-3.6 0V1678.8m-3.6 0h7.2M1289.9 1691.6h7.2m-3.6 0V1685.2m-3.6 0h7.2M1300.0 1689.4h7.2m-3.6 0V1682.5m-3.6 0h7.2M1310.1 1693.0h7.2m-3.6 0V1686.9m-3.6 0h7.2M1320.2 1691.1h7.2m-3.6 0V1684.5m-3.6 0h7.2M1330.4 1692.4h7.2m-3.6 0V1686.2m-3.6 0h7.2M1340.5 1692.5h7.2m-3.6 0V1686.3m-3.6 0h7.2M1350.6 1692.1h7.2m-3.6 0V1685.8m-3.6 0h7.2M1360.7 1690.8h7.2m-3.6 0V1684.2m-3.6 0h7.2M1370.8 1693.5h7.2m-3.6 0V1687.5m-3.6 0h7.2M1381.0 1694.0h7.2m-3.6 0V1688.1m-3.6 0h7.2M1391.1 1695.7h7.2m-3.6 0V1690.2m-3.6 0h7.2M1401.2 1694.3h7.2m-3.6 0V1688.5m-3.6 0h7.2M1411.3 1695.7h7.2m-3.6 0V1690.2m-3.6 0h7.2M1421.4 1694.9h7.2m-3.6 0V1689.2m-3.6 0h7.2M1431.6 1696.2h7.2m-3.6 0V1690.9m-3.6 0h7.2M1441.7 1694.7h7.2m-3.6 0V1689.0m-3.6 0h7.2M1451.8 1698.6h7.2m-3.6 0V1694.0m-3.6 0h7.2M1461.9 1697.5h7.2m-3.6 0V1692.6m-3.6 0h7.2M1472.0 1696.8h7.2m-3.6 0V1691.6m-3.6 0h7.2M1482.2 1698.2h7.2m-3.6 0V1693.4m-3.6 0h7.2M1492.3 1698.8h7.2m-3.6 0V1694.2m-3.6 0h7.2M1502.4 1698.7h7.2m-3.6 0V1694.1m-3.6 0h7.2M1512.5 1699.7h7.2m-3.6 0V1695.4m-3.6 0h7.2M1522.6 1699.0h7.2m-3.6 0V1694.4m-3.6 0h7.2M1532.8 1697.4h7.2m-3.6 0V1692.4m-3.6 0h7.2M1542.9 1698.8h7.2m-3.6 0V1694.2m-3.6 0h7.2M1553.0 1700.5h7.2m-3.6 0V1696.4m-3.6 0h7.2M1563.1 1700.5h7.2m-3.6 0V1696.5m-3.6 0h7.2M1573.2 1700.5h7.2m-3.6 0V1696.5m-3.6 0h7.2M1583.4 1699.9h7.2m-3.6 0V1695.7m-3.6 0h7.2M1593.5 1701.1h7.2m-3.6 0V1697.3m-3.6 0h7.2M1603.6 1701.3h7.2m-3.6 0V1697.5m-3.6 0h7.2M1613.7 1700.7h7.2m-3.6 0V1696.7m-3.6 0h7.2M1623.8 1700.9h7.2m-3.6 0V1697.1m-3.6 0h7.2M1634.0 1701.7h7.2m-3.6 0V1698.2m-3.6 0h7.2M1644.1 1702.2h7.2m-3.6 0V1698.8m-3.6 0h7.2M1654.2 1702.5h7.2m-3.6 0V1699.3m-3.6 0h7.2M1664.3 1702.4h7.2m-3.6 0V1699.1m-3.6 0h7.2M1674.4 1703.0h7.2m-3.6 0V1700.0m-3.6 0h7.2M1684.6 1702.2h7.2m-3.6 0V1698.8m-3.6 0h7.2" stroke="#bfbf00" stroke-width="2.1" fill="none"/><polyline points="1030.4,1679.9 1040.5,1676.8 1050.6,1674.3 1060.7,1672.5 1070.8,1671.3 1081.0,1670.8 1091.1,1670.8 1101.2,1671.3 1111.3,1672.0 1121.4,1673.0 1131.6,1674.1 1141.7,1675.3 1151.8,1676.4 1161.9,1677.4 1172.0,1678.4 1182.2,1679.4 1192.3,1680.3 1202.4,1681.2 1212.5,1682.1 1222.6,1682.9 1232.8,1683.8 1242.9,1684.5 1253.0,1685.2 1263.1,1685.8 1273.2,1686.3 1283.4,1686.7 1293.5,1687.2 1303.6,1687.6 1313.7,1688.0 1323.8,1688.4 1334.0,1688.7 1344.1,1689.1 1354.2,1689.6 1364.3,1690.0 1374.4,1690.5 1384.6,1691.0 1394.7,1691.5 1404.8,1692.0 1414.9,1692.5 1425.0,1693.0 1435.2,1693.5 1445.3,1693.9 1455.4,1694.4 1465.5,1694.8 1475.6,1695.2 1485.8,1695.6 1495.9,1695.9 1506.0,1696.2 1516.1,1696.5 1526.2,1696.8 1536.4,1697.1 1546.5,1697.4 1556.6,1697.7 1566.7,1698.0 1576.8,1698.3 1587.0,1698.6 1597.1,1698.9 1607.2,1699.1 1617.3,1699.4 1627.4,1699.7 1637.6,1700.0 1647.7,1700.3 1657.8,1700.5 1667.9,1700.8 1678.0,1701.0 1688.2,1701.1" stroke="#bfbf00" stroke-width="2.3" fill="none" stroke-dasharray="8.5 3.7"/><path d="M1026.8 1656.1h7.2m-3.6 0V1643.8m-3.6 0h7.2M1036.9 1650.2h7.2m-3.6 0V1637.2m-3.6 0h7.2M1047.0 1652.0h7.2m-3.6 0V1639.2m-3.6 0h7.2M1057.1 1646.6h7.2m-3.6 0V1633.2m-3.6 0h7.2M1067.2 1647.8h7.2m-3.6 0V1634.5m-3.6 0h7.2M1077.4 1652.0h7.2m-3.6 0V1639.2m-3.6 0h7.2M1087.5 1650.2h7.2m-3.6 0V1637.2m-3.6 0h7.2M1097.6 1656.1h7.2m-3.6 0V1643.8m-3.6 0h7.2M1107.7 1650.8h7.2m-3.6 0V1637.8m-3.6 0h7.2M1117.8 1656.1h7.2m-3.6 0V1643.8m-3.6 0h7.2M1128.0 1654.9h7.2m-3.6 0V1642.5m-3.6 0h7.2M1138.1 1659.1h7.2m-3.6 0V1647.2m-3.6 0h7.2M1148.2 1654.9h7.2m-3.6 0V1642.5m-3.6 0h7.2M1158.3 1657.9h7.2m-3.6 0V1645.8m-3.6 0h7.2M1168.4 1663.3h7.2m-3.6 0V1651.9m-3.6 0h7.2M1178.6 1667.4h7.2m-3.6 0V1656.6m-3.6 0h7.2M1188.7 1661.5h7.2m-3.6 0V1649.8m-3.6 0h7.2M1198.8 1664.5h7.2m-3.6 0V1653.2m-3.6 0h7.2M1208.9 1669.2h7.2m-3.6 0V1658.6m-3.6 0h7.2M1219.0 1672.8h7.2m-3.6 0V1662.6m-3.6 0h7.2M1229.2 1672.8h7.2m-3.6 0V1662.6m-3.6 0h7.2M1239.3 1669.2h7.2m-3.6 0V1658.6m-3.6 0h7.2M1249.4 1672.8h7.2m-3.6 0V1662.6m-3.6 0h7.2M1259.5 1671.6h7.2m-3.6 0V1661.3m-3.6 0h7.2M1269.6 1676.9h7.2m-3.6 0V1667.4m-3.6 0h7.2M1279.8 1679.7h7.2m-3.6 0V1670.7m-3.6 0h7.2M1289.9 1678.8h7.2m-3.6 0V1669.6m-3.6 0h7.2M1300.0 1682.8h7.2m-3.6 0V1674.3m-3.6 0h7.2M1310.1 1683.2h7.2m-3.6 0V1674.8m-3.6 0h7.2M1320.2 1682.7h7.2m-3.6 0V1674.2m-3.6 0h7.2M1330.4 1681.8h7.2m-3.6 0V1673.1m-3.6 0h7.2M1340.5 1685.7h7.2m-3.6 0V1677.7m-3.6 0h7.2M1350.6 1683.5h7.2m-3.6 0V1675.1m-3.6 0h7.2M1360.7 1685.3h7.2m-3.6 0V1677.2m-3.6 0h7.2M1370.8 1683.8h7.2m-3.6 0V1675.5m-3.6 0h7.2M1381.0 1688.8h7.2m-3.6 0V1681.4m-3.6 0h7.2M1391.1 1690.3h7.2m-3.6 0V1683.2m-3.6 0h7.2M1401.2 1688.2h7.2m-3.6 0V1680.7m-3.6 0h7.2M1411.3 1687.8h7.2m-3.6 0V1680.2m-3.6 0h7.2M1421.4 1689.1h7.2m-3.6 0V1681.8m-3.6 0h7.2M1431.6 1691.6h7.2m-3.6 0V1684.8m-3.6 0h7.2M1441.7 1690.3h7.2m-3.6 0V1683.2m-3.6 0h7.2M1451.8 1692.7h7.2m-3.6 0V1686.2m-3.6 0h7.2M1461.9 1692.3h7.2m-3.6 0V1685.6m-3.6 0h7.2M1472.0 1692.8h7.2m-3.6 0V1686.3m-3.6 0h7.2M1482.2 1693.5h7.2m-3.6 0V1687.1m-3.6 0h7.2M1492.3 1693.5h7.2m-3.6 0V1687.1m-3.6 0h7.2M1502.4 1694.2h7.2m-3.6 0V1688.1m-3.6 0h7.2M1512.5 1694.1h7.2m-3.6 0V1687.9m-3.6 0h7.2M1522.6 1693.3h7.2m-3.6 0V1686.9m-3.6 0h7.2M1532.8 1695.2h7.2m-3.6 0V1689.3m-3.6 0h7.2M1542.9 1696.9h7.2m-3.6 0V1691.4m-3.6 0h7.2M1553.0 1696.0h7.2m-3.6 0V1690.2m-3.6 0h7.2M1563.1 1696.1h7.2m-3.6 0V1690.4m-3.6 0h7.2M1573.2 1697.9h7.2m-3.6 0V1692.7m-3.6 0h7.2M1583.4 1697.2h7.2m-3.6 0V1691.8m-3.6 0h7.2M1593.5 1698.7h7.2m-3.6 0V1693.7m-3.6 0h7.2M1603.6 1699.0h7.2m-3.6 0V1694.2m-3.6 0h7.2M1613.7 1697.9h7.2m-3.6 0V1692.7m-3.6 0h7.2M1623.8 1698.1h7.2m-3.6 0V1693.0m-3.6 0h7.2M1634.0 1700.2h7.2m-3.6 0V1695.8m-3.6 0h7.2M1644.1 1699.5h7.2m-3.6 0V1694.9m-3.6 0h7.2M1654.2 1699.0h7.2m-3.6 0V1694.2m-3.6 0h7.2M1664.3 1699.2h7.2m-3.6 0V1694.5m-3.6 0h7.2M1674.4 1699.4h7.2m-3.6 0V1694.8m-3.6 0h7.2M1684.6 1699.6h7.2m-3.6 0V1695.1m-3.6 0h7.2" stroke="#ffa500" stroke-width="2.1" fill="none"/><polyline points="1030.4,1648.1 1040.5,1646.0 1050.6,1644.6 1060.7,1643.9 1070.8,1644.0 1081.0,1644.6 1091.1,1645.5 1101.2,1646.5 1111.3,1647.6 1121.4,1648.7 1131.6,1649.8 1141.7,1651.1 1151.8,1652.6 1161.9,1654.2 1172.0,1656.0 1182.2,1657.8 1192.3,1659.6 1202.4,1661.3 1212.5,1663.0 1222.6,1664.5 1232.8,1665.8 1242.9,1667.0 1253.0,1668.3 1263.1,1669.9 1273.2,1671.7 1283.4,1673.6 1293.5,1675.2 1303.6,1676.6 1313.7,1677.7 1323.8,1678.5 1334.0,1679.2 1344.1,1679.9 1354.2,1680.6 1364.3,1681.5 1374.4,1682.5 1384.6,1683.4 1394.7,1684.3 1404.8,1685.0 1414.9,1685.6 1425.0,1686.3 1435.2,1687.0 1445.3,1687.7 1455.4,1688.4 1465.5,1689.0 1475.6,1689.5 1485.8,1690.0 1495.9,1690.4 1506.0,1690.8 1516.1,1691.2 1526.2,1691.7 1536.4,1692.3 1546.5,1692.9 1556.6,1693.5 1566.7,1694.1 1576.8,1694.6 1587.0,1695.1 1597.1,1695.5 1607.2,1695.9 1617.3,1696.2 1627.4,1696.4 1637.6,1696.7 1647.7,1696.9 1657.8,1697.0 1667.9,1697.0 1678.0,1697.1 1688.2,1697.2" stroke="#ffa500" stroke-width="2.3" fill="none" stroke-dasharray="8.5 3.7"/></g><rect x="997.60" y="1017.30" width="724.60" height="720.00" fill="none" stroke="#000" stroke-width="1.3"/><path d="M1025.3 1737.3v6.2M1126.5 1737.3v6.2M1227.7 1737.3v6.2M1328.9 1737.3v6.2M1430.1 1737.3v6.2M1531.3 1737.3v6.2M1632.5 1737.3v6.2M997.6 1705.0h-6.2M997.6 1578.5h-6.2M997.6 1452.0h-6.2M997.6 1325.6h-6.2M997.6 1199.1h-6.2M997.6 1072.6h-6.2" stroke="#000" stroke-width="1.3" fill="none"/><g font-family="'DejaVu Sans', 'Liberation Sans', sans-serif" font-size="21" fill="#000"><text x="1025.3" y="1765.1" text-anchor="middle">0</text><text x="1126.5" y="1765.1" text-anchor="middle">1</text><text x="1227.7" y="1765.1" text-anchor="middle">2</text><text x="1328.9" y="1765.1" text-anchor="middle">3</text><text x="1430.1" y="1765.1" text-anchor="middle">4</text><text x="1531.3" y="1765.1" text-anchor="middle">5</text><text x="1632.5" y="1765.1" text-anchor="middle">6</text><text x="985.8" y="1714.0" text-anchor="end">0</text><text x="985.8" y="1587.5" text-anchor="end">20</text><text x="985.8" y="1461.0" text-anchor="end">40</text><text x="985.8" y="1334.6" text-anchor="end">60</text><text x="985.8" y="1208.1" text-anchor="end">80</text><text x="985.8" y="1081.6" text-anchor="end">100</text></g><rect x="1131.20" y="1026.00" width="582.50" height="175.00" rx="3.5" ry="3.5" fill="#fff" fill-opacity="0.8" stroke="#d4d4d4" stroke-width="1.3"/><circle cx="1152.7" cy="1040.8" r="5.7" fill="#0000ff"/><text x="1180.8" y="1044.7" font-family="'DejaVu Sans', 'Liberation Sans', sans-serif" font-size="16.3" fill="#000">No Shield Ellipsoid</text><path d="M1136.2 1062.7H1169.1" stroke="#0000ff" stroke-width="2.4" stroke-dasharray="8.6 3.9"/><text x="1180.8" y="1069.0" font-family="'DejaVu Sans', 'Liberation Sans', sans-serif" font-size="16.3" fill="#000">Fitted No Shield Ellipsoid</text><circle cx="1152.7" cy="1089.5" r="5.7" fill="#008000"/><text x="1180.8" y="1093.4" font-family="'DejaVu Sans', 'Liberation Sans', sans-serif" font-size="16.3" fill="#000">Tungsten Shield</text><path d="M1136.2 1111.4H1169.1" stroke="#008000" stroke-width="2.4" stroke-dasharray="8.6 3.9"/><text x="1180.8" y="1117.7" font-family="'DejaVu Sans', 'Liberation Sans', sans-serif" font-size="16.3" fill="#000">Fitted Tungsten Shield</text><circle cx="1152.7" cy="1138.1" r="5.7" fill="#ff0000"/><text x="1180.8" y="1142.0" font-family="'DejaVu Sans', 'Liberation Sans', sans-serif" font-size="16.3" fill="#000">Tungsten Filament Shield</text><path d="M1136.2 1160.0H1169.1" stroke="#ff0000" stroke-width="2.4" stroke-dasharray="8.6 3.9"/><text x="1180.8" y="1166.4" font-family="'DejaVu Sans', 'Liberation Sans', sans-serif" font-size="16.3" fill="#000">Fitted Tungsten Filament Shield</text><circle cx="1152.7" cy="1186.8" r="5.7" fill="#00bfbf"/><text x="1180.8" y="1190.7" font-family="'DejaVu Sans', 'Liberation Sans', sans-serif" font-size="16.3" fill="#000">Gold Shield</text><path d="M1467.5 1038.4H1500.9" stroke="#00bfbf" stroke-width="2.4" stroke-dasharray="8.6 3.9"/><text x="1512.0" y="1044.7" font-family="'DejaVu Sans', 'Liberation Sans', sans-serif" font-size="16.3" fill="#000">Fitted Gold Shield</text><circle cx="1484.2" cy="1065.1" r="5.7" fill="#bf00bf"/><text x="1512.0" y="1069.0" font-family="'DejaVu Sans', 'Liberation Sans', sans-serif" font-size="16.3" fill="#000">Lead Shield</text><path d="M1467.5 1087.1H1500.9" stroke="#bf00bf" stroke-width="2.4" stroke-dasharray="8.6 3.9"/><text x="1512.0" y="1093.4" font-family="'DejaVu Sans', 'Liberation Sans', sans-serif" font-size="16.3" fill="#000">Fitted Lead Shield</text><circle cx="1484.2" cy="1113.8" r="5.7" fill="#bfbf00"/><text x="1512.0" y="1117.7" font-family="'DejaVu Sans', 'Liberation Sans', sans-serif" font-size="16.3" fill="#000">Copper Shield</text><path d="M1467.5 1135.7H1500.9" stroke="#bfbf00" stroke-width="2.4" stroke-dasharray="8.6 3.9"/><text x="1512.0" y="1142.0" font-family="'DejaVu Sans', 'Liberation Sans', sans-serif" font-size="16.3" fill="#000">Fitted Copper Shield</text><circle cx="1484.2" cy="1162.5" r="5.7" fill="#ffa500"/><text x="1512.0" y="1166.4" font-family="'DejaVu Sans', 'Liberation Sans', sans-serif" font-size="16.3" fill="#000">Aluminium Shield</text><path d="M1467.5 1184.4H1500.9" stroke="#ffa500" stroke-width="2.4" stroke-dasharray="8.6 3.9"/><text x="1512.0" y="1190.7" font-family="'DejaVu Sans', 'Liberation Sans', sans-serif" font-size="16.3" fill="#000">Fitted Aluminium Shield</text><rect x="1279.40" y="1197.40" width="434.30" height="359.30" fill="#fff"/><g clip-path="url(#c8)"><path d="M1608.3 1251.3h0M1614.4 1225.4h0M1620.4 1226.9h0M1626.5 1235.5h0M1632.5 1264.9h0M1638.6 1285.8h0M1644.7 1282.2h0M1650.7 1311.7h0M1656.8 1308.8h0M1662.8 1335.4h0M1668.9 1343.3h0M1675.0 1348.3h0M1681.0 1356.2h0M1687.1 1374.9h0M1693.1 1410.8h0" stroke="#0000ff" stroke-width="11.4" stroke-linecap="round"/><path d="M1299.2 1343.3h0M1305.3 1250.3h0M1311.4 1200.0h0M1329.5 1210.5h0M1365.9 1224.3h0M1378.0 1224.4h0M1384.1 1235.5h0M1390.1 1253.1h0M1396.2 1252.1h0M1402.2 1278.1h0M1408.3 1277.4h0M1414.4 1313.0h0M1420.4 1304.0h0M1426.5 1239.6h0M1432.5 1315.5h0M1438.6 1328.2h0M1444.7 1318.9h0M1450.7 1323.3h0M1456.8 1368.9h0M1462.9 1358.2h0M1468.9 1341.7h0M1475.0 1361.6h0M1481.0 1370.6h0M1487.1 1348.7h0M1493.2 1395.5h0M1499.2 1388.1h0M1505.3 1402.9h0M1511.3 1374.8h0M1517.4 1432.3h0M1523.5 1420.3h0M1529.5 1423.4h0M1535.6 1412.0h0M1541.6 1418.1h0M1547.7 1412.4h0M1553.8 1453.6h0M1559.8 1431.3h0M1565.9 1447.9h0M1571.9 1455.6h0M1578.0 1446.7h0M1584.1 1464.9h0M1590.1 1478.1h0M1596.2 1467.0h0M1602.2 1479.5h0M1608.3 1475.7h0M1614.4 1470.2h0M1620.4 1474.1h0M1626.5 1466.5h0M1632.5 1484.2h0M1638.6 1495.7h0M1644.7 1493.4h0M1650.7 1497.1h0M1656.8 1501.4h0M1662.8 1494.3h0M1668.9 1503.2h0M1675.0 1511.9h0M1681.0 1500.8h0M1687.1 1507.5h0M1693.1 1507.5h0" stroke="#008000" stroke-width="11.4" stroke-linecap="round"/><path d="M1299.2 1366.3h0M1305.3 1219.9h0M1311.4 1196.0h0M1341.7 1211.9h0M1365.9 1246.2h0M1378.0 1219.0h0M1384.1 1270.2h0M1390.1 1293.2h0M1396.2 1263.3h0M1402.2 1268.3h0M1408.3 1294.5h0M1414.4 1282.6h0M1420.4 1310.7h0M1426.5 1290.0h0M1432.5 1330.8h0M1438.6 1323.6h0M1444.7 1308.0h0M1450.7 1275.5h0M1456.8 1366.9h0M1462.9 1363.3h0M1468.9 1376.3h0M1475.0 1351.3h0M1481.0 1392.8h0M1487.1 1387.0h0M1493.2 1384.7h0M1499.2 1405.1h0M1505.3 1409.5h0M1511.3 1407.3h0M1517.4 1434.2h0M1523.5 1430.5h0M1529.5 1421.8h0M1535.6 1419.2h0M1541.6 1428.7h0M1547.7 1451.6h0M1553.8 1441.4h0M1559.8 1430.7h0M1565.9 1438.3h0M1571.9 1449.5h0M1578.0 1461.3h0M1584.1 1449.5h0M1590.1 1465.4h0M1596.2 1473.9h0M1602.2 1474.0h0M1608.3 1456.8h0M1614.4 1471.5h0M1620.4 1466.8h0M1626.5 1483.3h0M1632.5 1475.5h0M1638.6 1489.8h0M1644.7 1489.5h0M1650.7 1473.0h0M1656.8 1489.3h0M1662.8 1499.9h0M1668.9 1500.1h0M1675.0 1500.3h0M1681.0 1497.9h0M1687.1 1509.4h0M1693.1 1516.9h0" stroke="#ff0000" stroke-width="11.4" stroke-linecap="round"/><path d="M1299.2 1333.9h0M1305.3 1240.0h0M1311.4 1193.4h0M1335.6 1193.0h0M1365.9 1195.5h0M1378.0 1252.1h0M1384.1 1236.9h0M1390.1 1229.4h0M1396.2 1231.6h0M1402.2 1278.1h0M1408.3 1266.2h0M1414.4 1292.5h0M1420.4 1291.2h0M1426.5 1307.6h0M1432.5 1340.0h0M1438.6 1323.2h0M1444.7 1310.5h0M1450.7 1359.3h0M1456.8 1351.8h0M1462.9 1340.1h0M1468.9 1380.4h0M1475.0 1363.3h0M1481.0 1391.3h0M1487.1 1357.2h0M1493.2 1339.4h0M1499.2 1352.1h0M1505.3 1398.2h0M1511.3 1388.0h0M1517.4 1403.7h0M1523.5 1409.3h0M1529.5 1392.6h0M1535.6 1438.0h0M1541.6 1411.8h0M1547.7 1431.8h0M1553.8 1417.7h0M1559.8 1438.2h0M1565.9 1452.0h0M1571.9 1445.7h0M1578.0 1444.5h0M1584.1 1455.7h0M1590.1 1455.1h0M1596.2 1468.4h0M1602.2 1484.3h0M1608.3 1462.1h0M1614.4 1467.3h0M1620.4 1475.4h0M1626.5 1479.2h0M1632.5 1474.7h0M1638.6 1488.8h0M1644.7 1493.1h0M1650.7 1492.6h0M1656.8 1486.4h0M1662.8 1504.7h0M1668.9 1492.4h0M1675.0 1505.5h0M1681.0 1510.0h0M1687.1 1500.3h0M1693.1 1509.7h0" stroke="#00bfbf" stroke-width="11.4" stroke-linecap="round"/><path d="M1299.2 1308.8h0M1305.3 1251.7h0M1359.8 1209.3h0M1365.9 1218.1h0M1372.0 1209.5h0M1378.0 1221.6h0M1384.1 1251.1h0M1390.1 1257.1h0M1396.2 1219.3h0M1402.2 1259.4h0M1408.3 1248.9h0M1414.4 1250.4h0M1420.4 1278.5h0M1426.5 1240.0h0M1432.5 1333.1h0M1438.6 1303.0h0M1444.7 1338.3h0M1450.7 1294.9h0M1456.8 1307.9h0M1462.9 1390.0h0M1468.9 1378.6h0M1475.0 1353.8h0M1481.0 1357.7h0M1487.1 1365.0h0M1493.2 1385.5h0M1499.2 1381.7h0M1505.3 1383.7h0M1511.3 1401.2h0M1517.4 1389.2h0M1523.5 1440.3h0M1529.5 1406.9h0M1535.6 1434.6h0M1541.6 1413.2h0M1547.7 1434.1h0M1553.8 1446.2h0M1559.8 1436.0h0M1565.9 1454.4h0M1571.9 1458.1h0M1578.0 1467.6h0M1584.1 1456.4h0M1590.1 1455.0h0M1596.2 1453.6h0M1602.2 1468.3h0M1608.3 1460.7h0M1614.4 1473.2h0M1620.4 1477.3h0M1626.5 1475.2h0M1632.5 1474.5h0M1638.6 1488.0h0M1644.7 1490.1h0M1650.7 1492.4h0M1656.8 1493.7h0M1662.8 1502.1h0M1668.9 1493.4h0M1675.0 1504.2h0M1681.0 1502.1h0M1687.1 1510.9h0M1693.1 1507.5h0" stroke="#bf00bf" stroke-width="11.4" stroke-linecap="round"/><path d="M1299.2 1331.8h0M1305.3 1253.5h0M1365.9 1211.0h0M1372.0 1268.8h0M1378.0 1230.0h0M1384.1 1297.7h0M1390.1 1232.3h0M1396.2 1276.0h0M1402.2 1285.8h0M1408.3 1281.1h0M1414.4 1277.6h0M1420.4 1329.4h0M1426.5 1344.8h0M1432.5 1338.4h0M1438.6 1365.9h0M1444.7 1352.0h0M1450.7 1301.7h0M1456.8 1367.8h0M1462.9 1340.4h0M1468.9 1385.7h0M1475.0 1361.0h0M1481.0 1378.6h0M1487.1 1379.7h0M1493.2 1374.1h0M1499.2 1357.4h0M1505.3 1391.5h0M1511.3 1398.0h0M1517.4 1419.5h0M1523.5 1402.1h0M1529.5 1419.6h0M1535.6 1409.5h0M1541.6 1426.9h0M1547.7 1407.4h0M1553.8 1457.7h0M1559.8 1443.8h0M1565.9 1434.4h0M1571.9 1452.4h0M1578.0 1460.4h0M1584.1 1458.7h0M1590.1 1472.4h0M1596.2 1462.5h0M1602.2 1442.3h0M1608.3 1459.8h0M1614.4 1482.1h0M1620.4 1483.3h0M1626.5 1482.8h0M1632.5 1474.9h0M1638.6 1491.2h0M1644.7 1493.0h0M1650.7 1485.4h0M1656.8 1488.6h0M1662.8 1499.2h0M1668.9 1505.6h0M1675.0 1509.9h0M1681.0 1508.1h0M1687.1 1516.9h0M1693.1 1505.6h0" stroke="#bfbf00" stroke-width="11.4" stroke-linecap="round"/><path d="M1450.7 1218.2h0M1456.8 1206.7h0M1462.9 1256.3h0M1468.9 1261.4h0M1475.0 1254.9h0M1481.0 1243.4h0M1487.1 1292.3h0M1493.2 1264.2h0M1499.2 1287.2h0M1505.3 1268.5h0M1511.3 1330.3h0M1517.4 1349.0h0M1523.5 1323.2h0M1529.5 1318.1h0M1535.6 1334.7h0M1541.6 1365.6h0M1547.7 1349.0h0M1553.8 1379.9h0M1559.8 1374.2h0M1565.9 1381.4h0M1571.9 1389.3h0M1578.0 1389.3h0M1584.1 1399.3h0M1590.1 1397.9h0M1596.2 1387.8h0M1602.2 1412.3h0M1608.3 1433.1h0M1614.4 1421.6h0M1620.4 1423.0h0M1626.5 1446.0h0M1632.5 1437.4h0M1638.6 1456.8h0M1644.7 1461.1h0M1650.7 1446.8h0M1656.8 1449.6h0M1662.8 1476.9h0M1668.9 1468.3h0M1675.0 1461.1h0M1681.0 1464.0h0M1687.1 1466.9h0M1693.1 1469.7h0" stroke="#ffa500" stroke-width="11.4" stroke-linecap="round"/><path d="M1580.5 1207.7h7.2m-3.6 0V1100.9m-3.6 0h7.2M1586.5 1214.4h7.2m-3.6 0V1108.5m-3.6 0h7.2M1592.6 1207.7h7.2m-3.6 0V1100.9m-3.6 0h7.2M1598.6 1207.7h7.2m-3.6 0V1100.9m-3.6 0h7.2M1604.7 1297.6h7.2m-3.6 0V1205.0m-3.6 0h7.2M1610.8 1273.7h7.2m-3.6 0V1177.2m-3.6 0h7.2M1616.8 1275.0h7.2m-3.6 0V1178.7m-3.6 0h7.2M1622.9 1283.0h7.2m-3.6 0V1188.0m-3.6 0h7.2M1628.9 1310.1h7.2m-3.6 0V1219.8m-3.6 0h7.2M1635.0 1329.3h7.2m-3.6 0V1242.3m-3.6 0h7.2M1641.1 1326.0h7.2m-3.6 0V1238.4m-3.6 0h7.2M1647.1 1352.9h7.2m-3.6 0V1270.4m-3.6 0h7.2M1653.2 1350.3h7.2m-3.6 0V1267.3m-3.6 0h7.2M1659.2 1374.5h7.2m-3.6 0V1296.2m-3.6 0h7.2M1665.3 1381.7h7.2m-3.6 0V1304.8m-3.6 0h7.2M1671.4 1386.3h7.2m-3.6 0V1310.3m-3.6 0h7.2M1677.4 1393.4h7.2m-3.6 0V1319.0m-3.6 0h7.2M1683.5 1410.3h7.2m-3.6 0V1339.5m-3.6 0h7.2M1689.5 1442.4h7.2m-3.6 0V1379.2m-3.6 0h7.2" stroke="#0000ff" stroke-width="2.1" fill="none"/><polyline points="1602.2,1190.7 1608.3,1206.8 1614.4,1222.0 1620.4,1236.4 1626.5,1250.4 1632.5,1264.2 1638.6,1278.0 1644.7,1291.7 1650.7,1304.9 1656.8,1317.7 1662.8,1330.2 1668.9,1342.6 1675.0,1355.3 1681.0,1368.7 1687.1,1383.4 1693.1,1399.4" stroke="#0000ff" stroke-width="2.3" fill="none" stroke-dasharray="8.5 3.7"/><path d="M1295.6 1382.1h7.2m-3.6 0V1304.5m-3.6 0h7.2M1301.7 1296.8h7.2m-3.6 0V1203.8m-3.6 0h7.2M1307.8 1250.2h7.2m-3.6 0V1149.8m-3.6 0h7.2M1313.8 1240.0h7.2m-3.6 0V1138.1m-3.6 0h7.2M1319.9 1229.9h7.2m-3.6 0V1126.5m-3.6 0h7.2M1325.9 1260.0h7.2m-3.6 0V1161.1m-3.6 0h7.2M1332.0 1205.4h7.2m-3.6 0V1098.4m-3.6 0h7.2M1356.2 1216.1h7.2m-3.6 0V1110.7m-3.6 0h7.2M1362.3 1272.7h7.2m-3.6 0V1175.8m-3.6 0h7.2M1368.4 1211.3h7.2m-3.6 0V1105.2m-3.6 0h7.2M1374.4 1272.9h7.2m-3.6 0V1176.0m-3.6 0h7.2M1380.5 1283.2h7.2m-3.6 0V1187.9m-3.6 0h7.2M1386.5 1299.4h7.2m-3.6 0V1206.8m-3.6 0h7.2M1392.6 1298.5h7.2m-3.6 0V1205.7m-3.6 0h7.2M1398.7 1322.4h7.2m-3.6 0V1233.7m-3.6 0h7.2M1404.7 1321.8h7.2m-3.6 0V1232.9m-3.6 0h7.2M1410.8 1354.5h7.2m-3.6 0V1271.5m-3.6 0h7.2M1416.8 1346.3h7.2m-3.6 0V1261.8m-3.6 0h7.2M1422.9 1287.0h7.2m-3.6 0V1192.3m-3.6 0h7.2M1429.0 1356.8h7.2m-3.6 0V1274.2m-3.6 0h7.2M1435.0 1368.4h7.2m-3.6 0V1288.0m-3.6 0h7.2M1441.1 1359.9h7.2m-3.6 0V1277.9m-3.6 0h7.2M1447.1 1363.9h7.2m-3.6 0V1282.7m-3.6 0h7.2M1453.2 1405.3h7.2m-3.6 0V1332.5m-3.6 0h7.2M1459.3 1395.7h7.2m-3.6 0V1320.8m-3.6 0h7.2M1465.3 1380.6h7.2m-3.6 0V1302.7m-3.6 0h7.2M1471.4 1398.7h7.2m-3.6 0V1324.5m-3.6 0h7.2M1477.4 1406.8h7.2m-3.6 0V1334.3m-3.6 0h7.2M1483.5 1387.0h7.2m-3.6 0V1310.4m-3.6 0h7.2M1489.6 1429.3h7.2m-3.6 0V1361.8m-3.6 0h7.2M1495.6 1422.6h7.2m-3.6 0V1353.6m-3.6 0h7.2M1501.7 1435.8h7.2m-3.6 0V1369.9m-3.6 0h7.2M1507.7 1410.7h7.2m-3.6 0V1339.0m-3.6 0h7.2M1513.8 1462.0h7.2m-3.6 0V1402.7m-3.6 0h7.2M1519.9 1451.3h7.2m-3.6 0V1389.2m-3.6 0h7.2M1525.9 1454.1h7.2m-3.6 0V1392.7m-3.6 0h7.2M1532.0 1443.9h7.2m-3.6 0V1380.0m-3.6 0h7.2M1538.0 1449.4h7.2m-3.6 0V1386.9m-3.6 0h7.2M1544.1 1444.4h7.2m-3.6 0V1380.5m-3.6 0h7.2M1550.2 1480.5h7.2m-3.6 0V1426.6m-3.6 0h7.2M1556.2 1461.1h7.2m-3.6 0V1401.6m-3.6 0h7.2M1562.3 1475.6h7.2m-3.6 0V1420.2m-3.6 0h7.2M1568.3 1482.4h7.2m-3.6 0V1428.9m-3.6 0h7.2M1574.4 1474.6h7.2m-3.6 0V1418.8m-3.6 0h7.2M1580.5 1490.4h7.2m-3.6 0V1439.5m-3.6 0h7.2M1586.5 1501.7h7.2m-3.6 0V1454.5m-3.6 0h7.2M1592.6 1492.2h7.2m-3.6 0V1441.9m-3.6 0h7.2M1598.6 1502.9h7.2m-3.6 0V1456.2m-3.6 0h7.2M1604.7 1499.6h7.2m-3.6 0V1451.8m-3.6 0h7.2M1610.8 1494.9h7.2m-3.6 0V1445.5m-3.6 0h7.2M1616.8 1498.2h7.2m-3.6 0V1449.9m-3.6 0h7.2M1622.9 1491.7h7.2m-3.6 0V1441.3m-3.6 0h7.2M1628.9 1506.8h7.2m-3.6 0V1461.6m-3.6 0h7.2M1635.0 1516.5h7.2m-3.6 0V1475.0m-3.6 0h7.2M1641.1 1514.5h7.2m-3.6 0V1472.3m-3.6 0h7.2M1647.1 1517.6h7.2m-3.6 0V1476.6m-3.6 0h7.2M1653.2 1521.2h7.2m-3.6 0V1481.6m-3.6 0h7.2M1659.2 1515.3h7.2m-3.6 0V1473.3m-3.6 0h7.2M1665.3 1522.6h7.2m-3.6 0V1483.7m-3.6 0h7.2M1671.4 1529.7h7.2m-3.6 0V1494.1m-3.6 0h7.2M1677.4 1520.7h7.2m-3.6 0V1481.0m-3.6 0h7.2M1683.5 1526.2h7.2m-3.6 0V1488.9m-3.6 0h7.2M1689.5 1526.2h7.2m-3.6 0V1488.9m-3.6 0h7.2" stroke="#008000" stroke-width="2.1" fill="none"/><polyline points="1299.2,1296.8 1305.3,1268.9 1311.4,1243.2 1317.4,1220.0 1323.5,1200.1 1329.5,1184.1" stroke="#008000" stroke-width="2.3" fill="none" stroke-dasharray="8.5 3.7"/><polyline points="1365.9,1188.7 1372.0,1202.0 1378.0,1216.1 1384.1,1230.1 1390.1,1243.3 1396.2,1255.4 1402.2,1266.3 1408.3,1276.2 1414.4,1285.3 1420.4,1293.8 1426.5,1302.0 1432.5,1310.2 1438.6,1318.4 1444.7,1326.5 1450.7,1334.4 1456.8,1342.0 1462.9,1349.1 1468.9,1356.0 1475.0,1362.6 1481.0,1369.3 1487.1,1376.0 1493.2,1382.7 1499.2,1389.3 1505.3,1395.8 1511.3,1401.8 1517.4,1407.5 1523.5,1412.7 1529.5,1417.5 1535.6,1422.2 1541.6,1427.0 1547.7,1431.8 1553.8,1436.9 1559.8,1442.0 1565.9,1447.2 1571.9,1452.2 1578.0,1456.9 1584.1,1461.2 1590.1,1465.0 1596.2,1468.3 1602.2,1471.2 1608.3,1473.9 1614.4,1476.6 1620.4,1479.4 1626.5,1482.4 1632.5,1485.6 1638.6,1488.8 1644.7,1491.9 1650.7,1494.9 1656.8,1497.6 1662.8,1500.1 1668.9,1502.2 1675.0,1504.1 1681.0,1505.7 1687.1,1507.1 1693.1,1508.4" stroke="#008000" stroke-width="2.3" fill="none" stroke-dasharray="8.5 3.7"/><path d="M1295.6 1402.9h7.2m-3.6 0V1329.6m-3.6 0h7.2M1301.7 1268.7h7.2m-3.6 0V1171.1m-3.6 0h7.2M1307.8 1246.5h7.2m-3.6 0V1145.6m-3.6 0h7.2M1338.1 1261.3h7.2m-3.6 0V1162.6m-3.6 0h7.2M1344.1 1226.9h7.2m-3.6 0V1123.1m-3.6 0h7.2M1350.2 1240.0h7.2m-3.6 0V1138.1m-3.6 0h7.2M1356.2 1233.9h7.2m-3.6 0V1131.1m-3.6 0h7.2M1362.3 1293.0h7.2m-3.6 0V1199.4m-3.6 0h7.2M1368.4 1204.1h7.2m-3.6 0V1097.0m-3.6 0h7.2M1374.4 1267.9h7.2m-3.6 0V1170.2m-3.6 0h7.2M1380.5 1315.2h7.2m-3.6 0V1225.2m-3.6 0h7.2M1386.5 1336.4h7.2m-3.6 0V1250.1m-3.6 0h7.2M1392.6 1308.8h7.2m-3.6 0V1217.7m-3.6 0h7.2M1398.7 1313.4h7.2m-3.6 0V1223.1m-3.6 0h7.2M1404.7 1337.6h7.2m-3.6 0V1251.5m-3.6 0h7.2M1410.8 1326.6h7.2m-3.6 0V1238.6m-3.6 0h7.2M1416.8 1352.4h7.2m-3.6 0V1269.0m-3.6 0h7.2M1422.9 1333.4h7.2m-3.6 0V1246.6m-3.6 0h7.2M1429.0 1370.7h7.2m-3.6 0V1290.8m-3.6 0h7.2M1435.0 1364.2h7.2m-3.6 0V1283.0m-3.6 0h7.2M1441.1 1349.9h7.2m-3.6 0V1266.1m-3.6 0h7.2M1447.1 1320.0h7.2m-3.6 0V1230.9m-3.6 0h7.2M1453.2 1403.5h7.2m-3.6 0V1330.3m-3.6 0h7.2M1459.3 1400.2h7.2m-3.6 0V1326.3m-3.6 0h7.2M1465.3 1412.0h7.2m-3.6 0V1340.6m-3.6 0h7.2M1471.4 1389.4h7.2m-3.6 0V1313.2m-3.6 0h7.2M1477.4 1426.8h7.2m-3.6 0V1358.7m-3.6 0h7.2M1483.5 1421.7h7.2m-3.6 0V1352.4m-3.6 0h7.2M1489.6 1419.6h7.2m-3.6 0V1349.9m-3.6 0h7.2M1495.6 1437.8h7.2m-3.6 0V1372.4m-3.6 0h7.2M1501.7 1441.7h7.2m-3.6 0V1377.2m-3.6 0h7.2M1507.7 1439.8h7.2m-3.6 0V1374.8m-3.6 0h7.2M1513.8 1463.6h7.2m-3.6 0V1404.7m-3.6 0h7.2M1519.9 1460.3h7.2m-3.6 0V1400.6m-3.6 0h7.2M1525.9 1452.7h7.2m-3.6 0V1391.0m-3.6 0h7.2M1532.0 1450.4h7.2m-3.6 0V1388.1m-3.6 0h7.2M1538.0 1458.8h7.2m-3.6 0V1398.6m-3.6 0h7.2M1544.1 1478.9h7.2m-3.6 0V1424.4m-3.6 0h7.2M1550.2 1470.0h7.2m-3.6 0V1412.9m-3.6 0h7.2M1556.2 1460.6h7.2m-3.6 0V1400.9m-3.6 0h7.2M1562.3 1467.2h7.2m-3.6 0V1409.4m-3.6 0h7.2M1568.3 1477.0h7.2m-3.6 0V1422.0m-3.6 0h7.2M1574.4 1487.3h7.2m-3.6 0V1435.4m-3.6 0h7.2M1580.5 1477.1h7.2m-3.6 0V1422.0m-3.6 0h7.2M1586.5 1490.8h7.2m-3.6 0V1440.0m-3.6 0h7.2M1592.6 1498.1h7.2m-3.6 0V1449.7m-3.6 0h7.2M1598.6 1498.2h7.2m-3.6 0V1449.8m-3.6 0h7.2M1604.7 1483.4h7.2m-3.6 0V1430.2m-3.6 0h7.2M1610.8 1496.0h7.2m-3.6 0V1447.0m-3.6 0h7.2M1616.8 1492.0h7.2m-3.6 0V1441.5m-3.6 0h7.2M1622.9 1506.1h7.2m-3.6 0V1460.6m-3.6 0h7.2M1628.9 1499.4h7.2m-3.6 0V1451.5m-3.6 0h7.2M1635.0 1511.5h7.2m-3.6 0V1468.1m-3.6 0h7.2M1641.1 1511.3h7.2m-3.6 0V1467.7m-3.6 0h7.2M1647.1 1497.3h7.2m-3.6 0V1448.7m-3.6 0h7.2M1653.2 1511.1h7.2m-3.6 0V1467.4m-3.6 0h7.2M1659.2 1519.9h7.2m-3.6 0V1479.9m-3.6 0h7.2M1665.3 1520.1h7.2m-3.6 0V1480.1m-3.6 0h7.2M1671.4 1520.2h7.2m-3.6 0V1480.3m-3.6 0h7.2M1677.4 1518.3h7.2m-3.6 0V1477.5m-3.6 0h7.2M1683.5 1527.6h7.2m-3.6 0V1491.1m-3.6 0h7.2M1689.5 1533.6h7.2m-3.6 0V1500.1m-3.6 0h7.2" stroke="#ff0000" stroke-width="2.1" fill="none"/><polyline points="1299.2,1292.0 1305.3,1256.7 1311.4,1227.3 1317.4,1204.9 1323.5,1189.9" stroke="#ff0000" stroke-width="2.3" fill="none" stroke-dasharray="8.5 3.7"/><polyline points="1353.8,1194.1 1359.8,1203.2 1365.9,1213.4 1372.0,1224.4 1378.0,1235.6 1384.1,1246.7 1390.1,1257.3 1396.2,1267.2 1402.2,1276.2 1408.3,1284.4 1414.4,1291.9 1420.4,1299.0 1426.5,1305.9 1432.5,1312.9 1438.6,1320.3 1444.7,1328.2 1450.7,1336.6 1456.8,1345.4 1462.9,1354.3 1468.9,1363.0 1475.0,1371.5 1481.0,1379.6 1487.1,1387.2 1493.2,1394.3 1499.2,1400.9 1505.3,1407.0 1511.3,1412.5 1517.4,1417.5 1523.5,1422.0 1529.5,1426.0 1535.6,1429.6 1541.6,1433.1 1547.7,1436.4 1553.8,1439.8 1559.8,1443.3 1565.9,1446.9 1571.9,1450.5 1578.0,1454.2 1584.1,1457.7 1590.1,1461.0 1596.2,1464.1 1602.2,1466.9 1608.3,1469.6 1614.4,1472.3 1620.4,1474.9 1626.5,1477.7 1632.5,1480.4 1638.6,1483.3 1644.7,1486.2 1650.7,1489.2 1656.8,1492.3 1662.8,1495.5 1668.9,1498.8 1675.0,1502.1 1681.0,1505.6 1687.1,1509.2 1693.1,1512.8" stroke="#ff0000" stroke-width="2.3" fill="none" stroke-dasharray="8.5 3.7"/><path d="M1295.6 1373.6h7.2m-3.6 0V1294.3m-3.6 0h7.2M1301.7 1287.3h7.2m-3.6 0V1192.7m-3.6 0h7.2M1307.8 1244.1h7.2m-3.6 0V1142.8m-3.6 0h7.2M1319.9 1195.5h7.2m-3.6 0V1087.2m-3.6 0h7.2M1332.0 1243.7h7.2m-3.6 0V1142.3m-3.6 0h7.2M1350.2 1202.8h7.2m-3.6 0V1095.5m-3.6 0h7.2M1356.2 1232.3h7.2m-3.6 0V1129.3m-3.6 0h7.2M1362.3 1246.0h7.2m-3.6 0V1145.0m-3.6 0h7.2M1368.4 1198.2h7.2m-3.6 0V1090.3m-3.6 0h7.2M1374.4 1298.5h7.2m-3.6 0V1205.8m-3.6 0h7.2M1380.5 1284.4h7.2m-3.6 0V1189.4m-3.6 0h7.2M1386.5 1277.5h7.2m-3.6 0V1181.3m-3.6 0h7.2M1392.6 1279.5h7.2m-3.6 0V1183.7m-3.6 0h7.2M1398.7 1322.5h7.2m-3.6 0V1233.8m-3.6 0h7.2M1404.7 1311.5h7.2m-3.6 0V1220.9m-3.6 0h7.2M1410.8 1335.7h7.2m-3.6 0V1249.3m-3.6 0h7.2M1416.8 1334.5h7.2m-3.6 0V1247.9m-3.6 0h7.2M1422.9 1349.6h7.2m-3.6 0V1265.7m-3.6 0h7.2M1429.0 1379.1h7.2m-3.6 0V1300.9m-3.6 0h7.2M1435.0 1363.8h7.2m-3.6 0V1282.6m-3.6 0h7.2M1441.1 1352.2h7.2m-3.6 0V1268.9m-3.6 0h7.2M1447.1 1396.6h7.2m-3.6 0V1321.9m-3.6 0h7.2M1453.2 1389.8h7.2m-3.6 0V1313.7m-3.6 0h7.2M1459.3 1379.2h7.2m-3.6 0V1301.0m-3.6 0h7.2M1465.3 1415.7h7.2m-3.6 0V1345.2m-3.6 0h7.2M1471.4 1400.3h7.2m-3.6 0V1326.3m-3.6 0h7.2M1477.4 1425.5h7.2m-3.6 0V1357.2m-3.6 0h7.2M1483.5 1394.8h7.2m-3.6 0V1319.7m-3.6 0h7.2M1489.6 1378.5h7.2m-3.6 0V1300.2m-3.6 0h7.2M1495.6 1390.1h7.2m-3.6 0V1314.0m-3.6 0h7.2M1501.7 1431.6h7.2m-3.6 0V1364.7m-3.6 0h7.2M1507.7 1422.5h7.2m-3.6 0V1353.4m-3.6 0h7.2M1513.8 1436.5h7.2m-3.6 0V1370.8m-3.6 0h7.2M1519.9 1441.6h7.2m-3.6 0V1377.1m-3.6 0h7.2M1525.9 1426.7h7.2m-3.6 0V1358.6m-3.6 0h7.2M1532.0 1467.0h7.2m-3.6 0V1409.1m-3.6 0h7.2M1538.0 1443.8h7.2m-3.6 0V1379.8m-3.6 0h7.2M1544.1 1461.5h7.2m-3.6 0V1402.1m-3.6 0h7.2M1550.2 1449.0h7.2m-3.6 0V1386.4m-3.6 0h7.2M1556.2 1467.1h7.2m-3.6 0V1409.3m-3.6 0h7.2M1562.3 1479.2h7.2m-3.6 0V1424.8m-3.6 0h7.2M1568.3 1473.7h7.2m-3.6 0V1417.6m-3.6 0h7.2M1574.4 1472.6h7.2m-3.6 0V1416.3m-3.6 0h7.2M1580.5 1482.4h7.2m-3.6 0V1429.0m-3.6 0h7.2M1586.5 1481.9h7.2m-3.6 0V1428.3m-3.6 0h7.2M1592.6 1493.3h7.2m-3.6 0V1443.4m-3.6 0h7.2M1598.6 1506.9h7.2m-3.6 0V1461.7m-3.6 0h7.2M1604.7 1488.0h7.2m-3.6 0V1436.3m-3.6 0h7.2M1610.8 1492.4h7.2m-3.6 0V1442.2m-3.6 0h7.2M1616.8 1499.4h7.2m-3.6 0V1451.4m-3.6 0h7.2M1622.9 1502.6h7.2m-3.6 0V1455.8m-3.6 0h7.2M1628.9 1498.7h7.2m-3.6 0V1450.6m-3.6 0h7.2M1635.0 1510.7h7.2m-3.6 0V1466.9m-3.6 0h7.2M1641.1 1514.3h7.2m-3.6 0V1471.9m-3.6 0h7.2M1647.1 1513.9h7.2m-3.6 0V1471.4m-3.6 0h7.2M1653.2 1508.6h7.2m-3.6 0V1464.1m-3.6 0h7.2M1659.2 1523.9h7.2m-3.6 0V1485.5m-3.6 0h7.2M1665.3 1513.7h7.2m-3.6 0V1471.0m-3.6 0h7.2M1671.4 1524.5h7.2m-3.6 0V1486.4m-3.6 0h7.2M1677.4 1528.2h7.2m-3.6 0V1491.9m-3.6 0h7.2M1683.5 1520.3h7.2m-3.6 0V1480.4m-3.6 0h7.2M1689.5 1527.9h7.2m-3.6 0V1491.5m-3.6 0h7.2" stroke="#00bfbf" stroke-width="2.1" fill="none"/><polyline points="1299.2,1280.7 1305.3,1248.3 1311.4,1219.8 1317.4,1196.4 1323.5,1178.6" stroke="#00bfbf" stroke-width="2.3" fill="none" stroke-dasharray="8.5 3.7"/><polyline points="1365.9,1187.7 1372.0,1200.3 1378.0,1213.3 1384.1,1226.4 1390.1,1239.3 1396.2,1251.8 1402.2,1263.9 1408.3,1275.5 1414.4,1286.7 1420.4,1297.4 1426.5,1307.4 1432.5,1316.8 1438.6,1325.5 1444.7,1333.5 1450.7,1340.7 1456.8,1347.1 1462.9,1352.8 1468.9,1357.7 1475.0,1362.0 1481.0,1366.1 1487.1,1370.2 1493.2,1374.6 1499.2,1379.7 1505.3,1385.4 1511.3,1391.6 1517.4,1397.9 1523.5,1404.3 1529.5,1410.4 1535.6,1416.2 1541.6,1421.8 1547.7,1427.1 1553.8,1432.3 1559.8,1437.3 1565.9,1442.1 1571.9,1446.8 1578.0,1451.4 1584.1,1455.7 1590.1,1459.8 1596.2,1463.6 1602.2,1467.0 1608.3,1470.3 1614.4,1473.4 1620.4,1476.5 1626.5,1479.6 1632.5,1482.6 1638.6,1485.7 1644.7,1488.8 1650.7,1491.7 1656.8,1494.6 1662.8,1497.3 1668.9,1499.9 1675.0,1502.3 1681.0,1504.6 1687.1,1506.7 1693.1,1508.6" stroke="#00bfbf" stroke-width="2.3" fill="none" stroke-dasharray="8.5 3.7"/><path d="M1295.6 1350.6h7.2m-3.6 0V1266.9m-3.6 0h7.2M1301.7 1298.1h7.2m-3.6 0V1205.2m-3.6 0h7.2M1307.8 1215.1h7.2m-3.6 0V1109.6m-3.6 0h7.2M1319.9 1223.3h7.2m-3.6 0V1118.9m-3.6 0h7.2M1338.1 1234.2h7.2m-3.6 0V1131.4m-3.6 0h7.2M1344.1 1207.9h7.2m-3.6 0V1101.3m-3.6 0h7.2M1350.2 1232.2h7.2m-3.6 0V1129.1m-3.6 0h7.2M1356.2 1258.9h7.2m-3.6 0V1159.8m-3.6 0h7.2M1362.3 1267.0h7.2m-3.6 0V1169.2m-3.6 0h7.2M1368.4 1259.0h7.2m-3.6 0V1159.9m-3.6 0h7.2M1374.4 1270.2h7.2m-3.6 0V1172.9m-3.6 0h7.2M1380.5 1297.6h7.2m-3.6 0V1204.7m-3.6 0h7.2M1386.5 1303.1h7.2m-3.6 0V1211.1m-3.6 0h7.2M1392.6 1268.2h7.2m-3.6 0V1170.5m-3.6 0h7.2M1398.7 1305.2h7.2m-3.6 0V1213.6m-3.6 0h7.2M1404.7 1295.6h7.2m-3.6 0V1202.3m-3.6 0h7.2M1410.8 1296.9h7.2m-3.6 0V1203.9m-3.6 0h7.2M1416.8 1322.8h7.2m-3.6 0V1234.2m-3.6 0h7.2M1422.9 1287.2h7.2m-3.6 0V1192.7m-3.6 0h7.2M1429.0 1372.8h7.2m-3.6 0V1293.3m-3.6 0h7.2M1435.0 1345.3h7.2m-3.6 0V1260.6m-3.6 0h7.2M1441.1 1377.6h7.2m-3.6 0V1299.0m-3.6 0h7.2M1447.1 1337.9h7.2m-3.6 0V1251.9m-3.6 0h7.2M1453.2 1349.8h7.2m-3.6 0V1265.9m-3.6 0h7.2M1459.3 1424.3h7.2m-3.6 0V1355.7m-3.6 0h7.2M1465.3 1414.1h7.2m-3.6 0V1343.2m-3.6 0h7.2M1471.4 1391.6h7.2m-3.6 0V1315.9m-3.6 0h7.2M1477.4 1395.2h7.2m-3.6 0V1320.2m-3.6 0h7.2M1483.5 1401.8h7.2m-3.6 0V1328.2m-3.6 0h7.2M1489.6 1420.2h7.2m-3.6 0V1350.7m-3.6 0h7.2M1495.6 1416.9h7.2m-3.6 0V1346.6m-3.6 0h7.2M1501.7 1418.7h7.2m-3.6 0V1348.8m-3.6 0h7.2M1507.7 1434.4h7.2m-3.6 0V1368.1m-3.6 0h7.2M1513.8 1423.6h7.2m-3.6 0V1354.8m-3.6 0h7.2M1519.9 1469.0h7.2m-3.6 0V1411.7m-3.6 0h7.2M1525.9 1439.5h7.2m-3.6 0V1374.4m-3.6 0h7.2M1532.0 1463.9h7.2m-3.6 0V1405.2m-3.6 0h7.2M1538.0 1445.0h7.2m-3.6 0V1381.3m-3.6 0h7.2M1544.1 1463.5h7.2m-3.6 0V1404.6m-3.6 0h7.2M1550.2 1474.2h7.2m-3.6 0V1418.3m-3.6 0h7.2M1556.2 1465.2h7.2m-3.6 0V1406.8m-3.6 0h7.2M1562.3 1481.3h7.2m-3.6 0V1427.6m-3.6 0h7.2M1568.3 1484.5h7.2m-3.6 0V1431.7m-3.6 0h7.2M1574.4 1492.7h7.2m-3.6 0V1442.5m-3.6 0h7.2M1580.5 1483.0h7.2m-3.6 0V1429.7m-3.6 0h7.2M1586.5 1481.8h7.2m-3.6 0V1428.2m-3.6 0h7.2M1592.6 1480.6h7.2m-3.6 0V1426.6m-3.6 0h7.2M1598.6 1493.3h7.2m-3.6 0V1443.4m-3.6 0h7.2M1604.7 1486.8h7.2m-3.6 0V1434.7m-3.6 0h7.2M1610.8 1497.5h7.2m-3.6 0V1448.9m-3.6 0h7.2M1616.8 1501.0h7.2m-3.6 0V1453.7m-3.6 0h7.2M1622.9 1499.2h7.2m-3.6 0V1451.2m-3.6 0h7.2M1628.9 1498.6h7.2m-3.6 0V1450.4m-3.6 0h7.2M1635.0 1510.1h7.2m-3.6 0V1466.0m-3.6 0h7.2M1641.1 1511.8h7.2m-3.6 0V1468.4m-3.6 0h7.2M1647.1 1513.7h7.2m-3.6 0V1471.1m-3.6 0h7.2M1653.2 1514.8h7.2m-3.6 0V1472.6m-3.6 0h7.2M1659.2 1521.7h7.2m-3.6 0V1482.5m-3.6 0h7.2M1665.3 1514.5h7.2m-3.6 0V1472.3m-3.6 0h7.2M1671.4 1523.5h7.2m-3.6 0V1485.0m-3.6 0h7.2M1677.4 1521.8h7.2m-3.6 0V1482.5m-3.6 0h7.2M1683.5 1528.9h7.2m-3.6 0V1492.9m-3.6 0h7.2M1689.5 1526.2h7.2m-3.6 0V1488.9m-3.6 0h7.2" stroke="#bf00bf" stroke-width="2.1" fill="none"/><polyline points="1299.2,1263.9 1305.3,1235.5 1311.4,1211.7 1317.4,1193.6" stroke="#bf00bf" stroke-width="2.3" fill="none" stroke-dasharray="8.5 3.7"/><polyline points="1353.8,1189.1 1359.8,1197.9 1365.9,1206.9 1372.0,1215.7 1378.0,1224.0 1384.1,1231.7 1390.1,1238.8 1396.2,1245.8 1402.2,1253.0 1408.3,1260.7 1414.4,1269.1 1420.4,1278.3 1426.5,1288.1 1432.5,1298.4 1438.6,1308.9 1444.7,1319.2 1450.7,1329.1 1456.8,1338.3 1462.9,1346.9 1468.9,1354.6 1475.0,1361.6 1481.0,1368.1 1487.1,1374.3 1493.2,1380.5 1499.2,1386.9 1505.3,1393.3 1511.3,1399.8 1517.4,1406.2 1523.5,1412.5 1529.5,1418.5 1535.6,1424.2 1541.6,1429.6 1547.7,1434.8 1553.8,1439.6 1559.8,1444.1 1565.9,1448.1 1571.9,1451.7 1578.0,1454.9 1584.1,1457.7 1590.1,1460.3 1596.2,1462.9 1602.2,1465.7 1608.3,1468.6 1614.4,1471.7 1620.4,1475.0 1626.5,1478.4 1632.5,1481.8 1638.6,1485.1 1644.7,1488.4 1650.7,1491.5 1656.8,1494.5 1662.8,1497.2 1668.9,1499.9 1675.0,1502.4 1681.0,1504.8 1687.1,1507.0 1693.1,1509.2" stroke="#bf00bf" stroke-width="2.3" fill="none" stroke-dasharray="8.5 3.7"/><path d="M1295.6 1371.6h7.2m-3.6 0V1291.9m-3.6 0h7.2M1301.7 1299.8h7.2m-3.6 0V1207.3m-3.6 0h7.2M1313.8 1207.3h7.2m-3.6 0V1100.7m-3.6 0h7.2M1332.0 1228.5h7.2m-3.6 0V1124.9m-3.6 0h7.2M1338.1 1224.9h7.2m-3.6 0V1120.8m-3.6 0h7.2M1344.1 1204.9h7.2m-3.6 0V1097.9m-3.6 0h7.2M1350.2 1228.9h7.2m-3.6 0V1125.3m-3.6 0h7.2M1356.2 1239.4h7.2m-3.6 0V1137.4m-3.6 0h7.2M1362.3 1260.4h7.2m-3.6 0V1161.6m-3.6 0h7.2M1368.4 1313.9h7.2m-3.6 0V1223.7m-3.6 0h7.2M1374.4 1278.0h7.2m-3.6 0V1182.0m-3.6 0h7.2M1380.5 1340.4h7.2m-3.6 0V1254.9m-3.6 0h7.2M1386.5 1280.1h7.2m-3.6 0V1184.4m-3.6 0h7.2M1392.6 1320.5h7.2m-3.6 0V1231.5m-3.6 0h7.2M1398.7 1329.5h7.2m-3.6 0V1242.0m-3.6 0h7.2M1404.7 1325.2h7.2m-3.6 0V1237.0m-3.6 0h7.2M1410.8 1322.0h7.2m-3.6 0V1233.2m-3.6 0h7.2M1416.8 1369.5h7.2m-3.6 0V1289.3m-3.6 0h7.2M1422.9 1383.5h7.2m-3.6 0V1306.1m-3.6 0h7.2M1429.0 1377.6h7.2m-3.6 0V1299.1m-3.6 0h7.2M1435.0 1402.6h7.2m-3.6 0V1329.2m-3.6 0h7.2M1441.1 1390.0h7.2m-3.6 0V1314.0m-3.6 0h7.2M1447.1 1344.2h7.2m-3.6 0V1259.3m-3.6 0h7.2M1453.2 1404.3h7.2m-3.6 0V1331.3m-3.6 0h7.2M1459.3 1379.5h7.2m-3.6 0V1301.3m-3.6 0h7.2M1465.3 1420.4h7.2m-3.6 0V1350.9m-3.6 0h7.2M1471.4 1398.2h7.2m-3.6 0V1323.9m-3.6 0h7.2M1477.4 1414.1h7.2m-3.6 0V1343.2m-3.6 0h7.2M1483.5 1415.0h7.2m-3.6 0V1344.3m-3.6 0h7.2M1489.6 1410.0h7.2m-3.6 0V1338.2m-3.6 0h7.2M1495.6 1395.0h7.2m-3.6 0V1319.9m-3.6 0h7.2M1501.7 1425.6h7.2m-3.6 0V1357.3m-3.6 0h7.2M1507.7 1431.5h7.2m-3.6 0V1364.6m-3.6 0h7.2M1513.8 1450.7h7.2m-3.6 0V1388.4m-3.6 0h7.2M1519.9 1435.1h7.2m-3.6 0V1369.0m-3.6 0h7.2M1525.9 1450.7h7.2m-3.6 0V1388.4m-3.6 0h7.2M1532.0 1441.8h7.2m-3.6 0V1377.3m-3.6 0h7.2M1538.0 1457.1h7.2m-3.6 0V1396.6m-3.6 0h7.2M1544.1 1439.8h7.2m-3.6 0V1374.9m-3.6 0h7.2M1550.2 1484.1h7.2m-3.6 0V1431.2m-3.6 0h7.2M1556.2 1472.0h7.2m-3.6 0V1415.6m-3.6 0h7.2M1562.3 1463.8h7.2m-3.6 0V1405.0m-3.6 0h7.2M1568.3 1479.6h7.2m-3.6 0V1425.3m-3.6 0h7.2M1574.4 1486.5h7.2m-3.6 0V1434.3m-3.6 0h7.2M1580.5 1485.0h7.2m-3.6 0V1432.4m-3.6 0h7.2M1586.5 1496.8h7.2m-3.6 0V1448.0m-3.6 0h7.2M1592.6 1488.3h7.2m-3.6 0V1436.7m-3.6 0h7.2M1598.6 1470.7h7.2m-3.6 0V1413.9m-3.6 0h7.2M1604.7 1485.9h7.2m-3.6 0V1433.6m-3.6 0h7.2M1610.8 1505.0h7.2m-3.6 0V1459.1m-3.6 0h7.2M1616.8 1506.1h7.2m-3.6 0V1460.5m-3.6 0h7.2M1622.9 1505.6h7.2m-3.6 0V1459.9m-3.6 0h7.2M1628.9 1499.0h7.2m-3.6 0V1450.9m-3.6 0h7.2M1635.0 1512.7h7.2m-3.6 0V1469.7m-3.6 0h7.2M1641.1 1514.2h7.2m-3.6 0V1471.8m-3.6 0h7.2M1647.1 1507.8h7.2m-3.6 0V1462.9m-3.6 0h7.2M1653.2 1510.5h7.2m-3.6 0V1466.7m-3.6 0h7.2M1659.2 1519.3h7.2m-3.6 0V1479.0m-3.6 0h7.2M1665.3 1524.6h7.2m-3.6 0V1486.6m-3.6 0h7.2M1671.4 1528.1h7.2m-3.6 0V1491.8m-3.6 0h7.2M1677.4 1526.6h7.2m-3.6 0V1489.6m-3.6 0h7.2M1683.5 1533.7h7.2m-3.6 0V1500.2m-3.6 0h7.2M1689.5 1524.6h7.2m-3.6 0V1486.6m-3.6 0h7.2" stroke="#bfbf00" stroke-width="2.1" fill="none"/><polyline points="1299.2,1271.1 1305.3,1236.8 1311.4,1208.4 1317.4,1187.4" stroke="#bfbf00" stroke-width="2.3" fill="none" stroke-dasharray="8.5 3.7"/><polyline points="1353.8,1193.5 1359.8,1206.0 1365.9,1218.9 1372.0,1231.5 1378.0,1243.6 1384.1,1254.9 1390.1,1265.6 1396.2,1275.9 1402.2,1286.0 1408.3,1296.1 1414.4,1305.9 1420.4,1315.3 1426.5,1323.9 1432.5,1331.6 1438.6,1338.2 1444.7,1344.0 1450.7,1349.2 1456.8,1354.0 1462.9,1358.6 1468.9,1363.1 1475.0,1367.5 1481.0,1372.0 1487.1,1376.6 1493.2,1381.4 1499.2,1386.5 1505.3,1391.9 1511.3,1397.5 1517.4,1403.2 1523.5,1408.9 1529.5,1414.5 1535.6,1420.1 1541.6,1425.5 1547.7,1430.9 1553.8,1436.1 1559.8,1441.1 1565.9,1445.7 1571.9,1449.9 1578.0,1453.7 1584.1,1457.2 1590.1,1460.4 1596.2,1463.6 1602.2,1466.9 1608.3,1470.2 1614.4,1473.6 1620.4,1477.0 1626.5,1480.3 1632.5,1483.6 1638.6,1486.8 1644.7,1490.0 1650.7,1493.3 1656.8,1496.5 1662.8,1499.8 1668.9,1502.9 1675.0,1505.9 1681.0,1508.6 1687.1,1511.0 1693.1,1512.8" stroke="#bfbf00" stroke-width="2.3" fill="none" stroke-dasharray="8.5 3.7"/><path d="M1441.1 1237.1h7.2m-3.6 0V1129.0m-3.6 0h7.2M1447.1 1269.7h7.2m-3.6 0V1166.8m-3.6 0h7.2M1453.2 1259.1h7.2m-3.6 0V1154.4m-3.6 0h7.2M1459.3 1304.8h7.2m-3.6 0V1207.8m-3.6 0h7.2M1465.3 1309.4h7.2m-3.6 0V1213.3m-3.6 0h7.2M1471.4 1303.5h7.2m-3.6 0V1206.3m-3.6 0h7.2M1477.4 1292.9h7.2m-3.6 0V1193.9m-3.6 0h7.2M1483.5 1337.7h7.2m-3.6 0V1246.8m-3.6 0h7.2M1489.6 1312.1h7.2m-3.6 0V1216.4m-3.6 0h7.2M1495.6 1333.1h7.2m-3.6 0V1241.3m-3.6 0h7.2M1501.7 1316.0h7.2m-3.6 0V1221.1m-3.6 0h7.2M1507.7 1372.4h7.2m-3.6 0V1288.3m-3.6 0h7.2M1513.8 1389.3h7.2m-3.6 0V1308.7m-3.6 0h7.2M1519.9 1365.9h7.2m-3.6 0V1280.4m-3.6 0h7.2M1525.9 1361.3h7.2m-3.6 0V1274.9m-3.6 0h7.2M1532.0 1376.3h7.2m-3.6 0V1293.0m-3.6 0h7.2M1538.0 1404.2h7.2m-3.6 0V1326.9m-3.6 0h7.2M1544.1 1389.3h7.2m-3.6 0V1308.7m-3.6 0h7.2M1550.2 1417.1h7.2m-3.6 0V1342.7m-3.6 0h7.2M1556.2 1412.0h7.2m-3.6 0V1336.4m-3.6 0h7.2M1562.3 1418.4h7.2m-3.6 0V1344.3m-3.6 0h7.2M1568.3 1425.5h7.2m-3.6 0V1353.1m-3.6 0h7.2M1574.4 1425.5h7.2m-3.6 0V1353.1m-3.6 0h7.2M1580.5 1434.4h7.2m-3.6 0V1364.2m-3.6 0h7.2M1586.5 1433.1h7.2m-3.6 0V1362.6m-3.6 0h7.2M1592.6 1424.2h7.2m-3.6 0V1351.5m-3.6 0h7.2M1598.6 1445.9h7.2m-3.6 0V1378.6m-3.6 0h7.2M1604.7 1464.2h7.2m-3.6 0V1402.0m-3.6 0h7.2M1610.8 1454.1h7.2m-3.6 0V1389.1m-3.6 0h7.2M1616.8 1455.4h7.2m-3.6 0V1390.7m-3.6 0h7.2M1622.9 1475.5h7.2m-3.6 0V1416.6m-3.6 0h7.2M1628.9 1468.0h7.2m-3.6 0V1406.9m-3.6 0h7.2M1635.0 1484.8h7.2m-3.6 0V1428.9m-3.6 0h7.2M1641.1 1488.5h7.2m-3.6 0V1433.8m-3.6 0h7.2M1647.1 1476.1h7.2m-3.6 0V1417.4m-3.6 0h7.2M1653.2 1478.6h7.2m-3.6 0V1420.7m-3.6 0h7.2M1659.2 1501.9h7.2m-3.6 0V1452.0m-3.6 0h7.2M1665.3 1494.6h7.2m-3.6 0V1442.0m-3.6 0h7.2M1671.4 1488.5h7.2m-3.6 0V1433.8m-3.6 0h7.2M1677.4 1490.9h7.2m-3.6 0V1437.1m-3.6 0h7.2M1683.5 1493.4h7.2m-3.6 0V1440.4m-3.6 0h7.2M1689.5 1495.8h7.2m-3.6 0V1443.7m-3.6 0h7.2" stroke="#ffa500" stroke-width="2.1" fill="none"/><polyline points="1444.7,1178.2 1450.7,1199.4 1456.8,1218.6 1462.9,1234.3 1468.9,1246.4 1475.0,1255.7 1481.0,1263.5 1487.1,1271.1 1493.2,1279.6 1499.2,1289.5 1505.3,1300.6 1511.3,1311.5 1517.4,1321.0 1523.5,1329.0 1529.5,1336.2 1535.6,1343.8 1541.6,1352.1 1547.7,1360.5 1553.8,1368.3 1559.8,1375.2 1565.9,1381.1 1571.9,1386.2 1578.0,1390.8 1584.1,1395.2 1590.1,1400.2 1596.2,1406.0 1602.2,1412.5 1608.3,1419.3 1614.4,1426.0 1620.4,1432.3 1626.5,1438.4 1632.5,1443.9 1638.6,1448.8 1644.7,1452.8 1650.7,1456.4 1656.8,1459.5 1662.8,1462.2 1668.9,1464.1 1675.0,1465.4 1681.0,1466.2 1687.1,1467.0 1693.1,1468.4" stroke="#ffa500" stroke-width="2.3" fill="none" stroke-dasharray="8.5 3.7"/></g><rect x="1279.40" y="1197.40" width="434.30" height="359.30" fill="none" stroke="#000" stroke-width="1.3"/><path d="M1296.2 1556.7v5.9M1356.8 1556.7v5.9M1417.4 1556.7v5.9M1478.0 1556.7v5.9M1538.6 1556.7v5.9M1599.2 1556.7v5.9M1659.8 1556.7v5.9M1279.4 1556.7h-5.9M1279.4 1484.8h-5.9M1279.4 1413.0h-5.9M1279.4 1341.1h-5.9M1279.4 1269.3h-5.9M1279.4 1197.4h-5.9" stroke="#000" stroke-width="1.3" fill="none"/><g font-family="'DejaVu Sans', 'Liberation Sans', sans-serif" font-size="16.8" fill="#000"><text x="1296.2" y="1581.5" text-anchor="middle">0</text><text x="1356.8" y="1581.5" text-anchor="middle">1</text><text x="1417.4" y="1581.5" text-anchor="middle">2</text><text x="1478.0" y="1581.5" text-anchor="middle">3</text><text x="1538.6" y="1581.5" text-anchor="middle">4</text><text x="1599.2" y="1581.5" text-anchor="middle">5</text><text x="1659.8" y="1581.5" text-anchor="middle">6</text><text x="1267.7" y="1563.9" text-anchor="end">0</text><text x="1267.7" y="1492.0" text-anchor="end">1</text><text x="1267.7" y="1420.2" text-anchor="end">2</text><text x="1267.7" y="1348.3" text-anchor="end">3</text><text x="1267.7" y="1276.5" text-anchor="end">4</text><text x="1267.7" y="1204.6" text-anchor="end">5</text></g><text transform="translate(1359.9,980.9) scale(0.981,1)" text-anchor="middle" font-family="'DejaVu Sans', 'Liberation Sans', sans-serif" font-weight="bold" font-size="25" fill="#000" xml:space="preserve">Different Ellipsoid Shield Materials</text><text transform="translate(1279.7,1008.0) scale(0.981,1)" font-family="'DejaVu Sans', 'Liberation Sans', sans-serif" font-weight="bold" font-size="25" fill="#000">1/2</text><text transform="translate(1335.3,1008.0) scale(0.981,1)" font-family="'DejaVu Sans', 'Liberation Sans', sans-serif" font-weight="bold" font-size="25" fill="#000">Position</text><text transform="translate(1358.9,1795.5) scale(0.994,1)" text-anchor="middle" font-family="'DejaVu Sans', 'Liberation Sans', sans-serif" font-weight="bold" font-size="24.6" fill="#000">Distance from Applicator Surface (cm)</text><text transform="translate(932.4,1379.3) rotate(-90)" x="0" y="0" text-anchor="middle" font-family="'DejaVu Sans', 'Liberation Sans', sans-serif" font-weight="bold" font-size="24.6" fill="#000">PDD (%)</text><text x="1269.3" y="1881.5" text-anchor="middle" font-family="'Liberation Serif', 'DejaVu Serif', serif" font-size="47.5" fill="#000">(h)</text></svg></body></html>
